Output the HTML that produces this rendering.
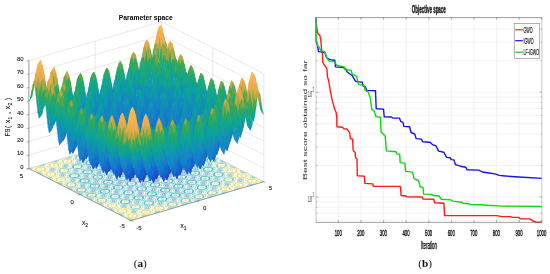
<!DOCTYPE html>
<html><head><meta charset="utf-8"><title>Figure</title>
<style>html,body{margin:0;padding:0;background:#fff}svg{display:block}.c1{fill:#3230a3;stroke:#3230a3}.c2{fill:#3035a9;stroke:#3035a9}.c3{fill:#2e3aaf;stroke:#2e3aaf}.c4{fill:#2c3fb5;stroke:#2c3fb5}.c5{fill:#2a44bb;stroke:#2a44bb}.c6{fill:#2749c0;stroke:#2749c0}.c7{fill:#234dc3;stroke:#234dc3}.c8{fill:#1f51c6;stroke:#1f51c6}.c9{fill:#1a56c9;stroke:#1a56c9}.c10{fill:#165acc;stroke:#165acc}.c11{fill:#125ecf;stroke:#125ecf}.c12{fill:#1061d0;stroke:#1061d0}.c13{fill:#1163d0;stroke:#1163d0}.c14{fill:#1165d0;stroke:#1165d0}.c15{fill:#1267d0;stroke:#1267d0}.c16{fill:#1269d0;stroke:#1269d0}.c17{fill:#136bd0;stroke:#136bd0}.c18{fill:#136dd0;stroke:#136dd0}.c19{fill:#146fd0;stroke:#146fd0}.c20{fill:#1472d0;stroke:#1472d0}.c21{fill:#1574cf;stroke:#1574cf}.c22{fill:#1677ce;stroke:#1677ce}.c23{fill:#1679ce;stroke:#1679ce}.c24{fill:#177ccd;stroke:#177ccd}.c25{fill:#187ecc;stroke:#187ecc}.c26{fill:#1881cb;stroke:#1881cb}.c27{fill:#1784c8;stroke:#1784c8}.c28{fill:#1686c4;stroke:#1686c4}.c29{fill:#1489c0;stroke:#1489c0}.c30{fill:#138cbd;stroke:#138cbd}.c31{fill:#128fb9;stroke:#128fb9}.c32{fill:#1192b5;stroke:#1192b5}.c33{fill:#1096b0;stroke:#1096b0}.c34{fill:#0f99ab;stroke:#0f99ab}.c35{fill:#0d9ca5;stroke:#0d9ca5}.c36{fill:#0ca0a0;stroke:#0ca0a0}.c37{fill:#0ea29a;stroke:#0ea29a}.c38{fill:#11a393;stroke:#11a393}.c39{fill:#13a58c;stroke:#13a58c}.c40{fill:#16a786;stroke:#16a786}.c41{fill:#19a87f;stroke:#19a87f}.c42{fill:#1fa875;stroke:#1fa875}.c43{fill:#25a86b;stroke:#25a86b}.c44{fill:#2ba860;stroke:#2ba860}.c45{fill:#33a857;stroke:#33a857}.c46{fill:#44a851;stroke:#44a851}.c47{fill:#55a84c;stroke:#55a84c}.c48{fill:#6fa847;stroke:#6fa847}.c49{fill:#97a843;stroke:#97a843}.c50{fill:#aea843;stroke:#aea843}.c51{fill:#c0a844;stroke:#c0a844}.c52{fill:#cda846;stroke:#cda846}.c53{fill:#d9a849;stroke:#d9a849}.c54{fill:#e3a94b;stroke:#e3a94b}.c55{fill:#e9ac4f;stroke:#e9ac4f}.c56{fill:#f0ae52;stroke:#f0ae52}.c57{fill:#f1af52;stroke:#f1af52}.c58{fill:#f2b151;stroke:#f2b151}.c59{fill:#f3b251;stroke:#f3b251}.c60{fill:#f4b451;stroke:#f4b451}.c61{fill:#f6b551;stroke:#f6b551}.c62{fill:#f7b650;stroke:#f7b650}.c63{fill:#f8b850;stroke:#f8b850}.c64{fill:#f7bc4d;stroke:#f7bc4d}.c65{fill:#f5c14a;stroke:#f5c14a}.c66{fill:#f4c647;stroke:#f4c647}.c67{fill:#f2cb45;stroke:#f2cb45}</style></head>
<body><svg width="550" height="274" viewBox="0 0 550 274">
<rect width="550" height="274" fill="#fff"/>
<g id="left">
<g><line x1="28.9" y1="168.5" x2="161.7" y2="129.7" stroke="#d2d2d2" stroke-width="0.5"/><line x1="161.7" y1="129.7" x2="263.8" y2="181.7" stroke="#d2d2d2" stroke-width="0.5"/><line x1="28.9" y1="155.0" x2="161.7" y2="116.2" stroke="#d2d2d2" stroke-width="0.5"/><line x1="161.7" y1="116.2" x2="263.8" y2="168.2" stroke="#d2d2d2" stroke-width="0.5"/><line x1="28.9" y1="141.5" x2="161.7" y2="102.7" stroke="#d2d2d2" stroke-width="0.5"/><line x1="161.7" y1="102.7" x2="263.8" y2="154.7" stroke="#d2d2d2" stroke-width="0.5"/><line x1="28.9" y1="128.0" x2="161.7" y2="89.2" stroke="#d2d2d2" stroke-width="0.5"/><line x1="161.7" y1="89.2" x2="263.8" y2="141.2" stroke="#d2d2d2" stroke-width="0.5"/><line x1="28.9" y1="114.5" x2="161.7" y2="75.7" stroke="#d2d2d2" stroke-width="0.5"/><line x1="161.7" y1="75.7" x2="263.8" y2="127.7" stroke="#d2d2d2" stroke-width="0.5"/><line x1="28.9" y1="101.0" x2="161.7" y2="62.2" stroke="#d2d2d2" stroke-width="0.5"/><line x1="161.7" y1="62.2" x2="263.8" y2="114.2" stroke="#d2d2d2" stroke-width="0.5"/><line x1="28.9" y1="87.5" x2="161.7" y2="48.7" stroke="#d2d2d2" stroke-width="0.5"/><line x1="161.7" y1="48.7" x2="263.8" y2="100.7" stroke="#d2d2d2" stroke-width="0.5"/><line x1="28.9" y1="74.0" x2="161.7" y2="35.2" stroke="#d2d2d2" stroke-width="0.5"/><line x1="161.7" y1="35.2" x2="263.8" y2="87.2" stroke="#d2d2d2" stroke-width="0.5"/><line x1="28.9" y1="60.5" x2="161.7" y2="21.7" stroke="#d2d2d2" stroke-width="0.5"/><line x1="161.7" y1="21.7" x2="263.8" y2="73.7" stroke="#d2d2d2" stroke-width="0.5"/><line x1="28.9" y1="168.5" x2="28.9" y2="60.5" stroke="#d2d2d2" stroke-width="0.5"/><line x1="28.9" y1="168.5" x2="131.0" y2="220.5" stroke="#d2d2d2" stroke-width="0.5"/><line x1="95.3" y1="149.1" x2="95.3" y2="41.1" stroke="#d2d2d2" stroke-width="0.5"/><line x1="95.3" y1="149.1" x2="197.4" y2="201.1" stroke="#d2d2d2" stroke-width="0.5"/><line x1="161.7" y1="129.7" x2="161.7" y2="21.7" stroke="#d2d2d2" stroke-width="0.5"/><line x1="161.7" y1="129.7" x2="263.8" y2="181.7" stroke="#d2d2d2" stroke-width="0.5"/><line x1="263.8" y1="181.7" x2="263.8" y2="73.7" stroke="#d2d2d2" stroke-width="0.5"/><line x1="131.0" y1="220.5" x2="263.8" y2="181.7" stroke="#d2d2d2" stroke-width="0.5"/><line x1="212.8" y1="155.7" x2="212.8" y2="47.7" stroke="#d2d2d2" stroke-width="0.5"/><line x1="80.0" y1="194.5" x2="212.8" y2="155.7" stroke="#d2d2d2" stroke-width="0.5"/><line x1="161.7" y1="129.7" x2="161.7" y2="21.7" stroke="#d2d2d2" stroke-width="0.5"/><line x1="28.9" y1="168.5" x2="161.7" y2="129.7" stroke="#d2d2d2" stroke-width="0.5"/></g>
<clipPath id="fl"><rect x="-5" y="-5" width="10" height="10"/></clipPath>
<g fill="none" transform="matrix(13.280,-3.880,-10.210,-5.200,146.35,175.10)" clip-path="url(#fl)"><defs><path id="rA" d="M0.310 0.000 0.296 0.048 0.254 0.119 0.192 0.192 0.119 0.254 0.048 0.296 0.000 0.310 -0.048 0.296 -0.119 0.254 -0.192 0.192 -0.254 0.119 -0.296 0.048 -0.310 0.000 -0.296 -0.048 -0.254 -0.119 -0.192 -0.192 -0.119 -0.254 -0.048 -0.296 -0.000 -0.310 0.048 -0.296 0.119 -0.254 0.192 -0.192 0.254 -0.119 0.296 -0.048z"/><path id="rN" d="M0.500 0.000 0.471 0.048 0.389 0.150 0.274 0.274 0.150 0.389 0.048 0.471 0.000 0.500 -0.048 0.471 -0.150 0.389 -0.274 0.274 -0.389 0.150 -0.471 0.048 -0.500 0.000 -0.471 -0.048 -0.389 -0.150 -0.274 -0.274 -0.150 -0.389 -0.048 -0.471 -0.000 -0.500 0.048 -0.471 0.150 -0.389 0.274 -0.274 0.389 -0.150 0.471 -0.048z"/><path id="rB" d="M0.220 0.000 0.210 0.034 0.180 0.085 0.136 0.136 0.085 0.180 0.034 0.210 0.000 0.220 -0.034 0.210 -0.085 0.180 -0.136 0.136 -0.180 0.085 -0.210 0.034 -0.220 0.000 -0.210 -0.034 -0.180 -0.085 -0.136 -0.136 -0.085 -0.180 -0.034 -0.210 -0.000 -0.220 0.034 -0.210 0.085 -0.180 0.136 -0.136 0.180 -0.085 0.210 -0.034z"/><path id="rC" d="M0.090 0.000 0.077 0.042 0.042 0.077 0.000 0.090 -0.042 0.077 -0.077 0.042 -0.090 0.000 -0.077 -0.042 -0.042 -0.077 -0.000 -0.090 0.042 -0.077 0.077 -0.042z"/></defs><use href="#rA" x="-4.5" y="-4.5" stroke="#ecd86b" stroke-width="0.105"/><use href="#rN" x="-4.5" y="-4.5" stroke="#ecd86b" stroke-width="0.04"/><use href="#rC" x="-4.5" y="-4.5" stroke="#efdb63" stroke-width="0.042"/><use href="#rA" x="-4.5" y="-3.5" stroke="#e7d876" stroke-width="0.105"/><use href="#rN" x="-4.5" y="-3.5" stroke="#e7d876" stroke-width="0.04"/><use href="#rC" x="-4.5" y="-3.5" stroke="#edd96a" stroke-width="0.042"/><use href="#rA" x="-4.5" y="-2.5" stroke="#e2d87f" stroke-width="0.105"/><use href="#rN" x="-4.5" y="-2.5" stroke="#e2d87f" stroke-width="0.04"/><use href="#rC" x="-4.5" y="-2.5" stroke="#e9d871" stroke-width="0.042"/><use href="#rA" x="-4.5" y="-1.5" stroke="#9bcd9e" stroke-width="0.105"/><use href="#rN" x="-4.5" y="-1.5" stroke="#9bcd9e" stroke-width="0.04"/><use href="#rC" x="-4.5" y="-1.5" stroke="#e6d878" stroke-width="0.042"/><use href="#rA" x="-4.5" y="-0.5" stroke="#79c7a9" stroke-width="0.105"/><use href="#rN" x="-4.5" y="-0.5" stroke="#79c7a9" stroke-width="0.04"/><use href="#rC" x="-4.5" y="-0.5" stroke="#e5d87b" stroke-width="0.042"/><use href="#rA" x="-4.5" y="0.5" stroke="#79c7a9" stroke-width="0.105"/><use href="#rN" x="-4.5" y="0.5" stroke="#79c7a9" stroke-width="0.04"/><use href="#rC" x="-4.5" y="0.5" stroke="#e5d87b" stroke-width="0.042"/><use href="#rA" x="-4.5" y="1.5" stroke="#9bcd9e" stroke-width="0.105"/><use href="#rN" x="-4.5" y="1.5" stroke="#9bcd9e" stroke-width="0.04"/><use href="#rC" x="-4.5" y="1.5" stroke="#e6d878" stroke-width="0.042"/><use href="#rA" x="-4.5" y="2.5" stroke="#e2d87f" stroke-width="0.105"/><use href="#rN" x="-4.5" y="2.5" stroke="#e2d87f" stroke-width="0.04"/><use href="#rC" x="-4.5" y="2.5" stroke="#e9d871" stroke-width="0.042"/><use href="#rA" x="-4.5" y="3.5" stroke="#e7d876" stroke-width="0.105"/><use href="#rN" x="-4.5" y="3.5" stroke="#e7d876" stroke-width="0.04"/><use href="#rC" x="-4.5" y="3.5" stroke="#edd96a" stroke-width="0.042"/><use href="#rA" x="-4.5" y="4.5" stroke="#ecd86b" stroke-width="0.105"/><use href="#rN" x="-4.5" y="4.5" stroke="#ecd86b" stroke-width="0.04"/><use href="#rC" x="-4.5" y="4.5" stroke="#efdb63" stroke-width="0.042"/><use href="#rA" x="-3.5" y="-4.5" stroke="#e7d876" stroke-width="0.105"/><use href="#rN" x="-3.5" y="-4.5" stroke="#e7d876" stroke-width="0.04"/><use href="#rC" x="-3.5" y="-4.5" stroke="#edd96a" stroke-width="0.042"/><use href="#rA" x="-3.5" y="-3.5" stroke="#9bcd9e" stroke-width="0.105"/><use href="#rN" x="-3.5" y="-3.5" stroke="#9bcd9e" stroke-width="0.04"/><use href="#rC" x="-3.5" y="-3.5" stroke="#e6d878" stroke-width="0.042"/><use href="#rA" x="-3.5" y="-2.5" stroke="#5cc0b3" stroke-width="0.105"/><use href="#rN" x="-3.5" y="-2.5" stroke="#5cc0b3" stroke-width="0.04"/><use href="#rC" x="-3.5" y="-2.5" stroke="#d7d685" stroke-width="0.042"/><use href="#rA" x="-3.5" y="-1.5" stroke="#4dbbb9" stroke-width="0.105"/><use href="#rN" x="-3.5" y="-1.5" stroke="#4dbbb9" stroke-width="0.04"/><use href="#rC" x="-3.5" y="-1.5" stroke="#8acaa3" stroke-width="0.042"/><use href="#rA" x="-3.5" y="-0.5" stroke="#4dbabb" stroke-width="0.105"/><use href="#rN" x="-3.5" y="-0.5" stroke="#4dbabb" stroke-width="0.04"/><use href="#rC" x="-3.5" y="-0.5" stroke="#6dc5ad" stroke-width="0.042"/><use href="#rA" x="-3.5" y="0.5" stroke="#4dbabb" stroke-width="0.105"/><use href="#rN" x="-3.5" y="0.5" stroke="#4dbabb" stroke-width="0.04"/><use href="#rC" x="-3.5" y="0.5" stroke="#6dc5ad" stroke-width="0.042"/><use href="#rA" x="-3.5" y="1.5" stroke="#4dbbb9" stroke-width="0.105"/><use href="#rN" x="-3.5" y="1.5" stroke="#4dbbb9" stroke-width="0.04"/><use href="#rC" x="-3.5" y="1.5" stroke="#8acaa3" stroke-width="0.042"/><use href="#rA" x="-3.5" y="2.5" stroke="#5cc0b3" stroke-width="0.105"/><use href="#rN" x="-3.5" y="2.5" stroke="#5cc0b3" stroke-width="0.04"/><use href="#rC" x="-3.5" y="2.5" stroke="#d7d685" stroke-width="0.042"/><use href="#rA" x="-3.5" y="3.5" stroke="#9bcd9e" stroke-width="0.105"/><use href="#rN" x="-3.5" y="3.5" stroke="#9bcd9e" stroke-width="0.04"/><use href="#rC" x="-3.5" y="3.5" stroke="#e6d878" stroke-width="0.042"/><use href="#rA" x="-3.5" y="4.5" stroke="#e7d876" stroke-width="0.105"/><use href="#rN" x="-3.5" y="4.5" stroke="#e7d876" stroke-width="0.04"/><use href="#rC" x="-3.5" y="4.5" stroke="#edd96a" stroke-width="0.042"/><use href="#rA" x="-2.5" y="-4.5" stroke="#e2d87f" stroke-width="0.105"/><use href="#rN" x="-2.5" y="-4.5" stroke="#e2d87f" stroke-width="0.04"/><use href="#rC" x="-2.5" y="-4.5" stroke="#e9d871" stroke-width="0.042"/><use href="#rA" x="-2.5" y="-3.5" stroke="#5cc0b3" stroke-width="0.105"/><use href="#rN" x="-2.5" y="-3.5" stroke="#5cc0b3" stroke-width="0.04"/><use href="#rC" x="-2.5" y="-3.5" stroke="#d7d685" stroke-width="0.042"/><use href="#rA" x="-2.5" y="-2.5" stroke="#4dbabb" stroke-width="0.105"/><use href="#rN" x="-2.5" y="-2.5" stroke="#4dbabb" stroke-width="0.04"/><use href="#rC" x="-2.5" y="-2.5" stroke="#6dc5ad" stroke-width="0.042"/><use href="#rA" x="-2.5" y="-1.5" stroke="#4bb8bf" stroke-width="0.105"/><use href="#rN" x="-2.5" y="-1.5" stroke="#4bb8bf" stroke-width="0.04"/><use href="#rC" x="-2.5" y="-1.5" stroke="#56beb5" stroke-width="0.042"/><use href="#rA" x="-2.5" y="-0.5" stroke="#4ab7c0" stroke-width="0.105"/><use href="#rN" x="-2.5" y="-0.5" stroke="#4ab7c0" stroke-width="0.04"/><use href="#rC" x="-2.5" y="-0.5" stroke="#4ebcb8" stroke-width="0.042"/><use href="#rA" x="-2.5" y="0.5" stroke="#4ab7c0" stroke-width="0.105"/><use href="#rN" x="-2.5" y="0.5" stroke="#4ab7c0" stroke-width="0.04"/><use href="#rC" x="-2.5" y="0.5" stroke="#4ebcb8" stroke-width="0.042"/><use href="#rA" x="-2.5" y="1.5" stroke="#4bb8bf" stroke-width="0.105"/><use href="#rN" x="-2.5" y="1.5" stroke="#4bb8bf" stroke-width="0.04"/><use href="#rC" x="-2.5" y="1.5" stroke="#56beb5" stroke-width="0.042"/><use href="#rA" x="-2.5" y="2.5" stroke="#4dbabb" stroke-width="0.105"/><use href="#rN" x="-2.5" y="2.5" stroke="#4dbabb" stroke-width="0.04"/><use href="#rC" x="-2.5" y="2.5" stroke="#6dc5ad" stroke-width="0.042"/><use href="#rA" x="-2.5" y="3.5" stroke="#5cc0b3" stroke-width="0.105"/><use href="#rN" x="-2.5" y="3.5" stroke="#5cc0b3" stroke-width="0.04"/><use href="#rC" x="-2.5" y="3.5" stroke="#d7d685" stroke-width="0.042"/><use href="#rA" x="-2.5" y="4.5" stroke="#e2d87f" stroke-width="0.105"/><use href="#rN" x="-2.5" y="4.5" stroke="#e2d87f" stroke-width="0.04"/><use href="#rC" x="-2.5" y="4.5" stroke="#e9d871" stroke-width="0.042"/><use href="#rA" x="-1.5" y="-4.5" stroke="#9bcd9e" stroke-width="0.105"/><use href="#rN" x="-1.5" y="-4.5" stroke="#9bcd9e" stroke-width="0.04"/><use href="#rC" x="-1.5" y="-4.5" stroke="#e6d878" stroke-width="0.042"/><use href="#rA" x="-1.5" y="-3.5" stroke="#4dbbb9" stroke-width="0.105"/><use href="#rN" x="-1.5" y="-3.5" stroke="#4dbbb9" stroke-width="0.04"/><use href="#rC" x="-1.5" y="-3.5" stroke="#8acaa3" stroke-width="0.042"/><use href="#rA" x="-1.5" y="-2.5" stroke="#4bb8bf" stroke-width="0.105"/><use href="#rN" x="-1.5" y="-2.5" stroke="#4bb8bf" stroke-width="0.04"/><use href="#rC" x="-1.5" y="-2.5" stroke="#56beb5" stroke-width="0.042"/><use href="#rA" x="-1.5" y="-1.5" stroke="#4ab6c2" stroke-width="0.105"/><use href="#rN" x="-1.5" y="-1.5" stroke="#4ab6c2" stroke-width="0.04"/><use href="#rC" x="-1.5" y="-1.5" stroke="#4dbbba" stroke-width="0.042"/><use href="#rA" x="-1.5" y="-0.5" stroke="#49b5c4" stroke-width="0.105"/><use href="#rN" x="-1.5" y="-0.5" stroke="#49b5c4" stroke-width="0.04"/><use href="#rC" x="-1.5" y="-0.5" stroke="#4cbabc" stroke-width="0.042"/><use href="#rA" x="-1.5" y="0.5" stroke="#49b5c4" stroke-width="0.105"/><use href="#rN" x="-1.5" y="0.5" stroke="#49b5c4" stroke-width="0.04"/><use href="#rC" x="-1.5" y="0.5" stroke="#4cbabc" stroke-width="0.042"/><use href="#rA" x="-1.5" y="1.5" stroke="#4ab6c2" stroke-width="0.105"/><use href="#rN" x="-1.5" y="1.5" stroke="#4ab6c2" stroke-width="0.04"/><use href="#rC" x="-1.5" y="1.5" stroke="#4dbbba" stroke-width="0.042"/><use href="#rA" x="-1.5" y="2.5" stroke="#4bb8bf" stroke-width="0.105"/><use href="#rN" x="-1.5" y="2.5" stroke="#4bb8bf" stroke-width="0.04"/><use href="#rC" x="-1.5" y="2.5" stroke="#56beb5" stroke-width="0.042"/><use href="#rA" x="-1.5" y="3.5" stroke="#4dbbb9" stroke-width="0.105"/><use href="#rN" x="-1.5" y="3.5" stroke="#4dbbb9" stroke-width="0.04"/><use href="#rC" x="-1.5" y="3.5" stroke="#8acaa3" stroke-width="0.042"/><use href="#rA" x="-1.5" y="4.5" stroke="#9bcd9e" stroke-width="0.105"/><use href="#rN" x="-1.5" y="4.5" stroke="#9bcd9e" stroke-width="0.04"/><use href="#rC" x="-1.5" y="4.5" stroke="#e6d878" stroke-width="0.042"/><use href="#rA" x="-0.5" y="-4.5" stroke="#79c7a9" stroke-width="0.105"/><use href="#rN" x="-0.5" y="-4.5" stroke="#79c7a9" stroke-width="0.04"/><use href="#rC" x="-0.5" y="-4.5" stroke="#e5d87b" stroke-width="0.042"/><use href="#rA" x="-0.5" y="-3.5" stroke="#4dbabb" stroke-width="0.105"/><use href="#rN" x="-0.5" y="-3.5" stroke="#4dbabb" stroke-width="0.04"/><use href="#rC" x="-0.5" y="-3.5" stroke="#6dc5ad" stroke-width="0.042"/><use href="#rA" x="-0.5" y="-2.5" stroke="#4ab7c0" stroke-width="0.105"/><use href="#rN" x="-0.5" y="-2.5" stroke="#4ab7c0" stroke-width="0.04"/><use href="#rC" x="-0.5" y="-2.5" stroke="#4ebcb8" stroke-width="0.042"/><use href="#rA" x="-0.5" y="-1.5" stroke="#49b5c4" stroke-width="0.105"/><use href="#rN" x="-0.5" y="-1.5" stroke="#49b5c4" stroke-width="0.04"/><use href="#rC" x="-0.5" y="-1.5" stroke="#4cbabc" stroke-width="0.042"/><use href="#rA" x="-0.5" y="-0.5" stroke="#48b4c6" stroke-width="0.105"/><use href="#rN" x="-0.5" y="-0.5" stroke="#48b4c6" stroke-width="0.04"/><use href="#rC" x="-0.5" y="-0.5" stroke="#4cb9be" stroke-width="0.042"/><use href="#rA" x="-0.5" y="0.5" stroke="#48b4c6" stroke-width="0.105"/><use href="#rN" x="-0.5" y="0.5" stroke="#48b4c6" stroke-width="0.04"/><use href="#rC" x="-0.5" y="0.5" stroke="#4cb9be" stroke-width="0.042"/><use href="#rA" x="-0.5" y="1.5" stroke="#49b5c4" stroke-width="0.105"/><use href="#rN" x="-0.5" y="1.5" stroke="#49b5c4" stroke-width="0.04"/><use href="#rC" x="-0.5" y="1.5" stroke="#4cbabc" stroke-width="0.042"/><use href="#rA" x="-0.5" y="2.5" stroke="#4ab7c0" stroke-width="0.105"/><use href="#rN" x="-0.5" y="2.5" stroke="#4ab7c0" stroke-width="0.04"/><use href="#rC" x="-0.5" y="2.5" stroke="#4ebcb8" stroke-width="0.042"/><use href="#rA" x="-0.5" y="3.5" stroke="#4dbabb" stroke-width="0.105"/><use href="#rN" x="-0.5" y="3.5" stroke="#4dbabb" stroke-width="0.04"/><use href="#rC" x="-0.5" y="3.5" stroke="#6dc5ad" stroke-width="0.042"/><use href="#rA" x="-0.5" y="4.5" stroke="#79c7a9" stroke-width="0.105"/><use href="#rN" x="-0.5" y="4.5" stroke="#79c7a9" stroke-width="0.04"/><use href="#rC" x="-0.5" y="4.5" stroke="#e5d87b" stroke-width="0.042"/><use href="#rA" x="0.5" y="-4.5" stroke="#79c7a9" stroke-width="0.105"/><use href="#rN" x="0.5" y="-4.5" stroke="#79c7a9" stroke-width="0.04"/><use href="#rC" x="0.5" y="-4.5" stroke="#e5d87b" stroke-width="0.042"/><use href="#rA" x="0.5" y="-3.5" stroke="#4dbabb" stroke-width="0.105"/><use href="#rN" x="0.5" y="-3.5" stroke="#4dbabb" stroke-width="0.04"/><use href="#rC" x="0.5" y="-3.5" stroke="#6dc5ad" stroke-width="0.042"/><use href="#rA" x="0.5" y="-2.5" stroke="#4ab7c0" stroke-width="0.105"/><use href="#rN" x="0.5" y="-2.5" stroke="#4ab7c0" stroke-width="0.04"/><use href="#rC" x="0.5" y="-2.5" stroke="#4ebcb8" stroke-width="0.042"/><use href="#rA" x="0.5" y="-1.5" stroke="#49b5c4" stroke-width="0.105"/><use href="#rN" x="0.5" y="-1.5" stroke="#49b5c4" stroke-width="0.04"/><use href="#rC" x="0.5" y="-1.5" stroke="#4cbabc" stroke-width="0.042"/><use href="#rA" x="0.5" y="-0.5" stroke="#48b4c6" stroke-width="0.105"/><use href="#rN" x="0.5" y="-0.5" stroke="#48b4c6" stroke-width="0.04"/><use href="#rC" x="0.5" y="-0.5" stroke="#4cb9be" stroke-width="0.042"/><use href="#rA" x="0.5" y="0.5" stroke="#48b4c6" stroke-width="0.105"/><use href="#rN" x="0.5" y="0.5" stroke="#48b4c6" stroke-width="0.04"/><use href="#rC" x="0.5" y="0.5" stroke="#4cb9be" stroke-width="0.042"/><use href="#rA" x="0.5" y="1.5" stroke="#49b5c4" stroke-width="0.105"/><use href="#rN" x="0.5" y="1.5" stroke="#49b5c4" stroke-width="0.04"/><use href="#rC" x="0.5" y="1.5" stroke="#4cbabc" stroke-width="0.042"/><use href="#rA" x="0.5" y="2.5" stroke="#4ab7c0" stroke-width="0.105"/><use href="#rN" x="0.5" y="2.5" stroke="#4ab7c0" stroke-width="0.04"/><use href="#rC" x="0.5" y="2.5" stroke="#4ebcb8" stroke-width="0.042"/><use href="#rA" x="0.5" y="3.5" stroke="#4dbabb" stroke-width="0.105"/><use href="#rN" x="0.5" y="3.5" stroke="#4dbabb" stroke-width="0.04"/><use href="#rC" x="0.5" y="3.5" stroke="#6dc5ad" stroke-width="0.042"/><use href="#rA" x="0.5" y="4.5" stroke="#79c7a9" stroke-width="0.105"/><use href="#rN" x="0.5" y="4.5" stroke="#79c7a9" stroke-width="0.04"/><use href="#rC" x="0.5" y="4.5" stroke="#e5d87b" stroke-width="0.042"/><use href="#rA" x="1.5" y="-4.5" stroke="#9bcd9e" stroke-width="0.105"/><use href="#rN" x="1.5" y="-4.5" stroke="#9bcd9e" stroke-width="0.04"/><use href="#rC" x="1.5" y="-4.5" stroke="#e6d878" stroke-width="0.042"/><use href="#rA" x="1.5" y="-3.5" stroke="#4dbbb9" stroke-width="0.105"/><use href="#rN" x="1.5" y="-3.5" stroke="#4dbbb9" stroke-width="0.04"/><use href="#rC" x="1.5" y="-3.5" stroke="#8acaa3" stroke-width="0.042"/><use href="#rA" x="1.5" y="-2.5" stroke="#4bb8bf" stroke-width="0.105"/><use href="#rN" x="1.5" y="-2.5" stroke="#4bb8bf" stroke-width="0.04"/><use href="#rC" x="1.5" y="-2.5" stroke="#56beb5" stroke-width="0.042"/><use href="#rA" x="1.5" y="-1.5" stroke="#4ab6c2" stroke-width="0.105"/><use href="#rN" x="1.5" y="-1.5" stroke="#4ab6c2" stroke-width="0.04"/><use href="#rC" x="1.5" y="-1.5" stroke="#4dbbba" stroke-width="0.042"/><use href="#rA" x="1.5" y="-0.5" stroke="#49b5c4" stroke-width="0.105"/><use href="#rN" x="1.5" y="-0.5" stroke="#49b5c4" stroke-width="0.04"/><use href="#rC" x="1.5" y="-0.5" stroke="#4cbabc" stroke-width="0.042"/><use href="#rA" x="1.5" y="0.5" stroke="#49b5c4" stroke-width="0.105"/><use href="#rN" x="1.5" y="0.5" stroke="#49b5c4" stroke-width="0.04"/><use href="#rC" x="1.5" y="0.5" stroke="#4cbabc" stroke-width="0.042"/><use href="#rA" x="1.5" y="1.5" stroke="#4ab6c2" stroke-width="0.105"/><use href="#rN" x="1.5" y="1.5" stroke="#4ab6c2" stroke-width="0.04"/><use href="#rC" x="1.5" y="1.5" stroke="#4dbbba" stroke-width="0.042"/><use href="#rA" x="1.5" y="2.5" stroke="#4bb8bf" stroke-width="0.105"/><use href="#rN" x="1.5" y="2.5" stroke="#4bb8bf" stroke-width="0.04"/><use href="#rC" x="1.5" y="2.5" stroke="#56beb5" stroke-width="0.042"/><use href="#rA" x="1.5" y="3.5" stroke="#4dbbb9" stroke-width="0.105"/><use href="#rN" x="1.5" y="3.5" stroke="#4dbbb9" stroke-width="0.04"/><use href="#rC" x="1.5" y="3.5" stroke="#8acaa3" stroke-width="0.042"/><use href="#rA" x="1.5" y="4.5" stroke="#9bcd9e" stroke-width="0.105"/><use href="#rN" x="1.5" y="4.5" stroke="#9bcd9e" stroke-width="0.04"/><use href="#rC" x="1.5" y="4.5" stroke="#e6d878" stroke-width="0.042"/><use href="#rA" x="2.5" y="-4.5" stroke="#e2d87f" stroke-width="0.105"/><use href="#rN" x="2.5" y="-4.5" stroke="#e2d87f" stroke-width="0.04"/><use href="#rC" x="2.5" y="-4.5" stroke="#e9d871" stroke-width="0.042"/><use href="#rA" x="2.5" y="-3.5" stroke="#5cc0b3" stroke-width="0.105"/><use href="#rN" x="2.5" y="-3.5" stroke="#5cc0b3" stroke-width="0.04"/><use href="#rC" x="2.5" y="-3.5" stroke="#d7d685" stroke-width="0.042"/><use href="#rA" x="2.5" y="-2.5" stroke="#4dbabb" stroke-width="0.105"/><use href="#rN" x="2.5" y="-2.5" stroke="#4dbabb" stroke-width="0.04"/><use href="#rC" x="2.5" y="-2.5" stroke="#6dc5ad" stroke-width="0.042"/><use href="#rA" x="2.5" y="-1.5" stroke="#4bb8bf" stroke-width="0.105"/><use href="#rN" x="2.5" y="-1.5" stroke="#4bb8bf" stroke-width="0.04"/><use href="#rC" x="2.5" y="-1.5" stroke="#56beb5" stroke-width="0.042"/><use href="#rA" x="2.5" y="-0.5" stroke="#4ab7c0" stroke-width="0.105"/><use href="#rN" x="2.5" y="-0.5" stroke="#4ab7c0" stroke-width="0.04"/><use href="#rC" x="2.5" y="-0.5" stroke="#4ebcb8" stroke-width="0.042"/><use href="#rA" x="2.5" y="0.5" stroke="#4ab7c0" stroke-width="0.105"/><use href="#rN" x="2.5" y="0.5" stroke="#4ab7c0" stroke-width="0.04"/><use href="#rC" x="2.5" y="0.5" stroke="#4ebcb8" stroke-width="0.042"/><use href="#rA" x="2.5" y="1.5" stroke="#4bb8bf" stroke-width="0.105"/><use href="#rN" x="2.5" y="1.5" stroke="#4bb8bf" stroke-width="0.04"/><use href="#rC" x="2.5" y="1.5" stroke="#56beb5" stroke-width="0.042"/><use href="#rA" x="2.5" y="2.5" stroke="#4dbabb" stroke-width="0.105"/><use href="#rN" x="2.5" y="2.5" stroke="#4dbabb" stroke-width="0.04"/><use href="#rC" x="2.5" y="2.5" stroke="#6dc5ad" stroke-width="0.042"/><use href="#rA" x="2.5" y="3.5" stroke="#5cc0b3" stroke-width="0.105"/><use href="#rN" x="2.5" y="3.5" stroke="#5cc0b3" stroke-width="0.04"/><use href="#rC" x="2.5" y="3.5" stroke="#d7d685" stroke-width="0.042"/><use href="#rA" x="2.5" y="4.5" stroke="#e2d87f" stroke-width="0.105"/><use href="#rN" x="2.5" y="4.5" stroke="#e2d87f" stroke-width="0.04"/><use href="#rC" x="2.5" y="4.5" stroke="#e9d871" stroke-width="0.042"/><use href="#rA" x="3.5" y="-4.5" stroke="#e7d876" stroke-width="0.105"/><use href="#rN" x="3.5" y="-4.5" stroke="#e7d876" stroke-width="0.04"/><use href="#rC" x="3.5" y="-4.5" stroke="#edd96a" stroke-width="0.042"/><use href="#rA" x="3.5" y="-3.5" stroke="#9bcd9e" stroke-width="0.105"/><use href="#rN" x="3.5" y="-3.5" stroke="#9bcd9e" stroke-width="0.04"/><use href="#rC" x="3.5" y="-3.5" stroke="#e6d878" stroke-width="0.042"/><use href="#rA" x="3.5" y="-2.5" stroke="#5cc0b3" stroke-width="0.105"/><use href="#rN" x="3.5" y="-2.5" stroke="#5cc0b3" stroke-width="0.04"/><use href="#rC" x="3.5" y="-2.5" stroke="#d7d685" stroke-width="0.042"/><use href="#rA" x="3.5" y="-1.5" stroke="#4dbbb9" stroke-width="0.105"/><use href="#rN" x="3.5" y="-1.5" stroke="#4dbbb9" stroke-width="0.04"/><use href="#rC" x="3.5" y="-1.5" stroke="#8acaa3" stroke-width="0.042"/><use href="#rA" x="3.5" y="-0.5" stroke="#4dbabb" stroke-width="0.105"/><use href="#rN" x="3.5" y="-0.5" stroke="#4dbabb" stroke-width="0.04"/><use href="#rC" x="3.5" y="-0.5" stroke="#6dc5ad" stroke-width="0.042"/><use href="#rA" x="3.5" y="0.5" stroke="#4dbabb" stroke-width="0.105"/><use href="#rN" x="3.5" y="0.5" stroke="#4dbabb" stroke-width="0.04"/><use href="#rC" x="3.5" y="0.5" stroke="#6dc5ad" stroke-width="0.042"/><use href="#rA" x="3.5" y="1.5" stroke="#4dbbb9" stroke-width="0.105"/><use href="#rN" x="3.5" y="1.5" stroke="#4dbbb9" stroke-width="0.04"/><use href="#rC" x="3.5" y="1.5" stroke="#8acaa3" stroke-width="0.042"/><use href="#rA" x="3.5" y="2.5" stroke="#5cc0b3" stroke-width="0.105"/><use href="#rN" x="3.5" y="2.5" stroke="#5cc0b3" stroke-width="0.04"/><use href="#rC" x="3.5" y="2.5" stroke="#d7d685" stroke-width="0.042"/><use href="#rA" x="3.5" y="3.5" stroke="#9bcd9e" stroke-width="0.105"/><use href="#rN" x="3.5" y="3.5" stroke="#9bcd9e" stroke-width="0.04"/><use href="#rC" x="3.5" y="3.5" stroke="#e6d878" stroke-width="0.042"/><use href="#rA" x="3.5" y="4.5" stroke="#e7d876" stroke-width="0.105"/><use href="#rN" x="3.5" y="4.5" stroke="#e7d876" stroke-width="0.04"/><use href="#rC" x="3.5" y="4.5" stroke="#edd96a" stroke-width="0.042"/><use href="#rA" x="4.5" y="-4.5" stroke="#ecd86b" stroke-width="0.105"/><use href="#rN" x="4.5" y="-4.5" stroke="#ecd86b" stroke-width="0.04"/><use href="#rC" x="4.5" y="-4.5" stroke="#efdb63" stroke-width="0.042"/><use href="#rA" x="4.5" y="-3.5" stroke="#e7d876" stroke-width="0.105"/><use href="#rN" x="4.5" y="-3.5" stroke="#e7d876" stroke-width="0.04"/><use href="#rC" x="4.5" y="-3.5" stroke="#edd96a" stroke-width="0.042"/><use href="#rA" x="4.5" y="-2.5" stroke="#e2d87f" stroke-width="0.105"/><use href="#rN" x="4.5" y="-2.5" stroke="#e2d87f" stroke-width="0.04"/><use href="#rC" x="4.5" y="-2.5" stroke="#e9d871" stroke-width="0.042"/><use href="#rA" x="4.5" y="-1.5" stroke="#9bcd9e" stroke-width="0.105"/><use href="#rN" x="4.5" y="-1.5" stroke="#9bcd9e" stroke-width="0.04"/><use href="#rC" x="4.5" y="-1.5" stroke="#e6d878" stroke-width="0.042"/><use href="#rA" x="4.5" y="-0.5" stroke="#79c7a9" stroke-width="0.105"/><use href="#rN" x="4.5" y="-0.5" stroke="#79c7a9" stroke-width="0.04"/><use href="#rC" x="4.5" y="-0.5" stroke="#e5d87b" stroke-width="0.042"/><use href="#rA" x="4.5" y="0.5" stroke="#79c7a9" stroke-width="0.105"/><use href="#rN" x="4.5" y="0.5" stroke="#79c7a9" stroke-width="0.04"/><use href="#rC" x="4.5" y="0.5" stroke="#e5d87b" stroke-width="0.042"/><use href="#rA" x="4.5" y="1.5" stroke="#9bcd9e" stroke-width="0.105"/><use href="#rN" x="4.5" y="1.5" stroke="#9bcd9e" stroke-width="0.04"/><use href="#rC" x="4.5" y="1.5" stroke="#e6d878" stroke-width="0.042"/><use href="#rA" x="4.5" y="2.5" stroke="#e2d87f" stroke-width="0.105"/><use href="#rN" x="4.5" y="2.5" stroke="#e2d87f" stroke-width="0.04"/><use href="#rC" x="4.5" y="2.5" stroke="#e9d871" stroke-width="0.042"/><use href="#rA" x="4.5" y="3.5" stroke="#e7d876" stroke-width="0.105"/><use href="#rN" x="4.5" y="3.5" stroke="#e7d876" stroke-width="0.04"/><use href="#rC" x="4.5" y="3.5" stroke="#edd96a" stroke-width="0.042"/><use href="#rA" x="4.5" y="4.5" stroke="#ecd86b" stroke-width="0.105"/><use href="#rN" x="4.5" y="4.5" stroke="#ecd86b" stroke-width="0.04"/><use href="#rC" x="4.5" y="4.5" stroke="#efdb63" stroke-width="0.042"/><use href="#rB" x="-5" y="-5" stroke="#83ceb9" stroke-width="0.055"/><use href="#rC" x="-5" y="-5" stroke="#78cac0" stroke-width="0.07"/><use href="#rB" x="-5" y="-4" stroke="#7dccbc" stroke-width="0.055"/><use href="#rC" x="-5" y="-4" stroke="#70c6cc" stroke-width="0.07"/><use href="#rB" x="-5" y="-3" stroke="#79cabf" stroke-width="0.055"/><use href="#rC" x="-5" y="-3" stroke="#73c2d4" stroke-width="0.07"/><use href="#rB" x="-5" y="-2" stroke="#75c9c4" stroke-width="0.055"/><use href="#rC" x="-5" y="-2" stroke="#75bed8" stroke-width="0.07"/><use href="#rB" x="-5" y="-1" stroke="#73c7c8" stroke-width="0.055"/><use href="#rC" x="-5" y="-1" stroke="#7ab6da" stroke-width="0.07"/><use href="#rB" x="-5" y="0" stroke="#72c7c9" stroke-width="0.055"/><use href="#rC" x="-5" y="0" stroke="#7bb4da" stroke-width="0.07"/><use href="#rB" x="-5" y="1" stroke="#73c7c8" stroke-width="0.055"/><use href="#rC" x="-5" y="1" stroke="#7ab6da" stroke-width="0.07"/><use href="#rB" x="-5" y="2" stroke="#75c9c4" stroke-width="0.055"/><use href="#rC" x="-5" y="2" stroke="#75bed8" stroke-width="0.07"/><use href="#rB" x="-5" y="3" stroke="#79cabf" stroke-width="0.055"/><use href="#rC" x="-5" y="3" stroke="#73c2d4" stroke-width="0.07"/><use href="#rB" x="-5" y="4" stroke="#7dccbc" stroke-width="0.055"/><use href="#rC" x="-5" y="4" stroke="#70c6cc" stroke-width="0.07"/><use href="#rB" x="-5" y="5" stroke="#83ceb9" stroke-width="0.055"/><use href="#rC" x="-5" y="5" stroke="#78cac0" stroke-width="0.07"/><use href="#rB" x="-4" y="-5" stroke="#7dccbc" stroke-width="0.055"/><use href="#rC" x="-4" y="-5" stroke="#70c6cc" stroke-width="0.07"/><use href="#rB" x="-4" y="-4" stroke="#78cac0" stroke-width="0.055"/><use href="#rC" x="-4" y="-4" stroke="#73c1d6" stroke-width="0.07"/><use href="#rB" x="-4" y="-3" stroke="#72c7c9" stroke-width="0.055"/><use href="#rC" x="-4" y="-3" stroke="#7bb4da" stroke-width="0.07"/><use href="#rB" x="-4" y="-2" stroke="#71c4cf" stroke-width="0.055"/><use href="#rC" x="-4" y="-2" stroke="#82a8dc" stroke-width="0.07"/><use href="#rB" x="-4" y="-1" stroke="#72c3d3" stroke-width="0.055"/><use href="#rC" x="-4" y="-1" stroke="#84a1da" stroke-width="0.07"/><use href="#rB" x="-4" y="0" stroke="#73c2d4" stroke-width="0.055"/><use href="#rC" x="-4" y="0" stroke="#859ed9" stroke-width="0.07"/><use href="#rB" x="-4" y="1" stroke="#72c3d3" stroke-width="0.055"/><use href="#rC" x="-4" y="1" stroke="#84a1da" stroke-width="0.07"/><use href="#rB" x="-4" y="2" stroke="#71c4cf" stroke-width="0.055"/><use href="#rC" x="-4" y="2" stroke="#82a8dc" stroke-width="0.07"/><use href="#rB" x="-4" y="3" stroke="#72c7c9" stroke-width="0.055"/><use href="#rC" x="-4" y="3" stroke="#7bb4da" stroke-width="0.07"/><use href="#rB" x="-4" y="4" stroke="#78cac0" stroke-width="0.055"/><use href="#rC" x="-4" y="4" stroke="#73c1d6" stroke-width="0.07"/><use href="#rB" x="-4" y="5" stroke="#7dccbc" stroke-width="0.055"/><use href="#rC" x="-4" y="5" stroke="#70c6cc" stroke-width="0.07"/><use href="#rB" x="-3" y="-5" stroke="#79cabf" stroke-width="0.055"/><use href="#rC" x="-3" y="-5" stroke="#73c2d4" stroke-width="0.07"/><use href="#rB" x="-3" y="-4" stroke="#72c7c9" stroke-width="0.055"/><use href="#rC" x="-3" y="-4" stroke="#7bb4da" stroke-width="0.07"/><use href="#rB" x="-3" y="-3" stroke="#72c3d1" stroke-width="0.055"/><use href="#rC" x="-3" y="-3" stroke="#84a3da" stroke-width="0.07"/><use href="#rB" x="-3" y="-2" stroke="#74c1d7" stroke-width="0.055"/><use href="#rC" x="-3" y="-2" stroke="#8897d6" stroke-width="0.07"/><use href="#rB" x="-3" y="-1" stroke="#77bbd9" stroke-width="0.055"/><use href="#rC" x="-3" y="-1" stroke="#8a90d4" stroke-width="0.07"/><use href="#rB" x="-3" y="0" stroke="#78b9d9" stroke-width="0.055"/><use href="#rC" x="-3" y="0" stroke="#8a8fd3" stroke-width="0.07"/><use href="#rB" x="-3" y="1" stroke="#77bbd9" stroke-width="0.055"/><use href="#rC" x="-3" y="1" stroke="#8a90d4" stroke-width="0.07"/><use href="#rB" x="-3" y="2" stroke="#74c1d7" stroke-width="0.055"/><use href="#rC" x="-3" y="2" stroke="#8897d6" stroke-width="0.07"/><use href="#rB" x="-3" y="3" stroke="#72c3d1" stroke-width="0.055"/><use href="#rC" x="-3" y="3" stroke="#84a3da" stroke-width="0.07"/><use href="#rB" x="-3" y="4" stroke="#72c7c9" stroke-width="0.055"/><use href="#rC" x="-3" y="4" stroke="#7bb4da" stroke-width="0.07"/><use href="#rB" x="-3" y="5" stroke="#79cabf" stroke-width="0.055"/><use href="#rC" x="-3" y="5" stroke="#73c2d4" stroke-width="0.07"/><use href="#rB" x="-2" y="-5" stroke="#75c9c4" stroke-width="0.055"/><use href="#rC" x="-2" y="-5" stroke="#75bed8" stroke-width="0.07"/><use href="#rB" x="-2" y="-4" stroke="#71c4cf" stroke-width="0.055"/><use href="#rC" x="-2" y="-4" stroke="#82a8dc" stroke-width="0.07"/><use href="#rB" x="-2" y="-3" stroke="#74c1d7" stroke-width="0.055"/><use href="#rC" x="-2" y="-3" stroke="#8897d6" stroke-width="0.07"/><use href="#rB" x="-2" y="-2" stroke="#7ab6da" stroke-width="0.055"/><use href="#rC" x="-2" y="-2" stroke="#8a8dd2" stroke-width="0.07"/><use href="#rB" x="-2" y="-1" stroke="#7eafdb" stroke-width="0.055"/><use href="#rC" x="-2" y="-1" stroke="#8b89d0" stroke-width="0.07"/><use href="#rB" x="-2" y="0" stroke="#7faddb" stroke-width="0.055"/><use href="#rC" x="-2" y="0" stroke="#8b88cf" stroke-width="0.07"/><use href="#rB" x="-2" y="1" stroke="#7eafdb" stroke-width="0.055"/><use href="#rC" x="-2" y="1" stroke="#8b89d0" stroke-width="0.07"/><use href="#rB" x="-2" y="2" stroke="#7ab6da" stroke-width="0.055"/><use href="#rC" x="-2" y="2" stroke="#8a8dd2" stroke-width="0.07"/><use href="#rB" x="-2" y="3" stroke="#74c1d7" stroke-width="0.055"/><use href="#rC" x="-2" y="3" stroke="#8897d6" stroke-width="0.07"/><use href="#rB" x="-2" y="4" stroke="#71c4cf" stroke-width="0.055"/><use href="#rC" x="-2" y="4" stroke="#82a8dc" stroke-width="0.07"/><use href="#rB" x="-2" y="5" stroke="#75c9c4" stroke-width="0.055"/><use href="#rC" x="-2" y="5" stroke="#75bed8" stroke-width="0.07"/><use href="#rB" x="-1" y="-5" stroke="#73c7c8" stroke-width="0.055"/><use href="#rC" x="-1" y="-5" stroke="#7ab6da" stroke-width="0.07"/><use href="#rB" x="-1" y="-4" stroke="#72c3d3" stroke-width="0.055"/><use href="#rC" x="-1" y="-4" stroke="#84a1da" stroke-width="0.07"/><use href="#rB" x="-1" y="-3" stroke="#77bbd9" stroke-width="0.055"/><use href="#rC" x="-1" y="-3" stroke="#8a90d4" stroke-width="0.07"/><use href="#rB" x="-1" y="-2" stroke="#7eafdb" stroke-width="0.055"/><use href="#rC" x="-1" y="-2" stroke="#8b89d0" stroke-width="0.07"/><use href="#rB" x="-1" y="-1" stroke="#82a8dc" stroke-width="0.055"/><use href="#rC" x="-1" y="-1" stroke="#8c85ce" stroke-width="0.07"/><use href="#rB" x="-1" y="0" stroke="#83a6db" stroke-width="0.055"/><use href="#rC" x="-1" y="0" stroke="#8c83cd" stroke-width="0.07"/><use href="#rB" x="-1" y="1" stroke="#82a8dc" stroke-width="0.055"/><use href="#rC" x="-1" y="1" stroke="#8c85ce" stroke-width="0.07"/><use href="#rB" x="-1" y="2" stroke="#7eafdb" stroke-width="0.055"/><use href="#rC" x="-1" y="2" stroke="#8b89d0" stroke-width="0.07"/><use href="#rB" x="-1" y="3" stroke="#77bbd9" stroke-width="0.055"/><use href="#rC" x="-1" y="3" stroke="#8a90d4" stroke-width="0.07"/><use href="#rB" x="-1" y="4" stroke="#72c3d3" stroke-width="0.055"/><use href="#rC" x="-1" y="4" stroke="#84a1da" stroke-width="0.07"/><use href="#rB" x="-1" y="5" stroke="#73c7c8" stroke-width="0.055"/><use href="#rC" x="-1" y="5" stroke="#7ab6da" stroke-width="0.07"/><use href="#rB" x="0" y="-5" stroke="#72c7c9" stroke-width="0.055"/><use href="#rC" x="0" y="-5" stroke="#7bb4da" stroke-width="0.07"/><use href="#rB" x="0" y="-4" stroke="#73c2d4" stroke-width="0.055"/><use href="#rC" x="0" y="-4" stroke="#859ed9" stroke-width="0.07"/><use href="#rB" x="0" y="-3" stroke="#78b9d9" stroke-width="0.055"/><use href="#rC" x="0" y="-3" stroke="#8a8fd3" stroke-width="0.07"/><use href="#rB" x="0" y="-2" stroke="#7faddb" stroke-width="0.055"/><use href="#rC" x="0" y="-2" stroke="#8b88cf" stroke-width="0.07"/><use href="#rB" x="0" y="-1" stroke="#83a6db" stroke-width="0.055"/><use href="#rC" x="0" y="-1" stroke="#8c83cd" stroke-width="0.07"/><use href="#rB" x="0" y="0" stroke="#84a3da" stroke-width="0.055"/><use href="#rC" x="0" y="0" stroke="#8c82cc" stroke-width="0.07"/><use href="#rB" x="0" y="1" stroke="#83a6db" stroke-width="0.055"/><use href="#rC" x="0" y="1" stroke="#8c83cd" stroke-width="0.07"/><use href="#rB" x="0" y="2" stroke="#7faddb" stroke-width="0.055"/><use href="#rC" x="0" y="2" stroke="#8b88cf" stroke-width="0.07"/><use href="#rB" x="0" y="3" stroke="#78b9d9" stroke-width="0.055"/><use href="#rC" x="0" y="3" stroke="#8a8fd3" stroke-width="0.07"/><use href="#rB" x="0" y="4" stroke="#73c2d4" stroke-width="0.055"/><use href="#rC" x="0" y="4" stroke="#859ed9" stroke-width="0.07"/><use href="#rB" x="0" y="5" stroke="#72c7c9" stroke-width="0.055"/><use href="#rC" x="0" y="5" stroke="#7bb4da" stroke-width="0.07"/><use href="#rB" x="1" y="-5" stroke="#73c7c8" stroke-width="0.055"/><use href="#rC" x="1" y="-5" stroke="#7ab6da" stroke-width="0.07"/><use href="#rB" x="1" y="-4" stroke="#72c3d3" stroke-width="0.055"/><use href="#rC" x="1" y="-4" stroke="#84a1da" stroke-width="0.07"/><use href="#rB" x="1" y="-3" stroke="#77bbd9" stroke-width="0.055"/><use href="#rC" x="1" y="-3" stroke="#8a90d4" stroke-width="0.07"/><use href="#rB" x="1" y="-2" stroke="#7eafdb" stroke-width="0.055"/><use href="#rC" x="1" y="-2" stroke="#8b89d0" stroke-width="0.07"/><use href="#rB" x="1" y="-1" stroke="#82a8dc" stroke-width="0.055"/><use href="#rC" x="1" y="-1" stroke="#8c85ce" stroke-width="0.07"/><use href="#rB" x="1" y="0" stroke="#83a6db" stroke-width="0.055"/><use href="#rC" x="1" y="0" stroke="#8c83cd" stroke-width="0.07"/><use href="#rB" x="1" y="1" stroke="#82a8dc" stroke-width="0.055"/><use href="#rC" x="1" y="1" stroke="#8c85ce" stroke-width="0.07"/><use href="#rB" x="1" y="2" stroke="#7eafdb" stroke-width="0.055"/><use href="#rC" x="1" y="2" stroke="#8b89d0" stroke-width="0.07"/><use href="#rB" x="1" y="3" stroke="#77bbd9" stroke-width="0.055"/><use href="#rC" x="1" y="3" stroke="#8a90d4" stroke-width="0.07"/><use href="#rB" x="1" y="4" stroke="#72c3d3" stroke-width="0.055"/><use href="#rC" x="1" y="4" stroke="#84a1da" stroke-width="0.07"/><use href="#rB" x="1" y="5" stroke="#73c7c8" stroke-width="0.055"/><use href="#rC" x="1" y="5" stroke="#7ab6da" stroke-width="0.07"/><use href="#rB" x="2" y="-5" stroke="#75c9c4" stroke-width="0.055"/><use href="#rC" x="2" y="-5" stroke="#75bed8" stroke-width="0.07"/><use href="#rB" x="2" y="-4" stroke="#71c4cf" stroke-width="0.055"/><use href="#rC" x="2" y="-4" stroke="#82a8dc" stroke-width="0.07"/><use href="#rB" x="2" y="-3" stroke="#74c1d7" stroke-width="0.055"/><use href="#rC" x="2" y="-3" stroke="#8897d6" stroke-width="0.07"/><use href="#rB" x="2" y="-2" stroke="#7ab6da" stroke-width="0.055"/><use href="#rC" x="2" y="-2" stroke="#8a8dd2" stroke-width="0.07"/><use href="#rB" x="2" y="-1" stroke="#7eafdb" stroke-width="0.055"/><use href="#rC" x="2" y="-1" stroke="#8b89d0" stroke-width="0.07"/><use href="#rB" x="2" y="0" stroke="#7faddb" stroke-width="0.055"/><use href="#rC" x="2" y="0" stroke="#8b88cf" stroke-width="0.07"/><use href="#rB" x="2" y="1" stroke="#7eafdb" stroke-width="0.055"/><use href="#rC" x="2" y="1" stroke="#8b89d0" stroke-width="0.07"/><use href="#rB" x="2" y="2" stroke="#7ab6da" stroke-width="0.055"/><use href="#rC" x="2" y="2" stroke="#8a8dd2" stroke-width="0.07"/><use href="#rB" x="2" y="3" stroke="#74c1d7" stroke-width="0.055"/><use href="#rC" x="2" y="3" stroke="#8897d6" stroke-width="0.07"/><use href="#rB" x="2" y="4" stroke="#71c4cf" stroke-width="0.055"/><use href="#rC" x="2" y="4" stroke="#82a8dc" stroke-width="0.07"/><use href="#rB" x="2" y="5" stroke="#75c9c4" stroke-width="0.055"/><use href="#rC" x="2" y="5" stroke="#75bed8" stroke-width="0.07"/><use href="#rB" x="3" y="-5" stroke="#79cabf" stroke-width="0.055"/><use href="#rC" x="3" y="-5" stroke="#73c2d4" stroke-width="0.07"/><use href="#rB" x="3" y="-4" stroke="#72c7c9" stroke-width="0.055"/><use href="#rC" x="3" y="-4" stroke="#7bb4da" stroke-width="0.07"/><use href="#rB" x="3" y="-3" stroke="#72c3d1" stroke-width="0.055"/><use href="#rC" x="3" y="-3" stroke="#84a3da" stroke-width="0.07"/><use href="#rB" x="3" y="-2" stroke="#74c1d7" stroke-width="0.055"/><use href="#rC" x="3" y="-2" stroke="#8897d6" stroke-width="0.07"/><use href="#rB" x="3" y="-1" stroke="#77bbd9" stroke-width="0.055"/><use href="#rC" x="3" y="-1" stroke="#8a90d4" stroke-width="0.07"/><use href="#rB" x="3" y="0" stroke="#78b9d9" stroke-width="0.055"/><use href="#rC" x="3" y="0" stroke="#8a8fd3" stroke-width="0.07"/><use href="#rB" x="3" y="1" stroke="#77bbd9" stroke-width="0.055"/><use href="#rC" x="3" y="1" stroke="#8a90d4" stroke-width="0.07"/><use href="#rB" x="3" y="2" stroke="#74c1d7" stroke-width="0.055"/><use href="#rC" x="3" y="2" stroke="#8897d6" stroke-width="0.07"/><use href="#rB" x="3" y="3" stroke="#72c3d1" stroke-width="0.055"/><use href="#rC" x="3" y="3" stroke="#84a3da" stroke-width="0.07"/><use href="#rB" x="3" y="4" stroke="#72c7c9" stroke-width="0.055"/><use href="#rC" x="3" y="4" stroke="#7bb4da" stroke-width="0.07"/><use href="#rB" x="3" y="5" stroke="#79cabf" stroke-width="0.055"/><use href="#rC" x="3" y="5" stroke="#73c2d4" stroke-width="0.07"/><use href="#rB" x="4" y="-5" stroke="#7dccbc" stroke-width="0.055"/><use href="#rC" x="4" y="-5" stroke="#70c6cc" stroke-width="0.07"/><use href="#rB" x="4" y="-4" stroke="#78cac0" stroke-width="0.055"/><use href="#rC" x="4" y="-4" stroke="#73c1d6" stroke-width="0.07"/><use href="#rB" x="4" y="-3" stroke="#72c7c9" stroke-width="0.055"/><use href="#rC" x="4" y="-3" stroke="#7bb4da" stroke-width="0.07"/><use href="#rB" x="4" y="-2" stroke="#71c4cf" stroke-width="0.055"/><use href="#rC" x="4" y="-2" stroke="#82a8dc" stroke-width="0.07"/><use href="#rB" x="4" y="-1" stroke="#72c3d3" stroke-width="0.055"/><use href="#rC" x="4" y="-1" stroke="#84a1da" stroke-width="0.07"/><use href="#rB" x="4" y="0" stroke="#73c2d4" stroke-width="0.055"/><use href="#rC" x="4" y="0" stroke="#859ed9" stroke-width="0.07"/><use href="#rB" x="4" y="1" stroke="#72c3d3" stroke-width="0.055"/><use href="#rC" x="4" y="1" stroke="#84a1da" stroke-width="0.07"/><use href="#rB" x="4" y="2" stroke="#71c4cf" stroke-width="0.055"/><use href="#rC" x="4" y="2" stroke="#82a8dc" stroke-width="0.07"/><use href="#rB" x="4" y="3" stroke="#72c7c9" stroke-width="0.055"/><use href="#rC" x="4" y="3" stroke="#7bb4da" stroke-width="0.07"/><use href="#rB" x="4" y="4" stroke="#78cac0" stroke-width="0.055"/><use href="#rC" x="4" y="4" stroke="#73c1d6" stroke-width="0.07"/><use href="#rB" x="4" y="5" stroke="#7dccbc" stroke-width="0.055"/><use href="#rC" x="4" y="5" stroke="#70c6cc" stroke-width="0.07"/><use href="#rB" x="5" y="-5" stroke="#83ceb9" stroke-width="0.055"/><use href="#rC" x="5" y="-5" stroke="#78cac0" stroke-width="0.07"/><use href="#rB" x="5" y="-4" stroke="#7dccbc" stroke-width="0.055"/><use href="#rC" x="5" y="-4" stroke="#70c6cc" stroke-width="0.07"/><use href="#rB" x="5" y="-3" stroke="#79cabf" stroke-width="0.055"/><use href="#rC" x="5" y="-3" stroke="#73c2d4" stroke-width="0.07"/><use href="#rB" x="5" y="-2" stroke="#75c9c4" stroke-width="0.055"/><use href="#rC" x="5" y="-2" stroke="#75bed8" stroke-width="0.07"/><use href="#rB" x="5" y="-1" stroke="#73c7c8" stroke-width="0.055"/><use href="#rC" x="5" y="-1" stroke="#7ab6da" stroke-width="0.07"/><use href="#rB" x="5" y="0" stroke="#72c7c9" stroke-width="0.055"/><use href="#rC" x="5" y="0" stroke="#7bb4da" stroke-width="0.07"/><use href="#rB" x="5" y="1" stroke="#73c7c8" stroke-width="0.055"/><use href="#rC" x="5" y="1" stroke="#7ab6da" stroke-width="0.07"/><use href="#rB" x="5" y="2" stroke="#75c9c4" stroke-width="0.055"/><use href="#rC" x="5" y="2" stroke="#75bed8" stroke-width="0.07"/><use href="#rB" x="5" y="3" stroke="#79cabf" stroke-width="0.055"/><use href="#rC" x="5" y="3" stroke="#73c2d4" stroke-width="0.07"/><use href="#rB" x="5" y="4" stroke="#7dccbc" stroke-width="0.055"/><use href="#rC" x="5" y="4" stroke="#70c6cc" stroke-width="0.07"/><use href="#rB" x="5" y="5" stroke="#83ceb9" stroke-width="0.055"/><use href="#rC" x="5" y="5" stroke="#78cac0" stroke-width="0.07"/></g>
<g transform="scale(0.25)" stroke-width="1.4" stroke-linejoin="round"><path class=c39 d=M645,235l7,7-5,7-7-7z /><path class=c42 d=M639,205l6,30-5,7-6-30z /><path class=c47 d=M632,175l7,30-5,7-7-30z /><path class=c51 d=M625,168l7,7-5,7-7-8z /><path class=c50 d=M619,191l6-23-5,6-6,24z /><path class=c45 d=M612,237l7-46-5,7-7,46z /><path class=c38 d=M605,283l7-46-5,7-7,46z /><path class=c32 d=M599,306l6-23-5,7-6,23zM592,298l7,8-5,7-7-9z /><path class=c35 d=M586,267l6,31-5,6-7-31z /><path class=c41 d=M579,235l7,32-6,6-6-31z /><path class=c44 d=M572,226l7,9-5,7-7-9z /><path class=c43 d=M566,249l6-23-5,7-7,22z /><path class=c39 d=M559,293l7-44-6,6-6,45z /><path class=c32 d=M552,338l7-45-5,7-7,44z /><path class=c27 d=M546,360l6-22-5,6-6,22z /><path class=c26 d=M539,350l7,10-5,6-7-10z /><path class=c30 d=M532,317l7,33-5,6-7-32z /><path class=c36 d=M526,285l6,32-5,7-6-33z /><path class=c39 d=M519,274l7,11-5,6-7-10zM512,295l7-21-5,7-7,21z /><path class=c34 d=M506,339l6-44-5,7-6,43z /><path class=c28 d=M499,382l7-43-5,6-7,43z /><path class=c23 d=M493,402l6-20-5,6-7,21z /><path class=c22 d=M486,391l7,11-6,7-6-12z /><path class=c26 d=M479,357l7,34-5,6-7-33z /><path class=c32 d=M473,323l6,34-5,7-6-34z /><path class=c36 d=M466,311l7,12-5,7-7-12zM459,331l7-20-5,7-7,20z /><path class=c31 d=M453,373l6-42-5,7-6,42z /><path class=c25 d=M446,415l7-42-5,7-7,41z /><path class=c20 d=M439,434l7-19-5,6-7,19zM433,421l6,13-5,6-6-12z /><path class=c24 d=M426,386l7,35-5,7-7-35z /><path class=c30 d=M420,351l6,35-5,7-7-36z /><path class=c35 d=M413,338l7,13-6,6-6-13z /><path class=c34 d=M406,356l7-18-5,6-7,19z /><path class=c30 d=M400,397l6-41-5,7-7,40z /><path class=c24 d=M393,437l7-40-6,6-6,41z /><path class=c20 d=M386,455l7-18-5,7-7,17zM380,441l6,14-5,6-6-14z /><path class=c24 d=M373,404l7,37-5,6-7-36z /><path class=c30 d=M366,368l7,36-5,7-7-37z /><path class=c35 d=M360,353l6,15-5,6-6-14zM353,370l7-17-5,7-7,17z /><path class=c30 d=M346,409l7-39-5,7-7,39z /><path class=c25 d=M340,448l6-39-5,7-6,39z /><path class=c20 d=M333,465l7-17-5,7-7,17z /><path class=c21 d=M327,450l6,15-5,7-7-16z /><path class=c25 d=M320,412l7,38-6,6-6-38z /><path class=c31 d=M313,374l7,38-5,6-7-38z /><path class=c36 d=M307,358l6,16-5,6-6-15zM300,374l7-16-5,7-7,15z /><path class=c32 d=M293,411l7-37-5,6-7,38z /><path class=c27 d=M287,449l6-38-5,7-6,38z /><path class=c23 d=M280,464l7-15-5,7-7,15zM273,448l7,16-5,7-7-17z /><path class=c28 d=M267,408l6,40-5,6-6-39z /><path class=c34 d=M260,369l7,39-5,7-7-39z /><path class=c39 d=M254,352l6,17-5,7-7-18z /><path class=c40 d=M247,366l7-14-6,6-6,15z /><path class=c36 d=M240,403l7-37-5,7-7,36z /><path class=c30 d=M234,439l6-36-5,6-7,37z /><path class=c27 d=M227,453l7-14-6,7-6,13zM220,435l7,18-5,6-7-18z /><path class=c32 d=M214,394l6,41-5,6-6-40z /><path class=c39 d=M207,354l7,40-5,7-7-41z /><path class=c44 d=M200,335l7,19-5,6-7-18z /><path class=c45 d=M194,348l6-13-5,7-6,13z /><path class=c41 d=M187,383l7-35-5,7-7,35z /><path class=c36 d=M180,418l7-35-5,7-7,35z /><path class=c32 d=M174,431l6-13-5,7-6,12z /><path class=c33 d=M167,411l7,20-5,6-7-19z /><path class=c38 d=M161,369l6,42-5,7-7-42z /><path class=c45 d=M154,327l7,42-6,7-6-42z /><path class=c50 d=M147,307l7,20-5,7-7-20z /><path class=c51 d=M141,319l6-12-5,7-6,11z /><path class=c48 d=M134,353l7-34-5,6-7,34z /><path class=c43 d=M127,386l7-33-5,6-7,34z /><path class=c39 d=M121,397l6-11-5,7-6,11z /><path class=c42 d=M650,206l7,7-5,29-7-7z /><path class=c45 d=M644,176l6,30-5,29-6-30z /><path class=c51 d=M637,146l7,30-5,29-7-30z /><path class=c54 d=M630,139l7,7-5,29-7-7z /><path class=c53 d=M624,162l6-23-5,29-6,23z /><path class=c48 d=M617,208l7-46-5,29-7,46z /><path class=c41 d=M611,254l6-46-5,29-7,46z /><path class=c36 d=M604,277l7-23-6,29-6,23z /><path class=c35 d=M597,269l7,8-5,29-7-8z /><path class=c39 d=M591,238l6,31-5,29-6-31z /><path class=c44 d=M584,206l7,32-5,29-7-32z /><path class=c48 d=M577,197l7,9-5,29-7-9z /><path class=c47 d=M571,220l6-23-5,29-6,23z /><path class=c42 d=M564,264l7-44-5,29-7,44z /><path class=c35 d=M557,309l7-45-5,29-7,45z /><path class=c30 d=M551,331l6-22-5,29-6,22zM544,321l7,10-5,29-7-10z /><path class=c33 d=M537,288l7,33-5,29-7-33z /><path class=c39 d=M531,256l6,32-5,29-6-32z /><path class=c43 d=M524,245l7,11-5,29-7-11z /><path class=c42 d=M518,266l6-21-5,29-7,21z /><path class=c37 d=M511,310l7-44-6,29-6,44z /><path class=c31 d=M504,353l7-43-5,29-7,43z /><path class=c26 d=M498,373l6-20-5,29-6,20zM491,362l7,11-5,29-7-11z /><path class=c30 d=M484,328l7,34-5,29-7-34z /><path class=c36 d=M478,294l6,34-5,29-6-34z /><path class=c40 d=M471,282l7,12-5,29-7-12z /><path class=c39 d=M464,302l7-20-5,29-7,20z /><path class=c35 d=M458,344l6-42-5,29-6,42z /><path class=c28 d=M451,386l7-42-5,29-7,42z /><path class=c24 d=M445,405l6-19-5,29-7,19zM438,392l7,13-6,29-6-13z /><path class=c28 d=M431,357l7,35-5,29-7-35z /><path class=c34 d=M425,322l6,35-5,29-6-35z /><path class=c38 d=M418,309l7,13-5,29-7-13zM411,327l7-18-5,29-7,18z /><path class=c33 d=M405,368l6-41-5,29-6,41z /><path class=c27 d=M398,408l7-40-5,29-7,40z /><path class=c23 d=M391,426l7-18-5,29-7,18zM385,412l6,14-5,29-6-14z /><path class=c27 d=M378,375l7,37-5,29-7-37z /><path class=c33 d=M371,339l7,36-5,29-7-36z /><path class=c38 d=M365,324l6,15-5,29-6-15zM358,341l7-17-5,29-7,17z /><path class=c34 d=M352,380l6-39-5,29-7,39z /><path class=c28 d=M345,419l7-39-6,29-6,39z /><path class=c24 d=M338,436l7-17-5,29-7,17zM332,421l6,15-5,29-6-15z /><path class=c28 d=M325,383l7,38-5,29-7-38z /><path class=c35 d=M318,345l7,38-5,29-7-38z /><path class=c39 d=M312,329l6,16-5,29-6-16z /><path class=c40 d=M305,345l7-16-5,29-7,16z /><path class=c36 d=M298,382l7-37-5,29-7,37z /><path class=c30 d=M292,420l6-38-5,29-6,38z /><path class=c26 d=M285,435l7-15-5,29-7,15z /><path class=c27 d=M279,419l6,16-5,29-7-16z /><path class=c31 d=M272,379l7,40-6,29-6-40z /><path class=c38 d=M265,340l7,39-5,29-7-39z /><path class=c43 d=M259,323l6,17-5,29-6-17zM252,337l7-14-5,29-7,14z /><path class=c39 d=M245,374l7-37-5,29-7,37z /><path class=c34 d=M239,410l6-36-5,29-6,36z /><path class=c30 d=M232,424l7-14-5,29-7,14z /><path class=c31 d=M225,406l7,18-5,29-7-18z /><path class=c36 d=M219,365l6,41-5,29-6-41z /><path class=c42 d=M212,324l7,41-5,29-7-40z /><path class=c47 d=M205,306l7,18-5,30-7-19z /><path class=c48 d=M199,319l6-13-5,29-6,13z /><path class=c44 d=M192,354l7-35-5,29-7,35z /><path class=c39 d=M186,389l6-35-5,29-7,35z /><path class=c36 d=M179,401l7-12-6,29-6,13zM172,382l7,19-5,30-7-20z /><path class=c42 d=M166,340l6,42-5,29-6-42z /><path class=c48 d=M159,298l7,42-5,29-7-42z /><path class=c54 d=M152,278l7,20-5,29-7-20z /><path class=c55 d=M146,290l6-12-5,29-6,12z /><path class=c51 d=M139,324l7-34-5,29-7,34z /><path class=c46 d=M132,357l7-33-5,29-7,33z /><path class=c43 d=M126,368l6-11-5,29-6,11z /><path class=c47 d=M655,177l7,7-5,29-7-7z /><path class=c51 d=M649,147l6,30-5,29-6-30z /><path class=c56 d=M642,117l7,30-5,29-7-30z /><path class=c59 d=M636,109l6,8-5,29-7-7z /><path class=c58 d=M629,133l7-24-6,30-6,23z /><path class=c53 d=M622,179l7-46-5,29-7,46z /><path class=c46 d=M616,225l6-46-5,29-6,46z /><path class=c41 d=M609,248l7-23-5,29-7,23z /><path class=c40 d=M602,239l7,9-5,29-7-8z /><path class=c44 d=M596,208l6,31-5,30-6-31z /><path class=c49 d=M589,177l7,31-5,30-7-32z /><path class=c53 d=M582,168l7,9-5,29-7-9z /><path class=c52 d=M576,190l6-22-5,29-6,23z /><path class=c47 d=M569,235l7-45-5,30-7,44z /><path class=c40 d=M563,279l6-44-5,29-7,45z /><path class=c35 d=M556,301l7-22-6,30-6,22zM549,291l7,10-5,30-7-10z /><path class=c39 d=M543,259l6,32-5,30-7-33z /><path class=c44 d=M536,226l7,33-6,29-6-32z /><path class=c48 d=M529,216l7,10-5,30-7-11z /><path class=c47 d=M523,237l6-21-5,29-6,21z /><path class=c43 d=M516,280l7-43-5,29-7,44z /><path class=c36 d=M509,323l7-43-5,30-7,43z /><path class=c31 d=M503,344l6-21-5,30-6,20zM496,333l7,11-5,29-7-11z /><path class=c35 d=M489,299l7,34-5,29-7-34z /><path class=c41 d=M483,265l6,34-5,29-6-34z /><path class=c45 d=M476,253l7,12-5,29-7-12z /><path class=c44 d=M470,273l6-20-5,29-7,20z /><path class=c40 d=M463,315l7-42-6,29-6,42z /><path class=c33 d=M456,356l7-41-5,29-7,42z /><path class=c29 d=M450,376l6-20-5,30-6,19zM443,363l7,13-5,29-7-13z /><path class=c33 d=M436,328l7,35-5,29-7-35z /><path class=c39 d=M430,293l6,35-5,29-6-35z /><path class=c43 d=M423,279l7,14-5,29-7-13zM416,298l7-19-5,30-7,18z /><path class=c39 d=M410,338l6-40-5,29-6,41z /><path class=c32 d=M403,379l7-41-5,30-7,40z /><path class=c28 d=M397,397l6-18-5,29-7,18zM390,383l7,14-6,29-6-14z /><path class=c32 d=M383,346l7,37-5,29-7-37z /><path class=c39 d=M377,309l6,37-5,29-7-36z /><path class=c43 d=M370,295l7,14-6,30-6-15zM363,312l7-17-5,29-7,17z /><path class=c39 d=M357,351l6-39-5,29-6,39z /><path class=c33 d=M350,390l7-39-5,29-7,39z /><path class=c29 d=M343,407l7-17-5,29-7,17zM337,391l6,16-5,29-6-15z /><path class=c34 d=M330,353l7,38-5,30-7-38z /><path class=c40 d=M323,315l7,38-5,30-7-38z /><path class=c45 d=M317,300l6,15-5,30-6-16zM310,315l7-15-5,29-7,16z /><path class=c41 d=M304,353l6-38-5,30-7,37z /><path class=c35 d=M297,391l7-38-6,29-6,38z /><path class=c31 d=M290,406l7-15-5,29-7,15z /><path class=c32 d=M284,389l6,17-5,29-6-16z /><path class=c36 d=M277,350l7,39-5,30-7-40z /><path class=c43 d=M270,311l7,39-5,29-7-39z /><path class=c48 d=M264,294l6,17-5,29-6-17zM257,308l7-14-5,29-7,14z /><path class=c44 d=M250,344l7-36-5,29-7,37z /><path class=c39 d=M244,381l6-37-5,30-6,36z /><path class=c35 d=M237,394l7-13-5,29-7,14z /><path class=c36 d=M231,376l6,18-5,30-7-18z /><path class=c41 d=M224,336l7,40-6,30-6-41z /><path class=c48 d=M217,295l7,41-5,29-7-41z /><path class=c52 d=M211,277l6,18-5,29-7-18z /><path class=c53 d=M204,290l7-13-6,29-6,13z /><path class=c50 d=M197,325l7-35-5,29-7,35z /><path class=c44 d=M191,360l6-35-5,29-6,35z /><path class=c41 d=M184,372l7-12-5,29-7,12z /><path class=c42 d=M177,353l7,19-5,29-7-19z /><path class=c47 d=M171,311l6,42-5,29-6-42z /><path class=c54 d=M164,269l7,42-5,29-7-42z /><path class=c59 d=M157,249l7,20-5,29-7-20z /><path class=c60 d=M151,261l6-12-5,29-6,12z /><path class=c56 d=M144,294l7-33-5,29-7,34z /><path class=c51 d=M138,328l6-34-5,30-7,33z /><path class=c48 d=M131,339l7-11-6,29-6,11z /><path class=c51 d=M661,170l6,7-5,7-7-7z /><path class=c54 d=M654,140l7,30-6,7-6-30z /><path class=c59 d=M647,110l7,30-5,7-7-30z /><path class=c62 d=M641,102l6,8-5,7-6-8zM634,126l7-24-5,7-7,24z /><path class=c56 d=M627,172l7-46-5,7-7,46z /><path class=c49 d=M621,218l6-46-5,7-6,46z /><path class=c44 d=M614,241l7-23-5,7-7,23zM607,232l7,9-5,7-7-9z /><path class=c47 d=M601,201l6,31-5,7-6-31z /><path class=c52 d=M594,170l7,31-5,7-7-31z /><path class=c56 d=M588,161l6,9-5,7-7-9z /><path class=c55 d=M581,183l7-22-6,7-6,22z /><path class=c50 d=M574,228l7-45-5,7-7,45z /><path class=c44 d=M568,272l6-44-5,7-6,44z /><path class=c39 d=M561,294l7-22-5,7-7,22z /><path class=c38 d=M554,284l7,10-5,7-7-10z /><path class=c42 d=M548,252l6,32-5,7-6-32z /><path class=c47 d=M541,219l7,33-5,7-7-33z /><path class=c51 d=M534,209l7,10-5,7-7-10zM528,230l6-21-5,7-6,21z /><path class=c46 d=M521,273l7-43-5,7-7,43z /><path class=c39 d=M514,316l7-43-5,7-7,43z /><path class=c35 d=M508,337l6-21-5,7-6,21z /><path class=c34 d=M501,326l7,11-5,7-7-11z /><path class=c38 d=M495,292l6,34-5,7-7-34z /><path class=c44 d=M488,258l7,34-6,7-6-34z /><path class=c48 d=M481,246l7,12-5,7-7-12zM475,266l6-20-5,7-6,20z /><path class=c43 d=M468,308l7-42-5,7-7,42z /><path class=c37 d=M461,349l7-41-5,7-7,41z /><path class=c32 d=M455,369l6-20-5,7-6,20zM448,356l7,13-5,7-7-13z /><path class=c36 d=M441,321l7,35-5,7-7-35z /><path class=c42 d=M435,285l6,36-5,7-6-35z /><path class=c46 d=M428,272l7,13-5,8-7-14zM422,291l6-19-5,7-7,19z /><path class=c42 d=M415,331l7-40-6,7-6,40z /><path class=c36 d=M408,372l7-41-5,7-7,41z /><path class=c32 d=M402,389l6-17-5,7-6,18zM395,375l7,14-5,8-7-14z /><path class=c36 d=M388,339l7,36-5,8-7-37z /><path class=c42 d=M382,302l6,37-5,7-6-37z /><path class=c46 d=M375,288l7,14-5,7-7-14z /><path class=c47 d=M368,305l7-17-5,7-7,17z /><path class=c42 d=M362,344l6-39-5,7-6,39z /><path class=c36 d=M355,383l7-39-5,7-7,39z /><path class=c32 d=M349,400l6-17-5,7-7,17z /><path class=c33 d=M342,384l7,16-6,7-6-16z /><path class=c37 d=M335,346l7,38-5,7-7-38z /><path class=c43 d=M329,308l6,38-5,7-7-38z /><path class=c48 d=M322,293l7,15-6,7-6-15zM315,308l7-15-5,7-7,15z /><path class=c44 d=M309,346l6-38-5,7-6,38z /><path class=c39 d=M302,384l7-38-5,7-7,38z /><path class=c35 d=M295,399l7-15-5,7-7,15zM289,382l6,17-5,7-6-17z /><path class=c40 d=M282,343l7,39-5,7-7-39z /><path class=c46 d=M275,304l7,39-5,7-7-39z /><path class=c51 d=M269,286l6,18-5,7-6-17z /><path class=c52 d=M262,301l7-15-5,8-7,14z /><path class=c48 d=M256,337l6-36-5,7-7,36z /><path class=c42 d=M249,374l7-37-6,7-6,37z /><path class=c39 d=M242,387l7-13-5,7-7,13zM236,369l6,18-5,7-6-18z /><path class=c44 d=M229,329l7,40-5,7-7-40z /><path class=c51 d=M222,288l7,41-5,7-7-41z /><path class=c56 d=M216,270l6,18-5,7-6-18z /><path class=c57 d=M209,283l7-13-5,7-7,13z /><path class=c53 d=M202,318l7-35-5,7-7,35z /><path class=c48 d=M196,353l6-35-5,7-6,35z /><path class=c44 d=M189,365l7-12-5,7-7,12z /><path class=c45 d=M183,346l6,19-5,7-7-19z /><path class=c50 d=M176,304l7,42-6,7-6-42z /><path class=c57 d=M169,262l7,42-5,7-7-42z /><path class=c62 d=M163,242l6,20-5,7-7-20z /><path class=c63 d=M156,254l7-12-6,7-6,12z /><path class=c60 d=M149,287l7-33-5,7-7,33z /><path class=c55 d=M143,321l6-34-5,7-6,34z /><path class=c51 d=M136,332l7-11-5,7-7,11z /><path class=c50 d=M666,194l6,7-5-24-6-7z /><path class=c53 d=M659,164l7,30-5-24-7-30z /><path class=c58 d=M652,134l7,30-5-24-7-30z /><path class=c62 d=M646,127l6,7-5-24-6-8z /><path class=c61 d=M639,150l7-23-5-25-7,24z /><path class=c56 d=M632,196l7-46-5-24-7,46z /><path class=c49 d=M626,242l6-46-5-24-6,46z /><path class=c43 d=M619,265l7-23-5-24-7,23zM613,257l6,8-5-24-7-9z /><path class=c46 d=M606,226l7,31-6-25-6-31z /><path class=c52 d=M599,194l7,32-5-25-7-31z /><path class=c55 d=M593,185l6,9-5-24-6-9zM586,208l7-23-5-24-7,22z /><path class=c50 d=M579,252l7-44-5-25-7,45z /><path class=c43 d=M573,297l6-45-5-24-6,44z /><path class=c38 d=M566,319l7-22-5-25-7,22z /><path class=c37 d=M559,309l7,10-5-25-7-10z /><path class=c41 d=M553,276l6,33-5-25-6-32z /><path class=c47 d=M546,244l7,32-5-24-7-33z /><path class=c50 d=M540,233l6,11-5-25-7-10zM533,254l7-21-6-24-6,21z /><path class=c45 d=M526,298l7-44-5-24-7,43z /><path class=c39 d=M520,341l6-43-5-25-7,43z /><path class=c34 d=M513,361l7-20-6-25-6,21z /><path class=c33 d=M506,350l7,11-5-24-7-11z /><path class=c37 d=M500,316l6,34-5-24-6-34z /><path class=c43 d=M493,282l7,34-5-24-7-34z /><path class=c47 d=M486,270l7,12-5-24-7-12zM480,290l6-20-5-24-6,20z /><path class=c42 d=M473,332l7-42-5-24-7,42z /><path class=c36 d=M466,374l7-42-5-24-7,41z /><path class=c31 d=M460,393l6-19-5-25-6,20zM453,380l7,13-5-24-7-13z /><path class=c35 d=M447,345l6,35-5-24-7-35z /><path class=c41 d=M440,310l7,35-6-24-6-36z /><path class=c46 d=M433,297l7,13-5-25-7-13z /><path class=c45 d=M427,315l6-18-5-25-6,19z /><path class=c41 d=M420,356l7-41-5-24-7,40z /><path class=c35 d=M413,396l7-40-5-25-7,41z /><path class=c31 d=M407,414l6-18-5-24-6,17zM400,400l7,14-5-25-7-14z /><path class=c35 d=M393,363l7,37-5-25-7-36z /><path class=c41 d=M387,327l6,36-5-24-6-37z /><path class=c46 d=M380,312l7,15-5-25-7-14zM374,329l6-17-5-24-7,17z /><path class=c41 d=M367,368l7-39-6-24-6,39z /><path class=c36 d=M360,407l7-39-5-24-7,39z /><path class=c31 d=M354,424l6-17-5-24-6,17z /><path class=c32 d=M347,409l7,15-5-24-7-16z /><path class=c36 d=M340,371l7,38-5-25-7-38z /><path class=c43 d=M334,333l6,38-5-25-6-38z /><path class=c47 d=M327,317l7,16-5-25-7-15zM320,333l7-16-5-24-7,15z /><path class=c43 d=M314,370l6-37-5-25-6,38z /><path class=c38 d=M307,408l7-38-5-24-7,38z /><path class=c34 d=M300,423l7-15-5-24-7,15zM294,407l6,16-5-24-6-17z /><path class=c39 d=M287,367l7,40-5-25-7-39z /><path class=c45 d=M281,328l6,39-5-24-7-39z /><path class=c50 d=M274,311l7,17-6-24-6-18z /><path class=c51 d=M267,325l7-14-5-25-7,15z /><path class=c47 d=M261,362l6-37-5-24-6,36z /><path class=c41 d=M254,398l7-36-5-25-7,37z /><path class=c38 d=M247,412l7-14-5-24-7,13zM241,394l6,18-5-25-6-18z /><path class=c43 d=M234,353l7,41-5-25-7-40z /><path class=c50 d=M227,313l7,40-5-24-7-41z /><path class=c55 d=M221,294l6,19-5-25-6-18z /><path class=c56 d=M214,307l7-13-5-24-7,13z /><path class=c52 d=M208,342l6-35-5-24-7,35z /><path class=c47 d=M201,377l7-35-6-24-6,35z /><path class=c43 d=M194,390l7-13-5-24-7,12z /><path class=c44 d=M188,370l6,20-5-25-6-19z /><path class=c49 d=M181,328l7,42-5-24-7-42z /><path class=c56 d=M174,286l7,42-5-24-7-42z /><path class=c61 d=M168,266l6,20-5-24-6-20z /><path class=c62 d=M161,278l7-12-5-24-7,12z /><path class=c59 d=M154,312l7-34-5-24-7,33z /><path class=c54 d=M148,345l6-33-5-25-6,34z /><path class=c50 d=M141,356l7-11-5-24-7,11z /><path class=c45 d=M671,241l6,7-5-47-6-7z /><path class=c48 d=M664,211l7,30-5-47-7-30z /><path class=c53 d=M658,181l6,30-5-47-7-30z /><path class=c56 d=M651,173l7,8-6-47-6-7zM644,197l7-24-5-46-7,23z /><path class=c50 d=M638,243l6-46-5-47-7,46z /><path class=c43 d=M631,289l7-46-6-47-6,46z /><path class=c38 d=M624,312l7-23-5-47-7,23zM618,303l6,9-5-47-6-8z /><path class=c41 d=M611,272l7,31-5-46-7-31z /><path class=c46 d=M604,241l7,31-5-46-7-32z /><path class=c50 d=M598,232l6,9-5-47-6-9z /><path class=c49 d=M591,254l7-22-5-47-7,23z /><path class=c44 d=M584,299l7-45-5-46-7,44z /><path class=c38 d=M578,343l6-44-5-47-6,45z /><path class=c33 d=M571,365l7-22-5-46-7,22z /><path class=c32 d=M565,355l6,10-5-46-7-10z /><path class=c36 d=M558,323l7,32-6-46-6-33z /><path class=c41 d=M551,290l7,33-5-47-7-32z /><path class=c45 d=M545,280l6,10-5-46-6-11zM538,301l7-21-5-47-7,21z /><path class=c40 d=M531,344l7-43-5-47-7,44z /><path class=c33 d=M525,387l6-43-5-46-6,43z /><path class=c29 d=M518,408l7-21-5-46-7,20z /><path class=c28 d=M511,397l7,11-5-47-7-11z /><path class=c32 d=M505,363l6,34-5-47-6-34z /><path class=c38 d=M498,329l7,34-5-47-7-34z /><path class=c42 d=M492,317l6,12-5-47-7-12zM485,337l7-20-6-47-6,20z /><path class=c37 d=M478,379l7-42-5-47-7,42z /><path class=c31 d=M472,420l6-41-5-47-7,42z /><path class=c26 d=M465,440l7-20-6-46-6,19zM458,427l7,13-5-47-7-13z /><path class=c30 d=M452,392l6,35-5-47-6-35z /><path class=c36 d=M445,356l7,36-5-47-7-35z /><path class=c40 d=M438,343l7,13-5-46-7-13zM432,362l6-19-5-46-6,18z /><path class=c36 d=M425,402l7-40-5-47-7,41z /><path class=c30 d=M418,443l7-41-5-46-7,40z /><path class=c25 d=M412,460l6-17-5-47-6,18zM405,447l7,13-5-46-7-14z /><path class=c30 d=M399,410l6,37-5-47-7-37z /><path class=c36 d=M392,373l7,37-6-47-6-36z /><path class=c40 d=M385,359l7,14-5-46-7-15zM379,376l6-17-5-47-6,17z /><path class=c36 d=M372,415l7-39-5-47-7,39z /><path class=c30 d=M365,454l7-39-5-47-7,39z /><path class=c26 d=M359,471l6-17-5-47-6,17zM352,455l7,16-5-47-7-15z /><path class=c31 d=M345,417l7,38-5-46-7-38z /><path class=c37 d=M339,379l6,38-5-46-6-38z /><path class=c42 d=M332,364l7,15-5-46-7-16zM326,379l6-15-5-47-7,16z /><path class=c38 d=M319,417l7-38-6-46-6,37z /><path class=c33 d=M312,455l7-38-5-47-7,38z /><path class=c29 d=M306,470l6-15-5-47-7,15zM299,453l7,17-6-47-6-16z /><path class=c34 d=M292,414l7,39-5-46-7-40z /><path class=c40 d=M286,375l6,39-5-47-6-39z /><path class=c45 d=M279,358l7,17-5-47-7-17z /><path class=c46 d=M272,372l7-14-5-47-7,14z /><path class=c42 d=M266,408l6-36-5-47-6,37z /><path class=c36 d=M259,445l7-37-5-46-7,36z /><path class=c33 d=M252,458l7-13-5-47-7,14zM246,440l6,18-5-46-6-18z /><path class=c38 d=M239,400l7,40-5-46-7-41z /><path class=c45 d=M233,359l6,41-5-47-7-40z /><path class=c50 d=M226,341l7,18-6-46-6-19z /><path class=c51 d=M219,354l7-13-5-47-7,13z /><path class=c47 d=M213,389l6-35-5-47-6,35z /><path class=c42 d=M206,424l7-35-5-47-7,35z /><path class=c38 d=M199,436l7-12-5-47-7,13z /><path class=c39 d=M193,417l6,19-5-46-6-20z /><path class=c44 d=M186,375l7,42-5-47-7-42z /><path class=c51 d=M179,333l7,42-5-47-7-42z /><path class=c56 d=M173,313l6,20-5-47-6-20z /><path class=c57 d=M166,325l7-12-5-47-7,12z /><path class=c54 d=M160,358l6-33-5-47-7,34z /><path class=c49 d=M153,392l7-34-6-46-6,33z /><path class=c45 d=M146,403l7-11-5-47-7,11z /><path class=c38 d=M676,287l7,7-6-46-6-7z /><path class=c41 d=M669,257l7,30-5-46-7-30z /><path class=c46 d=M663,227l6,30-5-46-6-30z /><path class=c49 d=M656,220l7,7-5-46-7-8zM649,243l7-23-5-47-7,24z /><path class=c43 d=M643,289l6-46-5-46-6,46z /><path class=c37 d=M636,335l7-46-5-46-7,46z /><path class=c31 d=M629,358l7-23-5-46-7,23zM623,350l6,8-5-46-6-9z /><path class=c34 d=M616,319l7,31-5-47-7-31z /><path class=c40 d=M609,287l7,32-5-47-7-31z /><path class=c43 d=M603,278l6,9-5-46-6-9z /><path class=c42 d=M596,301l7-23-5-46-7,22z /><path class=c37 d=M590,345l6-44-5-47-7,45z /><path class=c31 d=M583,390l7-45-6-46-6,44z /><path class=c26 d=M576,412l7-22-5-47-7,22z /><path class=c25 d=M570,402l6,10-5-47-6-10z /><path class=c29 d=M563,369l7,33-5-47-7-32z /><path class=c35 d=M556,337l7,32-5-46-7-33z /><path class=c38 d=M550,326l6,11-5-47-6-10zM543,347l7-21-5-46-7,21z /><path class=c33 d=M536,391l7-44-5-46-7,43z /><path class=c27 d=M530,434l6-43-5-47-6,43z /><path class=c22 d=M523,454l7-20-5-47-7,21z /><path class=c21 d=M517,443l6,11-5-46-7-11z /><path class=c25 d=M510,409l7,34-6-46-6-34z /><path class=c31 d=M503,375l7,34-5-46-7-34z /><path class=c35 d=M497,363l6,12-5-46-6-12zM490,383l7-20-5-46-7,20z /><path class=c30 d=M483,425l7-42-5-46-7,42z /><path class=c24 d=M477,467l6-42-5-46-6,41z /><path class=c19 d=M470,486l7-19-5-47-7,20zM463,473l7,13-5-46-7-13z /><path class=c23 d=M457,438l6,35-5-46-6-35z /><path class=c29 d=M450,403l7,35-5-46-7-36z /><path class=c33 d=M443,390l7,13-5-47-7-13zM437,408l6-18-5-47-6,19z /><path class=c29 d=M430,449l7-41-5-46-7,40z /><path class=c23 d=M424,489l6-40-5-47-7,41z /><path class=c19 d=M417,507l7-18-6-46-6,17zM410,493l7,14-5-47-7-13z /><path class=c23 d=M404,456l6,37-5-46-6-37z /><path class=c29 d=M397,420l7,36-5-46-7-37z /><path class=c33 d=M390,405l7,15-5-47-7-14z /><path class=c34 d=M384,422l6-17-5-46-6,17z /><path class=c29 d=M377,462l7-40-5-46-7,39z /><path class=c23 d=M370,501l7-39-5-47-7,39z /><path class=c19 d=M364,517l6-16-5-47-6,17z /><path class=c20 d=M357,502l7,15-5-46-7-16z /><path class=c24 d=M351,464l6,38-5-47-7-38z /><path class=c30 d=M344,426l7,38-6-47-6-38z /><path class=c35 d=M337,410l7,16-5-47-7-15zM331,426l6-16-5-46-6,15z /><path class=c31 d=M324,464l7-38-5-47-7,38z /><path class=c26 d=M317,501l7-37-5-47-7,38z /><path class=c22 d=M311,516l6-15-5-46-6,15zM304,500l7,16-5-46-7-17z /><path class=c27 d=M297,460l7,40-5-47-7-39z /><path class=c33 d=M291,421l6,39-5-46-6-39z /><path class=c38 d=M284,404l7,17-5-46-7-17z /><path class=c39 d=M277,418l7-14-5-46-7,14z /><path class=c35 d=M271,455l6-37-5-46-6,36z /><path class=c29 d=M264,491l7-36-5-47-7,37z /><path class=c26 d=M258,505l6-14-5-46-7,13zM251,487l7,18-6-47-6-18z /><path class=c31 d=M244,446l7,41-5-47-7-40z /><path class=c38 d=M238,406l6,40-5-46-6-41z /><path class=c43 d=M231,387l7,19-5-47-7-18z /><path class=c44 d=M224,400l7-13-5-46-7,13z /><path class=c40 d=M218,435l6-35-5-46-6,35z /><path class=c35 d=M211,470l7-35-5-46-7,35z /><path class=c31 d=M204,483l7-13-5-46-7,12z /><path class=c32 d=M198,463l6,20-5-47-6-19z /><path class=c37 d=M191,421l7,42-5-46-7-42z /><path class=c44 d=M185,379l6,42-5-46-7-42z /><path class=c49 d=M178,359l7,20-6-46-6-20z /><path class=c50 d=M171,371l7-12-5-46-7,12z /><path class=c47 d=M165,405l6-34-5-46-6,33z /><path class=c42 d=M158,438l7-33-5-47-7,34z /><path class=c38 d=M151,449l7-11-5-46-7,11z /><path class=c32 d=M681,311l7,7-5-24-7-7z /><path class=c36 d=M674,281l7,30-5-24-7-30z /><path class=c41 d=M668,251l6,30-5-24-6-30z /><path class=c44 d=M661,244l7,7-5-24-7-7z /><path class=c43 d=M654,267l7-23-5-24-7,23z /><path class=c38 d=M648,313l6-46-5-24-6,46z /><path class=c31 d=M641,359l7-46-5-24-7,46z /><path class=c26 d=M635,382l6-23-5-24-7,23zM628,374l7,8-6-24-6-8z /><path class=c29 d=M621,343l7,31-5-24-7-31z /><path class=c34 d=M615,311l6,32-5-24-7-32z /><path class=c38 d=M608,302l7,9-6-24-6-9z /><path class=c37 d=M601,325l7-23-5-24-7,23z /><path class=c32 d=M595,369l6-44-5-24-6,44z /><path class=c26 d=M588,414l7-45-5-24-7,45z /><path class=c21 d=M581,436l7-22-5-24-7,22z /><path class=c20 d=M575,426l6,10-5-24-6-10z /><path class=c24 d=M568,393l7,33-5-24-7-33z /><path class=c29 d=M561,361l7,32-5-24-7-32z /><path class=c33 d=M555,350l6,11-5-24-6-11zM548,371l7-21-5-24-7,21z /><path class=c28 d=M542,415l6-44-5-24-7,44z /><path class=c21 d=M535,458l7-43-6-24-6,43z /><path class=c17 d=M528,478l7-20-5-24-7,20z /><path class=c16 d=M522,467l6,11-5-24-6-11z /><path class=c20 d=M515,433l7,34-5-24-7-34z /><path class=c26 d=M508,399l7,34-5-24-7-34z /><path class=c30 d=M502,387l6,12-5-24-6-12zM495,407l7-20-5-24-7,20z /><path class=c25 d=M488,449l7-42-5-24-7,42z /><path class=c19 d=M482,491l6-42-5-24-6,42z /><path class=c14 d=M475,510l7-19-5-24-7,19zM469,497l6,13-5-24-7-13z /><path class=c18 d=M462,462l7,35-6-24-6-35z /><path class=c24 d=M455,427l7,35-5-24-7-35z /><path class=c28 d=M449,414l6,13-5-24-7-13zM442,432l7-18-6-24-6,18z /><path class=c24 d=M435,473l7-41-5-24-7,41z /><path class=c18 d=M429,513l6-40-5-24-6,40z /><path class=c13 d=M422,531l7-18-5-24-7,18zM415,517l7,14-5-24-7-14z /><path class=c18 d=M409,480l6,37-5-24-6-37z /><path class=c24 d=M402,444l7,36-5-24-7-36z /><path class=c28 d=M395,429l7,15-5-24-7-15zM389,446l6-17-5-24-6,17z /><path class=c24 d=M382,485l7-39-5-24-7,40z /><path class=c18 d=M376,524l6-39-5-23-7,39z /><path class=c14 d=M369,541l7-17-6-23-6,16zM362,526l7,15-5-24-7-15z /><path class=c19 d=M356,488l6,38-5-24-6-38z /><path class=c25 d=M349,450l7,38-5-24-7-38z /><path class=c30 d=M342,434l7,16-5-24-7-16zM336,450l6-16-5-24-6,16z /><path class=c26 d=M329,487l7-37-5-24-7,38z /><path class=c21 d=M322,525l7-38-5-23-7,37z /><path class=c17 d=M316,540l6-15-5-24-6,15zM309,524l7,16-5-24-7-16z /><path class=c22 d=M303,484l6,40-5-24-7-40z /><path class=c28 d=M296,445l7,39-6-24-6-39z /><path class=c33 d=M289,428l7,17-5-24-7-17z /><path class=c34 d=M283,442l6-14-5-24-7,14z /><path class=c30 d=M276,479l7-37-6-24-6,37z /><path class=c24 d=M269,515l7-36-5-24-7,36z /><path class=c21 d=M263,529l6-14-5-24-6,14zM256,511l7,18-5-24-7-18z /><path class=c26 d=M249,470l7,41-5-24-7-41z /><path class=c33 d=M243,429l6,41-5-24-6-40z /><path class=c38 d=M236,411l7,18-5-23-7-19z /><path class=c39 d=M229,424l7-13-5-24-7,13z /><path class=c35 d=M223,459l6-35-5-24-6,35z /><path class=c30 d=M216,494l7-35-5-24-7,35z /><path class=c26 d=M210,506l6-12-5-24-7,13z /><path class=c27 d=M203,487l7,19-6-23-6-20z /><path class=c32 d=M196,445l7,42-5-24-7-42z /><path class=c39 d=M190,403l6,42-5-24-6-42z /><path class=c44 d=M183,383l7,20-5-24-7-20z /><path class=c45 d=M176,395l7-12-5-24-7,12z /><path class=c42 d=M170,429l6-34-5-24-6,34z /><path class=c37 d=M163,462l7-33-5-24-7,33z /><path class=c33 d=M156,473l7-11-5-24-7,11z /><path class=c32 d=M686,303l7,7-5,8-7-7z /><path class=c35 d=M679,273l7,30-5,8-7-30z /><path class=c40 d=M673,243l6,30-5,8-6-30z /><path class=c44 d=M666,236l7,7-5,8-7-7z /><path class=c43 d=M660,259l6-23-5,8-7,23z /><path class=c38 d=M653,305l7-46-6,8-6,46z /><path class=c31 d=M646,351l7-46-5,8-7,46z /><path class=c26 d=M640,374l6-23-5,8-6,23z /><path class=c25 d=M633,366l7,8-5,8-7-8z /><path class=c28 d=M626,335l7,31-5,8-7-31z /><path class=c34 d=M620,303l6,32-5,8-6-32z /><path class=c37 d=M613,294l7,9-5,8-7-9zM606,317l7-23-5,8-7,23z /><path class=c32 d=M600,361l6-44-5,8-6,44z /><path class=c25 d=M593,406l7-45-5,8-7,45z /><path class=c20 d=M587,428l6-22-5,8-7,22z /><path class=c19 d=M580,418l7,10-6,8-6-10z /><path class=c23 d=M573,385l7,33-5,8-7-33z /><path class=c29 d=M567,353l6,32-5,8-7-32z /><path class=c32 d=M560,342l7,11-6,8-6-11zM553,363l7-21-5,8-7,21z /><path class=c27 d=M547,407l6-44-5,8-6,44z /><path class=c21 d=M540,450l7-43-5,8-7,43z /><path class=c16 d=M533,470l7-20-5,8-7,20zM527,459l6,11-5,8-6-11z /><path class=c19 d=M520,425l7,34-5,8-7-34z /><path class=c25 d=M513,391l7,34-5,8-7-34z /><path class=c29 d=M507,379l6,12-5,8-6-12zM500,399l7-20-5,8-7,20z /><path class=c24 d=M494,441l6-42-5,8-7,42z /><path class=c18 d=M487,483l7-42-6,8-6,42z /><path class=c13 d=M480,502l7-19-5,8-7,19zM474,489l6,13-5,8-6-13z /><path class=c17 d=M467,454l7,35-5,8-7-35z /><path class=c23 d=M460,419l7,35-5,8-7-35z /><path class=c28 d=M454,406l6,13-5,8-6-13z /><path class=c27 d=M447,424l7-18-5,8-7,18z /><path class=c23 d=M440,465l7-41-5,8-7,41z /><path class=c17 d=M434,505l6-40-5,8-6,40z /><path class=c13 d=M427,523l7-18-5,8-7,18zM421,509l6,14-5,8-7-14z /><path class=c17 d=M414,472l7,37-6,8-6-37z /><path class=c23 d=M407,436l7,36-5,8-7-36z /><path class=c28 d=M401,421l6,15-5,8-7-15zM394,438l7-17-6,8-6,17z /><path class=c23 d=M387,478l7-40-5,8-7,39z /><path class=c18 d=M381,517l6-39-5,7-6,39z /><path class=c13 d=M374,533l7-16-5,7-7,17z /><path class=c14 d=M367,518l7,15-5,8-7-15z /><path class=c18 d=M361,480l6,38-5,8-6-38z /><path class=c25 d=M354,442l7,38-5,8-7-38z /><path class=c29 d=M347,426l7,16-5,8-7-16zM341,442l6-16-5,8-6,16z /><path class=c25 d=M334,480l7-38-5,8-7,37z /><path class=c20 d=M328,517l6-37-5,7-7,38z /><path class=c16 d=M321,532l7-15-6,8-6,15zM314,516l7,16-5,8-7-16z /><path class=c21 d=M308,476l6,40-5,8-6-40z /><path class=c27 d=M301,437l7,39-5,8-7-39z /><path class=c32 d=M294,420l7,17-5,8-7-17z /><path class=c33 d=M288,434l6-14-5,8-6,14z /><path class=c29 d=M281,471l7-37-5,8-7,37z /><path class=c23 d=M274,507l7-36-5,8-7,36z /><path class=c20 d=M268,521l6-14-5,8-6,14zM261,503l7,18-5,8-7-18z /><path class=c25 d=M255,462l6,41-5,8-7-41z /><path class=c32 d=M248,422l7,40-6,8-6-41z /><path class=c37 d=M241,403l7,19-5,7-7-18z /><path class=c38 d=M235,416l6-13-5,8-7,13z /><path class=c34 d=M228,451l7-35-6,8-6,35z /><path class=c29 d=M221,486l7-35-5,8-7,35z /><path class=c25 d=M215,499l6-13-5,8-6,12z /><path class=c26 d=M208,479l7,20-5,7-7-19z /><path class=c31 d=M201,437l7,42-5,8-7-42z /><path class=c38 d=M195,395l6,42-5,8-6-42z /><path class=c43 d=M188,375l7,20-5,8-7-20z /><path class=c44 d=M181,387l7-12-5,8-7,12z /><path class=c41 d=M175,421l6-34-5,8-6,34z /><path class=c36 d=M168,454l7-33-5,8-7,33z /><path class=c32 d=M162,465l6-11-5,8-7,11z /><path class=c35 d=M691,273l7,7-5,30-7-7z /><path class=c39 d=M685,243l6,30-5,30-7-30z /><path class=c44 d=M678,213l7,30-6,30-6-30z /><path class=c47 d=M671,205l7,8-5,30-7-7z /><path class=c46 d=M665,229l6-24-5,31-6,23z /><path class=c41 d=M658,275l7-46-5,30-7,46z /><path class=c34 d=M651,321l7-46-5,30-7,46z /><path class=c29 d=M645,344l6-23-5,30-6,23z /><path class=c28 d=M638,335l7,9-5,30-7-8z /><path class=c32 d=M631,304l7,31-5,31-7-31z /><path class=c37 d=M625,273l6,31-5,31-6-32z /><path class=c41 d=M618,264l7,9-5,30-7-9z /><path class=c40 d=M612,286l6-22-5,30-7,23z /><path class=c35 d=M605,331l7-45-6,31-6,44z /><path class=c28 d=M598,375l7-44-5,30-7,45z /><path class=c23 d=M592,397l6-22-5,31-6,22zM585,387l7,10-5,31-7-10z /><path class=c27 d=M578,355l7,32-5,31-7-33z /><path class=c32 d=M572,322l6,33-5,30-6-32z /><path class=c36 d=M565,312l7,10-5,31-7-11z /><path class=c35 d=M558,333l7-21-5,30-7,21z /><path class=c31 d=M552,376l6-43-5,30-6,44z /><path class=c24 d=M545,419l7-43-5,31-7,43z /><path class=c19 d=M538,440l7-21-5,31-7,20zM532,429l6,11-5,30-6-11z /><path class=c23 d=M525,395l7,34-5,30-7-34z /><path class=c29 d=M519,361l6,34-5,30-7-34z /><path class=c33 d=M512,349l7,12-6,30-6-12z /><path class=c32 d=M505,369l7-20-5,30-7,20z /><path class=c28 d=M499,411l6-42-5,30-6,42z /><path class=c22 d=M492,452l7-41-5,30-7,42z /><path class=c17 d=M485,472l7-20-5,31-7,19zM479,459l6,13-5,30-6-13z /><path class=c21 d=M472,424l7,35-5,30-7-35z /><path class=c27 d=M465,388l7,36-5,30-7-35z /><path class=c31 d=M459,375l6,13-5,31-6-13zM452,394l7-19-5,31-7,18z /><path class=c27 d=M446,434l6-40-5,30-7,41z /><path class=c21 d=M439,475l7-41-6,31-6,40z /><path class=c16 d=M432,492l7-17-5,30-7,18zM426,479l6,13-5,31-6-14z /><path class=c21 d=M419,442l7,37-5,30-7-37z /><path class=c27 d=M412,405l7,37-5,30-7-36z /><path class=c31 d=M406,391l6,14-5,31-6-15zM399,408l7-17-5,30-7,17z /><path class=c27 d=M392,447l7-39-5,30-7,40z /><path class=c21 d=M386,486l6-39-5,31-6,39z /><path class=c17 d=M379,503l7-17-5,31-7,16zM372,487l7,16-5,30-7-15z /><path class=c22 d=M366,449l6,38-5,31-6-38z /><path class=c28 d=M359,411l7,38-5,31-7-38z /><path class=c33 d=M353,396l6,15-5,31-7-16zM346,411l7-15-6,30-6,16z /><path class=c29 d=M339,449l7-38-5,31-7,38z /><path class=c23 d=M333,487l6-38-5,31-6,37z /><path class=c19 d=M326,502l7-15-5,30-7,15z /><path class=c20 d=M319,485l7,17-5,30-7-16z /><path class=c24 d=M313,446l6,39-5,31-6-40z /><path class=c31 d=M306,407l7,39-5,30-7-39z /><path class=c36 d=M299,390l7,17-5,30-7-17zM293,404l6-14-5,30-6,14z /><path class=c33 d=M286,440l7-36-5,30-7,37z /><path class=c27 d=M280,477l6-37-5,31-7,36z /><path class=c23 d=M273,490l7-13-6,30-6,14z /><path class=c24 d=M266,472l7,18-5,31-7-18z /><path class=c29 d=M260,432l6,40-5,31-6-41z /><path class=c36 d=M253,391l7,41-5,30-7-40z /><path class=c41 d=M246,373l7,18-5,31-7-19zM240,386l6-13-5,30-6,13z /><path class=c38 d=M233,421l7-35-5,30-7,35z /><path class=c32 d=M226,456l7-35-5,30-7,35z /><path class=c29 d=M220,468l6-12-5,30-6,13z /><path class=c30 d=M213,449l7,19-5,31-7-20z /><path class=c35 d=M206,407l7,42-5,30-7-42z /><path class=c42 d=M200,365l6,42-5,30-6-42z /><path class=c47 d=M193,345l7,20-5,30-7-20z /><path class=c48 d=M187,357l6-12-5,30-7,12z /><path class=c44 d=M180,390l7-33-6,30-6,34z /><path class=c39 d=M173,424l7-34-5,31-7,33z /><path class=c36 d=M167,435l6-11-5,30-6,11z /><path class=c41 d=M696,242l7,7-5,31-7-7z /><path class=c44 d=M690,212l6,30-5,31-6-30z /><path class=c49 d=M683,182l7,30-5,31-7-30z /><path class=c52 d=M676,175l7,7-5,31-7-8zM670,198l6-23-5,30-6,24z /><path class=c46 d=M663,244l7-46-5,31-7,46z /><path class=c40 d=M656,290l7-46-5,31-7,46z /><path class=c34 d=M650,313l6-23-5,31-6,23zM643,305l7,8-5,31-7-9z /><path class=c37 d=M637,274l6,31-5,30-7-31z /><path class=c43 d=M630,242l7,32-6,30-6-31z /><path class=c46 d=M623,233l7,9-5,31-7-9z /><path class=c45 d=M617,256l6-23-5,31-6,22z /><path class=c40 d=M610,300l7-44-5,30-7,45z /><path class=c34 d=M603,345l7-45-5,31-7,44z /><path class=c29 d=M597,367l6-22-5,30-6,22z /><path class=c28 d=M590,357l7,10-5,30-7-10z /><path class=c32 d=M583,324l7,33-5,30-7-32z /><path class=c38 d=M577,292l6,32-5,31-6-33z /><path class=c41 d=M570,281l7,11-5,30-7-10zM564,302l6-21-5,31-7,21z /><path class=c36 d=M557,346l7-44-6,31-6,43z /><path class=c30 d=M550,389l7-43-5,30-7,43z /><path class=c25 d=M544,409l6-20-5,30-7,21z /><path class=c24 d=M537,398l7,11-6,31-6-11z /><path class=c28 d=M530,364l7,34-5,31-7-34z /><path class=c34 d=M524,330l6,34-5,31-6-34z /><path class=c38 d=M517,318l7,12-5,31-7-12zM510,338l7-20-5,31-7,20z /><path class=c33 d=M504,380l6-42-5,31-6,42z /><path class=c27 d=M497,422l7-42-5,31-7,41z /><path class=c22 d=M490,441l7-19-5,30-7,20zM484,428l6,13-5,31-6-13z /><path class=c26 d=M477,393l7,35-5,31-7-35z /><path class=c32 d=M471,358l6,35-5,31-7-36z /><path class=c36 d=M464,345l7,13-6,30-6-13zM457,363l7-18-5,30-7,19z /><path class=c32 d=M451,404l6-41-5,31-6,40z /><path class=c26 d=M444,444l7-40-5,30-7,41z /><path class=c22 d=M437,462l7-18-5,31-7,17zM431,448l6,14-5,30-6-13z /><path class=c26 d=M424,411l7,37-5,31-7-37z /><path class=c32 d=M417,375l7,36-5,31-7-37z /><path class=c36 d=M411,360l6,15-5,30-6-14z /><path class=c37 d=M404,377l7-17-5,31-7,17z /><path class=c32 d=M398,416l6-39-5,31-7,39z /><path class=c26 d=M391,455l7-39-6,31-6,39z /><path class=c22 d=M384,472l7-17-5,31-7,17z /><path class=c23 d=M378,457l6,15-5,31-7-16z /><path class=c27 d=M371,419l7,38-6,30-6-38z /><path class=c33 d=M364,381l7,38-5,30-7-38z /><path class=c38 d=M358,365l6,16-5,30-6-15zM351,381l7-16-5,31-7,15z /><path class=c34 d=M344,418l7-37-5,30-7,38z /><path class=c29 d=M338,456l6-38-5,31-6,38z /><path class=c25 d=M331,471l7-15-5,31-7,15zM324,455l7,16-5,31-7-17z /><path class=c30 d=M318,415l6,40-5,30-6-39z /><path class=c36 d=M311,376l7,39-5,31-7-39z /><path class=c41 d=M305,359l6,17-5,31-7-17z /><path class=c42 d=M298,373l7-14-6,31-6,14z /><path class=c38 d=M291,410l7-37-5,31-7,36z /><path class=c32 d=M285,446l6-36-5,30-6,37z /><path class=c29 d=M278,460l7-14-5,31-7,13zM271,442l7,18-5,30-7-18z /><path class=c34 d=M265,401l6,41-5,30-6-40z /><path class=c41 d=M258,361l7,40-5,31-7-41z /><path class=c46 d=M251,342l7,19-5,30-7-18z /><path class=c47 d=M245,355l6-13-5,31-6,13z /><path class=c43 d=M238,390l7-35-5,31-7,35z /><path class=c38 d=M232,425l6-35-5,31-7,35z /><path class=c34 d=M225,438l7-13-6,31-6,12z /><path class=c35 d=M218,418l7,20-5,30-7-19z /><path class=c40 d=M212,376l6,42-5,31-7-42z /><path class=c47 d=M205,334l7,42-6,31-6-42z /><path class=c52 d=M198,314l7,20-5,31-7-20z /><path class=c53 d=M192,326l6-12-5,31-6,12z /><path class=c50 d=M185,360l7-34-5,31-7,33z /><path class=c45 d=M178,393l7-33-5,30-7,34z /><path class=c41 d=M172,404l6-11-5,31-6,11z /><path class=c44 d=M701,234l7,7-5,8-7-7z /><path class=c48 d=M695,204l6,30-5,8-6-30z /><path class=c53 d=M688,174l7,30-5,8-7-30z /><path class=c56 d=M682,166l6,8-5,8-7-7z /><path class=c55 d=M675,190l7-24-6,9-6,23z /><path class=c50 d=M668,236l7-46-5,8-7,46z /><path class=c43 d=M662,282l6-46-5,8-7,46z /><path class=c38 d=M655,305l7-23-6,8-6,23z /><path class=c37 d=M648,296l7,9-5,8-7-8z /><path class=c41 d=M642,265l6,31-5,9-6-31z /><path class=c46 d=M635,234l7,31-5,9-7-32z /><path class=c50 d=M628,225l7,9-5,8-7-9z /><path class=c49 d=M622,247l6-22-5,8-6,23z /><path class=c44 d=M615,292l7-45-5,9-7,44z /><path class=c37 d=M608,336l7-44-5,8-7,45z /><path class=c32 d=M602,358l6-22-5,9-6,22zM595,348l7,10-5,9-7-10z /><path class=c36 d=M589,316l6,32-5,9-7-33z /><path class=c41 d=M582,283l7,33-6,8-6-32z /><path class=c45 d=M575,273l7,10-5,9-7-11z /><path class=c44 d=M569,294l6-21-5,8-6,21z /><path class=c40 d=M562,337l7-43-5,8-7,44z /><path class=c33 d=M555,380l7-43-5,9-7,43z /><path class=c28 d=M549,401l6-21-5,9-6,20zM542,390l7,11-5,8-7-11z /><path class=c32 d=M535,356l7,34-5,8-7-34z /><path class=c38 d=M529,322l6,34-5,8-6-34z /><path class=c42 d=M522,310l7,12-5,8-7-12z /><path class=c41 d=M516,330l6-20-5,8-7,20z /><path class=c37 d=M509,372l7-42-6,8-6,42z /><path class=c31 d=M502,413l7-41-5,8-7,42z /><path class=c26 d=M496,433l6-20-5,9-7,19zM489,420l7,13-6,8-6-13z /><path class=c30 d=M482,385l7,35-5,8-7-35z /><path class=c36 d=M476,349l6,36-5,8-6-35z /><path class=c40 d=M469,336l7,13-5,9-7-13zM462,355l7-19-5,9-7,18z /><path class=c36 d=M456,395l6-40-5,8-6,41z /><path class=c29 d=M449,436l7-41-5,9-7,40z /><path class=c25 d=M442,453l7-17-5,8-7,18zM436,439l6,14-5,9-6-14z /><path class=c30 d=M429,403l7,36-5,9-7-37z /><path class=c36 d=M423,366l6,37-5,8-7-36z /><path class=c40 d=M416,352l7,14-6,9-6-15zM409,369l7-17-5,8-7,17z /><path class=c36 d=M403,408l6-39-5,8-6,39z /><path class=c30 d=M396,447l7-39-5,8-7,39z /><path class=c26 d=M389,464l7-17-5,8-7,17zM383,448l6,16-5,8-6-15z /><path class=c31 d=M376,410l7,38-5,9-7-38z /><path class=c37 d=M369,372l7,38-5,9-7-38z /><path class=c42 d=M363,357l6,15-5,9-6-16zM356,372l7-15-5,8-7,16z /><path class=c38 d=M350,410l6-38-5,9-7,37z /><path class=c32 d=M343,448l7-38-6,8-6,38z /><path class=c28 d=M336,463l7-15-5,8-7,15z /><path class=c29 d=M330,446l6,17-5,8-7-16z /><path class=c33 d=M323,407l7,39-6,9-6-40z /><path class=c40 d=M316,368l7,39-5,8-7-39z /><path class=c45 d=M310,351l6,17-5,8-6-17zM303,365l7-14-5,8-7,14z /><path class=c42 d=M296,401l7-36-5,8-7,37z /><path class=c36 d=M290,438l6-37-5,9-6,36z /><path class=c32 d=M283,451l7-13-5,8-7,14z /><path class=c33 d=M276,433l7,18-5,9-7-18z /><path class=c38 d=M270,393l6,40-5,9-6-41z /><path class=c45 d=M263,352l7,41-5,8-7-40z /><path class=c50 d=M257,334l6,18-5,9-7-19zM250,347l7-13-6,8-6,13z /><path class=c47 d=M243,382l7-35-5,8-7,35z /><path class=c41 d=M237,417l6-35-5,8-6,35z /><path class=c38 d=M230,429l7-12-5,8-7,13z /><path class=c39 d=M223,410l7,19-5,9-7-20z /><path class=c44 d=M217,368l6,42-5,8-6-42z /><path class=c51 d=M210,326l7,42-5,8-7-42z /><path class=c56 d=M203,306l7,20-5,8-7-20z /><path class=c57 d=M197,318l6-12-5,8-6,12z /><path class=c53 d=M190,351l7-33-5,8-7,34z /><path class=c48 d=M184,385l6-34-5,9-7,33z /><path class=c45 d=M177,396l7-11-6,8-6,11z /><path class=c44 d=M707,257l6,7-5-23-7-7z /><path class=c47 d=M700,227l7,30-6-23-6-30z /><path class=c52 d=M693,197l7,30-5-23-7-30z /><path class=c55 d=M687,189l6,8-5-23-6-8zM680,213l7-24-5-23-7,24z /><path class=c49 d=M673,259l7-46-5-23-7,46z /><path class=c42 d=M667,305l6-46-5-23-6,46z /><path class=c37 d=M660,328l7-23-5-23-7,23zM653,319l7,9-5-23-7-9z /><path class=c40 d=M647,288l6,31-5-23-6-31z /><path class=c45 d=M640,257l7,31-5-23-7-31z /><path class=c49 d=M633,248l7,9-5-23-7-9z /><path class=c48 d=M627,270l6-22-5-23-6,22z /><path class=c43 d=M620,315l7-45-5-23-7,45z /><path class=c37 d=M614,359l6-44-5-23-7,44z /><path class=c32 d=M607,381l7-22-6-23-6,22z /><path class=c31 d=M600,371l7,10-5-23-7-10z /><path class=c35 d=M594,339l6,32-5-23-6-32z /><path class=c40 d=M587,306l7,33-5-23-7-33z /><path class=c44 d=M580,296l7,10-5-23-7-10zM574,317l6-21-5-23-6,21z /><path class=c39 d=M567,360l7-43-5-23-7,43z /><path class=c32 d=M560,403l7-43-5-23-7,43z /><path class=c28 d=M554,424l6-21-5-23-6,21z /><path class=c27 d=M547,413l7,11-5-23-7-11z /><path class=c31 d=M541,379l6,34-5-23-7-34z /><path class=c37 d=M534,345l7,34-6-23-6-34z /><path class=c41 d=M527,333l7,12-5-23-7-12zM521,353l6-20-5-23-6,20z /><path class=c36 d=M514,395l7-42-5-23-7,42z /><path class=c30 d=M507,436l7-41-5-23-7,41z /><path class=c25 d=M501,456l6-20-5-23-6,20zM494,443l7,13-5-23-7-13z /><path class=c29 d=M487,408l7,35-5-23-7-35z /><path class=c35 d=M481,373l6,35-5-23-6-36z /><path class=c39 d=M474,359l7,14-5-24-7-13zM467,378l7-19-5-23-7,19z /><path class=c35 d=M461,418l6-40-5-23-6,40z /><path class=c29 d=M454,459l7-41-5-23-7,41z /><path class=c24 d=M448,477l6-18-5-23-7,17zM441,463l7,14-6-24-6-14z /><path class=c29 d=M434,426l7,37-5-24-7-36z /><path class=c35 d=M428,389l6,37-5-23-6-37z /><path class=c39 d=M421,375l7,14-5-23-7-14zM414,392l7-17-5-23-7,17z /><path class=c35 d=M408,431l6-39-5-23-6,39z /><path class=c29 d=M401,470l7-39-5-23-7,39z /><path class=c25 d=M394,487l7-17-5-23-7,17zM388,471l6,16-5-23-6-16z /><path class=c30 d=M381,433l7,38-5-23-7-38z /><path class=c36 d=M375,395l6,38-5-23-7-38z /><path class=c41 d=M368,380l7,15-6-23-6-15zM361,395l7-15-5-23-7,15z /><path class=c37 d=M355,433l6-38-5-23-6,38z /><path class=c32 d=M348,471l7-38-5-23-7,38z /><path class=c28 d=M341,486l7-15-5-23-7,15zM335,469l6,17-5-23-6-17z /><path class=c33 d=M328,430l7,39-5-23-7-39z /><path class=c39 d=M321,391l7,39-5-23-7-39z /><path class=c44 d=M315,374l6,17-5-23-6-17z /><path class=c45 d=M308,388l7-14-5-23-7,14z /><path class=c41 d=M301,424l7-36-5-23-7,36z /><path class=c35 d=M295,461l6-37-5-23-6,37z /><path class=c32 d=M288,474l7-13-5-23-7,13zM282,456l6,18-5-23-7-18z /><path class=c37 d=M275,416l7,40-6-23-6-40z /><path class=c44 d=M268,375l7,41-5-23-7-41z /><path class=c49 d=M262,357l6,18-5-23-6-18z /><path class=c50 d=M255,370l7-13-5-23-7,13z /><path class=c46 d=M248,405l7-35-5-23-7,35z /><path class=c41 d=M242,440l6-35-5-23-6,35z /><path class=c37 d=M235,452l7-12-5-23-7,12z /><path class=c38 d=M228,433l7,19-5-23-7-19z /><path class=c43 d=M222,391l6,42-5-23-6-42z /><path class=c50 d=M215,349l7,42-5-23-7-42z /><path class=c55 d=M209,329l6,20-5-23-7-20z /><path class=c56 d=M202,341l7-12-6-23-6,12z /><path class=c53 d=M195,374l7-33-5-23-7,33z /><path class=c48 d=M189,408l6-34-5-23-6,34z /><path class=c44 d=M182,419l7-11-5-23-7,11z /><path class=c39 d=M712,302l6,7-5-45-6-7z /><path class=c42 d=M705,272l7,30-5-45-7-30z /><path class=c47 d=M698,242l7,30-5-45-7-30z /><path class=c50 d=M692,235l6,7-5-45-6-8zM685,258l7-23-5-46-7,24z /><path class=c44 d=M678,304l7-46-5-45-7,46z /><path class=c37 d=M672,350l6-46-5-45-6,46z /><path class=c32 d=M665,373l7-23-5-45-7,23zM659,365l6,8-5-45-7-9z /><path class=c35 d=M652,334l7,31-6-46-6-31z /><path class=c40 d=M645,302l7,32-5-46-7-31z /><path class=c44 d=M639,293l6,9-5-45-7-9z /><path class=c43 d=M632,316l7-23-6-45-6,22z /><path class=c38 d=M625,360l7-44-5-46-7,45z /><path class=c32 d=M619,405l6-45-5-45-6,44z /><path class=c27 d=M612,427l7-22-5-46-7,22z /><path class=c26 d=M605,417l7,10-5-46-7-10z /><path class=c30 d=M599,384l6,33-5-46-6-32z /><path class=c35 d=M592,352l7,32-5-45-7-33z /><path class=c39 d=M585,341l7,11-5-46-7-10zM579,362l6-21-5-45-6,21z /><path class=c34 d=M572,406l7-44-5-45-7,43z /><path class=c27 d=M566,449l6-43-5-46-7,43z /><path class=c23 d=M559,469l7-20-6-46-6,21z /><path class=c22 d=M552,458l7,11-5-45-7-11z /><path class=c26 d=M546,424l6,34-5-45-6-34z /><path class=c32 d=M539,390l7,34-5-45-7-34z /><path class=c36 d=M532,378l7,12-5-45-7-12zM526,398l6-20-5-45-6,20z /><path class=c31 d=M519,440l7-42-5-45-7,42z /><path class=c25 d=M512,482l7-42-5-45-7,41z /><path class=c20 d=M506,501l6-19-5-46-6,20zM499,488l7,13-5-45-7-13z /><path class=c24 d=M493,453l6,35-5-45-7-35z /><path class=c30 d=M486,418l7,35-6-45-6-35z /><path class=c34 d=M479,405l7,13-5-45-7-14zM473,423l6-18-5-46-7,19z /><path class=c30 d=M466,464l7-41-6-45-6,40z /><path class=c24 d=M459,504l7-40-5-46-7,41z /><path class=c20 d=M453,522l6-18-5-45-6,18zM446,508l7,14-5-45-7-14z /><path class=c24 d=M439,471l7,37-5-45-7-37z /><path class=c30 d=M433,435l6,36-5-45-6-37z /><path class=c34 d=M426,420l7,15-5-46-7-14z /><path class=c35 d=M419,437l7-17-5-45-7,17z /><path class=c30 d=M413,476l6-39-5-45-6,39z /><path class=c24 d=M406,515l7-39-5-45-7,39z /><path class=c20 d=M400,532l6-17-5-45-7,17zM393,517l7,15-6-45-6-16z /><path class=c25 d=M386,479l7,38-5-46-7-38z /><path class=c31 d=M380,441l6,38-5-46-6-38z /><path class=c36 d=M373,425l7,16-5-46-7-15zM366,441l7-16-5-45-7,15z /><path class=c32 d=M360,478l6-37-5-46-6,38z /><path class=c27 d=M353,516l7-38-5-45-7,38z /><path class=c23 d=M346,531l7-15-5-45-7,15zM340,515l6,16-5-45-6-17z /><path class=c28 d=M333,475l7,40-5-46-7-39z /><path class=c34 d=M327,436l6,39-5-45-7-39z /><path class=c39 d=M320,419l7,17-6-45-6-17z /><path class=c40 d=M313,433l7-14-5-45-7,14z /><path class=c36 d=M307,470l6-37-5-45-7,36z /><path class=c30 d=M300,506l7-36-6-46-6,37z /><path class=c27 d=M293,520l7-14-5-45-7,13zM287,502l6,18-5-46-6-18z /><path class=c32 d=M280,461l7,41-5-46-7-40z /><path class=c39 d=M273,420l7,41-5-45-7-41z /><path class=c44 d=M267,402l6,18-5-45-6-18z /><path class=c45 d=M260,415l7-13-5-45-7,13z /><path class=c41 d=M253,450l7-35-5-45-7,35z /><path class=c36 d=M247,485l6-35-5-45-6,35z /><path class=c32 d=M240,497l7-12-5-45-7,12z /><path class=c33 d=M234,478l6,19-5-45-7-19z /><path class=c38 d=M227,436l7,42-6-45-6-42z /><path class=c45 d=M220,394l7,42-5-45-7-42z /><path class=c50 d=M214,374l6,20-5-45-6-20z /><path class=c51 d=M207,386l7-12-5-45-7,12z /><path class=c48 d=M200,420l7-34-5-45-7,33z /><path class=c43 d=M194,453l6-33-5-46-6,34z /><path class=c39 d=M187,464l7-11-5-45-7,11z /><path class=c32 d=M717,347l6,7-5-45-6-7z /><path class=c35 d=M710,317l7,30-5-45-7-30z /><path class=c40 d=M703,287l7,30-5-45-7-30z /><path class=c44 d=M697,280l6,7-5-45-6-7z /><path class=c43 d=M690,303l7-23-5-45-7,23z /><path class=c38 d=M684,349l6-46-5-45-7,46z /><path class=c31 d=M677,395l7-46-6-45-6,46z /><path class=c26 d=M670,418l7-23-5-45-7,23z /><path class=c25 d=M664,410l6,8-5-45-6-8z /><path class=c28 d=M657,379l7,31-5-45-7-31z /><path class=c34 d=M650,347l7,32-5-45-7-32z /><path class=c37 d=M644,338l6,9-5-45-6-9zM637,361l7-23-5-45-7,23z /><path class=c32 d=M630,405l7-44-5-45-7,44z /><path class=c25 d=M624,450l6-45-5-45-6,45z /><path class=c20 d=M617,472l7-22-5-45-7,22z /><path class=c19 d=M610,462l7,10-5-45-7-10z /><path class=c23 d=M604,429l6,33-5-45-6-33z /><path class=c29 d=M597,397l7,32-5-45-7-32z /><path class=c33 d=M591,386l6,11-5-45-7-11z /><path class=c32 d=M584,407l7-21-6-45-6,21z /><path class=c27 d=M577,451l7-44-5-45-7,44z /><path class=c21 d=M571,494l6-43-5-45-6,43z /><path class=c16 d=M564,514l7-20-5-45-7,20zM557,503l7,11-5-45-7-11z /><path class=c20 d=M551,469l6,34-5-45-6-34z /><path class=c25 d=M544,435l7,34-5-45-7-34z /><path class=c29 d=M537,423l7,12-5-45-7-12zM531,443l6-20-5-45-6,20z /><path class=c24 d=M524,485l7-42-5-45-7,42z /><path class=c18 d=M518,527l6-42-5-45-7,42z /><path class=c14 d=M511,546l7-19-6-45-6,19z /><path class=c13 d=M504,533l7,13-5-45-7-13z /><path class=c18 d=M498,498l6,35-5-45-6-35z /><path class=c24 d=M491,463l7,35-5-45-7-35z /><path class=c28 d=M484,450l7,13-5-45-7-13zM478,468l6-18-5-45-6,18z /><path class=c23 d=M471,509l7-41-5-45-7,41z /><path class=c17 d=M464,549l7-40-5-45-7,40z /><path class=c13 d=M458,567l6-18-5-45-6,18zM451,553l7,14-5-45-7-14z /><path class=c17 d=M444,516l7,37-5-45-7-37z /><path class=c23 d=M438,480l6,36-5-45-6-36z /><path class=c28 d=M431,465l7,15-5-45-7-15zM425,482l6-17-5-45-7,17z /><path class=c24 d=M418,521l7-39-6-45-6,39z /><path class=c18 d=M411,560l7-39-5-45-7,39z /><path class=c14 d=M405,577l6-17-5-45-6,17zM398,562l7,15-5-45-7-15z /><path class=c18 d=M391,524l7,38-5-45-7-38z /><path class=c25 d=M385,486l6,38-5-45-6-38z /><path class=c29 d=M378,470l7,16-5-45-7-16z /><path class=c30 d=M371,486l7-16-5-45-7,16z /><path class=c26 d=M365,523l6-37-5-45-6,37z /><path class=c20 d=M358,561l7-38-5-45-7,38z /><path class=c16 d=M352,576l6-15-5-45-7,15zM345,560l7,16-6-45-6-16z /><path class=c21 d=M338,520l7,40-5-45-7-40z /><path class=c28 d=M332,481l6,39-5-45-6-39z /><path class=c32 d=M325,464l7,17-5-45-7-17z /><path class=c33 d=M318,478l7-14-5-45-7,14z /><path class=c29 d=M312,515l6-37-5-45-6,37z /><path class=c24 d=M305,551l7-36-5-45-7,36z /><path class=c20 d=M298,565l7-14-5-45-7,14zM292,547l6,18-5-45-6-18z /><path class=c25 d=M285,506l7,41-5-45-7-41z /><path class=c32 d=M278,466l7,40-5-45-7-41z /><path class=c37 d=M272,447l6,19-5-46-6-18z /><path class=c38 d=M265,460l7-13-5-45-7,13z /><path class=c34 d=M259,495l6-35-5-45-7,35z /><path class=c29 d=M252,530l7-35-6-45-6,35z /><path class=c25 d=M245,543l7-13-5-45-7,12z /><path class=c26 d=M239,523l6,20-5-46-6-19z /><path class=c31 d=M232,481l7,42-5-45-7-42z /><path class=c38 d=M225,439l7,42-5-45-7-42z /><path class=c44 d=M219,419l6,20-5-45-6-20zM212,431l7-12-5-45-7,12z /><path class=c41 d=M205,465l7-34-5-45-7,34z /><path class=c36 d=M199,498l6-33-5-45-6,33z /><path class=c33 d=M192,509l7-11-5-45-7,11z /><path class=c27 d=M722,370l6,7-5-23-6-7z /><path class=c30 d=M715,340l7,30-5-23-7-30z /><path class=c35 d=M709,310l6,30-5-23-7-30z /><path class=c39 d=M702,302l7,8-6-23-6-7z /><path class=c38 d=M695,326l7-24-5-22-7,23z /><path class=c33 d=M689,372l6-46-5-23-6,46z /><path class=c26 d=M682,418l7-46-5-23-7,46z /><path class=c21 d=M675,441l7-23-5-23-7,23z /><path class=c20 d=M669,432l6,9-5-23-6-8z /><path class=c23 d=M662,401l7,31-5-22-7-31z /><path class=c29 d=M655,370l7,31-5-22-7-32z /><path class=c32 d=M649,361l6,9-5-23-6-9zM642,383l7-22-5-23-7,23z /><path class=c27 d=M636,428l6-45-5-22-7,44z /><path class=c20 d=M629,472l7-44-6-23-6,45z /><path class=c15 d=M622,494l7-22-5-22-7,22zM616,484l6,10-5-22-7-10z /><path class=c18 d=M609,452l7,32-6-22-6-33z /><path class=c24 d=M602,419l7,33-5-23-7-32z /><path class=c28 d=M596,409l6,10-5-22-6-11z /><path class=c27 d=M589,430l7-21-5-23-7,21z /><path class=c22 d=M582,473l7-43-5-23-7,44z /><path class=c16 d=M576,516l6-43-5-22-6,43z /><path class=c11 d=M569,537l7-21-5-22-7,20zM562,525l7,12-5-23-7-11z /><path class=c15 d=M556,492l6,33-5-22-6-34z /><path class=c20 d=M549,458l7,34-5-23-7-34z /><path class=c24 d=M543,446l6,12-5-23-7-12zM536,466l7-20-6-23-6,20z /><path class=c20 d=M529,508l7-42-5-23-7,42z /><path class=c13 d=M523,549l6-41-5-23-6,42z /><path class=c9 d=M516,568l7-19-5-22-7,19zM509,556l7,12-5-22-7-13z /><path class=c13 d=M503,521l6,35-5-23-6-35z /><path class=c19 d=M496,485l7,36-5-23-7-35z /><path class=c23 d=M489,472l7,13-5-22-7-13zM483,491l6-19-5-22-6,18z /><path class=c18 d=M476,531l7-40-5-23-7,41z /><path class=c12 d=M470,572l6-41-5-22-7,40z /><path class=c8 d=M463,589l7-17-6-23-6,18zM456,575l7,14-5-22-7-14z /><path class=c12 d=M450,539l6,36-5-22-7-37z /><path class=c18 d=M443,502l7,37-6-23-6-36z /><path class=c23 d=M436,488l7,14-5-22-7-15zM430,505l6-17-5-23-6,17z /><path class=c19 d=M423,544l7-39-5-23-7,39z /><path class=c13 d=M416,583l7-39-5-23-7,39z /><path class=c9 d=M410,600l6-17-5-23-6,17zM403,584l7,16-5-23-7-15z /><path class=c13 d=M396,546l7,38-5-22-7-38z /><path class=c20 d=M390,508l6,38-5-22-6-38z /><path class=c24 d=M383,493l7,15-5-22-7-16z /><path class=c25 d=M377,508l6-15-5-23-7,16z /><path class=c21 d=M370,546l7-38-6-22-6,37z /><path class=c15 d=M363,584l7-38-5-23-7,38z /><path class=c11 d=M357,599l6-15-5-23-6,15zM350,582l7,17-5-23-7-16z /><path class=c16 d=M343,543l7,39-5-22-7-40z /><path class=c23 d=M337,504l6,39-5-23-6-39z /><path class=c27 d=M330,486l7,18-5-23-7-17z /><path class=c28 d=M323,501l7-15-5-22-7,14z /><path class=c24 d=M317,537l6-36-5-23-6,37z /><path class=c19 d=M310,574l7-37-5-22-7,36z /><path class=c15 d=M304,587l6-13-5-23-7,14z /><path class=c16 d=M297,569l7,18-6-22-6-18z /><path class=c21 d=M290,529l7,40-5-22-7-41z /><path class=c27 d=M284,488l6,41-5-23-7-40z /><path class=c32 d=M277,470l7,18-6-22-6-19z /><path class=c33 d=M270,483l7-13-5-23-7,13z /><path class=c29 d=M264,518l6-35-5-23-6,35z /><path class=c24 d=M257,553l7-35-5-23-7,35z /><path class=c21 d=M250,565l7-12-5-23-7,13zM244,546l6,19-5-22-6-20z /><path class=c26 d=M237,504l7,42-5-23-7-42z /><path class=c33 d=M230,462l7,42-5-23-7-42z /><path class=c39 d=M224,442l6,20-5-23-6-20z /><path class=c40 d=M217,453l7-11-5-23-7,12z /><path class=c36 d=M211,487l6-34-5-22-7,34z /><path class=c31 d=M204,521l7-34-6-22-6,33z /><path class=c28 d=M197,532l7-11-5-23-7,11z /><path class=c26 d=M727,360l7,8-6,9-6-7z /><path class=c30 d=M720,331l7,29-5,10-7-30z /><path class=c35 d=M714,301l6,30-5,9-6-30z /><path class=c38 d=M707,293l7,8-5,9-7-8z /><path class=c37 d=M700,317l7-24-5,9-7,24z /><path class=c32 d=M694,363l6-46-5,9-6,46z /><path class=c25 d=M687,408l7-45-5,9-7,46z /><path class=c20 d=M680,432l7-24-5,10-7,23z /><path class=c19 d=M674,423l6,9-5,9-6-9z /><path class=c23 d=M667,392l7,31-5,9-7-31z /><path class=c28 d=M661,361l6,31-5,9-7-31z /><path class=c32 d=M654,352l7,9-6,9-6-9z /><path class=c31 d=M647,374l7-22-5,9-7,22z /><path class=c26 d=M641,419l6-45-5,9-6,45z /><path class=c19 d=M634,463l7-44-5,9-7,44z /><path class=c15 d=M627,485l7-22-5,9-7,22z /><path class=c14 d=M621,475l6,10-5,9-6-10z /><path class=c18 d=M614,443l7,32-5,9-7-32z /><path class=c23 d=M607,410l7,33-5,9-7-33z /><path class=c27 d=M601,400l6,10-5,9-6-10zM594,421l7-21-5,9-7,21z /><path class=c22 d=M588,464l6-43-5,9-7,43z /><path class=c15 d=M581,507l7-43-6,9-6,43z /><path class=c11 d=M574,528l7-21-5,9-7,21z /><path class=c10 d=M568,516l6,12-5,9-7-12z /><path class=c14 d=M561,482l7,34-6,9-6-33z /><path class=c20 d=M554,448l7,34-5,10-7-34z /><path class=c24 d=M548,437l6,11-5,10-6-12zM541,456l7-19-5,9-7,20z /><path class=c19 d=M534,498l7-42-5,10-7,42z /><path class=c13 d=M528,540l6-42-5,10-6,41z /><path class=c8 d=M521,559l7-19-5,9-7,19zM514,547l7,12-5,9-7-12z /><path class=c12 d=M508,511l6,36-5,9-6-35z /><path class=c18 d=M501,476l7,35-5,10-7-36z /><path class=c22 d=M495,463l6,13-5,9-7-13zM488,481l7-18-6,9-6,19z /><path class=c18 d=M481,522l7-41-5,10-7,40z /><path class=c12 d=M475,562l6-40-5,9-6,41z /><path class=c7 d=M468,580l7-18-5,10-7,17zM461,566l7,14-5,9-7-14z /><path class=c12 d=M455,530l6,36-5,9-6-36z /><path class=c18 d=M448,493l7,37-5,9-7-37z /><path class=c22 d=M441,479l7,14-5,9-7-14zM435,496l6-17-5,9-6,17z /><path class=c18 d=M428,535l7-39-5,9-7,39z /><path class=c12 d=M422,574l6-39-5,9-7,39z /><path class=c8 d=M415,590l7-16-6,9-6,17zM408,575l7,15-5,10-7-16z /><path class=c13 d=M402,537l6,38-5,9-7-38z /><path class=c19 d=M395,499l7,38-6,9-6-38z /><path class=c24 d=M388,483l7,16-5,9-7-15zM382,499l6-16-5,10-6,15z /><path class=c20 d=M375,537l7-38-5,9-7,38z /><path class=c14 d=M368,574l7-37-5,9-7,38z /><path class=c10 d=M362,590l6-16-5,10-6,15z /><path class=c11 d=M355,573l7,17-5,9-7-17z /><path class=c16 d=M348,534l7,39-5,9-7-39z /><path class=c22 d=M342,494l6,40-5,9-6-39z /><path class=c27 d=M335,477l7,17-5,10-7-18zM329,491l6-14-5,9-7,15z /><path class=c24 d=M322,528l7-37-6,10-6,36z /><path class=c18 d=M315,564l7-36-5,9-7,37z /><path class=c14 d=M309,578l6-14-5,10-6,13z /><path class=c15 d=M302,560l7,18-5,9-7-18z /><path class=c20 d=M295,520l7,40-5,9-7-40z /><path class=c27 d=M289,479l6,41-5,9-6-41z /><path class=c32 d=M282,460l7,19-5,9-7-18zM275,473l7-13-5,10-7,13z /><path class=c29 d=M269,508l6-35-5,10-6,35z /><path class=c23 d=M262,543l7-35-5,10-7,35z /><path class=c20 d=M256,556l6-13-5,10-7,12z /><path class=c21 d=M249,536l7,20-6,9-6-19z /><path class=c26 d=M242,495l7,41-5,10-7-42z /><path class=c33 d=M236,453l6,42-5,9-7-42z /><path class=c38 d=M229,433l7,20-6,9-6-20z /><path class=c39 d=M222,444l7-11-5,9-7,11z /><path class=c36 d=M216,478l6-34-5,9-6,34z /><path class=c31 d=M209,512l7-34-5,9-7,34z /><path class=c27 d=M202,523l7-11-5,9-7,11z /><path class=c30 d=M732,329l7,7-5,32-7-8z /><path class=c33 d=M725,299l7,30-5,31-7-29z /><path class=c39 d=M719,269l6,30-5,32-6-30z /><path class=c42 d=M712,261l7,8-5,32-7-8z /><path class=c41 d=M705,285l7-24-5,32-7,24z /><path class=c36 d=M699,331l6-46-5,32-6,46z /><path class=c29 d=M692,377l7-46-5,32-7,45z /><path class=c24 d=M686,400l6-23-5,31-7,24z /><path class=c23 d=M679,391l7,9-6,32-6-9z /><path class=c27 d=M672,360l7,31-5,32-7-31z /><path class=c32 d=M666,329l6,31-5,32-6-31z /><path class=c36 d=M659,320l7,9-5,32-7-9z /><path class=c35 d=M652,342l7-22-5,32-7,22z /><path class=c30 d=M646,387l6-45-5,32-6,45z /><path class=c23 d=M639,431l7-44-5,32-7,44z /><path class=c18 d=M632,453l7-22-5,32-7,22zM626,443l6,10-5,32-6-10z /><path class=c21 d=M619,411l7,32-5,32-7-32z /><path class=c27 d=M613,378l6,33-5,32-7-33z /><path class=c31 d=M606,368l7,10-6,32-6-10z /><path class=c30 d=M599,389l7-21-5,32-7,21z /><path class=c26 d=M593,432l6-43-5,32-6,43z /><path class=c19 d=M586,475l7-43-5,32-7,43z /><path class=c14 d=M579,496l7-21-5,32-7,21zM573,484l6,12-5,32-6-12z /><path class=c18 d=M566,451l7,33-5,32-7-34z /><path class=c24 d=M559,417l7,34-5,31-7-34z /><path class=c28 d=M553,405l6,12-5,31-6-11z /><path class=c27 d=M546,425l7-20-5,32-7,19z /><path class=c23 d=M539,467l7-42-5,31-7,42z /><path class=c16 d=M533,508l6-41-5,31-6,42z /><path class=c12 d=M526,527l7-19-5,32-7,19zM520,515l6,12-5,32-7-12z /><path class=c16 d=M513,480l7,35-6,32-6-36z /><path class=c22 d=M506,444l7,36-5,31-7-35z /><path class=c26 d=M500,431l6,13-5,32-6-13zM493,450l7-19-5,32-7,18z /><path class=c21 d=M486,490l7-40-5,31-7,41z /><path class=c15 d=M480,531l6-41-5,32-6,40z /><path class=c11 d=M473,548l7-17-5,31-7,18zM466,534l7,14-5,32-7-14z /><path class=c15 d=M460,498l6,36-5,32-6-36z /><path class=c22 d=M453,461l7,37-5,32-7-37z /><path class=c26 d=M447,447l6,14-5,32-7-14zM440,464l7-17-6,32-6,17z /><path class=c22 d=M433,503l7-39-5,32-7,39z /><path class=c16 d=M427,542l6-39-5,32-6,39z /><path class=c12 d=M420,558l7-16-5,32-7,16zM413,543l7,15-5,32-7-15z /><path class=c17 d=M407,505l6,38-5,32-6-38z /><path class=c23 d=M400,467l7,38-5,32-7-38z /><path class=c27 d=M393,451l7,16-5,32-7-16z /><path class=c28 d=M387,467l6-16-5,32-6,16z /><path class=c24 d=M380,505l7-38-5,32-7,38z /><path class=c18 d=M373,543l7-38-5,32-7,37z /><path class=c14 d=M367,558l6-15-5,31-6,16z /><path class=c15 d=M360,541l7,17-5,32-7-17z /><path class=c19 d=M354,502l6,39-5,32-7-39z /><path class=c26 d=M347,463l7,39-6,32-6-40z /><path class=c31 d=M340,445l7,18-5,31-7-17zM334,460l6-15-5,32-6,14z /><path class=c27 d=M327,496l7-36-5,31-7,37z /><path class=c22 d=M320,533l7-37-5,32-7,36z /><path class=c18 d=M314,546l6-13-5,31-6,14z /><path class=c19 d=M307,528l7,18-5,32-7-18z /><path class=c24 d=M300,488l7,40-5,32-7-40z /><path class=c30 d=M294,447l6,41-5,32-6-41z /><path class=c35 d=M287,429l7,18-5,32-7-19z /><path class=c36 d=M281,441l6-12-5,31-7,13z /><path class=c33 d=M274,477l7-36-6,32-6,35z /><path class=c27 d=M267,512l7-35-5,31-7,35z /><path class=c24 d=M261,524l6-12-5,31-6,13z /><path class=c25 d=M254,505l7,19-5,32-7-20z /><path class=c30 d=M247,463l7,42-5,31-7-41z /><path class=c37 d=M241,421l6,42-5,32-6-42z /><path class=c42 d=M234,401l7,20-5,32-7-20z /><path class=c43 d=M227,412l7-11-5,32-7,11z /><path class=c40 d=M221,446l6-34-5,32-6,34z /><path class=c34 d=M214,480l7-34-5,32-7,34z /><path class=c31 d=M207,491l7-11-5,32-7,11z /><path class=c36 d=M737,297l7,7-5,32-7-7z /><path class=c39 d=M731,267l6,30-5,32-7-30z /><path class=c44 d=M724,237l7,30-6,32-6-30z /><path class=c48 d=M717,229l7,8-5,32-7-8z /><path class=c47 d=M711,253l6-24-5,32-7,24z /><path class=c41 d=M704,299l7-46-6,32-6,46z /><path class=c35 d=M697,345l7-46-5,32-7,46z /><path class=c29 d=M691,368l6-23-5,32-6,23zM684,359l7,9-5,32-7-9z /><path class=c32 d=M677,328l7,31-5,32-7-31z /><path class=c38 d=M671,297l6,31-5,32-6-31z /><path class=c41 d=M664,288l7,9-5,32-7-9z /><path class=c40 d=M657,310l7-22-5,32-7,22z /><path class=c35 d=M651,355l6-45-5,32-6,45z /><path class=c29 d=M644,399l7-44-5,32-7,44z /><path class=c24 d=M638,421l6-22-5,32-7,22z /><path class=c23 d=M631,411l7,10-6,32-6-10z /><path class=c27 d=M624,379l7,32-5,32-7-32z /><path class=c33 d=M618,346l6,33-5,32-6-33z /><path class=c36 d=M611,336l7,10-5,32-7-10zM604,357l7-21-5,32-7,21z /><path class=c31 d=M598,400l6-43-5,32-6,43z /><path class=c25 d=M591,443l7-43-5,32-7,43z /><path class=c20 d=M584,464l7-21-5,32-7,21z /><path class=c19 d=M578,453l6,11-5,32-6-12z /><path class=c23 d=M571,419l7,34-5,31-7-33z /><path class=c29 d=M565,385l6,34-5,32-7-34z /><path class=c33 d=M558,373l7,12-6,32-6-12zM551,393l7-20-5,32-7,20z /><path class=c28 d=M545,435l6-42-5,32-7,42z /><path class=c22 d=M538,476l7-41-6,32-6,41z /><path class=c17 d=M531,495l7-19-5,32-7,19zM525,483l6,12-5,32-6-12z /><path class=c21 d=M518,448l7,35-5,32-7-35z /><path class=c27 d=M511,412l7,36-5,32-7-36z /><path class=c32 d=M505,399l6,13-5,32-6-13z /><path class=c31 d=M498,418l7-19-5,32-7,19z /><path class=c27 d=M491,458l7-40-5,32-7,40z /><path class=c21 d=M485,499l6-41-5,32-6,41z /><path class=c17 d=M478,516l7-17-5,32-7,17zM472,502l6,14-5,32-7-14z /><path class=c21 d=M465,466l7,36-6,32-6-36z /><path class=c27 d=M458,429l7,37-5,32-7-37z /><path class=c31 d=M452,415l6,14-5,32-6-14z /><path class=c32 d=M445,432l7-17-5,32-7,17z /><path class=c27 d=M438,471l7-39-5,32-7,39z /><path class=c21 d=M432,510l6-39-5,32-6,39z /><path class=c17 d=M425,527l7-17-5,32-7,16z /><path class=c18 d=M418,511l7,16-5,31-7-15z /><path class=c22 d=M412,473l6,38-5,32-6-38z /><path class=c28 d=M405,435l7,38-5,32-7-38z /><path class=c33 d=M399,420l6,15-5,32-7-16zM392,435l7-15-6,31-6,16z /><path class=c29 d=M385,473l7-38-5,32-7,38z /><path class=c24 d=M379,511l6-38-5,32-7,38z /><path class=c20 d=M372,526l7-15-6,32-6,15zM365,509l7,17-5,32-7-17z /><path class=c25 d=M359,470l6,39-5,32-6-39z /><path class=c31 d=M352,431l7,39-5,32-7-39z /><path class=c36 d=M345,413l7,18-5,32-7-18z /><path class=c37 d=M339,428l6-15-5,32-6,15z /><path class=c33 d=M332,464l7-36-5,32-7,36z /><path class=c27 d=M325,501l7-37-5,32-7,37z /><path class=c24 d=M319,514l6-13-5,32-6,13zM312,496l7,18-5,32-7-18z /><path class=c29 d=M306,456l6,40-5,32-7-40z /><path class=c36 d=M299,415l7,41-6,32-6-41z /><path class=c41 d=M292,397l7,18-5,32-7-18z /><path class=c42 d=M286,410l6-13-5,32-6,12z /><path class=c38 d=M279,445l7-35-5,31-7,36z /><path class=c33 d=M272,480l7-35-5,32-7,35z /><path class=c29 d=M266,492l6-12-5,32-6,12z /><path class=c30 d=M259,473l7,19-5,32-7-19z /><path class=c35 d=M252,431l7,42-5,32-7-42z /><path class=c42 d=M246,389l6,42-5,32-6-42z /><path class=c48 d=M239,369l7,20-5,32-7-20zM233,380l6-11-5,32-7,11z /><path class=c45 d=M226,414l7-34-6,32-6,34z /><path class=c40 d=M219,448l7-34-5,32-7,34z /><path class=c37 d=M213,459l6-11-5,32-7,11z /><path class=c39 d=M742,287l7,7-5,10-7-7z /><path class=c43 d=M736,257l6,30-5,10-6-30z /><path class=c48 d=M729,227l7,30-5,10-7-30z /><path class=c51 d=M722,219l7,8-5,10-7-8z /><path class=c50 d=M716,243l6-24-5,10-6,24z /><path class=c45 d=M709,289l7-46-5,10-7,46z /><path class=c38 d=M702,335l7-46-5,10-7,46z /><path class=c33 d=M696,358l6-23-5,10-6,23z /><path class=c32 d=M689,350l7,8-5,10-7-9z /><path class=c36 d=M683,319l6,31-5,9-7-31z /><path class=c41 d=M676,287l7,32-6,9-6-31z /><path class=c45 d=M669,278l7,9-5,10-7-9z /><path class=c44 d=M663,301l6-23-5,10-7,22z /><path class=c39 d=M656,345l7-44-6,9-6,45z /><path class=c33 d=M649,390l7-45-5,10-7,44z /><path class=c28 d=M643,411l6-21-5,9-6,22z /><path class=c27 d=M636,402l7,9-5,10-7-10z /><path class=c31 d=M629,369l7,33-5,9-7-32z /><path class=c36 d=M623,337l6,32-5,10-6-33z /><path class=c40 d=M616,326l7,11-5,9-7-10zM609,347l7-21-5,10-7,21z /><path class=c35 d=M603,390l6-43-5,10-6,43z /><path class=c28 d=M596,433l7-43-5,10-7,43z /><path class=c24 d=M590,454l6-21-5,10-7,21z /><path class=c23 d=M583,443l7,11-6,10-6-11z /><path class=c27 d=M576,409l7,34-5,10-7-34z /><path class=c33 d=M570,375l6,34-5,10-6-34z /><path class=c37 d=M563,363l7,12-5,10-7-12zM556,383l7-20-5,10-7,20z /><path class=c32 d=M550,425l6-42-5,10-6,42z /><path class=c26 d=M543,467l7-42-5,10-7,41z /><path class=c21 d=M536,486l7-19-5,9-7,19zM530,473l6,13-5,9-6-12z /><path class=c25 d=M523,438l7,35-5,10-7-35z /><path class=c31 d=M516,403l7,35-5,10-7-36z /><path class=c35 d=M510,390l6,13-5,9-6-13zM503,408l7-18-5,9-7,19z /><path class=c31 d=M497,448l6-40-5,10-7,40z /><path class=c25 d=M490,489l7-41-6,10-6,41z /><path class=c20 d=M483,507l7-18-5,10-7,17zM477,493l6,14-5,9-6-14z /><path class=c25 d=M470,456l7,37-5,9-7-36z /><path class=c31 d=M463,420l7,36-5,10-7-37z /><path class=c35 d=M457,405l6,15-5,9-6-14zM450,422l7-17-5,10-7,17z /><path class=c31 d=M443,461l7-39-5,10-7,39z /><path class=c25 d=M437,500l6-39-5,10-6,39z /><path class=c21 d=M430,517l7-17-5,10-7,17zM424,501l6,16-5,10-7-16z /><path class=c26 d=M417,464l7,37-6,10-6-38z /><path class=c32 d=M410,426l7,38-5,9-7-38z /><path class=c37 d=M404,410l6,16-5,9-6-15zM397,425l7-15-5,10-7,15z /><path class=c33 d=M390,463l7-38-5,10-7,38z /><path class=c27 d=M384,501l6-38-5,10-6,38z /><path class=c24 d=M377,516l7-15-5,10-7,15zM370,499l7,17-5,10-7-17z /><path class=c29 d=M364,460l6,39-5,10-6-39z /><path class=c35 d=M357,421l7,39-5,10-7-39z /><path class=c40 d=M350,404l7,17-5,10-7-18zM344,418l6-14-5,9-6,15z /><path class=c37 d=M337,454l7-36-5,10-7,36z /><path class=c31 d=M331,491l6-37-5,10-7,37z /><path class=c27 d=M324,505l7-14-6,10-6,13z /><path class=c28 d=M317,487l7,18-5,9-7-18z /><path class=c33 d=M311,446l6,41-5,9-6-40z /><path class=c40 d=M304,405l7,41-5,10-7-41z /><path class=c45 d=M297,387l7,18-5,10-7-18zM291,400l6-13-5,10-6,13z /><path class=c42 d=M284,435l7-35-5,10-7,35z /><path class=c37 d=M277,470l7-35-5,10-7,35z /><path class=c33 d=M271,482l6-12-5,10-6,12z /><path class=c34 d=M264,463l7,19-5,10-7-19z /><path class=c39 d=M258,421l6,42-5,10-7-42z /><path class=c46 d=M251,379l7,42-6,10-6-42z /><path class=c51 d=M244,359l7,20-5,10-7-20z /><path class=c52 d=M238,371l6-12-5,10-6,11z /><path class=c49 d=M231,405l7-34-5,9-7,34z /><path class=c44 d=M224,438l7-33-5,9-7,34z /><path class=c41 d=M218,449l6-11-5,10-6,11z /><path class=c39 d=M747,309l7,7-5-22-7-7z /><path class=c42 d=M741,279l6,30-5-22-6-30z /><path class=c47 d=M734,249l7,30-5-22-7-30z /><path class=c51 d=M727,241l7,8-5-22-7-8z /><path class=c50 d=M721,265l6-24-5-22-6,24z /><path class=c45 d=M714,311l7-46-5-22-7,46z /><path class=c38 d=M708,357l6-46-5-22-7,46z /><path class=c33 d=M701,380l7-23-6-22-6,23z /><path class=c32 d=M694,371l7,9-5-22-7-8z /><path class=c35 d=M688,340l6,31-5-21-6-31z /><path class=c41 d=M681,309l7,31-5-21-7-32z /><path class=c44 d=M674,300l7,9-5-22-7-9zM668,322l6-22-5-22-6,23z /><path class=c39 d=M661,367l7-45-5-21-7,44z /><path class=c32 d=M654,411l7-44-5-22-7,45z /><path class=c27 d=M648,433l6-22-5-21-6,21zM641,423l7,10-5-22-7-9z /><path class=c30 d=M634,391l7,32-5-21-7-33z /><path class=c36 d=M628,358l6,33-5-22-6-32z /><path class=c40 d=M621,348l7,10-5-21-7-11z /><path class=c39 d=M615,369l6-21-5-22-7,21z /><path class=c34 d=M608,412l7-43-6-22-6,43z /><path class=c28 d=M601,455l7-43-5-22-7,43z /><path class=c23 d=M595,476l6-21-5-22-6,21zM588,464l7,12-5-22-7-11z /><path class=c27 d=M581,431l7,33-5-21-7-34z /><path class=c32 d=M575,397l6,34-5-22-6-34z /><path class=c36 d=M568,385l7,12-5-22-7-12zM561,405l7-20-5-22-7,20z /><path class=c32 d=M555,447l6-42-5-22-6,42z /><path class=c25 d=M548,488l7-41-5-22-7,42z /><path class=c21 d=M542,507l6-19-5-21-7,19zM535,495l7,12-6-21-6-13z /><path class=c25 d=M528,460l7,35-5-22-7-35z /><path class=c31 d=M522,424l6,36-5-22-7-35z /><path class=c35 d=M515,411l7,13-6-21-6-13zM508,430l7-19-5-21-7,18z /><path class=c30 d=M502,470l6-40-5-22-6,40z /><path class=c24 d=M495,511l7-41-5-22-7,41z /><path class=c20 d=M488,528l7-17-5-22-7,18zM482,514l6,14-5-21-6-14z /><path class=c24 d=M475,478l7,36-5-21-7-37z /><path class=c30 d=M468,441l7,37-5-22-7-36z /><path class=c35 d=M462,427l6,14-5-21-6-15zM455,444l7-17-5-22-7,17z /><path class=c31 d=M449,483l6-39-5-22-7,39z /><path class=c25 d=M442,522l7-39-6-22-6,39z /><path class=c21 d=M435,538l7-16-5-22-7,17zM429,523l6,15-5-21-6-16z /><path class=c25 d=M422,485l7,38-5-22-7-37z /><path class=c32 d=M415,447l7,38-5-21-7-38z /><path class=c36 d=M409,431l6,16-5-21-6-16z /><path class=c37 d=M402,447l7-16-5-21-7,15z /><path class=c33 d=M395,485l7-38-5-22-7,38z /><path class=c27 d=M389,523l6-38-5-22-6,38z /><path class=c23 d=M382,538l7-15-5-22-7,15zM376,521l6,17-5-22-7-17z /><path class=c28 d=M369,482l7,39-6-22-6-39z /><path class=c35 d=M362,443l7,39-5-22-7-39z /><path class=c40 d=M356,425l6,18-5-22-7-17zM349,440l7-15-6-21-6,14z /><path class=c36 d=M342,476l7-36-5-22-7,36z /><path class=c31 d=M336,513l6-37-5-22-6,37z /><path class=c27 d=M329,526l7-13-5-22-7,14z /><path class=c28 d=M322,508l7,18-5-21-7-18z /><path class=c33 d=M316,468l6,40-5-21-6-41z /><path class=c39 d=M309,427l7,41-5-22-7-41z /><path class=c44 d=M302,409l7,18-5-22-7-18z /><path class=c45 d=M296,421l6-12-5-22-6,13z /><path class=c42 d=M289,457l7-36-5-21-7,35z /><path class=c36 d=M283,492l6-35-5-22-7,35z /><path class=c33 d=M276,504l7-12-6-22-6,12z /><path class=c34 d=M269,485l7,19-5-22-7-19z /><path class=c39 d=M263,443l6,42-5-22-6-42z /><path class=c46 d=M256,401l7,42-5-22-7-42z /><path class=c51 d=M249,381l7,20-5-22-7-20z /><path class=c52 d=M243,392l6-11-5-22-6,12z /><path class=c48 d=M236,426l7-34-5-21-7,34z /><path class=c43 d=M229,460l7-34-5-21-7,33z /><path class=c40 d=M223,471l6-11-5-22-6,11z /><path class=c34 d=M752,352l7,8-5-44-7-7z /><path class=c38 d=M746,323l6,29-5-43-6-30z /><path class=c43 d=M739,293l7,30-5-44-7-30z /><path class=c46 d=M733,285l6,8-5-44-7-8z /><path class=c45 d=M726,309l7-24-6-44-6,24z /><path class=c40 d=M719,355l7-46-5-44-7,46z /><path class=c33 d=M713,401l6-46-5-44-6,46z /><path class=c28 d=M706,424l7-23-5-44-7,23z /><path class=c27 d=M699,415l7,9-5-44-7-9z /><path class=c31 d=M693,384l6,31-5-44-6-31z /><path class=c36 d=M686,353l7,31-5-44-7-31z /><path class=c40 d=M679,344l7,9-5-44-7-9z /><path class=c39 d=M673,366l6-22-5-44-6,22z /><path class=c34 d=M666,411l7-45-5-44-7,45z /><path class=c27 d=M660,455l6-44-5-44-7,44z /><path class=c22 d=M653,477l7-22-6-44-6,22zM646,467l7,10-5-44-7-10z /><path class=c26 d=M640,435l6,32-5-44-7-32z /><path class=c31 d=M633,402l7,33-6-44-6-33z /><path class=c35 d=M626,392l7,10-5-44-7-10z /><path class=c34 d=M620,413l6-21-5-44-6,21z /><path class=c30 d=M613,456l7-43-5-44-7,43z /><path class=c23 d=M606,499l7-43-5-44-7,43z /><path class=c18 d=M600,520l6-21-5-44-6,21zM593,508l7,12-5-44-7-12z /><path class=c22 d=M586,475l7,33-5-44-7-33z /><path class=c28 d=M580,441l6,34-5-44-6-34z /><path class=c32 d=M573,429l7,12-5-44-7-12z /><path class=c31 d=M567,449l6-20-5-44-7,20z /><path class=c27 d=M560,490l7-41-6-44-6,42z /><path class=c20 d=M553,532l7-42-5-43-7,41z /><path class=c16 d=M547,551l6-19-5-44-6,19zM540,539l7,12-5-44-7-12z /><path class=c20 d=M533,504l7,35-5-44-7-35z /><path class=c26 d=M527,468l6,36-5-44-6-36z /><path class=c30 d=M520,455l7,13-5-44-7-13zM513,473l7-18-5-44-7,19z /><path class=c26 d=M507,514l6-41-5-43-6,40z /><path class=c19 d=M500,554l7-40-5-44-7,41z /><path class=c15 d=M494,572l6-18-5-43-7,17zM487,558l7,14-6-44-6-14z /><path class=c19 d=M480,522l7,36-5-44-7-36z /><path class=c26 d=M474,485l6,37-5-44-7-37z /><path class=c30 d=M467,471l7,14-6-44-6-14zM460,488l7-17-5-44-7,17z /><path class=c26 d=M454,527l6-39-5-44-6,39z /><path class=c20 d=M447,566l7-39-5-44-7,39z /><path class=c16 d=M440,582l7-16-5-44-7,16zM434,567l6,15-5-44-6-15z /><path class=c21 d=M427,529l7,38-5-44-7-38z /><path class=c27 d=M420,491l7,38-5-44-7-38z /><path class=c32 d=M414,475l6,16-5-44-6-16zM407,491l7-16-5-44-7,16z /><path class=c28 d=M401,529l6-38-5-44-7,38z /><path class=c22 d=M394,567l7-38-6-44-6,38z /><path class=c18 d=M387,582l7-15-5-44-7,15z /><path class=c19 d=M381,565l6,17-5-44-6-17z /><path class=c23 d=M374,526l7,39-5-44-7-39z /><path class=c30 d=M367,486l7,40-5-44-7-39z /><path class=c35 d=M361,469l6,17-5-43-6-18zM354,484l7-15-5-44-7,15z /><path class=c31 d=M347,520l7-36-5-44-7,36z /><path class=c26 d=M341,556l6-36-5-44-6,37z /><path class=c22 d=M334,570l7-14-5-43-7,13z /><path class=c23 d=M328,552l6,18-5-44-7-18z /><path class=c28 d=M321,512l7,40-6-44-6-40z /><path class=c35 d=M314,471l7,41-5-44-7-41z /><path class=c40 d=M308,452l6,19-5-44-7-18zM301,465l7-13-6-43-6,12z /><path class=c37 d=M294,501l7-36-5-44-7,36z /><path class=c31 d=M288,536l6-35-5-44-6,35z /><path class=c28 d=M281,548l7-12-5-44-7,12z /><path class=c29 d=M274,529l7,19-5-44-7-19z /><path class=c34 d=M268,487l6,42-5-44-6-42z /><path class=c41 d=M261,445l7,42-5-44-7-42z /><path class=c46 d=M254,425l7,20-5-44-7-20z /><path class=c47 d=M248,436l6-11-5-44-6,11z /><path class=c44 d=M241,470l7-34-5-44-7,34z /><path class=c39 d=M235,504l6-34-5-44-7,34z /><path class=c35 d=M228,515l7-11-6-44-6,11z /><path class=c28 d=M758,396l6,7-5-43-7-8z /><path class=c31 d=M751,366l7,30-6-44-6-29z /><path class=c36 d=M744,337l7,29-5-43-7-30z /><path class=c40 d=M738,329l6,8-5-44-6-8z /><path class=c39 d=M731,353l7-24-5-44-7,24z /><path class=c33 d=M724,399l7-46-5-44-7,46z /><path class=c27 d=M718,444l6-45-5-44-6,46z /><path class=c21 d=M711,468l7-24-5-43-7,23zM704,459l7,9-5-44-7-9z /><path class=c24 d=M698,428l6,31-5-44-6-31z /><path class=c30 d=M691,397l7,31-5-44-7-31z /><path class=c33 d=M685,388l6,9-5-44-7-9z /><path class=c32 d=M678,410l7-22-6-44-6,22z /><path class=c27 d=M671,455l7-45-5-44-7,45z /><path class=c21 d=M665,499l6-44-5-44-6,44z /><path class=c16 d=M658,521l7-22-5-44-7,22z /><path class=c15 d=M651,511l7,10-5-44-7-10z /><path class=c19 d=M645,478l6,33-5-44-6-32z /><path class=c25 d=M638,446l7,32-5-43-7-33z /><path class=c28 d=M631,435l7,11-5-44-7-10zM625,456l6-21-5-43-6,21z /><path class=c23 d=M618,500l7-44-5-43-7,43z /><path class=c17 d=M611,543l7-43-5-44-7,43z /><path class=c12 d=M605,563l6-20-5-44-6,21z /><path class=c11 d=M598,552l7,11-5-43-7-12z /><path class=c15 d=M592,518l6,34-5-44-7-33z /><path class=c21 d=M585,484l7,34-6-43-6-34z /><path class=c25 d=M578,473l7,11-5-43-7-12zM572,492l6-19-5-44-6,20z /><path class=c20 d=M565,534l7-42-5-43-7,41z /><path class=c14 d=M558,576l7-42-5-44-7,42z /><path class=c9 d=M552,595l6-19-5-44-6,19zM545,582l7,13-5-44-7-12z /><path class=c13 d=M538,547l7,35-5-43-7-35z /><path class=c19 d=M532,512l6,35-5-43-6-36z /><path class=c24 d=M525,499l7,13-5-44-7-13z /><path class=c23 d=M519,517l6-18-5-44-7,18z /><path class=c19 d=M512,558l7-41-6-44-6,41z /><path class=c13 d=M505,598l7-40-5-44-7,40z /><path class=c9 d=M499,616l6-18-5-44-6,18zM492,602l7,14-5-44-7-14z /><path class=c13 d=M485,566l7,36-5-44-7-36z /><path class=c19 d=M479,529l6,37-5-44-6-37z /><path class=c23 d=M472,514l7,15-5-44-7-14z /><path class=c24 d=M465,531l7-17-5-43-7,17z /><path class=c19 d=M459,571l6-40-5-43-6,39z /><path class=c14 d=M452,610l7-39-5-44-7,39z /><path class=c9 d=M445,626l7-16-5-44-7,16z /><path class=c10 d=M439,611l6,15-5-44-6-15z /><path class=c14 d=M432,573l7,38-5-44-7-38z /><path class=c20 d=M426,535l6,38-5-44-7-38z /><path class=c25 d=M419,519l7,16-6-44-6-16zM412,535l7-16-5-44-7,16z /><path class=c21 d=M406,573l6-38-5-44-6,38z /><path class=c16 d=M399,610l7-37-5-44-7,38z /><path class=c12 d=M392,625l7-15-5-43-7,15zM386,609l6,16-5-43-6-17z /><path class=c17 d=M379,570l7,39-5-44-7-39z /><path class=c23 d=M372,530l7,40-5-44-7-40z /><path class=c28 d=M366,513l6,17-5-44-6-17z /><path class=c29 d=M359,527l7-14-5-44-7,15z /><path class=c25 d=M353,564l6-37-5-43-7,36z /><path class=c19 d=M346,600l7-36-6-44-6,36z /><path class=c16 d=M339,614l7-14-5-44-7,14zM333,596l6,18-5-44-6-18z /><path class=c21 d=M326,555l7,41-5-44-7-40z /><path class=c28 d=M319,515l7,40-5-43-7-41z /><path class=c33 d=M313,496l6,19-5-44-6-19z /><path class=c34 d=M306,509l7-13-5-44-7,13z /><path class=c30 d=M299,544l7-35-5-44-7,36z /><path class=c25 d=M293,579l6-35-5-43-6,35z /><path class=c21 d=M286,592l7-13-5-43-7,12z /><path class=c22 d=M279,572l7,20-5-44-7-19z /><path class=c27 d=M273,530l6,42-5-43-6-42z /><path class=c34 d=M266,488l7,42-5-43-7-42z /><path class=c40 d=M260,468l6,20-5-43-7-20z /><path class=c41 d=M253,480l7-12-6-43-6,11z /><path class=c37 d=M246,514l7-34-5-44-7,34z /><path class=c32 d=M240,548l6-34-5-44-6,34z /><path class=c29 d=M233,559l7-11-5-44-7,11z /><path class=c23 d=M763,417l6,8-5-22-6-7z /><path class=c26 d=M756,388l7,29-5-21-7-30z /><path class=c31 d=M749,358l7,30-5-22-7-29z /><path class=c35 d=M743,350l6,8-5-21-6-8z /><path class=c34 d=M736,374l7-24-5-21-7,24z /><path class=c29 d=M729,420l7-46-5-21-7,46z /><path class=c22 d=M723,465l6-45-5-21-6,45z /><path class=c17 d=M716,489l7-24-5-21-7,24z /><path class=c16 d=M710,480l6,9-5-21-7-9z /><path class=c19 d=M703,449l7,31-6-21-6-31z /><path class=c25 d=M696,418l7,31-5-21-7-31z /><path class=c28 d=M690,409l6,9-5-21-6-9zM683,431l7-22-5-21-7,22z /><path class=c23 d=M676,476l7-45-5-21-7,45z /><path class=c16 d=M670,520l6-44-5-21-6,44z /><path class=c11 d=M663,542l7-22-5-21-7,22zM656,532l7,10-5-21-7-10z /><path class=c14 d=M650,500l6,32-5-21-6-33z /><path class=c20 d=M643,467l7,33-5-22-7-32z /><path class=c24 d=M637,457l6,10-5-21-7-11z /><path class=c23 d=M630,478l7-21-6-22-6,21z /><path class=c18 d=M623,521l7-43-5-22-7,44z /><path class=c12 d=M617,564l6-43-5-21-7,43z /><path class=c7 d=M610,585l7-21-6-21-6,20zM603,573l7,12-5-22-7-11z /><path class=c11 d=M597,540l6,33-5-21-6-34z /><path class=c16 d=M590,506l7,34-5-22-7-34z /><path class=c20 d=M583,494l7,12-5-22-7-11zM577,513l6-19-5-21-6,19z /><path class=c16 d=M570,555l7-42-5-21-7,42z /><path class=c9 d=M563,597l7-42-5-21-7,42z /><path class=c5 d=M557,616l6-19-5-21-6,19zM550,604l7,12-5-21-7-13z /><path class=c9 d=M544,569l6,35-5-22-7-35z /><path class=c15 d=M537,533l7,36-6-22-6-35z /><path class=c19 d=M530,520l7,13-5-21-7-13zM524,538l6-18-5-21-6,18z /><path class=c14 d=M517,579l7-41-5-21-7,41z /><path class=c8 d=M510,619l7-40-5-21-7,40z /><path class=c4 d=M504,637l6-18-5-21-6,18zM497,623l7,14-5-21-7-14z /><path class=c8 d=M490,587l7,36-5-21-7-36z /><path class=c14 d=M484,550l6,37-5-21-6-37z /><path class=c19 d=M477,536l7,14-5-21-7-15zM471,553l6-17-5-22-7,17z /><path class=c15 d=M464,592l7-39-6-22-6,40z /><path class=c9 d=M457,631l7-39-5-21-7,39z /><path class=c5 d=M451,647l6-16-5-21-7,16zM444,632l7,15-6-21-6-15z /><path class=c9 d=M437,594l7,38-5-21-7-38z /><path class=c16 d=M431,556l6,38-5-21-6-38z /><path class=c20 d=M424,540l7,16-5-21-7-16z /><path class=c21 d=M417,556l7-16-5-21-7,16z /><path class=c17 d=M411,594l6-38-5-21-6,38z /><path class=c11 d=M404,631l7-37-5-21-7,37z /><path class=c7 d=M397,647l7-16-5-21-7,15zM391,630l6,17-5-22-6-16z /><path class=c12 d=M384,591l7,39-5-21-7-39z /><path class=c19 d=M378,551l6,40-5-21-7-40z /><path class=c24 d=M371,534l7,17-6-21-6-17zM364,549l7-15-5-21-7,14z /><path class=c20 d=M358,585l6-36-5-22-6,37z /><path class=c15 d=M351,621l7-36-5-21-7,36z /><path class=c11 d=M344,635l7-14-5-21-7,14z /><path class=c12 d=M338,617l6,18-5-21-6-18z /><path class=c17 d=M331,577l7,40-5-21-7-41z /><path class=c23 d=M324,536l7,41-5-22-7-40z /><path class=c28 d=M318,517l6,19-5-21-6-19z /><path class=c29 d=M311,530l7-13-5-21-7,13z /><path class=c26 d=M305,565l6-35-5-21-7,35z /><path class=c20 d=M298,600l7-35-6-21-6,35z /><path class=c17 d=M291,613l7-13-5-21-7,13z /><path class=c18 d=M285,594l6,19-5-21-7-20z /><path class=c23 d=M278,552l7,42-6-22-6-42z /><path class=c30 d=M271,510l7,42-5-22-7-42z /><path class=c35 d=M265,490l6,20-5-22-6-20z /><path class=c36 d=M258,501l7-11-5-22-7,12z /><path class=c33 d=M251,535l7-34-5-21-7,34z /><path class=c27 d=M245,569l6-34-5-21-6,34z /><path class=c24 d=M238,580l7-11-5-21-7,11z /><path class=c23 d=M768,407l6,7-5,11-6-8z /><path class=c26 d=M761,377l7,30-5,10-7-29z /><path class=c31 d=M755,347l6,30-5,11-7-30z /><path class=c34 d=M748,339l7,8-6,11-6-8zM741,363l7-24-5,11-7,24z /><path class=c28 d=M735,409l6-46-5,11-7,46z /><path class=c21 d=M728,455l7-46-6,11-6,45z /><path class=c16 d=M721,478l7-23-5,10-7,24zM715,470l6,8-5,11-6-9z /><path class=c19 d=M708,438l7,32-5,10-7-31z /><path class=c24 d=M701,407l7,31-5,11-7-31z /><path class=c28 d=M695,398l6,9-5,11-6-9z /><path class=c27 d=M688,421l7-23-5,11-7,22z /><path class=c22 d=M681,465l7-44-5,10-7,45z /><path class=c16 d=M675,510l6-45-5,11-6,44z /><path class=c11 d=M668,531l7-21-5,10-7,22z /><path class=c10 d=M662,522l6,9-5,11-7-10z /><path class=c14 d=M655,489l7,33-6,10-6-32z /><path class=c19 d=M648,456l7,33-5,11-7-33z /><path class=c23 d=M642,446l6,10-5,11-6-10zM635,467l7-21-5,11-7,21z /><path class=c18 d=M628,510l7-43-5,11-7,43z /><path class=c11 d=M622,553l6-43-5,11-6,43z /><path class=c7 d=M615,574l7-21-5,11-7,21z /><path class=c6 d=M608,563l7,11-5,11-7-12z /><path class=c10 d=M602,529l6,34-5,10-6-33z /><path class=c16 d=M595,495l7,34-5,11-7-34z /><path class=c20 d=M589,483l6,12-5,11-7-12zM582,503l7-20-6,11-6,19z /><path class=c15 d=M575,545l7-42-5,10-7,42z /><path class=c9 d=M569,586l6-41-5,10-7,42z /><path class=c4 d=M562,606l7-20-6,11-6,19zM555,593l7,13-5,10-7-12z /><path class=c8 d=M549,558l6,35-5,11-6-35z /><path class=c14 d=M542,523l7,35-5,11-7-36z /><path class=c18 d=M535,509l7,14-5,10-7-13zM529,528l6-19-5,11-6,18z /><path class=c14 d=M522,568l7-40-5,10-7,41z /><path class=c8 d=M515,609l7-41-5,11-7,40z /><path class=c4 d=M509,627l6-18-5,10-6,18zM502,613l7,14-5,10-7-14z /><path class=c8 d=M496,576l6,37-5,10-7-36z /><path class=c14 d=M489,539l7,37-6,11-6-37z /><path class=c18 d=M482,525l7,14-5,11-7-14z /><path class=c19 d=M476,542l6-17-5,11-6,17z /><path class=c14 d=M469,581l7-39-5,11-7,39z /><path class=c8 d=M462,620l7-39-5,11-7,39z /><path class=c4 d=M456,637l6-17-5,11-6,16zM449,621l7,16-5,10-7-15z /><path class=c9 d=M442,584l7,37-5,11-7-38z /><path class=c15 d=M436,546l6,38-5,10-6-38z /><path class=c20 d=M429,530l7,16-5,10-7-16zM423,545l6-15-5,10-7,16z /><path class=c16 d=M416,583l7-38-6,11-6,38z /><path class=c11 d=M409,621l7-38-5,11-7,37z /><path class=c7 d=M403,636l6-15-5,10-7,16zM396,619l7,17-6,11-6-17z /><path class=c12 d=M389,580l7,39-5,11-7-39z /><path class=c18 d=M383,541l6,39-5,11-6-40z /><path class=c23 d=M376,524l7,17-5,10-7-17z /><path class=c24 d=M369,538l7-14-5,10-7,15z /><path class=c20 d=M363,574l6-36-5,11-6,36z /><path class=c14 d=M356,611l7-37-5,11-7,36z /><path class=c11 d=M349,625l7-14-5,10-7,14zM343,607l6,18-5,10-6-18z /><path class=c16 d=M336,566l7,41-5,10-7-40z /><path class=c23 d=M330,525l6,41-5,11-7-41z /><path class=c28 d=M323,507l7,18-6,11-6-19z /><path class=c29 d=M316,520l7-13-5,10-7,13z /><path class=c25 d=M310,555l6-35-5,10-6,35z /><path class=c20 d=M303,590l7-35-5,10-7,35z /><path class=c16 d=M296,602l7-12-5,10-7,13z /><path class=c17 d=M290,583l6,19-5,11-6-19z /><path class=c22 d=M283,541l7,42-5,11-7-42z /><path class=c29 d=M276,499l7,42-5,11-7-42z /><path class=c35 d=M270,479l6,20-5,11-6-20z /><path class=c36 d=M263,491l7-12-5,11-7,11z /><path class=c32 d=M257,524l6-33-5,10-7,34z /><path class=c27 d=M250,558l7-34-6,11-6,34z /><path class=c24 d=M243,569l7-11-5,11-7,11z /><path class=c26 d=M773,374l7,7-6,33-6-7z /><path class=c30 d=M766,344l7,30-5,33-7-30z /><path class=c35 d=M760,314l6,30-5,33-6-30z /><path class=c38 d=M753,306l7,8-5,33-7-8z /><path class=c37 d=M746,330l7-24-5,33-7,24z /><path class=c32 d=M740,376l6-46-5,33-6,46z /><path class=c25 d=M733,422l7-46-5,33-7,46z /><path class=c20 d=M726,445l7-23-5,33-7,23zM720,436l6,9-5,33-6-8z /><path class=c23 d=M713,405l7,31-5,34-7-32z /><path class=c28 d=M706,374l7,31-5,33-7-31z /><path class=c32 d=M700,365l6,9-5,33-6-9z /><path class=c31 d=M693,387l7-22-5,33-7,23z /><path class=c26 d=M687,432l6-45-5,34-7,44z /><path class=c20 d=M680,476l7-44-6,33-6,45z /><path class=c15 d=M673,498l7-22-5,34-7,21z /><path class=c14 d=M667,488l6,10-5,33-6-9z /><path class=c18 d=M660,456l7,32-5,34-7-33z /><path class=c23 d=M653,423l7,33-5,33-7-33z /><path class=c27 d=M647,413l6,10-5,33-6-10zM640,434l7-21-5,33-7,21z /><path class=c22 d=M633,477l7-43-5,33-7,43z /><path class=c15 d=M627,520l6-43-5,33-6,43z /><path class=c11 d=M620,541l7-21-5,33-7,21z /><path class=c10 d=M614,530l6,11-5,33-7-11z /><path class=c14 d=M607,496l7,34-6,33-6-34z /><path class=c20 d=M600,462l7,34-5,33-7-34z /><path class=c24 d=M594,450l6,12-5,33-6-12zM587,470l7-20-5,33-7,20z /><path class=c19 d=M580,512l7-42-5,33-7,42z /><path class=c13 d=M574,553l6-41-5,33-6,41z /><path class=c8 d=M567,573l7-20-5,33-7,20zM560,560l7,13-5,33-7-13z /><path class=c12 d=M554,525l6,35-5,33-6-35z /><path class=c18 d=M547,489l7,36-5,33-7-35z /><path class=c22 d=M540,476l7,13-5,34-7-14zM534,495l6-19-5,33-6,19z /><path class=c18 d=M527,535l7-40-5,33-7,40z /><path class=c12 d=M521,576l6-41-5,33-7,41z /><path class=c7 d=M514,593l7-17-6,33-6,18zM507,580l7,13-5,34-7-14z /><path class=c12 d=M501,543l6,37-5,33-6-37z /><path class=c18 d=M494,506l7,37-5,33-7-37z /><path class=c22 d=M487,492l7,14-5,33-7-14zM481,509l6-17-5,33-6,17z /><path class=c18 d=M474,548l7-39-5,33-7,39z /><path class=c12 d=M467,587l7-39-5,33-7,39z /><path class=c8 d=M461,604l6-17-5,33-6,17zM454,588l7,16-5,33-7-16z /><path class=c13 d=M448,550l6,38-5,33-7-37z /><path class=c19 d=M441,512l7,38-6,34-6-38z /><path class=c24 d=M434,497l7,15-5,34-7-16zM428,512l6-15-5,33-6,15z /><path class=c20 d=M421,550l7-38-5,33-7,38z /><path class=c15 d=M414,588l7-38-5,33-7,38z /><path class=c11 d=M408,603l6-15-5,33-6,15zM401,586l7,17-5,33-7-17z /><path class=c16 d=M394,547l7,39-5,33-7-39z /><path class=c22 d=M388,508l6,39-5,33-6-39z /><path class=c27 d=M381,491l7,17-5,33-7-17z /><path class=c28 d=M374,505l7-14-5,33-7,14z /><path class=c24 d=M368,541l6-36-5,33-6,36z /><path class=c18 d=M361,578l7-37-5,33-7,37z /><path class=c15 d=M355,591l6-13-5,33-7,14zM348,573l7,18-6,34-6-18z /><path class=c20 d=M341,533l7,40-5,34-7-41z /><path class=c27 d=M335,492l6,41-5,33-6-41z /><path class=c32 d=M328,474l7,18-5,33-7-18z /><path class=c33 d=M321,487l7-13-5,33-7,13z /><path class=c29 d=M315,522l6-35-5,33-6,35z /><path class=c24 d=M308,557l7-35-5,33-7,35z /><path class=c20 d=M301,569l7-12-5,33-7,12z /><path class=c21 d=M295,550l6,19-5,33-6-19z /><path class=c26 d=M288,508l7,42-5,33-7-42z /><path class=c33 d=M282,466l6,42-5,33-7-42z /><path class=c39 d=M275,446l7,20-6,33-6-20z /><path class=c40 d=M268,458l7-12-5,33-7,12z /><path class=c36 d=M262,491l6-33-5,33-6,33z /><path class=c31 d=M255,525l7-34-5,33-7,34z /><path class=c28 d=M248,536l7-11-5,33-7,11z /><path class=c32 d=M778,340l7,8-5,33-7-7z /><path class=c36 d=M771,311l7,29-5,34-7-30z /><path class=c41 d=M765,281l6,30-5,33-6-30z /><path class=c44 d=M758,273l7,8-5,33-7-8z /><path class=c43 d=M751,297l7-24-5,33-7,24z /><path class=c38 d=M745,343l6-46-5,33-6,46z /><path class=c31 d=M738,388l7-45-5,33-7,46z /><path class=c26 d=M732,412l6-24-5,34-7,23z /><path class=c25 d=M725,403l7,9-6,33-6-9z /><path class=c29 d=M718,372l7,31-5,33-7-31z /><path class=c34 d=M712,341l6,31-5,33-7-31z /><path class=c38 d=M705,332l7,9-6,33-6-9z /><path class=c37 d=M698,354l7-22-5,33-7,22z /><path class=c32 d=M692,399l6-45-5,33-6,45z /><path class=c25 d=M685,443l7-44-5,33-7,44z /><path class=c20 d=M678,465l7-22-5,33-7,22zM672,455l6,10-5,33-6-10z /><path class=c24 d=M665,423l7,32-5,33-7-32z /><path class=c29 d=M658,390l7,33-5,33-7-33z /><path class=c33 d=M652,380l6,10-5,33-6-10z /><path class=c32 d=M645,401l7-21-5,33-7,21z /><path class=c28 d=M639,444l6-43-5,33-7,43z /><path class=c21 d=M632,487l7-43-6,33-6,43z /><path class=c16 d=M625,508l7-21-5,33-7,21zM619,496l6,12-5,33-6-11z /><path class=c20 d=M612,462l7,34-5,34-7-34z /><path class=c26 d=M605,428l7,34-5,34-7-34z /><path class=c30 d=M599,417l6,11-5,34-6-12z /><path class=c29 d=M592,436l7-19-5,33-7,20z /><path class=c25 d=M585,478l7-42-5,34-7,42z /><path class=c19 d=M579,520l6-42-5,34-6,41z /><path class=c14 d=M572,539l7-19-5,33-7,20zM566,527l6,12-5,34-7-13z /><path class=c18 d=M559,491l7,36-6,33-6-35z /><path class=c24 d=M552,456l7,35-5,34-7-36z /><path class=c28 d=M546,443l6,13-5,33-7-13zM539,461l7-18-6,33-6,19z /><path class=c24 d=M532,502l7-41-5,34-7,40z /><path class=c18 d=M526,542l6-40-5,33-6,41z /><path class=c13 d=M519,560l7-18-5,34-7,17zM512,546l7,14-5,33-7-13z /><path class=c18 d=M506,510l6,36-5,34-6-37z /><path class=c24 d=M499,473l7,37-5,33-7-37z /><path class=c28 d=M492,459l7,14-5,33-7-14zM486,476l6-17-5,33-6,17z /><path class=c24 d=M479,515l7-39-5,33-7,39z /><path class=c18 d=M473,554l6-39-5,33-7,39z /><path class=c14 d=M466,570l7-16-6,33-6,17zM459,555l7,15-5,34-7-16z /><path class=c19 d=M453,517l6,38-5,33-6-38z /><path class=c25 d=M446,479l7,38-5,33-7-38z /><path class=c30 d=M439,463l7,16-5,33-7-15zM433,479l6-16-5,34-6,15z /><path class=c26 d=M426,517l7-38-5,33-7,38z /><path class=c20 d=M419,554l7-37-5,33-7,38z /><path class=c16 d=M413,570l6-16-5,34-6,15z /><path class=c17 d=M406,553l7,17-5,33-7-17z /><path class=c21 d=M400,514l6,39-5,33-7-39z /><path class=c28 d=M393,474l7,40-6,33-6-39z /><path class=c33 d=M386,457l7,17-5,34-7-17zM380,472l6-15-5,34-7,14z /><path class=c30 d=M373,508l7-36-6,33-6,36z /><path class=c24 d=M366,544l7-36-5,33-7,37z /><path class=c20 d=M360,558l6-14-5,34-6,13z /><path class=c21 d=M353,540l7,18-5,33-7-18z /><path class=c26 d=M346,500l7,40-5,33-7-40z /><path class=c33 d=M340,459l6,41-5,33-6-41z /><path class=c38 d=M333,440l7,19-5,33-7-18z /><path class=c39 d=M326,453l7-13-5,34-7,13z /><path class=c35 d=M320,488l6-35-5,34-6,35z /><path class=c30 d=M313,523l7-35-5,34-7,35z /><path class=c26 d=M307,536l6-13-5,34-7,12z /><path class=c27 d=M300,516l7,20-6,33-6-19z /><path class=c32 d=M293,475l7,41-5,34-7-42z /><path class=c39 d=M287,433l6,42-5,33-6-42z /><path class=c44 d=M280,413l7,20-5,33-7-20z /><path class=c45 d=M273,424l7-11-5,33-7,12z /><path class=c42 d=M267,458l6-34-5,34-6,33z /><path class=c37 d=M260,492l7-34-5,33-7,34z /><path class=c34 d=M253,503l7-11-5,33-7,11z /><path class=c36 d=M783,329l7,7-5,12-7-8z /><path class=c40 d=M776,299l7,30-5,11-7-29z /><path class=c45 d=M770,270l6,29-5,12-6-30z /><path class=c48 d=M763,262l7,8-5,11-7-8z /><path class=c47 d=M757,286l6-24-5,11-7,24z /><path class=c42 d=M750,332l7-46-6,11-6,46z /><path class=c35 d=M743,377l7-45-5,11-7,45z /><path class=c30 d=M737,401l6-24-5,11-6,24z /><path class=c29 d=M730,392l7,9-5,11-7-9z /><path class=c33 d=M723,361l7,31-5,11-7-31z /><path class=c38 d=M717,330l6,31-5,11-6-31z /><path class=c42 d=M710,321l7,9-5,11-7-9z /><path class=c41 d=M703,343l7-22-5,11-7,22z /><path class=c36 d=M697,388l6-45-5,11-6,45z /><path class=c29 d=M690,432l7-44-5,11-7,44z /><path class=c24 d=M684,454l6-22-5,11-7,22zM677,444l7,10-6,11-6-10z /><path class=c28 d=M670,412l7,32-5,11-7-32z /><path class=c33 d=M664,379l6,33-5,11-7-33z /><path class=c37 d=M657,368l7,11-6,11-6-10z /><path class=c36 d=M650,390l7-22-5,12-7,21z /><path class=c32 d=M644,433l6-43-5,11-6,43z /><path class=c25 d=M637,476l7-43-5,11-7,43z /><path class=c20 d=M630,496l7-20-5,11-7,21zM624,485l6,11-5,12-6-12z /><path class=c24 d=M617,451l7,34-5,11-7-34z /><path class=c30 d=M610,417l7,34-5,11-7-34z /><path class=c34 d=M604,406l6,11-5,11-6-11z /><path class=c33 d=M597,425l7-19-5,11-7,19z /><path class=c29 d=M591,467l6-42-5,11-7,42z /><path class=c23 d=M584,509l7-42-6,11-6,42z /><path class=c18 d=M577,528l7-19-5,11-7,19zM571,516l6,12-5,11-6-12z /><path class=c22 d=M564,480l7,36-5,11-7-36z /><path class=c28 d=M557,445l7,35-5,11-7-35z /><path class=c32 d=M551,432l6,13-5,11-6-13zM544,450l7-18-5,11-7,18z /><path class=c28 d=M537,491l7-41-5,11-7,41z /><path class=c22 d=M531,531l6-40-5,11-6,40z /><path class=c17 d=M524,549l7-18-5,11-7,18zM518,535l6,14-5,11-7-14z /><path class=c22 d=M511,499l7,36-6,11-6-36z /><path class=c28 d=M504,462l7,37-5,11-7-37z /><path class=c32 d=M498,447l6,15-5,11-7-14zM491,464l7-17-6,12-6,17z /><path class=c28 d=M484,504l7-40-5,12-7,39z /><path class=c22 d=M478,543l6-39-5,11-6,39z /><path class=c18 d=M471,559l7-16-5,11-7,16zM464,544l7,15-5,11-7-15z /><path class=c23 d=M458,506l6,38-5,11-6-38z /><path class=c29 d=M451,468l7,38-5,11-7-38z /><path class=c34 d=M444,452l7,16-5,11-7-16zM438,468l6-16-5,11-6,16z /><path class=c30 d=M431,506l7-38-5,11-7,38z /><path class=c24 d=M425,543l6-37-5,11-7,37z /><path class=c20 d=M418,558l7-15-6,11-6,16z /><path class=c21 d=M411,542l7,16-5,12-7-17z /><path class=c26 d=M405,503l6,39-5,11-6-39z /><path class=c32 d=M398,463l7,40-5,11-7-40z /><path class=c37 d=M391,446l7,17-5,11-7-17zM385,460l6-14-5,11-6,15z /><path class=c34 d=M378,497l7-37-5,12-7,36z /><path class=c28 d=M371,533l7-36-5,11-7,36z /><path class=c24 d=M365,547l6-14-5,11-6,14z /><path class=c25 d=M358,529l7,18-5,11-7-18z /><path class=c30 d=M352,488l6,41-5,11-7-40z /><path class=c37 d=M345,448l7,40-6,12-6-41z /><path class=c42 d=M338,429l7,19-5,11-7-19z /><path class=c43 d=M332,442l6-13-5,11-7,13z /><path class=c39 d=M325,477l7-35-6,11-6,35z /><path class=c34 d=M318,512l7-35-5,11-7,35z /><path class=c30 d=M312,525l6-13-5,11-6,13z /><path class=c31 d=M305,505l7,20-5,11-7-20z /><path class=c36 d=M298,463l7,42-5,11-7-41z /><path class=c43 d=M292,421l6,42-5,12-6-42z /><path class=c48 d=M285,402l7,19-5,12-7-20z /><path class=c49 d=M278,413l7-11-5,11-7,11z /><path class=c46 d=M272,447l6-34-5,11-6,34z /><path class=c41 d=M265,481l7-34-5,11-7,34z /><path class=c38 d=M259,492l6-11-5,11-7,11z /><path class=c36 d=M788,350l7,7-5-21-7-7z /><path class=c39 d=M782,320l6,30-5-21-7-30z /><path class=c44 d=M775,290l7,30-6-21-6-29z /><path class=c48 d=M768,282l7,8-5-20-7-8z /><path class=c47 d=M762,306l6-24-5-20-6,24z /><path class=c42 d=M755,352l7-46-5-20-7,46z /><path class=c35 d=M748,398l7-46-5-20-7,45z /><path class=c30 d=M742,421l6-23-5-21-6,24z /><path class=c29 d=M735,412l7,9-5-20-7-9z /><path class=c33 d=M728,381l7,31-5-20-7-31z /><path class=c38 d=M722,350l6,31-5-20-6-31z /><path class=c41 d=M715,341l7,9-5-20-7-9zM709,363l6-22-5-20-7,22z /><path class=c36 d=M702,408l7-45-6-20-6,45z /><path class=c29 d=M695,452l7-44-5-20-7,44z /><path class=c24 d=M689,474l6-22-5-20-6,22zM682,464l7,10-5-20-7-10z /><path class=c27 d=M675,432l7,32-5-20-7-32z /><path class=c33 d=M669,399l6,33-5-20-6-33z /><path class=c37 d=M662,389l7,10-5-20-7-11z /><path class=c36 d=M655,410l7-21-5-21-7,22z /><path class=c31 d=M649,453l6-43-5-20-6,43z /><path class=c25 d=M642,496l7-43-5-20-7,43z /><path class=c20 d=M635,517l7-21-5-20-7,20zM629,506l6,11-5-21-6-11z /><path class=c24 d=M622,472l7,34-5-21-7-34z /><path class=c29 d=M616,438l6,34-5-21-7-34z /><path class=c33 d=M609,426l7,12-6-21-6-11zM602,446l7-20-5-20-7,19z /><path class=c29 d=M596,488l6-42-5-21-6,42z /><path class=c22 d=M589,529l7-41-5-21-7,42z /><path class=c18 d=M582,548l7-19-5-20-7,19zM576,536l6,12-5-20-6-12z /><path class=c22 d=M569,501l7,35-5-20-7-36z /><path class=c28 d=M562,465l7,36-5-21-7-35z /><path class=c32 d=M556,452l6,13-5-20-6-13zM549,471l7-19-5-20-7,18z /><path class=c27 d=M543,511l6-40-5-21-7,41z /><path class=c21 d=M536,552l7-41-6-20-6,40z /><path class=c17 d=M529,569l7-17-5-21-7,18zM523,555l6,14-5-20-6-14z /><path class=c21 d=M516,519l7,36-5-20-7-36z /><path class=c27 d=M509,482l7,37-5-20-7-37z /><path class=c32 d=M503,468l6,14-5-20-6-15zM496,485l7-17-5-21-7,17z /><path class=c28 d=M489,524l7-39-5-21-7,40z /><path class=c22 d=M483,563l6-39-5-20-6,39z /><path class=c18 d=M476,580l7-17-5-20-7,16zM469,564l7,16-5-21-7-15z /><path class=c22 d=M463,526l6,38-5-20-6-38z /><path class=c29 d=M456,488l7,38-5-20-7-38z /><path class=c33 d=M450,473l6,15-5-20-7-16z /><path class=c34 d=M443,488l7-15-6-21-6,16z /><path class=c30 d=M436,526l7-38-5-20-7,38z /><path class=c24 d=M430,564l6-38-5-20-6,37z /><path class=c20 d=M423,579l7-15-5-21-7,15zM416,562l7,17-5-21-7-16z /><path class=c25 d=M410,523l6,39-5-20-6-39z /><path class=c32 d=M403,484l7,39-5-20-7-40z /><path class=c37 d=M396,466l7,18-5-21-7-17zM390,481l6-15-5-20-6,14z /><path class=c33 d=M383,517l7-36-5-21-7,37z /><path class=c28 d=M377,554l6-37-5-20-7,36z /><path class=c24 d=M370,567l7-13-6-21-6,14z /><path class=c25 d=M363,549l7,18-5-20-7-18z /><path class=c30 d=M357,509l6,40-5-20-6-41z /><path class=c37 d=M350,468l7,41-5-21-7-40z /><path class=c42 d=M343,450l7,18-5-20-7-19zM337,463l6-13-5-21-6,13z /><path class=c39 d=M330,498l7-35-5-21-7,35z /><path class=c34 d=M323,533l7-35-5-21-7,35z /><path class=c30 d=M317,545l6-12-5-21-6,13z /><path class=c31 d=M310,526l7,19-5-20-7-20z /><path class=c36 d=M303,484l7,42-5-21-7-42z /><path class=c43 d=M297,442l6,42-5-21-6-42z /><path class=c48 d=M290,422l7,20-5-21-7-19z /><path class=c49 d=M284,433l6-11-5-20-7,11z /><path class=c46 d=M277,467l7-34-6-20-6,34z /><path class=c41 d=M270,501l7-34-5-20-7,34z /><path class=c37 d=M264,512l6-11-5-20-6,11z /><path class=c31 d=M793,392l7,7-5-42-7-7z /><path class=c35 d=M787,362l6,30-5-42-6-30z /><path class=c40 d=M780,332l7,30-5-42-7-30z /><path class=c43 d=M773,325l7,7-5-42-7-8z /><path class=c42 d=M767,349l6-24-5-43-6,24z /><path class=c37 d=M760,394l7-45-5-43-7,46z /><path class=c30 d=M753,440l7-46-5-42-7,46z /><path class=c25 d=M747,463l6-23-5-42-6,23z /><path class=c24 d=M740,455l7,8-5-42-7-9z /><path class=c28 d=M734,424l6,31-5-43-7-31z /><path class=c33 d=M727,393l7,31-6-43-6-31z /><path class=c37 d=M720,383l7,10-5-43-7-9z /><path class=c36 d=M714,406l6-23-5-42-6,22z /><path class=c31 d=M707,450l7-44-5-43-7,45z /><path class=c25 d=M700,495l7-45-5-42-7,44z /><path class=c20 d=M694,517l6-22-5-43-6,22z /><path class=c19 d=M687,507l7,10-5-43-7-10z /><path class=c23 d=M680,474l7,33-5-43-7-32z /><path class=c28 d=M674,442l6,32-5-42-6-33z /><path class=c32 d=M667,431l7,11-5-43-7-10zM661,452l6-21-5-42-7,21z /><path class=c27 d=M654,496l7-44-6-42-6,43z /><path class=c20 d=M647,539l7-43-5-43-7,43z /><path class=c16 d=M641,559l6-20-5-43-7,21z /><path class=c15 d=M634,548l7,11-6-42-6-11z /><path class=c19 d=M627,514l7,34-5-42-7-34z /><path class=c25 d=M621,480l6,34-5-42-6-34z /><path class=c29 d=M614,469l7,11-5-42-7-12zM607,488l7-19-5-43-7,20z /><path class=c24 d=M601,530l6-42-5-42-6,42z /><path class=c18 d=M594,572l7-42-5-42-7,41z /><path class=c13 d=M587,591l7-19-5-43-7,19zM581,578l6,13-5-43-6-12z /><path class=c17 d=M574,543l7,35-5-42-7-35z /><path class=c23 d=M568,508l6,35-5-42-7-36z /><path class=c27 d=M561,495l7,13-6-43-6-13zM554,513l7-18-5-43-7,19z /><path class=c23 d=M548,554l6-41-5-42-6,40z /><path class=c17 d=M541,594l7-40-5-43-7,41z /><path class=c12 d=M534,612l7-18-5-42-7,17zM528,598l6,14-5-43-6-14z /><path class=c17 d=M521,562l7,36-5-43-7-36z /><path class=c23 d=M514,525l7,37-5-43-7-37z /><path class=c27 d=M508,510l6,15-5-43-6-14zM501,527l7-17-5-42-7,17z /><path class=c23 d=M495,567l6-40-5-42-7,39z /><path class=c17 d=M488,606l7-39-6-43-6,39z /><path class=c13 d=M481,622l7-16-5-43-7,17zM475,607l6,15-5-42-7-16z /><path class=c18 d=M468,569l7,38-6-43-6-38z /><path class=c24 d=M461,531l7,38-5-43-7-38z /><path class=c29 d=M455,515l6,16-5-43-6-15zM448,531l7-16-5-42-7,15z /><path class=c25 d=M441,569l7-38-5-43-7,38z /><path class=c19 d=M435,606l6-37-5-43-6,38z /><path class=c16 d=M428,621l7-15-5-42-7,15zM421,605l7,16-5-42-7-17z /><path class=c21 d=M415,566l6,39-5-43-6-39z /><path class=c27 d=M408,526l7,40-5-43-7-39z /><path class=c32 d=M402,509l6,17-5-42-7-18z /><path class=c33 d=M395,523l7-14-6-43-6,15z /><path class=c29 d=M388,560l7-37-5-42-7,36z /><path class=c23 d=M382,596l6-36-5-43-6,37z /><path class=c20 d=M375,610l7-14-5-42-7,13zM368,592l7,18-5-43-7-18z /><path class=c25 d=M362,551l6,41-5-43-6-40z /><path class=c32 d=M355,511l7,40-5-42-7-41z /><path class=c37 d=M348,492l7,19-5-43-7-18z /><path class=c38 d=M342,505l6-13-5-42-6,13z /><path class=c34 d=M335,540l7-35-5-42-7,35z /><path class=c29 d=M329,575l6-35-5-42-7,35z /><path class=c26 d=M322,588l7-13-6-42-6,12zM315,568l7,20-5-43-7-19z /><path class=c32 d=M309,526l6,42-5-42-7-42z /><path class=c38 d=M302,484l7,42-6-42-6-42z /><path class=c44 d=M295,464l7,20-5-42-7-20z /><path class=c45 d=M289,476l6-12-5-42-6,11z /><path class=c41 d=M282,510l7-34-5-43-7,34z /><path class=c36 d=M275,543l7-33-5-43-7,34z /><path class=c33 d=M269,555l6-12-5-42-6,11z /><path class=c25 d=M798,435l7,7-5-43-7-7z /><path class=c28 d=M792,405l6,30-5-43-6-30z /><path class=c34 d=M785,375l7,30-5-43-7-30z /><path class=c37 d=M778,367l7,8-5-43-7-7z /><path class=c36 d=M772,391l6-24-5-42-6,24z /><path class=c31 d=M765,437l7-46-5-42-7,45z /><path class=c24 d=M759,483l6-46-5-43-7,46z /><path class=c19 d=M752,506l7-23-6-43-6,23z /><path class=c18 d=M745,497l7,9-5-43-7-8z /><path class=c22 d=M739,466l6,31-5-42-6-31z /><path class=c27 d=M732,435l7,31-5-42-7-31z /><path class=c31 d=M725,426l7,9-5-42-7-10z /><path class=c30 d=M719,448l6-22-5-43-6,23z /><path class=c25 d=M712,493l7-45-5-42-7,44z /><path class=c18 d=M705,537l7-44-5-43-7,45z /><path class=c13 d=M699,559l6-22-5-42-6,22zM692,549l7,10-5-42-7-10z /><path class=c16 d=M686,517l6,32-5-42-7-33z /><path class=c22 d=M679,484l7,33-6-43-6-32z /><path class=c26 d=M672,474l7,10-5-42-7-11z /><path class=c25 d=M666,495l6-21-5-43-6,21z /><path class=c21 d=M659,538l7-43-5-43-7,44z /><path class=c14 d=M652,581l7-43-5-42-7,43z /><path class=c9 d=M646,602l6-21-5-42-6,20zM639,590l7,12-5-43-7-11z /><path class=c13 d=M632,557l7,33-5-42-7-34z /><path class=c19 d=M626,523l6,34-5-43-6-34z /><path class=c23 d=M619,511l7,12-5-43-7-11z /><path class=c22 d=M612,531l7-20-5-42-7,19z /><path class=c18 d=M606,573l6-42-5-43-6,42z /><path class=c11 d=M599,614l7-41-5-43-7,42z /><path class=c7 d=M593,633l6-19-5-42-7,19zM586,621l7,12-6-42-6-13z /><path class=c11 d=M579,586l7,35-5-43-7-35z /><path class=c17 d=M573,550l6,36-5-43-6-35z /><path class=c21 d=M566,537l7,13-5-42-7-13zM559,556l7-19-5-42-7,18z /><path class=c16 d=M553,596l6-40-5-43-6,41z /><path class=c10 d=M546,637l7-41-5-42-7,40z /><path class=c6 d=M539,654l7-17-5-43-7,18zM533,640l6,14-5-42-6-14z /><path class=c10 d=M526,604l7,36-5-42-7-36z /><path class=c17 d=M520,567l6,37-5-42-7-37z /><path class=c21 d=M513,553l7,14-6-42-6-15zM506,570l7-17-5-43-7,17z /><path class=c17 d=M500,609l6-39-5-43-6,40z /><path class=c11 d=M493,648l7-39-5-42-7,39z /><path class=c7 d=M486,664l7-16-5-42-7,16zM480,649l6,15-5-42-6-15z /><path class=c12 d=M473,611l7,38-5-42-7-38z /><path class=c18 d=M466,573l7,38-5-42-7-38z /><path class=c22 d=M460,557l6,16-5-42-6-16z /><path class=c23 d=M453,573l7-16-5-42-7,16z /><path class=c19 d=M446,611l7-38-5-42-7,38z /><path class=c13 d=M440,649l6-38-5-42-6,37z /><path class=c9 d=M433,664l7-15-5-43-7,15z /><path class=c10 d=M427,647l6,17-5-43-7-16z /><path class=c14 d=M420,608l7,39-6-42-6-39z /><path class=c21 d=M413,569l7,39-5-42-7-40z /><path class=c26 d=M407,551l6,18-5-43-6-17zM400,566l7-15-5-42-7,14z /><path class=c23 d=M393,602l7-36-5-43-7,37z /><path class=c17 d=M387,639l6-37-5-42-6,36z /><path class=c13 d=M380,652l7-13-5-43-7,14z /><path class=c14 d=M373,634l7,18-5-42-7-18z /><path class=c19 d=M367,594l6,40-5-42-6-41z /><path class=c26 d=M360,553l7,41-5-43-7-40z /><path class=c31 d=M354,535l6,18-5-42-7-19z /><path class=c32 d=M347,547l7-12-6-43-6,13z /><path class=c28 d=M340,583l7-36-5-42-7,35z /><path class=c23 d=M334,618l6-35-5-43-6,35z /><path class=c19 d=M327,630l7-12-5-43-7,13z /><path class=c20 d=M320,611l7,19-5-42-7-20z /><path class=c25 d=M314,569l6,42-5-43-6-42z /><path class=c32 d=M307,527l7,42-5-43-7-42z /><path class=c37 d=M300,507l7,20-5-43-7-20z /><path class=c38 d=M294,518l6-11-5-43-6,12z /><path class=c35 d=M287,552l7-34-5-42-7,34z /><path class=c30 d=M280,586l7-34-5-42-7,33z /><path class=c27 d=M274,597l6-11-5-43-6,12z /><path class=c21 d=M804,454l6,8-5-20-7-7z /><path class=c24 d=M797,425l7,29-6-19-6-30z /><path class=c29 d=M790,395l7,30-5-20-7-30z /><path class=c32 d=M784,387l6,8-5-20-7-8zM777,411l7-24-6-20-6,24z /><path class=c26 d=M770,457l7-46-5-20-7,46z /><path class=c19 d=M764,502l6-45-5-20-6,46z /><path class=c14 d=M757,526l7-24-5-19-7,23zM750,517l7,9-5-20-7-9z /><path class=c17 d=M744,486l6,31-5-20-6-31z /><path class=c22 d=M737,455l7,31-5-20-7-31z /><path class=c26 d=M730,446l7,9-5-20-7-9z /><path class=c25 d=M724,468l6-22-5-20-6,22z /><path class=c20 d=M717,513l7-45-5-20-7,45z /><path class=c14 d=M711,557l6-44-5-20-7,44z /><path class=c9 d=M704,579l7-22-6-20-6,22z /><path class=c8 d=M697,569l7,10-5-20-7-10z /><path class=c12 d=M691,537l6,32-5-20-6-32z /><path class=c17 d=M684,504l7,33-5-20-7-33z /><path class=c21 d=M677,494l7,10-5-20-7-10zM671,515l6-21-5-20-6,21z /><path class=c16 d=M664,558l7-43-5-20-7,43z /><path class=c9 d=M657,601l7-43-5-20-7,43z /><path class=c5 d=M651,622l6-21-5-20-6,21z /><path class=c4 d=M644,610l7,12-5-20-7-12z /><path class=c8 d=M638,577l6,33-5-20-7-33z /><path class=c14 d=M631,543l7,34-6-20-6-34z /><path class=c18 d=M624,531l7,12-5-20-7-12zM618,550l6-19-5-20-7,20z /><path class=c13 d=M611,592l7-42-6-19-6,42z /><path class=c7 d=M604,634l7-42-5-19-7,41z /><path class=c2 d=M598,653l6-19-5-20-6,19zM591,641l7,12-5-20-7-12z /><path class=c6 d=M584,606l7,35-5-20-7-35z /><path class=c12 d=M578,570l6,36-5-20-6-36z /><path class=c16 d=M571,557l7,13-5-20-7-13zM564,575l7-18-5-20-7,19z /><path class=c12 d=M558,616l6-41-5-19-6,40z /><path class=c6 d=M551,656l7-40-5-20-7,41z /><path class=c2 d=M545,674l6-18-5-19-7,17zM538,660l7,14-6-20-6-14z /><path class=c6 d=M531,624l7,36-5-20-7-36z /><path class=c12 d=M525,587l6,37-5-20-6-37z /><path class=c16 d=M518,573l7,14-5-20-7-14zM511,590l7-17-5-20-7,17z /><path class=c12 d=M505,629l6-39-5-20-6,39z /><path class=c6 d=M498,668l7-39-5-20-7,39z /><path class=c2 d=M491,684l7-16-5-20-7,16zM485,669l6,15-5-20-6-15z /><path class=c7 d=M478,631l7,38-5-20-7-38z /><path class=c13 d=M472,593l6,38-5-20-7-38z /><path class=c18 d=M465,577l7,16-6-20-6-16zM458,593l7-16-5-20-7,16z /><path class=c14 d=M452,631l6-38-5-20-7,38z /><path class=c9 d=M445,668l7-37-6-20-6,38z /><path class=c5 d=M438,684l7-16-5-19-7,15zM432,667l6,17-5-20-6-17z /><path class=c10 d=M425,628l7,39-5-20-7-39z /><path class=c17 d=M418,588l7,40-5-20-7-39z /><path class=c21 d=M412,571l6,17-5-19-6-18z /><path class=c22 d=M405,586l7-15-5-20-7,15z /><path class=c18 d=M398,622l7-36-5-20-7,36z /><path class=c13 d=M392,658l6-36-5-20-6,37z /><path class=c9 d=M385,672l7-14-5-19-7,13z /><path class=c10 d=M379,654l6,18-5-20-7-18z /><path class=c15 d=M372,614l7,40-6-20-6-40z /><path class=c21 d=M365,573l7,41-5-20-7-41z /><path class=c26 d=M359,554l6,19-5-20-6-18z /><path class=c27 d=M352,567l7-13-5-19-7,12z /><path class=c24 d=M345,602l7-35-5-20-7,36z /><path class=c18 d=M339,637l6-35-5-19-6,35z /><path class=c15 d=M332,650l7-13-5-19-7,12z /><path class=c16 d=M325,631l7,19-5-20-7-19z /><path class=c21 d=M319,589l6,42-5-20-6-42z /><path class=c28 d=M312,547l7,42-5-20-7-42z /><path class=c33 d=M306,527l6,20-5-20-7-20z /><path class=c34 d=M299,538l7-11-6-20-6,11z /><path class=c31 d=M292,572l7-34-5-20-7,34z /><path class=c25 d=M286,606l6-34-5-20-7,34z /><path class=c22 d=M279,617l7-11-6-20-6,11z /><path class=c20 d=M809,442l6,8-5,12-6-8z /><path class=c24 d=M802,413l7,29-5,12-7-29z /><path class=c29 d=M795,383l7,30-5,12-7-30z /><path class=c32 d=M789,375l6,8-5,12-6-8z /><path class=c31 d=M782,399l7-24-5,12-7,24z /><path class=c26 d=M775,445l7-46-5,12-7,46z /><path class=c19 d=M769,491l6-46-5,12-6,45z /><path class=c14 d=M762,514l7-23-5,11-7,24z /><path class=c13 d=M756,505l6,9-5,12-7-9z /><path class=c17 d=M749,474l7,31-6,12-6-31z /><path class=c22 d=M742,443l7,31-5,12-7-31z /><path class=c26 d=M736,434l6,9-5,12-7-9z /><path class=c25 d=M729,456l7-22-6,12-6,22z /><path class=c20 d=M722,501l7-45-5,12-7,45z /><path class=c13 d=M716,545l6-44-5,12-6,44z /><path class=c9 d=M709,567l7-22-5,12-7,22z /><path class=c8 d=M702,557l7,10-5,12-7-10z /><path class=c12 d=M696,525l6,32-5,12-6-32z /><path class=c17 d=M689,492l7,33-5,12-7-33z /><path class=c21 d=M682,482l7,10-5,12-7-10zM676,503l6-21-5,12-6,21z /><path class=c16 d=M669,546l7-43-5,12-7,43z /><path class=c9 d=M663,589l6-43-5,12-7,43z /><path class=c5 d=M656,610l7-21-6,12-6,21z /><path class=c4 d=M649,598l7,12-5,12-7-12z /><path class=c8 d=M643,565l6,33-5,12-6-33z /><path class=c14 d=M636,531l7,34-5,12-7-34z /><path class=c18 d=M629,519l7,12-5,12-7-12zM623,539l6-20-5,12-6,19z /><path class=c13 d=M616,580l7-41-5,11-7,42z /><path class=c7 d=M609,622l7-42-5,12-7,42z /><path class=c2 d=M603,641l6-19-5,12-6,19zM596,629l7,12-5,12-7-12z /><path class=c6 d=M590,594l6,35-5,12-7-35z /><path class=c12 d=M583,558l7,36-6,12-6-36z /><path class=c16 d=M576,545l7,13-5,12-7-13zM570,563l6-18-5,12-7,18z /><path class=c12 d=M563,604l7-41-6,12-6,41z /><path class=c6 d=M556,644l7-40-5,12-7,40z /><path class=c1 d=M550,662l6-18-5,12-6,18zM543,648l7,14-5,12-7-14z /><path class=c6 d=M536,612l7,36-5,12-7-36z /><path class=c12 d=M530,575l6,37-5,12-6-37z /><path class=c16 d=M523,561l7,14-5,12-7-14zM516,578l7-17-5,12-7,17z /><path class=c12 d=M510,617l6-39-5,12-6,39z /><path class=c6 d=M503,656l7-39-5,12-7,39z /><path class=c2 d=M497,672l6-16-5,12-7,16zM490,657l7,15-6,12-6-15z /><path class=c7 d=M483,619l7,38-5,12-7-38z /><path class=c13 d=M477,581l6,38-5,12-6-38z /><path class=c18 d=M470,565l7,16-5,12-7-16zM463,581l7-16-5,12-7,16z /><path class=c14 d=M457,619l6-38-5,12-6,38z /><path class=c9 d=M450,657l7-38-5,12-7,37z /><path class=c5 d=M443,672l7-15-5,11-7,16zM437,655l6,17-5,12-6-17z /><path class=c10 d=M430,616l7,39-5,12-7-39z /><path class=c16 d=M424,576l6,40-5,12-7-40z /><path class=c21 d=M417,559l7,17-6,12-6-17z /><path class=c22 d=M410,574l7-15-5,12-7,15z /><path class=c18 d=M404,610l6-36-5,12-7,36z /><path class=c13 d=M397,646l7-36-6,12-6,36z /><path class=c9 d=M390,660l7-14-5,12-7,14zM384,642l6,18-5,12-6-18z /><path class=c14 d=M377,602l7,40-5,12-7-40z /><path class=c21 d=M370,561l7,41-5,12-7-41z /><path class=c26 d=M364,542l6,19-5,12-6-19z /><path class=c27 d=M357,555l7-13-5,12-7,13z /><path class=c23 d=M350,591l7-36-5,12-7,35z /><path class=c18 d=M344,625l6-34-5,11-6,35z /><path class=c15 d=M337,638l7-13-5,12-7,13zM331,619l6,19-5,12-7-19z /><path class=c21 d=M324,577l7,42-6,12-6-42z /><path class=c28 d=M317,535l7,42-5,12-7-42z /><path class=c33 d=M311,515l6,20-5,12-6-20z /><path class=c34 d=M304,526l7-11-5,12-7,11z /><path class=c30 d=M297,560l7-34-5,12-7,34z /><path class=c25 d=M291,594l6-34-5,12-6,34z /><path class=c22 d=M284,605l7-11-5,12-7,11z /><path class=c24 d=M814,408l6,7-5,35-6-8z /><path class=c28 d=M807,378l7,30-5,34-7-29z /><path class=c33 d=M800,348l7,30-5,35-7-30z /><path class=c36 d=M794,341l6,7-5,35-6-8zM787,364l7-23-5,34-7,24z /><path class=c30 d=M781,410l6-46-5,35-7,46z /><path class=c23 d=M774,456l7-46-6,35-6,46z /><path class=c18 d=M767,479l7-23-5,35-7,23zM761,471l6,8-5,35-6-9z /><path class=c21 d=M754,440l7,31-5,34-7-31z /><path class=c26 d=M747,408l7,32-5,34-7-31z /><path class=c30 d=M741,399l6,9-5,35-6-9z /><path class=c29 d=M734,422l7-23-5,35-7,22z /><path class=c24 d=M727,466l7-44-5,34-7,45z /><path class=c18 d=M721,511l6-45-5,35-6,44z /><path class=c13 d=M714,533l7-22-5,34-7,22z /><path class=c12 d=M707,523l7,10-5,34-7-10z /><path class=c16 d=M701,490l6,33-5,34-6-32z /><path class=c21 d=M694,458l7,32-5,35-7-33z /><path class=c25 d=M688,447l6,11-5,34-7-10zM681,468l7-21-6,35-6,21z /><path class=c20 d=M674,512l7-44-5,35-7,43z /><path class=c13 d=M668,555l6-43-5,34-6,43z /><path class=c9 d=M661,575l7-20-5,34-7,21z /><path class=c8 d=M654,564l7,11-5,35-7-12z /><path class=c12 d=M648,530l6,34-5,34-6-33z /><path class=c18 d=M641,496l7,34-5,35-7-34z /><path class=c22 d=M634,484l7,12-5,35-7-12zM628,504l6-20-5,35-6,20z /><path class=c17 d=M621,546l7-42-5,35-7,41z /><path class=c11 d=M615,588l6-42-5,34-7,42z /><path class=c6 d=M608,607l7-19-6,34-6,19zM601,594l7,13-5,34-7-12z /><path class=c10 d=M595,559l6,35-5,35-6-35z /><path class=c16 d=M588,524l7,35-5,35-7-36z /><path class=c20 d=M581,511l7,13-5,34-7-13zM575,529l6-18-5,34-6,18z /><path class=c16 d=M568,570l7-41-5,34-7,41z /><path class=c10 d=M561,610l7-40-5,34-7,40z /><path class=c5 d=M555,628l6-18-5,34-6,18zM548,614l7,14-5,34-7-14z /><path class=c10 d=M541,577l7,37-5,34-7-36z /><path class=c16 d=M535,541l6,36-5,35-6-37z /><path class=c20 d=M528,526l7,15-5,34-7-14zM522,543l6-17-5,35-7,17z /><path class=c16 d=M515,582l7-39-6,35-6,39z /><path class=c10 d=M508,621l7-39-5,35-7,39z /><path class=c6 d=M502,638l6-17-5,35-6,16zM495,623l7,15-5,34-7-15z /><path class=c11 d=M488,585l7,38-5,34-7-38z /><path class=c17 d=M482,547l6,38-5,34-6-38z /><path class=c22 d=M475,531l7,16-5,34-7-16zM468,547l7-16-5,34-7,16z /><path class=c18 d=M462,584l6-37-5,34-6,38z /><path class=c13 d=M455,622l7-38-5,35-7,38z /><path class=c9 d=M449,637l6-15-5,35-7,15zM442,621l7,16-6,35-6-17z /><path class=c14 d=M435,581l7,40-5,34-7-39z /><path class=c21 d=M429,542l6,39-5,35-6-40z /><path class=c25 d=M422,525l7,17-5,34-7-17z /><path class=c26 d=M415,539l7-14-5,34-7,15z /><path class=c22 d=M409,576l6-37-5,35-6,36z /><path class=c17 d=M402,612l7-36-5,34-7,36z /><path class=c13 d=M395,626l7-14-5,34-7,14z /><path class=c14 d=M389,608l6,18-5,34-6-18z /><path class=c19 d=M382,567l7,41-5,34-7-40z /><path class=c25 d=M375,526l7,41-5,35-7-41z /><path class=c30 d=M369,508l6,18-5,35-6-19z /><path class=c31 d=M362,521l7-13-5,34-7,13z /><path class=c28 d=M356,556l6-35-5,34-7,36z /><path class=c22 d=M349,591l7-35-6,35-6,34z /><path class=c19 d=M342,603l7-12-5,34-7,13z /><path class=c20 d=M336,584l6,19-5,35-6-19z /><path class=c25 d=M329,542l7,42-5,35-7-42z /><path class=c32 d=M322,500l7,42-5,35-7-42z /><path class=c37 d=M316,480l6,20-5,35-6-20z /><path class=c38 d=M309,492l7-12-5,35-7,11z /><path class=c35 d=M302,526l7-34-5,34-7,34z /><path class=c29 d=M296,559l6-33-5,34-6,34z /><path class=c26 d=M289,570l7-11-5,35-7,11z /><path class=c30 d=M819,373l6,8-5,34-6-7z /><path class=c34 d=M812,344l7,29-5,35-7-30z /><path class=c39 d=M806,314l6,30-5,34-7-30z /><path class=c42 d=M799,306l7,8-6,34-6-7z /><path class=c41 d=M792,330l7-24-5,35-7,23z /><path class=c36 d=M786,376l6-46-5,34-6,46z /><path class=c29 d=M779,421l7-45-5,34-7,46z /><path class=c24 d=M772,445l7-24-5,35-7,23z /><path class=c23 d=M766,436l6,9-5,34-6-8z /><path class=c27 d=M759,405l7,31-5,35-7-31z /><path class=c32 d=M752,374l7,31-5,35-7-32z /><path class=c36 d=M746,365l6,9-5,34-6-9z /><path class=c35 d=M739,387l7-22-5,34-7,23z /><path class=c30 d=M733,432l6-45-5,35-7,44z /><path class=c24 d=M726,476l7-44-6,34-6,45z /><path class=c19 d=M719,498l7-22-5,35-7,22z /><path class=c18 d=M713,488l6,10-5,35-7-10z /><path class=c22 d=M706,456l7,32-6,35-6-33z /><path class=c27 d=M699,423l7,33-5,34-7-32z /><path class=c31 d=M693,413l6,10-5,35-6-11zM686,434l7-21-5,34-7,21z /><path class=c26 d=M679,477l7-43-5,34-7,44z /><path class=c19 d=M673,520l6-43-5,35-6,43z /><path class=c15 d=M666,540l7-20-5,35-7,20z /><path class=c14 d=M659,529l7,11-5,35-7-11z /><path class=c18 d=M653,495l6,34-5,35-6-34z /><path class=c24 d=M646,461l7,34-5,35-7-34z /><path class=c28 d=M640,450l6,11-5,35-7-12zM633,469l7-19-6,34-6,20z /><path class=c23 d=M626,511l7-42-5,35-7,42z /><path class=c17 d=M620,553l6-42-5,35-6,42z /><path class=c12 d=M613,572l7-19-5,35-7,19zM606,560l7,12-5,35-7-13z /><path class=c16 d=M600,524l6,36-5,34-6-35z /><path class=c22 d=M593,489l7,35-5,35-7-35z /><path class=c26 d=M586,476l7,13-5,35-7-13zM580,494l6-18-5,35-6,18z /><path class=c22 d=M573,535l7-41-5,35-7,41z /><path class=c16 d=M567,575l6-40-5,35-7,40z /><path class=c11 d=M560,593l7-18-6,35-6,18zM553,579l7,14-5,35-7-14z /><path class=c16 d=M547,543l6,36-5,35-7-37z /><path class=c22 d=M540,506l7,37-6,34-6-36z /><path class=c26 d=M533,492l7,14-5,35-7-15zM527,509l6-17-5,34-6,17z /><path class=c22 d=M520,548l7-39-5,34-7,39z /><path class=c16 d=M513,587l7-39-5,34-7,39z /><path class=c12 d=M507,603l6-16-5,34-6,17zM500,588l7,15-5,35-7-15z /><path class=c17 d=M493,550l7,38-5,35-7-38z /><path class=c23 d=M487,512l6,38-5,35-6-38z /><path class=c28 d=M480,496l7,16-5,35-7-16zM474,512l6-16-5,35-7,16z /><path class=c24 d=M467,550l7-38-6,35-6,37z /><path class=c19 d=M460,587l7-37-5,34-7,38z /><path class=c15 d=M454,603l6-16-5,35-6,15zM447,586l7,17-5,34-7-16z /><path class=c20 d=M440,547l7,39-5,35-7-40z /><path class=c27 d=M434,507l6,40-5,34-6-39z /><path class=c31 d=M427,490l7,17-5,35-7-17z /><path class=c32 d=M420,504l7-14-5,35-7,14z /><path class=c28 d=M414,541l6-37-5,35-6,37z /><path class=c23 d=M407,577l7-36-5,35-7,36z /><path class=c19 d=M401,591l6-14-5,35-7,14z /><path class=c20 d=M394,573l7,18-6,35-6-18z /><path class=c25 d=M387,533l7,40-5,35-7-41z /><path class=c31 d=M381,492l6,41-5,34-7-41z /><path class=c36 d=M374,473l7,19-6,34-6-18z /><path class=c37 d=M367,486l7-13-5,35-7,13z /><path class=c34 d=M361,521l6-35-5,35-6,35z /><path class=c28 d=M354,556l7-35-5,35-7,35z /><path class=c25 d=M347,569l7-13-5,35-7,12z /><path class=c26 d=M341,549l6,20-5,34-6-19z /><path class=c31 d=M334,508l7,41-5,35-7-42z /><path class=c38 d=M327,465l7,43-5,34-7-42z /><path class=c43 d=M321,446l6,19-5,35-6-20z /><path class=c44 d=M314,457l7-11-5,34-7,12z /><path class=c41 d=M308,491l6-34-5,35-7,34z /><path class=c35 d=M301,525l7-34-6,35-6,33z /><path class=c32 d=M294,536l7-11-5,34-7,11z /><path class=c35 d=M824,361l7,7-6,13-6-8z /><path class=c38 d=M817,331l7,30-5,12-7-29z /><path class=c43 d=M811,301l6,30-5,13-6-30z /><path class=c47 d=M804,293l7,8-5,13-7-8z /><path class=c46 d=M797,317l7-24-5,13-7,24z /><path class=c40 d=M791,363l6-46-5,13-6,46z /><path class=c34 d=M784,409l7-46-5,13-7,45z /><path class=c28 d=M777,432l7-23-5,12-7,24zM771,424l6,8-5,13-6-9z /><path class=c31 d=M764,393l7,31-5,12-7-31z /><path class=c37 d=M758,361l6,32-5,12-7-31z /><path class=c40 d=M751,352l7,9-6,13-6-9z /><path class=c39 d=M744,375l7-23-5,13-7,22z /><path class=c34 d=M738,419l6-44-5,12-6,45z /><path class=c28 d=M731,464l7-45-5,13-7,44z /><path class=c23 d=M724,485l7-21-5,12-7,22z /><path class=c22 d=M718,476l6,9-5,13-6-10z /><path class=c26 d=M711,443l7,33-5,12-7-32z /><path class=c32 d=M704,411l7,32-5,13-7-33z /><path class=c35 d=M698,400l6,11-5,12-6-10zM691,421l7-21-5,13-7,21z /><path class=c30 d=M684,464l7-43-5,13-7,43z /><path class=c24 d=M678,507l6-43-5,13-6,43z /><path class=c19 d=M671,528l7-21-5,13-7,20z /><path class=c18 d=M665,517l6,11-5,12-7-11z /><path class=c22 d=M658,483l7,34-6,12-6-34z /><path class=c28 d=M651,449l7,34-5,12-7-34z /><path class=c32 d=M645,437l6,12-5,12-6-11zM638,457l7-20-5,13-7,19z /><path class=c27 d=M631,499l7-42-5,12-7,42z /><path class=c21 d=M625,541l6-42-5,12-6,42z /><path class=c16 d=M618,560l7-19-5,12-7,19zM611,547l7,13-5,12-7-12z /><path class=c20 d=M605,512l6,35-5,13-6-36z /><path class=c26 d=M598,477l7,35-5,12-7-35z /><path class=c31 d=M592,464l6,13-5,12-7-13z /><path class=c30 d=M585,482l7-18-6,12-6,18z /><path class=c26 d=M578,522l7-40-5,12-7,41z /><path class=c20 d=M572,563l6-41-5,13-6,40z /><path class=c16 d=M565,581l7-18-5,12-7,18zM558,567l7,14-5,12-7-14z /><path class=c20 d=M552,530l6,37-5,12-6-36z /><path class=c26 d=M545,494l7,36-5,13-7-37z /><path class=c30 d=M538,479l7,15-5,12-7-14z /><path class=c31 d=M532,496l6-17-5,13-6,17z /><path class=c26 d=M525,535l7-39-5,13-7,39z /><path class=c21 d=M518,574l7-39-5,13-7,39z /><path class=c16 d=M512,591l6-17-5,13-6,16z /><path class=c17 d=M505,575l7,16-5,12-7-15z /><path class=c21 d=M499,538l6,37-5,13-7-38z /><path class=c28 d=M492,500l7,38-6,12-6-38z /><path class=c32 d=M485,484l7,16-5,12-7-16z /><path class=c33 d=M479,499l6-15-5,12-6,16z /><path class=c29 d=M472,537l7-38-5,13-7,38z /><path class=c23 d=M465,575l7-38-5,13-7,37z /><path class=c19 d=M459,590l6-15-5,12-6,16zM452,573l7,17-5,13-7-17z /><path class=c24 d=M445,534l7,39-5,13-7-39z /><path class=c31 d=M439,495l6,39-5,13-6-40z /><path class=c36 d=M432,478l7,17-5,12-7-17zM426,492l6-14-5,12-7,14z /><path class=c32 d=M419,528l7-36-6,12-6,37z /><path class=c27 d=M412,565l7-37-5,13-7,36z /><path class=c23 d=M406,579l6-14-5,12-6,14z /><path class=c24 d=M399,561l7,18-5,12-7-18z /><path class=c29 d=M392,520l7,41-5,12-7-40z /><path class=c36 d=M386,479l6,41-5,13-6-41z /><path class=c41 d=M379,461l7,18-5,13-7-19zM372,474l7-13-5,12-7,13z /><path class=c38 d=M366,509l6-35-5,12-6,35z /><path class=c32 d=M359,544l7-35-5,12-7,35z /><path class=c29 d=M352,556l7-12-5,12-7,13z /><path class=c30 d=M346,537l6,19-5,13-6-20z /><path class=c35 d=M339,495l7,42-5,12-7-41z /><path class=c42 d=M333,453l6,42-5,13-7-43z /><path class=c47 d=M326,433l7,20-6,12-6-19z /><path class=c48 d=M319,445l7-12-5,13-7,11z /><path class=c45 d=M313,479l6-34-5,12-6,34z /><path class=c40 d=M306,512l7-33-5,12-7,34z /><path class=c36 d=M299,523l7-11-5,13-7,11z /><path class=c35 d=M829,380l7,7-5-19-7-7z /><path class=c38 d=M822,350l7,30-5-19-7-30z /><path class=c43 d=M816,320l6,30-5-19-6-30z /><path class=c46 d=M809,312l7,8-5-19-7-8zM802,336l7-24-5-19-7,24z /><path class=c40 d=M796,382l6-46-5-19-6,46z /><path class=c33 d=M789,428l7-46-5-19-7,46z /><path class=c28 d=M783,451l6-23-5-19-7,23zM776,443l7,8-6-19-6-8z /><path class=c31 d=M769,412l7,31-5-19-7-31z /><path class=c36 d=M763,380l6,32-5-19-6-32z /><path class=c40 d=M756,371l7,9-5-19-7-9z /><path class=c39 d=M749,394l7-23-5-19-7,23z /><path class=c34 d=M743,438l6-44-5-19-6,44z /><path class=c28 d=M736,483l7-45-5-19-7,45z /><path class=c23 d=M729,504l7-21-5-19-7,21z /><path class=c22 d=M723,495l6,9-5-19-6-9z /><path class=c26 d=M716,462l7,33-5-19-7-33z /><path class=c31 d=M710,430l6,32-5-19-7-32z /><path class=c35 d=M703,419l7,11-6-19-6-11zM696,440l7-21-5-19-7,21z /><path class=c30 d=M690,483l6-43-5-19-7,43z /><path class=c23 d=M683,526l7-43-6-19-6,43z /><path class=c19 d=M676,547l7-21-5-19-7,21z /><path class=c18 d=M670,536l6,11-5-19-6-11z /><path class=c22 d=M663,502l7,34-5-19-7-34z /><path class=c28 d=M656,468l7,34-5-19-7-34z /><path class=c32 d=M650,456l6,12-5-19-6-12zM643,476l7-20-5-19-7,20z /><path class=c27 d=M636,518l7-42-5-19-7,42z /><path class=c21 d=M630,560l6-42-5-19-6,42z /><path class=c16 d=M623,579l7-19-5-19-7,19zM617,566l6,13-5-19-7-13z /><path class=c20 d=M610,531l7,35-6-19-6-35z /><path class=c26 d=M603,496l7,35-5-19-7-35z /><path class=c30 d=M597,483l6,13-5-19-6-13zM590,501l7-18-5-19-7,18z /><path class=c26 d=M583,541l7-40-5-19-7,40z /><path class=c20 d=M577,582l6-41-5-19-6,41z /><path class=c16 d=M570,600l7-18-5-19-7,18zM563,586l7,14-5-19-7-14z /><path class=c20 d=M557,549l6,37-5-19-6-37z /><path class=c26 d=M550,513l7,36-5-19-7-36z /><path class=c30 d=M544,498l6,15-5-19-7-15z /><path class=c31 d=M537,515l7-17-6-19-6,17z /><path class=c26 d=M530,554l7-39-5-19-7,39z /><path class=c20 d=M524,593l6-39-5-19-7,39z /><path class=c16 d=M517,610l7-17-6-19-6,17z /><path class=c17 d=M510,594l7,16-5-19-7-16z /><path class=c21 d=M504,557l6,37-5-19-6-37z /><path class=c28 d=M497,519l7,38-5-19-7-38z /><path class=c32 d=M490,503l7,16-5-19-7-16z /><path class=c33 d=M484,518l6-15-5-19-6,15z /><path class=c29 d=M477,556l7-38-5-19-7,38z /><path class=c23 d=M470,594l7-38-5-19-7,38z /><path class=c19 d=M464,609l6-15-5-19-6,15zM457,592l7,17-5-19-7-17z /><path class=c24 d=M451,553l6,39-5-19-7-39z /><path class=c31 d=M444,514l7,39-6-19-6-39z /><path class=c36 d=M437,497l7,17-5-19-7-17zM431,511l6-14-5-19-6,14z /><path class=c32 d=M424,547l7-36-5-19-7,36z /><path class=c27 d=M417,584l7-37-5-19-7,37z /><path class=c23 d=M411,598l6-14-5-19-6,14z /><path class=c24 d=M404,580l7,18-5-19-7-18z /><path class=c29 d=M397,539l7,41-5-19-7-41z /><path class=c36 d=M391,498l6,41-5-19-6-41z /><path class=c41 d=M384,480l7,18-5-19-7-18zM378,493l6-13-5-19-7,13z /><path class=c38 d=M371,528l7-35-6-19-6,35z /><path class=c32 d=M364,563l7-35-5-19-7,35z /><path class=c29 d=M358,575l6-12-5-19-7,12z /><path class=c30 d=M351,556l7,19-6-19-6-19z /><path class=c35 d=M344,514l7,42-5-19-7-42z /><path class=c42 d=M338,472l6,42-5-19-6-42z /><path class=c47 d=M331,452l7,20-5-19-7-20z /><path class=c48 d=M324,464l7-12-5-19-7,12z /><path class=c45 d=M318,498l6-34-5-19-6,34z /><path class=c40 d=M311,531l7-33-5-19-7,33z /><path class=c36 d=M304,542l7-11-5-19-7,11z /><path class=c30 d=M834,421l7,7-5-41-7-7z /><path class=c34 d=M828,391l6,30-5-41-7-30z /><path class=c39 d=M821,361l7,30-6-41-6-30z /><path class=c42 d=M814,354l7,7-5-41-7-8z /><path class=c41 d=M808,377l6-23-5-42-7,24z /><path class=c36 d=M801,423l7-46-6-41-6,46z /><path class=c29 d=M794,469l7-46-5-41-7,46z /><path class=c24 d=M788,492l6-23-5-41-6,23z /><path class=c23 d=M781,484l7,8-5-41-7-8z /><path class=c27 d=M774,453l7,31-5-41-7-31z /><path class=c32 d=M768,421l6,32-5-41-6-32z /><path class=c36 d=M761,412l7,9-5-41-7-9z /><path class=c35 d=M754,435l7-23-5-41-7,23z /><path class=c30 d=M748,479l6-44-5-41-6,44z /><path class=c23 d=M741,524l7-45-5-41-7,45z /><path class=c18 d=M735,546l6-22-5-41-7,21zM728,536l7,10-6-42-6-9z /><path class=c22 d=M721,503l7,33-5-41-7-33z /><path class=c27 d=M715,471l6,32-5-41-6-32z /><path class=c31 d=M708,460l7,11-5-41-7-11z /><path class=c30 d=M701,481l7-21-5-41-7,21z /><path class=c26 d=M695,525l6-44-5-41-6,43z /><path class=c19 d=M688,568l7-43-5-42-7,43z /><path class=c14 d=M681,588l7-20-5-42-7,21zM675,577l6,11-5-41-6-11z /><path class=c18 d=M668,543l7,34-5-41-7-34z /><path class=c24 d=M662,509l6,34-5-41-7-34z /><path class=c28 d=M655,497l7,12-6-41-6-12z /><path class=c27 d=M648,517l7-20-5-41-7,20z /><path class=c23 d=M642,559l6-42-5-41-7,42z /><path class=c16 d=M635,601l7-42-6-41-6,42z /><path class=c12 d=M628,620l7-19-5-41-7,19zM622,607l6,13-5-41-6-13z /><path class=c16 d=M615,572l7,35-5-41-7-35z /><path class=c22 d=M608,537l7,35-5-41-7-35z /><path class=c26 d=M602,524l6,13-5-41-6-13zM595,542l7-18-5-41-7,18z /><path class=c22 d=M588,583l7-41-5-41-7,40z /><path class=c15 d=M582,623l6-40-5-42-6,41z /><path class=c11 d=M575,641l7-18-5-41-7,18zM569,627l6,14-5-41-7-14z /><path class=c15 d=M562,590l7,37-6-41-6-37z /><path class=c22 d=M555,554l7,36-5-41-7-36z /><path class=c26 d=M549,539l6,15-5-41-6-15zM542,556l7-17-5-41-7,17z /><path class=c22 d=M535,595l7-39-5-41-7,39z /><path class=c16 d=M529,634l6-39-5-41-6,39z /><path class=c12 d=M522,651l7-17-5-41-7,17zM515,636l7,15-5-41-7-16z /><path class=c17 d=M509,598l6,38-5-42-6-37z /><path class=c23 d=M502,560l7,38-5-41-7-38z /><path class=c28 d=M496,544l6,16-5-41-7-16zM489,560l7-16-6-41-6,15z /><path class=c24 d=M482,597l7-37-5-42-7,38z /><path class=c19 d=M476,635l6-38-5-41-7,38z /><path class=c15 d=M469,650l7-15-6-41-6,15zM462,634l7,16-5-41-7-17z /><path class=c20 d=M456,594l6,40-5-42-6-39z /><path class=c26 d=M449,555l7,39-5-41-7-39z /><path class=c31 d=M442,538l7,17-5-41-7-17z /><path class=c32 d=M436,552l6-14-5-41-6,14z /><path class=c28 d=M429,589l7-37-5-41-7,36z /><path class=c23 d=M422,625l7-36-5-42-7,37z /><path class=c19 d=M416,639l6-14-5-41-6,14zM409,621l7,18-5-41-7-18z /><path class=c24 d=M403,580l6,41-5-41-7-41z /><path class=c31 d=M396,540l7,40-6-41-6-41z /><path class=c36 d=M389,521l7,19-5-42-7-18z /><path class=c37 d=M383,534l6-13-5-41-6,13z /><path class=c33 d=M376,569l7-35-5-41-7,35z /><path class=c28 d=M369,604l7-35-5-41-7,35z /><path class=c25 d=M363,617l6-13-5-41-6,12zM356,597l7,20-5-42-7-19z /><path class=c31 d=M349,555l7,42-5-41-7-42z /><path class=c38 d=M343,513l6,42-5-41-6-42z /><path class=c43 d=M336,493l7,20-5-41-7-20z /><path class=c44 d=M330,505l6-12-5-41-7,12z /><path class=c40 d=M323,539l7-34-6-41-6,34z /><path class=c35 d=M316,572l7-33-5-41-7,33z /><path class=c32 d=M310,583l6-11-5-41-7,11z /><path class=c24 d=M839,462l7,7-5-41-7-7z /><path class=c27 d=M833,432l6,30-5-41-6-30z /><path class=c33 d=M826,402l7,30-5-41-7-30z /><path class=c36 d=M819,395l7,7-5-41-7-7z /><path class=c35 d=M813,418l6-23-5-41-6,23z /><path class=c30 d=M806,464l7-46-5-41-7,46z /><path class=c23 d=M799,510l7-46-5-41-7,46z /><path class=c18 d=M793,533l6-23-5-41-6,23z /><path class=c17 d=M786,525l7,8-5-41-7-8z /><path class=c21 d=M779,494l7,31-5-41-7-31z /><path class=c26 d=M773,462l6,32-5-41-6-32z /><path class=c30 d=M766,453l7,9-5-41-7-9z /><path class=c29 d=M760,476l6-23-5-41-7,23z /><path class=c24 d=M753,520l7-44-6-41-6,44z /><path class=c17 d=M746,565l7-45-5-41-7,45z /><path class=c12 d=M740,587l6-22-5-41-6,22zM733,577l7,10-5-41-7-10z /><path class=c15 d=M726,544l7,33-5-41-7-33z /><path class=c21 d=M720,512l6,32-5-41-6-32z /><path class=c25 d=M713,501l7,11-5-41-7-11z /><path class=c24 d=M706,522l7-21-5-41-7,21z /><path class=c20 d=M700,566l6-44-5-41-6,44z /><path class=c13 d=M693,609l7-43-5-41-7,43z /><path class=c8 d=M687,629l6-20-5-41-7,20zM680,618l7,11-6-41-6-11z /><path class=c12 d=M673,584l7,34-5-41-7-34z /><path class=c18 d=M667,550l6,34-5-41-6-34z /><path class=c22 d=M660,538l7,12-5-41-7-12z /><path class=c21 d=M653,558l7-20-5-41-7,20z /><path class=c17 d=M647,600l6-42-5-41-6,42z /><path class=c10 d=M640,642l7-42-5-41-7,42z /><path class=c6 d=M633,661l7-19-5-41-7,19zM627,648l6,13-5-41-6-13z /><path class=c10 d=M620,613l7,35-5-41-7-35z /><path class=c16 d=M613,578l7,35-5-41-7-35z /><path class=c20 d=M607,565l6,13-5-41-6-13zM600,583l7-18-5-41-7,18z /><path class=c15 d=M594,624l6-41-5-41-7,41z /><path class=c9 d=M587,664l7-40-6-41-6,40z /><path class=c5 d=M580,682l7-18-5-41-7,18zM574,668l6,14-5-41-6-14z /><path class=c9 d=M567,631l7,37-5-41-7-37z /><path class=c16 d=M560,595l7,36-5-41-7-36z /><path class=c20 d=M554,580l6,15-5-41-6-15zM547,597l7-17-5-41-7,17z /><path class=c16 d=M540,637l7-40-5-41-7,39z /><path class=c10 d=M534,676l6-39-5-42-6,39z /><path class=c6 d=M527,692l7-16-5-42-7,17zM521,677l6,15-5-41-7-15z /><path class=c11 d=M514,639l7,38-6-41-6-38z /><path class=c17 d=M507,601l7,38-5-41-7-38z /><path class=c22 d=M501,585l6,16-5-41-6-16zM494,601l7-16-5-41-7,16z /><path class=c18 d=M487,639l7-38-5-41-7,37z /><path class=c12 d=M481,676l6-37-5-42-6,38z /><path class=c9 d=M474,691l7-15-5-41-7,15zM467,675l7,16-5-41-7-16z /><path class=c14 d=M461,635l6,40-5-41-6-40z /><path class=c20 d=M454,596l7,39-5-41-7-39z /><path class=c25 d=M447,579l7,17-5-41-7-17z /><path class=c26 d=M441,593l6-14-5-41-6,14z /><path class=c22 d=M434,630l7-37-5-41-7,37z /><path class=c16 d=M428,666l6-36-5-41-7,36z /><path class=c13 d=M421,680l7-14-6-41-6,14zM414,662l7,18-5-41-7-18z /><path class=c18 d=M408,621l6,41-5-41-6-41z /><path class=c25 d=M401,581l7,40-5-41-7-40z /><path class=c30 d=M394,562l7,19-5-41-7-19z /><path class=c31 d=M388,575l6-13-5-41-6,13z /><path class=c27 d=M381,610l7-35-5-41-7,35z /><path class=c22 d=M374,645l7-35-5-41-7,35z /><path class=c19 d=M368,658l6-13-5-41-6,13zM361,638l7,20-5-41-7-20z /><path class=c25 d=M355,596l6,42-5-41-7-42z /><path class=c32 d=M348,554l7,42-6-41-6-42z /><path class=c37 d=M341,534l7,20-5-41-7-20z /><path class=c38 d=M335,546l6-12-5-41-6,12z /><path class=c34 d=M328,580l7-34-5-41-7,34z /><path class=c29 d=M321,613l7-33-5-41-7,33z /><path class=c26 d=M315,624l6-11-5-41-6,11z /><path class=c20 d=M844,481l7,7-5-19-7-7z /><path class=c23 d=M838,451l6,30-5-19-6-30z /><path class=c28 d=M831,421l7,30-5-19-7-30z /><path class=c32 d=M824,413l7,8-5-19-7-7z /><path class=c31 d=M818,437l6-24-5-18-6,23z /><path class=c26 d=M811,483l7-46-5-19-7,46z /><path class=c19 d=M805,529l6-46-5-19-7,46z /><path class=c14 d=M798,552l7-23-6-19-6,23z /><path class=c13 d=M791,543l7,9-5-19-7-8z /><path class=c16 d=M785,512l6,31-5-18-7-31z /><path class=c22 d=M778,481l7,31-6-18-6-32z /><path class=c25 d=M771,472l7,9-5-19-7-9zM765,494l6-22-5-19-6,23z /><path class=c20 d=M758,539l7-45-5-18-7,44z /><path class=c13 d=M751,583l7-44-5-19-7,45z /><path class=c8 d=M745,605l6-22-5-18-6,22z /><path class=c7 d=M738,595l7,10-5-18-7-10z /><path class=c11 d=M731,563l7,32-5-18-7-33z /><path class=c17 d=M725,530l6,33-5-19-6-32z /><path class=c20 d=M718,520l7,10-5-18-7-11zM712,541l6-21-5-19-7,21z /><path class=c15 d=M705,584l7-43-6-19-6,44z /><path class=c9 d=M698,627l7-43-5-18-7,43z /><path class=c4 d=M692,648l6-21-5-18-6,20zM685,636l7,12-5-19-7-11z /><path class=c7 d=M678,603l7,33-5-18-7-34z /><path class=c13 d=M672,569l6,34-5-19-6-34z /><path class=c17 d=M665,557l7,12-5-19-7-12zM658,577l7-20-5-19-7,20z /><path class=c12 d=M652,619l6-42-5-19-6,42z /><path class=c6 d=M645,660l7-41-5-19-7,42z /><path class=c2 d=M639,679l6-19-5-18-7,19z /><path class=c1 d=M632,667l7,12-6-18-6-13z /><path class=c5 d=M625,632l7,35-5-19-7-35z /><path class=c11 d=M619,596l6,36-5-19-7-35z /><path class=c16 d=M612,583l7,13-6-18-6-13zM605,602l7-19-5-18-7,18z /><path class=c11 d=M599,642l6-40-5-19-6,41z /><path class=c5 d=M592,683l7-41-5-18-7,40z /><path class=c1 d=M585,700l7-17-5-19-7,18zM579,686l6,14-5-18-6-14z /><path class=c5 d=M572,650l7,36-5-18-7-37z /><path class=c11 d=M565,613l7,37-5-19-7-36z /><path class=c16 d=M559,599l6,14-5-18-6-15zM552,616l7-17-5-19-7,17z /><path class=c12 d=M546,655l6-39-5-19-7,40z /><path class=c6 d=M539,694l7-39-6-18-6,39z /><path class=c2 d=M532,711l7-17-5-18-7,16zM526,695l6,16-5-19-6-15z /><path class=c6 d=M519,657l7,38-5-18-7-38z /><path class=c13 d=M512,619l7,38-5-18-7-38z /><path class=c17 d=M506,604l6,15-5-18-6-16z /><path class=c18 d=M499,619l7-15-5-19-7,16z /><path class=c14 d=M492,657l7-38-5-18-7,38z /><path class=c8 d=M486,695l6-38-5-18-6,37z /><path class=c4 d=M479,710l7-15-5-19-7,15z /><path class=c5 d=M473,693l6,17-5-19-7-16z /><path class=c9 d=M466,654l7,39-6-18-6-40z /><path class=c16 d=M459,615l7,39-5-19-7-39z /><path class=c21 d=M453,597l6,18-5-19-7-17zM446,612l7-15-6-18-6,14z /><path class=c18 d=M439,648l7-36-5-19-7,37z /><path class=c12 d=M433,685l6-37-5-18-6,36z /><path class=c8 d=M426,698l7-13-5-19-7,14z /><path class=c9 d=M419,680l7,18-5-18-7-18z /><path class=c14 d=M413,640l6,40-5-18-6-41z /><path class=c21 d=M406,599l7,41-5-19-7-40z /><path class=c26 d=M399,581l7,18-5-18-7-19z /><path class=c27 d=M393,594l6-13-5-19-6,13z /><path class=c23 d=M386,629l7-35-5-19-7,35z /><path class=c18 d=M380,664l6-35-5-19-7,35z /><path class=c14 d=M373,676l7-12-6-19-6,13z /><path class=c15 d=M366,657l7,19-5-18-7-20z /><path class=c20 d=M360,615l6,42-5-19-6-42z /><path class=c27 d=M353,573l7,42-5-19-7-42z /><path class=c32 d=M346,553l7,20-5-19-7-20z /><path class=c33 d=M340,564l6-11-5-19-6,12z /><path class=c30 d=M333,598l7-34-5-18-7,34z /><path class=c25 d=M326,632l7-34-5-18-7,33z /><path class=c22 d=M320,643l6-11-5-19-6,11z /><path class=c20 d=M849,467l7,7-5,14-7-7z /><path class=c23 d=M843,438l6,29-5,14-6-30z /><path class=c28 d=M836,408l7,30-5,13-7-30z /><path class=c32 d=M830,400l6,8-5,13-7-8z /><path class=c31 d=M823,424l7-24-6,13-6,24z /><path class=c26 d=M816,470l7-46-5,13-7,46z /><path class=c19 d=M810,515l6-45-5,13-6,46z /><path class=c14 d=M803,539l7-24-5,14-7,23z /><path class=c13 d=M796,530l7,9-5,13-7-9z /><path class=c16 d=M790,499l6,31-5,13-6-31z /><path class=c22 d=M783,468l7,31-5,13-7-31z /><path class=c25 d=M776,459l7,9-5,13-7-9zM770,481l6-22-5,13-6,22z /><path class=c20 d=M763,526l7-45-5,13-7,45z /><path class=c13 d=M757,570l6-44-5,13-7,44z /><path class=c8 d=M750,592l7-22-6,13-6,22z /><path class=c7 d=M743,582l7,10-5,13-7-10z /><path class=c11 d=M737,550l6,32-5,13-7-32z /><path class=c17 d=M730,517l7,33-6,13-6-33z /><path class=c20 d=M723,507l7,10-5,13-7-10zM717,528l6-21-5,13-6,21z /><path class=c15 d=M710,571l7-43-5,13-7,43z /><path class=c9 d=M703,614l7-43-5,13-7,43z /><path class=c4 d=M697,634l6-20-5,13-6,21zM690,623l7,11-5,14-7-12z /><path class=c8 d=M683,589l7,34-5,13-7-33z /><path class=c13 d=M677,555l6,34-5,14-6-34z /><path class=c17 d=M670,544l7,11-5,14-7-12zM664,563l6-19-5,13-7,20z /><path class=c12 d=M657,605l7-42-6,14-6,42z /><path class=c6 d=M650,647l7-42-5,14-7,41z /><path class=c2 d=M644,666l6-19-5,13-6,19z /><path class=c1 d=M637,654l7,12-5,13-7-12z /><path class=c5 d=M630,618l7,36-5,13-7-35z /><path class=c11 d=M624,583l6,35-5,14-6-36z /><path class=c16 d=M617,570l7,13-5,13-7-13zM610,588l7-18-5,13-7,19z /><path class=c11 d=M604,629l6-41-5,14-6,40z /><path class=c5 d=M597,669l7-40-5,13-7,41z /><path class=c1 d=M591,687l6-18-5,14-7,17zM584,673l7,14-6,13-6-14z /><path class=c5 d=M577,637l7,36-5,13-7-36z /><path class=c11 d=M571,600l6,37-5,13-7-37z /><path class=c16 d=M564,586l7,14-6,13-6-14zM557,603l7-17-5,13-7,17z /><path class=c12 d=M551,642l6-39-5,13-6,39z /><path class=c6 d=M544,681l7-39-5,13-7,39z /><path class=c2 d=M537,697l7-16-5,13-7,17zM531,682l6,15-5,14-6-16z /><path class=c7 d=M524,644l7,38-5,13-7-38z /><path class=c13 d=M517,606l7,38-5,13-7-38z /><path class=c18 d=M511,590l6,16-5,13-6-15zM504,606l7-16-5,14-7,15z /><path class=c14 d=M498,644l6-38-5,13-7,38z /><path class=c8 d=M491,681l7-37-6,13-6,38z /><path class=c4 d=M484,697l7-16-5,14-7,15z /><path class=c5 d=M478,680l6,17-5,13-6-17z /><path class=c10 d=M471,641l7,39-5,13-7-39z /><path class=c16 d=M464,601l7,40-5,13-7-39z /><path class=c21 d=M458,584l6,17-5,14-6-18zM451,598l7-14-5,13-7,15z /><path class=c18 d=M444,635l7-37-5,14-7,36z /><path class=c12 d=M438,671l6-36-5,13-6,37z /><path class=c9 d=M431,685l7-14-5,14-7,13zM425,667l6,18-5,13-7-18z /><path class=c14 d=M418,627l7,40-6,13-6-40z /><path class=c21 d=M411,586l7,41-5,13-7-41z /><path class=c26 d=M405,567l6,19-5,13-7-18z /><path class=c27 d=M398,580l7-13-6,14-6,13z /><path class=c23 d=M391,615l7-35-5,14-7,35z /><path class=c18 d=M385,650l6-35-5,14-6,35z /><path class=c14 d=M378,663l7-13-5,14-7,12z /><path class=c15 d=M371,643l7,20-5,13-7-19z /><path class=c20 d=M365,602l6,41-5,14-6-42z /><path class=c27 d=M358,559l7,43-5,13-7-42z /><path class=c32 d=M351,540l7,19-5,14-7-20z /><path class=c33 d=M345,551l6-11-5,13-6,11z /><path class=c30 d=M338,585l7-34-5,13-7,34z /><path class=c25 d=M332,619l6-34-5,13-7,34z /><path class=c22 d=M325,630l7-11-6,13-6,11z /><path class=c24 d=M855,431l6,8-5,35-7-7z /><path class=c27 d=M848,402l7,29-6,36-6-29z /><path class=c33 d=M841,372l7,30-5,36-7-30z /><path class=c36 d=M835,364l6,8-5,36-6-8z /><path class=c35 d=M828,388l7-24-5,36-7,24z /><path class=c30 d=M821,434l7-46-5,36-7,46z /><path class=c23 d=M815,480l6-46-5,36-6,45z /><path class=c18 d=M808,503l7-23-5,35-7,24z /><path class=c17 d=M801,494l7,9-5,36-7-9z /><path class=c21 d=M795,463l6,31-5,36-6-31z /><path class=c26 d=M788,432l7,31-5,36-7-31z /><path class=c30 d=M782,423l6,9-5,36-7-9z /><path class=c29 d=M775,445l7-22-6,36-6,22z /><path class=c24 d=M768,490l7-45-5,36-7,45z /><path class=c17 d=M762,534l6-44-5,36-6,44z /><path class=c12 d=M755,556l7-22-5,36-7,22zM748,546l7,10-5,36-7-10z /><path class=c15 d=M742,514l6,32-5,36-6-32z /><path class=c21 d=M735,481l7,33-5,36-7-33z /><path class=c25 d=M728,471l7,10-5,36-7-10z /><path class=c24 d=M722,492l6-21-5,36-6,21z /><path class=c20 d=M715,535l7-43-5,36-7,43z /><path class=c13 d=M708,578l7-43-5,36-7,43z /><path class=c8 d=M702,599l6-21-5,36-6,20zM695,587l7,12-5,35-7-11z /><path class=c12 d=M689,554l6,33-5,36-7-34z /><path class=c18 d=M682,520l7,34-6,35-6-34z /><path class=c22 d=M675,508l7,12-5,35-7-11z /><path class=c21 d=M669,528l6-20-5,36-6,19z /><path class=c17 d=M662,569l7-41-5,35-7,42z /><path class=c10 d=M655,611l7-42-5,36-7,42z /><path class=c6 d=M649,630l6-19-5,36-6,19zM642,618l7,12-5,36-7-12z /><path class=c10 d=M635,583l7,35-5,36-7-36z /><path class=c16 d=M629,547l6,36-5,35-6-35z /><path class=c20 d=M622,534l7,13-5,36-7-13zM616,552l6-18-5,36-7,18z /><path class=c16 d=M609,593l7-41-6,36-6,41z /><path class=c9 d=M602,633l7-40-5,36-7,40z /><path class=c5 d=M596,651l6-18-5,36-6,18zM589,637l7,14-5,36-7-14z /><path class=c10 d=M582,601l7,36-5,36-7-36z /><path class=c16 d=M576,564l6,37-5,36-6-37z /><path class=c20 d=M569,550l7,14-5,36-7-14zM562,567l7-17-5,36-7,17z /><path class=c16 d=M556,606l6-39-5,36-6,39z /><path class=c10 d=M549,645l7-39-5,36-7,39z /><path class=c6 d=M542,661l7-16-5,36-7,16zM536,646l6,15-5,36-6-15z /><path class=c11 d=M529,608l7,38-5,36-7-38z /><path class=c17 d=M523,570l6,38-5,36-7-38z /><path class=c22 d=M516,554l7,16-6,36-6-16zM509,570l7-16-5,36-7,16z /><path class=c18 d=M503,608l6-38-5,36-6,38z /><path class=c13 d=M496,646l7-38-5,36-7,37z /><path class=c9 d=M489,661l7-15-5,35-7,16zM483,644l6,17-5,36-6-17z /><path class=c14 d=M476,605l7,39-5,36-7-39z /><path class=c20 d=M469,565l7,40-5,36-7-40z /><path class=c25 d=M463,548l6,17-5,36-6-17z /><path class=c26 d=M456,563l7-15-5,36-7,14z /><path class=c22 d=M450,599l6-36-5,35-7,37z /><path class=c17 d=M443,635l7-36-6,36-6,36z /><path class=c13 d=M436,649l7-14-5,36-7,14z /><path class=c14 d=M430,631l6,18-5,36-6-18z /><path class=c19 d=M423,591l7,40-5,36-7-40z /><path class=c25 d=M416,550l7,41-5,36-7-41z /><path class=c30 d=M410,531l6,19-5,36-6-19z /><path class=c31 d=M403,544l7-13-5,36-7,13z /><path class=c27 d=M396,580l7-36-5,36-7,35z /><path class=c22 d=M390,615l6-35-5,35-6,35z /><path class=c19 d=M383,627l7-12-5,35-7,13z /><path class=c20 d=M376,608l7,19-5,36-7-20z /><path class=c25 d=M370,566l6,42-5,35-6-41z /><path class=c32 d=M363,524l7,42-5,36-7-43z /><path class=c37 d=M357,504l6,20-5,35-7-19z /><path class=c38 d=M350,515l7-11-6,36-6,11z /><path class=c34 d=M343,549l7-34-5,36-7,34z /><path class=c29 d=M337,583l6-34-5,36-6,34z /><path class=c26 d=M330,594l7-11-5,36-7,11z /><path class=c30 d=M860,395l6,8-5,36-6-8z /><path class=c34 d=M853,366l7,29-5,36-7-29z /><path class=c39 d=M846,336l7,30-5,36-7-30z /><path class=c42 d=M840,328l6,8-5,36-6-8z /><path class=c41 d=M833,352l7-24-5,36-7,24z /><path class=c36 d=M826,398l7-46-5,36-7,46z /><path class=c29 d=M820,444l6-46-5,36-6,46z /><path class=c24 d=M813,467l7-23-5,36-7,23z /><path class=c23 d=M807,458l6,9-5,36-7-9z /><path class=c27 d=M800,427l7,31-6,36-6-31z /><path class=c32 d=M793,396l7,31-5,36-7-31z /><path class=c36 d=M787,387l6,9-5,36-6-9z /><path class=c35 d=M780,409l7-22-5,36-7,22z /><path class=c30 d=M773,454l7-45-5,36-7,45z /><path class=c23 d=M767,498l6-44-5,36-6,44z /><path class=c18 d=M760,520l7-22-5,36-7,22zM753,510l7,10-5,36-7-10z /><path class=c22 d=M747,478l6,32-5,36-6-32z /><path class=c27 d=M740,445l7,33-5,36-7-33z /><path class=c31 d=M734,435l6,10-5,36-7-10z /><path class=c30 d=M727,456l7-21-6,36-6,21z /><path class=c26 d=M720,499l7-43-5,36-7,43z /><path class=c19 d=M714,542l6-43-5,36-7,43z /><path class=c14 d=M707,563l7-21-6,36-6,21zM700,551l7,12-5,36-7-12z /><path class=c18 d=M694,518l6,33-5,36-6-33z /><path class=c24 d=M687,484l7,34-5,36-7-34z /><path class=c28 d=M680,472l7,12-5,36-7-12z /><path class=c27 d=M674,492l6-20-5,36-6,20z /><path class=c23 d=M667,533l7-41-5,36-7,41z /><path class=c17 d=M660,575l7-42-5,36-7,42z /><path class=c12 d=M654,594l6-19-5,36-6,19zM647,582l7,12-5,36-7-12z /><path class=c16 d=M641,547l6,35-5,36-7-35z /><path class=c22 d=M634,511l7,36-6,36-6-36z /><path class=c26 d=M627,498l7,13-5,36-7-13zM621,516l6-18-5,36-6,18z /><path class=c22 d=M614,557l7-41-5,36-7,41z /><path class=c16 d=M607,597l7-40-5,36-7,40z /><path class=c11 d=M601,615l6-18-5,36-6,18zM594,601l7,14-5,36-7-14z /><path class=c16 d=M587,565l7,36-5,36-7-36z /><path class=c22 d=M581,528l6,37-5,36-6-37z /><path class=c26 d=M574,514l7,14-5,36-7-14zM568,531l6-17-5,36-7,17z /><path class=c22 d=M561,570l7-39-6,36-6,39z /><path class=c16 d=M554,609l7-39-5,36-7,39z /><path class=c12 d=M548,625l6-16-5,36-7,16z /><path class=c13 d=M541,610l7,15-6,36-6-15z /><path class=c17 d=M534,572l7,38-5,36-7-38z /><path class=c23 d=M528,534l6,38-5,36-6-38z /><path class=c28 d=M521,518l7,16-5,36-7-16zM514,534l7-16-5,36-7,16z /><path class=c24 d=M508,572l6-38-5,36-6,38z /><path class=c19 d=M501,610l7-38-5,36-7,38z /><path class=c15 d=M494,625l7-15-5,36-7,15zM488,608l6,17-5,36-6-17z /><path class=c20 d=M481,569l7,39-5,36-7-39z /><path class=c27 d=M475,529l6,40-5,36-7-40z /><path class=c32 d=M468,512l7,17-6,36-6-17zM461,527l7-15-5,36-7,15z /><path class=c28 d=M455,563l6-36-5,36-6,36z /><path class=c23 d=M448,599l7-36-5,36-7,36z /><path class=c19 d=M441,613l7-14-5,36-7,14z /><path class=c20 d=M435,595l6,18-5,36-6-18z /><path class=c25 d=M428,555l7,40-5,36-7-40z /><path class=c31 d=M421,514l7,41-5,36-7-41z /><path class=c36 d=M415,495l6,19-5,36-6-19z /><path class=c37 d=M408,508l7-13-5,36-7,13z /><path class=c34 d=M402,544l6-36-5,36-7,36z /><path class=c28 d=M395,578l7-34-6,36-6,35z /><path class=c25 d=M388,591l7-13-5,37-7,12z /><path class=c26 d=M382,572l6,19-5,36-7-19z /><path class=c31 d=M375,530l7,42-6,36-6-42z /><path class=c38 d=M368,488l7,42-5,36-7-42z /><path class=c43 d=M362,468l6,20-5,36-6-20z /><path class=c44 d=M355,479l7-11-5,36-7,11z /><path class=c41 d=M348,513l7-34-5,36-7,34z /><path class=c36 d=M342,547l6-34-5,36-6,34z /><path class=c32 d=M335,558l7-11-5,36-7,11z /><path class=c35 d=M865,382l6,7-5,14-6-8z /><path class=c38 d=M858,352l7,30-5,13-7-29z /><path class=c43 d=M852,322l6,30-5,14-7-30z /><path class=c47 d=M845,314l7,8-6,14-6-8z /><path class=c46 d=M838,338l7-24-5,14-7,24z /><path class=c40 d=M832,384l6-46-5,14-7,46z /><path class=c34 d=M825,430l7-46-6,14-6,46z /><path class=c28 d=M818,453l7-23-5,14-7,23zM812,444l6,9-5,14-6-9z /><path class=c31 d=M805,413l7,31-5,14-7-31z /><path class=c37 d=M798,382l7,31-5,14-7-31z /><path class=c40 d=M792,373l6,9-5,14-6-9z /><path class=c39 d=M785,395l7-22-5,14-7,22z /><path class=c34 d=M778,440l7-45-5,14-7,45z /><path class=c28 d=M772,484l6-44-5,14-6,44z /><path class=c23 d=M765,506l7-22-5,14-7,22z /><path class=c22 d=M759,496l6,10-5,14-7-10z /><path class=c26 d=M752,464l7,32-6,14-6-32z /><path class=c32 d=M745,431l7,33-5,14-7-33z /><path class=c35 d=M739,421l6,10-5,14-6-10zM732,442l7-21-5,14-7,21z /><path class=c30 d=M725,485l7-43-5,14-7,43z /><path class=c24 d=M719,528l6-43-5,14-6,43z /><path class=c19 d=M712,549l7-21-5,14-7,21z /><path class=c18 d=M705,538l7,11-5,14-7-12z /><path class=c22 d=M699,504l6,34-5,13-6-33z /><path class=c28 d=M692,470l7,34-5,14-7-34z /><path class=c32 d=M686,458l6,12-5,14-7-12zM679,478l7-20-6,14-6,20z /><path class=c27 d=M672,520l7-42-5,14-7,41z /><path class=c21 d=M666,561l6-41-5,13-7,42z /><path class=c16 d=M659,581l7-20-6,14-6,19zM652,568l7,13-5,13-7-12z /><path class=c20 d=M646,533l6,35-5,14-6-35z /><path class=c26 d=M639,497l7,36-5,14-7-36z /><path class=c31 d=M632,484l7,13-5,14-7-13z /><path class=c30 d=M626,503l6-19-5,14-6,18z /><path class=c26 d=M619,543l7-40-5,13-7,41z /><path class=c20 d=M612,584l7-41-5,14-7,40z /><path class=c16 d=M606,601l6-17-5,13-6,18zM599,587l7,14-5,14-7-14z /><path class=c20 d=M593,551l6,36-5,14-7-36z /><path class=c26 d=M586,514l7,37-6,14-6-37z /><path class=c31 d=M579,500l7,14-5,14-7-14zM573,517l6-17-5,14-6,17z /><path class=c27 d=M566,556l7-39-5,14-7,39z /><path class=c21 d=M559,595l7-39-5,14-7,39z /><path class=c17 d=M553,612l6-17-5,14-6,16zM546,596l7,16-5,13-7-15z /><path class=c22 d=M539,558l7,38-5,14-7-38z /><path class=c28 d=M533,520l6,38-5,14-6-38z /><path class=c33 d=M526,505l7,15-5,14-7-16zM520,520l6-15-5,13-7,16z /><path class=c29 d=M513,558l7-38-6,14-6,38z /><path class=c23 d=M506,596l7-38-5,14-7,38z /><path class=c19 d=M500,611l6-15-5,14-7,15z /><path class=c20 d=M493,594l7,17-6,14-6-17z /><path class=c25 d=M486,555l7,39-5,14-7-39z /><path class=c31 d=M480,516l6,39-5,14-6-40z /><path class=c36 d=M473,498l7,18-5,13-7-17zM466,513l7-15-5,14-7,15z /><path class=c33 d=M460,549l6-36-5,14-6,36z /><path class=c27 d=M453,586l7-37-5,14-7,36z /><path class=c24 d=M446,599l7-13-5,13-7,14zM440,581l6,18-5,14-6-18z /><path class=c29 d=M433,541l7,40-5,14-7-40z /><path class=c36 d=M427,500l6,41-5,14-7-41z /><path class=c41 d=M420,482l7,18-6,14-6-19z /><path class=c42 d=M413,495l7-13-5,13-7,13z /><path class=c38 d=M407,530l6-35-5,13-6,36z /><path class=c33 d=M400,565l7-35-5,14-7,34z /><path class=c29 d=M393,577l7-12-5,13-7,13z /><path class=c30 d=M387,558l6,19-5,14-6-19z /><path class=c35 d=M380,516l7,42-5,14-7-42z /><path class=c42 d=M373,474l7,42-5,14-7-42z /><path class=c47 d=M367,454l6,20-5,14-6-20z /><path class=c48 d=M360,466l7-12-5,14-7,11z /><path class=c45 d=M354,499l6-33-5,13-7,34z /><path class=c40 d=M347,533l7-34-6,14-6,34z /><path class=c37 d=M340,544l7-11-5,14-7,11z /><path class=c35 d=M870,399l7,8-6-18-6-7z /><path class=c38 d=M863,370l7,29-5-17-7-30z /><path class=c43 d=M857,340l6,30-5-18-6-30z /><path class=c47 d=M850,332l7,8-5-18-7-8z /><path class=c46 d=M843,356l7-24-5-18-7,24z /><path class=c41 d=M837,402l6-46-5-18-6,46z /><path class=c34 d=M830,447l7-45-5-18-7,46z /><path class=c29 d=M823,471l7-24-5-17-7,23z /><path class=c28 d=M817,462l6,9-5-18-6-9z /><path class=c31 d=M810,431l7,31-5-18-7-31z /><path class=c37 d=M803,400l7,31-5-18-7-31z /><path class=c40 d=M797,391l6,9-5-18-6-9zM790,413l7-22-5-18-7,22z /><path class=c35 d=M784,458l6-45-5-18-7,45z /><path class=c28 d=M777,502l7-44-6-18-6,44z /><path class=c23 d=M770,524l7-22-5-18-7,22z /><path class=c22 d=M764,514l6,10-5-18-6-10z /><path class=c26 d=M757,482l7,32-5-18-7-32z /><path class=c32 d=M750,449l7,33-5-18-7-33z /><path class=c35 d=M744,439l6,10-5-18-6-10zM737,460l7-21-5-18-7,21z /><path class=c30 d=M730,503l7-43-5-18-7,43z /><path class=c24 d=M724,546l6-43-5-18-6,43z /><path class=c19 d=M717,566l7-20-5-18-7,21zM711,555l6,11-5-17-7-11z /><path class=c23 d=M704,521l7,34-6-17-6-34z /><path class=c28 d=M697,487l7,34-5-17-7-34z /><path class=c32 d=M691,476l6,11-5-17-6-12zM684,495l7-19-5-18-7,20z /><path class=c27 d=M677,537l7-42-5-17-7,42z /><path class=c21 d=M671,579l6-42-5-17-6,41z /><path class=c17 d=M664,598l7-19-5-18-7,20z /><path class=c16 d=M657,586l7,12-5-17-7-13z /><path class=c20 d=M651,550l6,36-5-18-6-35z /><path class=c26 d=M644,515l7,35-5-17-7-36z /><path class=c31 d=M637,502l7,13-5-18-7-13zM631,520l6-18-5-18-6,19z /><path class=c26 d=M624,561l7-41-5-17-7,40z /><path class=c20 d=M618,601l6-40-5-18-7,41z /><path class=c16 d=M611,619l7-18-6-17-6,17zM604,605l7,14-5-18-7-14z /><path class=c20 d=M598,569l6,36-5-18-6-36z /><path class=c26 d=M591,532l7,37-5-18-7-37z /><path class=c31 d=M584,518l7,14-5-18-7-14zM578,535l6-17-5-18-6,17z /><path class=c27 d=M571,574l7-39-5-18-7,39z /><path class=c21 d=M564,613l7-39-5-18-7,39z /><path class=c17 d=M558,629l6-16-5-18-6,17zM551,614l7,15-5-17-7-16z /><path class=c22 d=M545,576l6,38-5-18-7-38z /><path class=c28 d=M538,538l7,38-6-18-6-38z /><path class=c33 d=M531,522l7,16-5-18-7-15zM525,538l6-16-5-17-6,15z /><path class=c29 d=M518,576l7-38-5-18-7,38z /><path class=c23 d=M511,613l7-37-5-18-7,38z /><path class=c19 d=M505,629l6-16-5-17-6,15z /><path class=c20 d=M498,612l7,17-5-18-7-17z /><path class=c25 d=M491,573l7,39-5-18-7-39z /><path class=c31 d=M485,533l6,40-5-18-6-39z /><path class=c36 d=M478,516l7,17-5-17-7-18z /><path class=c37 d=M471,530l7-14-5-18-7,15z /><path class=c33 d=M465,567l6-37-5-17-6,36z /><path class=c27 d=M458,603l7-36-5-18-7,37z /><path class=c24 d=M452,617l6-14-5-17-7,13zM445,599l7,18-6-18-6-18z /><path class=c29 d=M438,559l7,40-5-18-7-40z /><path class=c36 d=M432,518l6,41-5-18-6-41z /><path class=c41 d=M425,499l7,19-5-18-7-18z /><path class=c42 d=M418,512l7-13-5-17-7,13z /><path class=c38 d=M412,547l6-35-5-17-6,35z /><path class=c33 d=M405,582l7-35-5-17-7,35z /><path class=c29 d=M398,595l7-13-5-17-7,12z /><path class=c30 d=M392,575l6,20-5-18-6-19z /><path class=c35 d=M385,534l7,41-5-17-7-42z /><path class=c42 d=M379,491l6,43-5-18-7-42z /><path class=c48 d=M372,472l7,19-6-17-6-20z /><path class=c49 d=M365,483l7-11-5-18-7,12z /><path class=c45 d=M359,517l6-34-5-17-6,33z /><path class=c40 d=M352,551l7-34-5-18-7,34z /><path class=c37 d=M345,562l7-11-5-18-7,11z /><path class=c31 d=M875,439l7,7-5-39-7-8z /><path class=c34 d=M868,409l7,30-5-40-7-29z /><path class=c39 d=M862,379l6,30-5-39-6-30z /><path class=c42 d=M855,372l7,7-5-39-7-8zM848,396l7-24-5-40-7,24z /><path class=c36 d=M842,441l6-45-5-40-6,46z /><path class=c29 d=M835,487l7-46-5-39-7,45z /><path class=c24 d=M829,510l6-23-5-40-7,24zM822,502l7,8-6-39-6-9z /><path class=c27 d=M815,471l7,31-5-40-7-31z /><path class=c32 d=M809,440l6,31-5-40-7-31z /><path class=c36 d=M802,430l7,10-6-40-6-9z /><path class=c35 d=M795,453l7-23-5-39-7,22z /><path class=c30 d=M789,497l6-44-5-40-6,45z /><path class=c24 d=M782,542l7-45-5-39-7,44z /><path class=c19 d=M775,564l7-22-5-40-7,22z /><path class=c18 d=M769,554l6,10-5-40-6-10z /><path class=c22 d=M762,521l7,33-5-40-7-32z /><path class=c27 d=M755,489l7,32-5-39-7-33z /><path class=c31 d=M749,478l6,11-5-40-6-10zM742,499l7-21-5-39-7,21z /><path class=c26 d=M736,543l6-44-5-39-7,43z /><path class=c19 d=M729,586l7-43-6-40-6,43z /><path class=c15 d=M722,606l7-20-5-40-7,20z /><path class=c14 d=M716,595l6,11-5-40-6-11z /><path class=c18 d=M709,561l7,34-5-40-7-34z /><path class=c24 d=M702,527l7,34-5-40-7-34z /><path class=c28 d=M696,516l6,11-5-40-6-11zM689,535l7-19-5-40-7,19z /><path class=c23 d=M682,577l7-42-5-40-7,42z /><path class=c17 d=M676,619l6-42-5-40-6,42z /><path class=c12 d=M669,638l7-19-5-40-7,19zM663,625l6,13-5-40-7-12z /><path class=c16 d=M656,590l7,35-6-39-6-36z /><path class=c22 d=M649,555l7,35-5-40-7-35z /><path class=c27 d=M643,542l6,13-5-40-7-13z /><path class=c26 d=M636,560l7-18-6-40-6,18z /><path class=c22 d=M629,601l7-41-5-40-7,41z /><path class=c16 d=M623,641l6-40-5-40-6,40z /><path class=c12 d=M616,659l7-18-5-40-7,18zM609,645l7,14-5-40-7-14z /><path class=c16 d=M603,609l6,36-5-40-6-36z /><path class=c22 d=M596,572l7,37-5-40-7-37z /><path class=c27 d=M589,557l7,15-5-40-7-14zM583,574l6-17-5-39-6,17z /><path class=c23 d=M576,614l7-40-5-39-7,39z /><path class=c17 d=M570,653l6-39-5-40-7,39z /><path class=c13 d=M563,669l7-16-6-40-6,16zM556,654l7,15-5-40-7-15z /><path class=c18 d=M550,616l6,38-5-40-6-38z /><path class=c24 d=M543,578l7,38-5-40-7-38z /><path class=c29 d=M536,562l7,16-5-40-7-16zM530,578l6-16-5-40-6,16z /><path class=c25 d=M523,616l7-38-5-40-7,38z /><path class=c19 d=M516,653l7-37-5-40-7,37z /><path class=c15 d=M510,668l6-15-5-40-6,16z /><path class=c16 d=M503,652l7,16-5-39-7-17z /><path class=c21 d=M497,613l6,39-5-40-7-39z /><path class=c27 d=M490,573l7,40-6-40-6-40z /><path class=c32 d=M483,556l7,17-5-40-7-17zM477,570l6-14-5-40-7,14z /><path class=c29 d=M470,607l7-37-6-40-6,37z /><path class=c23 d=M463,643l7-36-5-40-7,36z /><path class=c20 d=M457,657l6-14-5-40-6,14zM450,639l7,18-5-40-7-18z /><path class=c25 d=M443,598l7,41-5-40-7-40z /><path class=c32 d=M437,558l6,40-5-39-6-41z /><path class=c37 d=M430,539l7,19-5-40-7-19z /><path class=c38 d=M423,552l7-13-5-40-7,13z /><path class=c34 d=M417,587l6-35-5-40-6,35z /><path class=c29 d=M410,622l7-35-5-40-7,35z /><path class=c25 d=M404,635l6-13-5-40-7,13z /><path class=c26 d=M397,615l7,20-6-40-6-20z /><path class=c31 d=M390,573l7,42-5-40-7-41z /><path class=c38 d=M384,531l6,42-5-39-6-43z /><path class=c44 d=M377,511l7,20-5-40-7-19zM370,523l7-12-5-39-7,11z /><path class=c41 d=M364,557l6-34-5-40-6,34z /><path class=c36 d=M357,590l7-33-5-40-7,34z /><path class=c33 d=M350,602l7-12-5-39-7,11z /><path class=c25 d=M880,479l7,7-5-40-7-7z /><path class=c28 d=M873,449l7,30-5-40-7-30z /><path class=c33 d=M867,419l6,30-5-40-6-30z /><path class=c37 d=M860,411l7,8-5-40-7-7z /><path class=c36 d=M854,435l6-24-5-39-7,24z /><path class=c30 d=M847,481l7-46-6-39-6,45z /><path class=c24 d=M840,527l7-46-5-40-7,46z /><path class=c18 d=M834,550l6-23-5-40-6,23zM827,542l7,8-5-40-7-8z /><path class=c21 d=M820,511l7,31-5-40-7-31z /><path class=c27 d=M814,479l6,32-5-40-6-31z /><path class=c30 d=M807,470l7,9-5-39-7-10z /><path class=c29 d=M800,493l7-23-5-40-7,23z /><path class=c24 d=M794,537l6-44-5-40-6,44z /><path class=c18 d=M787,582l7-45-5-40-7,45z /><path class=c13 d=M780,603l7-21-5-40-7,22z /><path class=c12 d=M774,594l6,9-5-39-6-10z /><path class=c16 d=M767,561l7,33-5-40-7-33z /><path class=c22 d=M761,529l6,32-5-40-7-32z /><path class=c25 d=M754,518l7,11-6-40-6-11zM747,539l7-21-5-40-7,21z /><path class=c20 d=M741,582l6-43-5-40-6,44z /><path class=c14 d=M734,625l7-43-5-39-7,43z /><path class=c9 d=M727,646l7-21-5-39-7,20z /><path class=c8 d=M721,635l6,11-5-40-6-11z /><path class=c12 d=M714,601l7,34-5-40-7-34z /><path class=c18 d=M707,567l7,34-5-40-7-34z /><path class=c22 d=M701,555l6,12-5-40-6-11zM694,575l7-20-5-39-7,19z /><path class=c17 d=M688,617l6-42-5-40-7,42z /><path class=c11 d=M681,659l7-42-6-40-6,42z /><path class=c6 d=M674,678l7-19-5-40-7,19zM668,665l6,13-5-40-6-13z /><path class=c10 d=M661,630l7,35-5-40-7-35z /><path class=c16 d=M654,595l7,35-5-40-7-35z /><path class=c21 d=M648,582l6,13-5-40-6-13zM641,600l7-18-5-40-7,18z /><path class=c16 d=M634,640l7-40-5-40-7,41z /><path class=c10 d=M628,681l6-41-5-39-6,40z /><path class=c6 d=M621,699l7-18-5-40-7,18zM614,685l7,14-5-40-7-14z /><path class=c10 d=M608,648l6,37-5-40-6-36z /><path class=c16 d=M601,612l7,36-5-39-7-37z /><path class=c21 d=M595,597l6,15-5-40-7-15zM588,614l7-17-6-40-6,17z /><path class=c17 d=M581,653l7-39-5-40-7,40z /><path class=c11 d=M575,692l6-39-5-39-6,39z /><path class=c7 d=M568,709l7-17-5-39-7,16zM561,693l7,16-5-40-7-15z /><path class=c12 d=M555,656l6,37-5-39-6-38z /><path class=c18 d=M548,618l7,38-5-40-7-38z /><path class=c23 d=M541,602l7,16-5-40-7-16zM535,617l6-15-5-40-6,16z /><path class=c19 d=M528,655l7-38-5-39-7,38z /><path class=c13 d=M522,693l6-38-5-39-7,37z /><path class=c9 d=M515,708l7-15-6-40-6,15z /><path class=c10 d=M508,691l7,17-5-40-7-16z /><path class=c15 d=M502,652l6,39-5-39-6-39z /><path class=c21 d=M495,613l7,39-5-39-7-40z /><path class=c26 d=M488,596l7,17-5-40-7-17z /><path class=c27 d=M482,610l6-14-5-40-6,14z /><path class=c23 d=M475,646l7-36-5-40-7,37z /><path class=c17 d=M468,683l7-37-5-39-7,36z /><path class=c14 d=M462,697l6-14-5-40-6,14zM455,679l7,18-5-40-7-18z /><path class=c19 d=M448,638l7,41-5-40-7-41z /><path class=c26 d=M442,597l6,41-5-40-6-40z /><path class=c31 d=M435,579l7,18-5-39-7-19z /><path class=c32 d=M429,592l6-13-5-40-7,13z /><path class=c28 d=M422,627l7-35-6-40-6,35z /><path class=c23 d=M415,662l7-35-5-40-7,35z /><path class=c19 d=M409,674l6-12-5-40-6,13z /><path class=c20 d=M402,655l7,19-5-39-7-20z /><path class=c25 d=M395,613l7,42-5-40-7-42z /><path class=c32 d=M389,571l6,42-5-40-6-42z /><path class=c38 d=M382,551l7,20-5-40-7-20z /><path class=c39 d=M375,563l7-12-5-40-7,12z /><path class=c35 d=M369,597l6-34-5-40-6,34z /><path class=c30 d=M362,630l7-33-5-40-7,33z /><path class=c27 d=M356,641l6-11-5-40-7,12z /><path class=c21 d=M885,496l7,7-5-17-7-7z /><path class=c24 d=M879,466l6,30-5-17-7-30z /><path class=c29 d=M872,436l7,30-6-17-6-30z /><path class=c32 d=M865,429l7,7-5-17-7-8zM859,452l6-23-5-18-6,24z /><path class=c26 d=M852,498l7-46-5-17-7,46z /><path class=c19 d=M845,544l7-46-5-17-7,46z /><path class=c14 d=M839,567l6-23-5-17-6,23zM832,559l7,8-5-17-7-8z /><path class=c17 d=M825,528l7,31-5-17-7-31z /><path class=c22 d=M819,496l6,32-5-17-6-32z /><path class=c26 d=M812,487l7,9-5-17-7-9z /><path class=c25 d=M806,510l6-23-5-17-7,23z /><path class=c20 d=M799,554l7-44-6-17-6,44z /><path class=c14 d=M792,599l7-45-5-17-7,45z /><path class=c9 d=M786,621l6-22-5-17-7,21z /><path class=c8 d=M779,611l7,10-6-18-6-9z /><path class=c12 d=M772,578l7,33-5-17-7-33z /><path class=c17 d=M766,546l6,32-5-17-6-32z /><path class=c21 d=M759,535l7,11-5-17-7-11zM752,556l7-21-5-17-7,21z /><path class=c16 d=M746,600l6-44-5-17-6,43z /><path class=c9 d=M739,643l7-43-5-18-7,43z /><path class=c5 d=M732,663l7-20-5-18-7,21z /><path class=c4 d=M726,652l6,11-5-17-6-11z /><path class=c8 d=M719,618l7,34-5-17-7-34z /><path class=c14 d=M713,584l6,34-5-17-7-34z /><path class=c18 d=M706,572l7,12-6-17-6-12zM699,592l7-20-5-17-7,20z /><path class=c13 d=M693,634l6-42-5-17-6,42z /><path class=c7 d=M686,676l7-42-5-17-7,42z /><path class=c2 d=M679,695l7-19-5-17-7,19zM673,682l6,13-5-17-6-13z /><path class=c6 d=M666,647l7,35-5-17-7-35z /><path class=c12 d=M659,612l7,35-5-17-7-35z /><path class=c17 d=M653,599l6,13-5-17-6-13zM646,617l7-18-5-17-7,18z /><path class=c12 d=M640,658l6-41-5-17-7,40z /><path class=c6 d=M633,698l7-40-6-18-6,41z /><path class=c2 d=M626,716l7-18-5-17-7,18zM620,702l6,14-5-17-7-14z /><path class=c6 d=M613,665l7,37-6-17-6-37z /><path class=c12 d=M606,629l7,36-5-17-7-36z /><path class=c17 d=M600,614l6,15-5-17-6-15zM593,631l7-17-5-17-7,17z /><path class=c13 d=M586,670l7-39-5-17-7,39z /><path class=c7 d=M580,709l6-39-5-17-6,39z /><path class=c3 d=M573,726l7-17-5-17-7,17zM566,711l7,15-5-17-7-16z /><path class=c8 d=M560,673l6,38-5-18-6-37z /><path class=c14 d=M553,635l7,38-5-17-7-38z /><path class=c19 d=M547,619l6,16-5-17-7-16zM540,635l7-16-6-17-6,15z /><path class=c15 d=M533,672l7-37-5-18-7,38z /><path class=c9 d=M527,710l6-38-5-17-6,38z /><path class=c5 d=M520,725l7-15-5-17-7,15z /><path class=c6 d=M513,709l7,16-5-17-7-17z /><path class=c11 d=M507,669l6,40-5-18-6-39z /><path class=c17 d=M500,630l7,39-5-17-7-39z /><path class=c22 d=M493,613l7,17-5-17-7-17z /><path class=c23 d=M487,627l6-14-5-17-6,14z /><path class=c19 d=M480,664l7-37-5-17-7,36z /><path class=c13 d=M474,700l6-36-5-18-7,37z /><path class=c10 d=M467,714l7-14-6-17-6,14zM460,696l7,18-5-17-7-18z /><path class=c15 d=M454,655l6,41-5-17-7-41z /><path class=c22 d=M447,614l7,41-6-17-6-41z /><path class=c27 d=M440,596l7,18-5-17-7-18z /><path class=c28 d=M434,609l6-13-5-17-6,13z /><path class=c24 d=M427,644l7-35-5-17-7,35z /><path class=c19 d=M420,679l7-35-5-17-7,35z /><path class=c15 d=M414,691l6-12-5-17-6,12z /><path class=c16 d=M407,672l7,19-5-17-7-19z /><path class=c21 d=M400,630l7,42-5-17-7-42z /><path class=c28 d=M394,588l6,42-5-17-6-42z /><path class=c34 d=M387,568l7,20-5-17-7-20zM381,580l6-12-5-17-7,12z /><path class=c31 d=M374,614l7-34-6-17-6,34z /><path class=c26 d=M367,647l7-33-5-17-7,33z /><path class=c23 d=M361,658l6-11-5-17-6,11z /><path class=c21 d=M890,481l7,8-5,14-7-7z /><path class=c24 d=M884,452l6,29-5,15-6-30z /><path class=c29 d=M877,422l7,30-5,14-7-30z /><path class=c33 d=M870,414l7,8-5,14-7-7z /><path class=c32 d=M864,438l6-24-5,15-6,23z /><path class=c27 d=M857,484l7-46-5,14-7,46z /><path class=c20 d=M850,529l7-45-5,14-7,46z /><path class=c15 d=M844,553l6-24-5,15-6,23z /><path class=c14 d=M837,544l7,9-5,14-7-8z /><path class=c17 d=M831,513l6,31-5,15-7-31z /><path class=c23 d=M824,482l7,31-6,15-6-32z /><path class=c26 d=M817,473l7,9-5,14-7-9zM811,495l6-22-5,14-6,23z /><path class=c21 d=M804,540l7-45-5,15-7,44z /><path class=c14 d=M797,584l7-44-5,14-7,45z /><path class=c9 d=M791,606l6-22-5,15-6,22z /><path class=c8 d=M784,596l7,10-5,15-7-10z /><path class=c12 d=M777,564l7,32-5,15-7-33z /><path class=c18 d=M771,531l6,33-5,14-6-32z /><path class=c21 d=M764,521l7,10-5,15-7-11zM758,542l6-21-5,14-7,21z /><path class=c16 d=M751,585l7-43-6,14-6,44z /><path class=c10 d=M744,628l7-43-5,15-7,43z /><path class=c5 d=M738,649l6-21-5,15-7,20zM731,637l7,12-6,14-6-11z /><path class=c8 d=M724,603l7,34-5,15-7-34z /><path class=c14 d=M718,569l6,34-5,15-6-34z /><path class=c18 d=M711,558l7,11-5,15-7-12zM704,577l7-19-5,14-7,20z /><path class=c13 d=M698,619l6-42-5,15-6,42z /><path class=c7 d=M691,661l7-42-5,15-7,42z /><path class=c3 d=M684,680l7-19-5,15-7,19z /><path class=c2 d=M678,668l6,12-5,15-6-13z /><path class=c7 d=M671,632l7,36-5,14-7-35z /><path class=c13 d=M665,597l6,35-5,15-7-35z /><path class=c17 d=M658,584l7,13-6,15-6-13zM651,602l7-18-5,15-7,18z /><path class=c12 d=M645,643l6-41-5,15-6,41z /><path class=c6 d=M638,683l7-40-5,15-7,40z /><path class=c2 d=M631,701l7-18-5,15-7,18zM625,687l6,14-5,15-6-14z /><path class=c6 d=M618,651l7,36-5,15-7-37z /><path class=c13 d=M611,614l7,37-5,14-7-36z /><path class=c17 d=M605,600l6,14-5,15-6-15zM598,617l7-17-5,14-7,17z /><path class=c13 d=M592,656l6-39-5,14-7,39z /><path class=c7 d=M585,695l7-39-6,14-6,39z /><path class=c3 d=M578,711l7-16-5,14-7,17zM572,696l6,15-5,15-7-15z /><path class=c8 d=M565,658l7,38-6,15-6-38z /><path class=c14 d=M558,620l7,38-5,15-7-38z /><path class=c19 d=M552,604l6,16-5,15-6-16zM545,620l7-16-5,15-7,16z /><path class=c15 d=M538,658l7-38-5,15-7,37z /><path class=c10 d=M532,695l6-37-5,14-6,38z /><path class=c6 d=M525,711l7-16-5,15-7,15zM518,694l7,17-5,14-7-16z /><path class=c11 d=M512,655l6,39-5,15-6-40z /><path class=c17 d=M505,615l7,40-5,14-7-39z /><path class=c22 d=M499,598l6,17-5,15-7-17z /><path class=c23 d=M492,612l7-14-6,15-6,14z /><path class=c19 d=M485,649l7-37-5,15-7,37z /><path class=c14 d=M479,685l6-36-5,15-6,36z /><path class=c10 d=M472,699l7-14-5,15-7,14zM465,681l7,18-5,15-7-18z /><path class=c15 d=M459,641l6,40-5,15-6-41z /><path class=c22 d=M452,600l7,41-5,14-7-41z /><path class=c27 d=M445,581l7,19-5,14-7-18z /><path class=c28 d=M439,594l6-13-5,15-6,13z /><path class=c24 d=M432,629l7-35-5,15-7,35z /><path class=c19 d=M426,664l6-35-5,15-7,35z /><path class=c16 d=M419,677l7-13-6,15-6,12zM412,657l7,20-5,14-7-19z /><path class=c22 d=M406,616l6,41-5,15-7-42z /><path class=c29 d=M399,574l7,42-6,14-6-42z /><path class=c34 d=M392,554l7,20-5,14-7-20z /><path class=c35 d=M386,565l6-11-5,14-6,12z /><path class=c31 d=M379,599l7-34-5,15-7,34z /><path class=c26 d=M372,633l7-34-5,15-7,33z /><path class=c23 d=M366,644l6-11-5,14-6,11z /><path class=c25 d=M895,444l7,7-5,38-7-8z /><path class=c29 d=M889,414l6,30-5,37-6-29z /><path class=c34 d=M882,384l7,30-5,38-7-30z /><path class=c37 d=M875,377l7,7-5,38-7-8z /><path class=c36 d=M869,401l6-24-5,37-6,24z /><path class=c31 d=M862,446l7-45-5,37-7,46z /><path class=c24 d=M856,492l6-46-5,38-7,45z /><path class=c19 d=M849,515l7-23-6,37-6,24z /><path class=c18 d=M842,507l7,8-5,38-7-9z /><path class=c22 d=M836,476l6,31-5,37-6-31z /><path class=c27 d=M829,445l7,31-5,37-7-31z /><path class=c31 d=M822,435l7,10-5,37-7-9z /><path class=c30 d=M816,458l6-23-5,38-6,22z /><path class=c25 d=M809,502l7-44-5,37-7,45z /><path class=c18 d=M802,547l7-45-5,38-7,44z /><path class=c13 d=M796,569l6-22-5,37-6,22zM789,559l7,10-5,37-7-10z /><path class=c17 d=M783,526l6,33-5,37-7-32z /><path class=c22 d=M776,494l7,32-6,38-6-33z /><path class=c26 d=M769,483l7,11-5,37-7-10z /><path class=c25 d=M763,504l6-21-5,38-6,21z /><path class=c21 d=M756,548l7-44-5,38-7,43z /><path class=c14 d=M749,591l7-43-5,37-7,43z /><path class=c9 d=M743,611l6-20-5,37-6,21zM736,600l7,11-5,38-7-12z /><path class=c13 d=M729,566l7,34-5,37-7-34z /><path class=c19 d=M723,532l6,34-5,37-6-34z /><path class=c23 d=M716,521l7,11-5,37-7-11zM709,540l7-19-5,37-7,19z /><path class=c18 d=M703,582l6-42-5,37-6,42z /><path class=c12 d=M696,624l7-42-5,37-7,42z /><path class=c7 d=M690,643l6-19-5,37-7,19zM683,630l7,13-6,37-6-12z /><path class=c11 d=M676,595l7,35-5,38-7-36z /><path class=c17 d=M670,560l6,35-5,37-6-35z /><path class=c21 d=M663,547l7,13-5,37-7-13zM656,565l7-18-5,37-7,18z /><path class=c17 d=M650,606l6-41-5,37-6,41z /><path class=c11 d=M643,646l7-40-5,37-7,40z /><path class=c7 d=M636,664l7-18-5,37-7,18zM630,650l6,14-5,37-6-14z /><path class=c11 d=M623,614l7,36-5,37-7-36z /><path class=c17 d=M617,577l6,37-5,37-7-37z /><path class=c22 d=M610,562l7,15-6,37-6-14zM603,579l7-17-5,38-7,17z /><path class=c18 d=M597,619l6-40-5,38-6,39z /><path class=c12 d=M590,658l7-39-5,37-7,39z /><path class=c8 d=M583,674l7-16-5,37-7,16zM577,659l6,15-5,37-6-15z /><path class=c12 d=M570,621l7,38-5,37-7-38z /><path class=c19 d=M563,583l7,38-5,37-7-38z /><path class=c23 d=M557,567l6,16-5,37-6-16z /><path class=c24 d=M550,583l7-16-5,37-7,16z /><path class=c20 d=M543,621l7-38-5,37-7,38z /><path class=c14 d=M537,658l6-37-5,37-6,37z /><path class=c10 d=M530,673l7-15-5,37-7,16z /><path class=c11 d=M524,657l6,16-5,38-7-17z /><path class=c15 d=M517,618l7,39-6,37-6-39z /><path class=c22 d=M510,578l7,40-5,37-7-40z /><path class=c27 d=M504,561l6,17-5,37-6-17zM497,575l7-14-5,37-7,14z /><path class=c24 d=M490,612l7-37-5,37-7,37z /><path class=c18 d=M484,648l6-36-5,37-6,36z /><path class=c14 d=M477,662l7-14-5,37-7,14z /><path class=c15 d=M470,644l7,18-5,37-7-18z /><path class=c20 d=M464,603l6,41-5,37-6-40z /><path class=c27 d=M457,563l7,40-5,38-7-41z /><path class=c32 d=M451,544l6,19-5,37-7-19z /><path class=c33 d=M444,557l7-13-6,37-6,13z /><path class=c29 d=M437,592l7-35-5,37-7,35z /><path class=c24 d=M431,627l6-35-5,37-6,35z /><path class=c20 d=M424,640l7-13-5,37-7,13z /><path class=c21 d=M417,620l7,20-5,37-7-20z /><path class=c26 d=M411,578l6,42-5,37-6-41z /><path class=c33 d=M404,536l7,42-5,38-7-42z /><path class=c38 d=M397,516l7,20-5,38-7-20z /><path class=c39 d=M391,528l6-12-5,38-6,11z /><path class=c36 d=M384,562l7-34-5,37-7,34z /><path class=c31 d=M377,595l7-33-5,37-7,34z /><path class=c28 d=M371,607l6-12-5,38-6,11z /><path class=c32 d=M901,407l6,7-5,37-7-7z /><path class=c35 d=M894,377l7,30-6,37-6-30z /><path class=c40 d=M887,347l7,30-5,37-7-30z /><path class=c44 d=M881,339l6,8-5,37-7-7z /><path class=c43 d=M874,363l7-24-6,38-6,24z /><path class=c37 d=M867,409l7-46-5,38-7,45z /><path class=c31 d=M861,455l6-46-5,37-6,46z /><path class=c25 d=M854,478l7-23-5,37-7,23zM847,470l7,8-5,37-7-8z /><path class=c28 d=M841,438l6,32-5,37-6-31z /><path class=c34 d=M834,407l7,31-5,38-7-31z /><path class=c37 d=M827,398l7,9-5,38-7-10z /><path class=c36 d=M821,421l6-23-5,37-6,23z /><path class=c31 d=M814,465l7-44-5,37-7,44z /><path class=c25 d=M808,510l6-45-5,37-7,45z /><path class=c20 d=M801,531l7-21-6,37-6,22z /><path class=c19 d=M794,522l7,9-5,38-7-10z /><path class=c23 d=M788,489l6,33-5,37-6-33z /><path class=c29 d=M781,456l7,33-5,37-7-32z /><path class=c32 d=M774,446l7,10-5,38-7-11zM768,467l6-21-5,37-6,21z /><path class=c27 d=M761,510l7-43-5,37-7,44z /><path class=c21 d=M754,553l7-43-5,38-7,43z /><path class=c16 d=M748,574l6-21-5,38-6,20z /><path class=c15 d=M741,563l7,11-5,37-7-11z /><path class=c19 d=M735,529l6,34-5,37-7-34z /><path class=c25 d=M728,495l7,34-6,37-6-34z /><path class=c29 d=M721,483l7,12-5,37-7-11zM715,503l6-20-5,38-7,19z /><path class=c24 d=M708,545l7-42-6,37-6,42z /><path class=c18 d=M701,586l7-41-5,37-7,42z /><path class=c14 d=M695,606l6-20-5,38-6,19z /><path class=c13 d=M688,593l7,13-5,37-7-13z /><path class=c18 d=M681,558l7,35-5,37-7-35z /><path class=c24 d=M675,523l6,35-5,37-6-35z /><path class=c28 d=M668,509l7,14-5,37-7-13zM661,528l7-19-5,38-7,18z /><path class=c23 d=M655,568l6-40-5,37-6,41z /><path class=c17 d=M648,609l7-41-5,38-7,40z /><path class=c13 d=M642,627l6-18-5,37-7,18zM635,613l7,14-6,37-6-14z /><path class=c17 d=M628,576l7,37-5,37-7-36z /><path class=c24 d=M622,539l6,37-5,38-6-37z /><path class=c28 d=M615,525l7,14-5,38-7-15zM608,542l7-17-5,37-7,17z /><path class=c24 d=M602,581l6-39-5,37-6,40z /><path class=c18 d=M595,620l7-39-5,38-7,39z /><path class=c14 d=M588,637l7-17-5,38-7,16zM582,621l6,16-5,37-6-15z /><path class=c19 d=M575,584l7,37-5,38-7-38z /><path class=c25 d=M569,546l6,38-5,37-7-38z /><path class=c30 d=M562,530l7,16-6,37-6-16zM555,545l7-15-5,37-7,16z /><path class=c26 d=M549,583l6-38-5,38-7,38z /><path class=c21 d=M542,621l7-38-6,38-6,37z /><path class=c17 d=M535,636l7-15-5,37-7,15zM529,619l6,17-5,37-6-16z /><path class=c22 d=M522,580l7,39-5,38-7-39z /><path class=c28 d=M515,541l7,39-5,38-7-40z /><path class=c33 d=M509,524l6,17-5,37-6-17z /><path class=c34 d=M502,538l7-14-5,37-7,14z /><path class=c30 d=M495,574l7-36-5,37-7,37z /><path class=c24 d=M489,611l6-37-5,38-6,36z /><path class=c21 d=M482,625l7-14-5,37-7,14zM476,607l6,18-5,37-7-18z /><path class=c26 d=M469,566l7,41-6,37-6-41z /><path class=c33 d=M462,525l7,41-5,37-7-40z /><path class=c38 d=M456,507l6,18-5,38-6-19z /><path class=c39 d=M449,520l7-13-5,37-7,13z /><path class=c35 d=M442,555l7-35-5,37-7,35z /><path class=c30 d=M436,590l6-35-5,37-6,35z /><path class=c27 d=M429,602l7-12-5,37-7,13zM422,583l7,19-5,38-7-20z /><path class=c33 d=M416,541l6,42-5,37-6-42z /><path class=c40 d=M409,499l7,42-5,37-7-42z /><path class=c45 d=M403,479l6,20-5,37-7-20z /><path class=c46 d=M396,491l7-12-6,37-6,12z /><path class=c42 d=M389,524l7-33-5,37-7,34z /><path class=c37 d=M383,558l6-34-5,38-7,33z /><path class=c34 d=M376,569l7-11-6,37-6,12z /><path class=c36 d=M906,392l6,7-5,15-6-7z /><path class=c40 d=M899,362l7,30-5,15-7-30z /><path class=c45 d=M892,332l7,30-5,15-7-30z /><path class=c48 d=M886,324l6,8-5,15-6-8z /><path class=c47 d=M879,348l7-24-5,15-7,24z /><path class=c42 d=M872,394l7-46-5,15-7,46z /><path class=c35 d=M866,440l6-46-5,15-6,46z /><path class=c30 d=M859,463l7-23-5,15-7,23z /><path class=c29 d=M852,454l7,9-5,15-7-8z /><path class=c33 d=M846,423l6,31-5,16-6-32z /><path class=c38 d=M839,392l7,31-5,15-7-31z /><path class=c42 d=M833,383l6,9-5,15-7-9z /><path class=c41 d=M826,405l7-22-6,15-6,23z /><path class=c36 d=M819,450l7-45-5,16-7,44z /><path class=c29 d=M813,494l6-44-5,15-6,45z /><path class=c24 d=M806,516l7-22-5,16-7,21zM799,506l7,10-5,15-7-9z /><path class=c28 d=M793,474l6,32-5,16-6-33z /><path class=c33 d=M786,441l7,33-5,15-7-33z /><path class=c37 d=M779,431l7,10-5,15-7-10z /><path class=c36 d=M773,452l6-21-5,15-6,21z /><path class=c32 d=M766,495l7-43-5,15-7,43z /><path class=c25 d=M760,538l6-43-5,15-7,43z /><path class=c20 d=M753,559l7-21-6,15-6,21zM746,548l7,11-5,15-7-11z /><path class=c24 d=M740,514l6,34-5,15-6-34z /><path class=c30 d=M733,480l7,34-5,15-7-34z /><path class=c34 d=M726,468l7,12-5,15-7-12zM720,488l6-20-5,15-6,20z /><path class=c29 d=M713,530l7-42-5,15-7,42z /><path class=c23 d=M706,571l7-41-5,15-7,41z /><path class=c18 d=M700,591l6-20-5,15-6,20zM693,578l7,13-5,15-7-13z /><path class=c22 d=M686,543l7,35-5,15-7-35z /><path class=c28 d=M680,507l6,36-5,15-6-35z /><path class=c32 d=M673,494l7,13-5,16-7-14zM667,513l6-19-5,15-7,19z /><path class=c28 d=M660,553l7-40-6,15-6,40z /><path class=c22 d=M653,594l7-41-5,15-7,41z /><path class=c18 d=M647,611l6-17-5,15-6,18zM640,597l7,14-5,16-7-14z /><path class=c22 d=M633,561l7,36-5,16-7-37z /><path class=c28 d=M627,524l6,37-5,15-6-37z /><path class=c33 d=M620,510l7,14-5,15-7-14zM613,527l7-17-5,15-7,17z /><path class=c29 d=M607,566l6-39-5,15-6,39z /><path class=c23 d=M600,605l7-39-5,15-7,39z /><path class=c19 d=M594,622l6-17-5,15-7,17zM587,606l7,16-6,15-6-16z /><path class=c23 d=M580,568l7,38-5,15-7-37z /><path class=c30 d=M574,530l6,38-5,16-6-38z /><path class=c34 d=M567,515l7,15-5,16-7-16z /><path class=c35 d=M560,530l7-15-5,15-7,15z /><path class=c31 d=M554,568l6-38-5,15-6,38z /><path class=c25 d=M547,606l7-38-5,15-7,38z /><path class=c21 d=M540,621l7-15-5,15-7,15z /><path class=c22 d=M534,604l6,17-5,15-6-17z /><path class=c26 d=M527,565l7,39-5,15-7-39z /><path class=c33 d=M520,526l7,39-5,15-7-39z /><path class=c38 d=M514,509l6,17-5,15-6-17zM507,523l7-14-5,15-7,14z /><path class=c35 d=M501,559l6-36-5,15-7,36z /><path class=c29 d=M494,596l7-37-6,15-6,37z /><path class=c25 d=M487,609l7-13-5,15-7,14z /><path class=c26 d=M481,591l6,18-5,16-6-18z /><path class=c31 d=M474,551l7,40-5,16-7-41z /><path class=c38 d=M467,510l7,41-5,15-7-41z /><path class=c43 d=M461,492l6,18-5,15-6-18z /><path class=c44 d=M454,505l7-13-5,15-7,13z /><path class=c40 d=M447,540l7-35-5,15-7,35z /><path class=c35 d=M441,575l6-35-5,15-6,35z /><path class=c31 d=M434,587l7-12-5,15-7,12z /><path class=c32 d=M428,568l6,19-5,15-7-19z /><path class=c37 d=M421,526l7,42-6,15-6-42z /><path class=c44 d=M414,484l7,42-5,15-7-42z /><path class=c49 d=M408,464l6,20-5,15-6-20z /><path class=c50 d=M401,476l7-12-5,15-7,12z /><path class=c47 d=M394,509l7-33-5,15-7,33z /><path class=c42 d=M388,543l6-34-5,15-6,34z /><path class=c39 d=M381,554l7-11-5,15-7,11z /><path class=c37 d=M911,408l6,7-5-16-6-7z /><path class=c40 d=M904,378l7,30-5-16-7-30z /><path class=c45 d=M897,348l7,30-5-16-7-30z /><path class=c48 d=M891,341l6,7-5-16-6-8zM884,364l7-23-5-17-7,24z /><path class=c42 d=M878,410l6-46-5-16-7,46z /><path class=c35 d=M871,456l7-46-6-16-6,46z /><path class=c30 d=M864,479l7-23-5-16-7,23zM858,471l6,8-5-16-7-9z /><path class=c33 d=M851,440l7,31-6-17-6-31z /><path class=c38 d=M844,408l7,32-5-17-7-31z /><path class=c42 d=M838,399l6,9-5-16-6-9z /><path class=c41 d=M831,422l7-23-5-16-7,22z /><path class=c36 d=M824,466l7-44-5-17-7,45z /><path class=c30 d=M818,511l6-45-5-16-6,44z /><path class=c25 d=M811,533l7-22-5-17-7,22z /><path class=c24 d=M804,523l7,10-5-17-7-10z /><path class=c28 d=M798,490l6,33-5-17-6-32z /><path class=c33 d=M791,458l7,32-5-16-7-33z /><path class=c37 d=M785,447l6,11-5-17-7-10zM778,468l7-21-6-16-6,21z /><path class=c32 d=M771,511l7-43-5-16-7,43z /><path class=c25 d=M765,555l6-44-5-16-6,43z /><path class=c21 d=M758,575l7-20-5-17-7,21z /><path class=c20 d=M751,564l7,11-5-16-7-11z /><path class=c24 d=M745,530l6,34-5-16-6-34z /><path class=c30 d=M738,496l7,34-5-16-7-34z /><path class=c34 d=M731,484l7,12-5-16-7-12zM725,504l6-20-5-16-6,20z /><path class=c29 d=M718,546l7-42-5-16-7,42z /><path class=c23 d=M712,588l6-42-5-16-7,41z /><path class=c19 d=M705,607l7-19-6-17-6,20z /><path class=c18 d=M698,594l7,13-5-16-7-13z /><path class=c23 d=M692,559l6,35-5-16-7-35z /><path class=c29 d=M685,524l7,35-6-16-6-36z /><path class=c33 d=M678,511l7,13-5-17-7-13zM672,529l6-18-5-17-6,19z /><path class=c28 d=M665,570l7-41-5-16-7,40z /><path class=c22 d=M658,610l7-40-5-17-7,41z /><path class=c18 d=M652,628l6-18-5-16-6,17zM645,614l7,14-5-17-7-14z /><path class=c22 d=M638,577l7,37-5-17-7-36z /><path class=c29 d=M632,541l6,36-5-16-6-37z /><path class=c33 d=M625,526l7,15-5-17-7-14zM619,543l6-17-5-16-7,17z /><path class=c29 d=M612,582l7-39-6-16-6,39z /><path class=c23 d=M605,621l7-39-5-16-7,39z /><path class=c19 d=M599,638l6-17-5-16-6,17zM592,623l7,15-5-16-7-16z /><path class=c24 d=M585,585l7,38-5-17-7-38z /><path class=c30 d=M579,547l6,38-5-17-6-38z /><path class=c35 d=M572,531l7,16-5-17-7-15zM565,547l7-16-5-16-7,15z /><path class=c31 d=M559,584l6-37-5-17-6,38z /><path class=c25 d=M552,622l7-38-5-16-7,38z /><path class=c22 d=M546,637l6-15-5-16-7,15zM539,621l7,16-6-16-6-17z /><path class=c27 d=M532,581l7,40-5-17-7-39z /><path class=c33 d=M526,542l6,39-5-16-7-39z /><path class=c38 d=M519,525l7,17-6-16-6-17z /><path class=c39 d=M512,539l7-14-5-16-7,14z /><path class=c35 d=M506,576l6-37-5-16-6,36z /><path class=c29 d=M499,612l7-36-5-17-7,37z /><path class=c26 d=M492,626l7-14-5-16-7,13zM486,608l6,18-5-17-6-18z /><path class=c31 d=M479,567l7,41-5-17-7-40z /><path class=c38 d=M472,526l7,41-5-16-7-41z /><path class=c43 d=M466,508l6,18-5-16-6-18z /><path class=c44 d=M459,521l7-13-5-16-7,13z /><path class=c40 d=M453,556l6-35-5-16-7,35z /><path class=c35 d=M446,591l7-35-6-16-6,35z /><path class=c32 d=M439,603l7-12-5-16-7,12zM433,584l6,19-5-16-6-19z /><path class=c38 d=M426,542l7,42-5-16-7-42z /><path class=c45 d=M419,500l7,42-5-16-7-42z /><path class=c50 d=M413,480l6,20-5-16-6-20z /><path class=c51 d=M406,492l7-12-5-16-7,12z /><path class=c47 d=M399,526l7-34-5-16-7,33z /><path class=c42 d=M393,559l6-33-5-17-6,34z /><path class=c39 d=M386,570l7-11-5-16-7,11z /><path class=c33 d=M916,446l6,8-5-39-6-7z /><path class=c36 d=M909,417l7,29-5-38-7-30z /><path class=c41 d=M903,387l6,30-5-39-7-30z /><path class=c44 d=M896,379l7,8-6-39-6-7zM889,403l7-24-5-38-7,23z /><path class=c38 d=M883,449l6-46-5-39-6,46z /><path class=c31 d=M876,495l7-46-5-39-7,46z /><path class=c26 d=M869,518l7-23-5-39-7,23zM863,509l6,9-5-39-6-8z /><path class=c29 d=M856,478l7,31-5-38-7-31z /><path class=c34 d=M849,447l7,31-5-38-7-32z /><path class=c38 d=M843,438l6,9-5-39-6-9z /><path class=c37 d=M836,460l7-22-5-39-7,23z /><path class=c32 d=M830,505l6-45-5-38-7,44z /><path class=c26 d=M823,549l7-44-6-39-6,45z /><path class=c21 d=M816,571l7-22-5-38-7,22z /><path class=c20 d=M810,561l6,10-5-38-7-10z /><path class=c24 d=M803,529l7,32-6-38-6-33z /><path class=c29 d=M796,496l7,33-5-39-7-32z /><path class=c33 d=M790,486l6,10-5-38-6-11zM783,507l7-21-5-39-7,21z /><path class=c28 d=M776,550l7-43-5-39-7,43z /><path class=c21 d=M770,593l6-43-5-39-6,44z /><path class=c17 d=M763,614l7-21-5-38-7,20z /><path class=c16 d=M756,602l7,12-5-39-7-11z /><path class=c20 d=M750,569l6,33-5-38-6-34z /><path class=c26 d=M743,535l7,34-5-39-7-34z /><path class=c30 d=M737,523l6,12-5-39-7-12zM730,543l7-20-6-39-6,20z /><path class=c25 d=M723,584l7-41-5-39-7,42z /><path class=c19 d=M717,626l6-42-5-38-6,42z /><path class=c15 d=M710,645l7-19-5-38-7,19z /><path class=c14 d=M703,633l7,12-5-38-7-13z /><path class=c19 d=M697,598l6,35-5-39-6-35z /><path class=c25 d=M690,562l7,36-5-39-7-35z /><path class=c29 d=M683,549l7,13-5-38-7-13zM677,567l6-18-5-38-6,18z /><path class=c24 d=M670,608l7-41-5-38-7,41z /><path class=c18 d=M664,648l6-40-5-38-7,40z /><path class=c14 d=M657,666l7-18-6-38-6,18zM650,652l7,14-5-38-7-14z /><path class=c18 d=M644,616l6,36-5-38-7-37z /><path class=c25 d=M637,579l7,37-6-39-6-36z /><path class=c29 d=M630,565l7,14-5-38-7-15zM624,582l6-17-5-39-6,17z /><path class=c25 d=M617,621l7-39-5-39-7,39z /><path class=c19 d=M610,660l7-39-5-39-7,39z /><path class=c15 d=M604,676l6-16-5-39-6,17zM597,661l7,15-5-38-7-15z /><path class=c20 d=M590,623l7,38-5-38-7-38z /><path class=c26 d=M584,585l6,38-5-38-6-38z /><path class=c31 d=M577,569l7,16-5-38-7-16zM571,585l6-16-5-38-7,16z /><path class=c27 d=M564,623l7-38-6-38-6,37z /><path class=c22 d=M557,661l7-38-5-39-7,38z /><path class=c18 d=M551,676l6-15-5-39-6,15zM544,659l7,17-5-39-7-16z /><path class=c23 d=M537,620l7,39-5-38-7-40z /><path class=c29 d=M531,580l6,40-5-39-6-39z /><path class=c34 d=M524,563l7,17-5-38-7-17z /><path class=c35 d=M517,578l7-15-5-38-7,14z /><path class=c31 d=M511,614l6-36-5-39-6,37z /><path class=c26 d=M504,650l7-36-5-38-7,36z /><path class=c22 d=M498,664l6-14-5-38-7,14zM491,646l7,18-6-38-6-18z /><path class=c27 d=M484,606l7,40-5-38-7-41z /><path class=c34 d=M478,565l6,41-5-39-7-41z /><path class=c39 d=M471,546l7,19-6-39-6-18z /><path class=c40 d=M464,559l7-13-5-38-7,13z /><path class=c36 d=M458,595l6-36-5-38-6,35z /><path class=c31 d=M451,630l7-35-5-39-7,35z /><path class=c28 d=M444,642l7-12-5-39-7,12zM438,623l6,19-5-39-6-19z /><path class=c34 d=M431,581l7,42-5-39-7-42z /><path class=c41 d=M424,539l7,42-5-39-7-42z /><path class=c46 d=M418,519l6,20-5-39-6-20z /><path class=c47 d=M411,530l7-11-5-39-7,12z /><path class=c43 d=M405,564l6-34-5-38-7,34z /><path class=c38 d=M398,598l7-34-6-38-6,33z /><path class=c35 d=M391,609l7-11-5-39-7,11z /><path class=c27 d=M921,485l7,7-6-38-6-8z /><path class=c30 d=M914,455l7,30-5-39-7-29z /><path class=c35 d=M908,425l6,30-5-38-6-30z /><path class=c39 d=M901,417l7,8-5-38-7-8z /><path class=c38 d=M894,441l7-24-5-38-7,24z /><path class=c33 d=M888,487l6-46-5-38-6,46z /><path class=c26 d=M881,533l7-46-5-38-7,46z /><path class=c21 d=M874,556l7-23-5-38-7,23z /><path class=c20 d=M868,548l6,8-5-38-6-9z /><path class=c23 d=M861,516l7,32-5-39-7-31z /><path class=c29 d=M855,485l6,31-5-38-7-31z /><path class=c32 d=M848,476l7,9-6-38-6-9zM841,499l7-23-5-38-7,22z /><path class=c27 d=M835,543l6-44-5-39-6,45z /><path class=c20 d=M828,588l7-45-5-38-7,44z /><path class=c15 d=M821,609l7-21-5-39-7,22z /><path class=c14 d=M815,600l6,9-5-38-6-10z /><path class=c18 d=M808,567l7,33-5-39-7-32z /><path class=c24 d=M801,534l7,33-5-38-7-33z /><path class=c28 d=M795,524l6,10-5-38-6-10z /><path class=c27 d=M788,545l7-21-5-38-7,21z /><path class=c22 d=M781,588l7-43-5-38-7,43z /><path class=c16 d=M775,631l6-43-5-38-6,43z /><path class=c11 d=M768,652l7-21-5-38-7,21zM762,641l6,11-5-38-7-12z /><path class=c15 d=M755,607l7,34-6-39-6-33z /><path class=c20 d=M748,573l7,34-5-38-7-34z /><path class=c25 d=M742,561l6,12-5-38-6-12z /><path class=c24 d=M735,581l7-20-5-38-7,20z /><path class=c20 d=M728,623l7-42-5-38-7,41z /><path class=c13 d=M722,664l6-41-5-39-6,42z /><path class=c9 d=M715,684l7-20-5-38-7,19zM708,671l7,13-5-39-7-12z /><path class=c13 d=M702,636l6,35-5-38-6-35z /><path class=c19 d=M695,601l7,35-5-38-7-36z /><path class=c23 d=M689,587l6,14-5-39-7-13zM682,606l7-19-6-38-6,18z /><path class=c19 d=M675,646l7-40-5-39-7,41z /><path class=c13 d=M669,687l6-41-5-38-6,40z /><path class=c8 d=M662,705l7-18-5-39-7,18zM655,691l7,14-5-39-7-14z /><path class=c13 d=M649,654l6,37-5-39-6-36z /><path class=c19 d=M642,617l7,37-5-38-7-37z /><path class=c23 d=M635,603l7,14-5-38-7-14zM629,620l6-17-5-38-6,17z /><path class=c19 d=M622,659l7-39-5-38-7,39z /><path class=c13 d=M615,698l7-39-5-38-7,39z /><path class=c9 d=M609,715l6-17-5-38-6,16z /><path class=c10 d=M602,699l7,16-5-39-7-15z /><path class=c14 d=M596,662l6,37-5-38-7-38z /><path class=c21 d=M589,624l7,38-6-39-6-38z /><path class=c25 d=M582,608l7,16-5-39-7-16z /><path class=c26 d=M576,623l6-15-5-39-6,16z /><path class=c22 d=M569,661l7-38-5-38-7,38z /><path class=c16 d=M562,699l7-38-5-38-7,38z /><path class=c12 d=M556,714l6-15-5-38-6,15zM549,697l7,17-5-38-7-17z /><path class=c17 d=M542,658l7,39-5-38-7-39z /><path class=c24 d=M536,619l6,39-5-38-6-40z /><path class=c29 d=M529,602l7,17-5-39-7-17zM523,616l6-14-5-39-7,15z /><path class=c25 d=M516,652l7-36-6-38-6,36z /><path class=c20 d=M509,689l7-37-5-38-7,36z /><path class=c16 d=M503,703l6-14-5-39-6,14z /><path class=c17 d=M496,685l7,18-5-39-7-18z /><path class=c22 d=M489,644l7,41-5-39-7-40z /><path class=c29 d=M483,603l6,41-5-38-6-41z /><path class=c34 d=M476,585l7,18-5-38-7-19zM469,598l7-13-5-39-7,13z /><path class=c31 d=M463,633l6-35-5-39-6,36z /><path class=c25 d=M456,668l7-35-5-38-7,35z /><path class=c22 d=M449,680l7-12-5-38-7,12z /><path class=c23 d=M443,661l6,19-5-38-6-19z /><path class=c28 d=M436,619l7,42-5-38-7-42z /><path class=c35 d=M430,577l6,42-5-38-7-42z /><path class=c40 d=M423,557l7,20-6-38-6-20z /><path class=c41 d=M416,569l7-12-5-38-7,11z /><path class=c38 d=M410,602l6-33-5-39-6,34z /><path class=c33 d=M403,636l7-34-5-38-7,34z /><path class=c29 d=M396,647l7-11-5-38-7,11z /><path class=c23 d=M926,501l7,7-5-16-7-7z /><path class=c26 d=M919,471l7,30-5-16-7-30z /><path class=c31 d=M913,441l6,30-5-16-6-30z /><path class=c35 d=M906,433l7,8-5-16-7-8z /><path class=c34 d=M899,457l7-24-5-16-7,24z /><path class=c29 d=M893,503l6-46-5-16-6,46z /><path class=c22 d=M886,549l7-46-5-16-7,46z /><path class=c17 d=M880,572l6-23-5-16-7,23z /><path class=c16 d=M873,563l7,9-6-16-6-8z /><path class=c19 d=M866,532l7,31-5-15-7-32z /><path class=c25 d=M860,501l6,31-5-16-6-31z /><path class=c28 d=M853,492l7,9-5-16-7-9zM846,514l7-22-5-16-7,23z /><path class=c23 d=M840,559l6-45-5-15-6,44z /><path class=c16 d=M833,603l7-44-5-16-7,45z /><path class=c11 d=M826,625l7-22-5-15-7,21zM820,615l6,10-5-16-6-9z /><path class=c14 d=M813,583l7,32-5-15-7-33z /><path class=c20 d=M807,550l6,33-5-16-7-33z /><path class=c24 d=M800,540l7,10-6-16-6-10z /><path class=c23 d=M793,561l7-21-5-16-7,21z /><path class=c18 d=M787,604l6-43-5-16-7,43z /><path class=c12 d=M780,647l7-43-6-16-6,43z /><path class=c7 d=M773,668l7-21-5-16-7,21zM767,656l6,12-5-16-6-11z /><path class=c11 d=M760,623l7,33-5-15-7-34z /><path class=c17 d=M753,589l7,34-5-16-7-34z /><path class=c21 d=M747,577l6,12-5-16-6-12z /><path class=c20 d=M740,597l7-20-5-16-7,20z /><path class=c16 d=M733,639l7-42-5-16-7,42z /><path class=c10 d=M727,680l6-41-5-16-6,41z /><path class=c5 d=M720,699l7-19-5-16-7,20zM714,687l6,12-5-15-7-13z /><path class=c9 d=M707,652l7,35-6-16-6-35z /><path class=c15 d=M700,616l7,36-5-16-7-35z /><path class=c19 d=M694,603l6,13-5-15-6-14zM687,622l7-19-5-16-7,19z /><path class=c15 d=M680,662l7-40-5-16-7,40z /><path class=c9 d=M674,703l6-41-5-16-6,41z /><path class=c4 d=M667,720l7-17-5-16-7,18z /><path class=c5 d=M660,706l7,14-5-15-7-14z /><path class=c9 d=M654,670l6,36-5-15-6-37z /><path class=c15 d=M647,633l7,37-5-16-7-37z /><path class=c19 d=M641,619l6,14-5-16-7-14z /><path class=c20 d=M634,636l7-17-6-16-6,17z /><path class=c15 d=M627,675l7-39-5-16-7,39z /><path class=c10 d=M621,714l6-39-5-16-7,39z /><path class=c5 d=M614,731l7-17-6-16-6,17z /><path class=c6 d=M607,715l7,16-5-16-7-16z /><path class=c10 d=M601,677l6,38-5-16-6-37z /><path class=c17 d=M594,639l7,38-5-15-7-38z /><path class=c21 d=M587,624l7,15-5-15-7-16z /><path class=c22 d=M581,639l6-15-5-16-6,15z /><path class=c18 d=M574,677l7-38-5-16-7,38z /><path class=c12 d=M567,715l7-38-5-16-7,38z /><path class=c8 d=M561,730l6-15-5-16-6,15z /><path class=c9 d=M554,713l7,17-5-16-7-17z /><path class=c13 d=M548,674l6,39-5-16-7-39z /><path class=c20 d=M541,635l7,39-6-16-6-39z /><path class=c25 d=M534,617l7,18-5-16-7-17zM528,632l6-15-5-15-6,14z /><path class=c21 d=M521,668l7-36-5-16-7,36z /><path class=c16 d=M514,705l7-37-5-16-7,37z /><path class=c12 d=M508,718l6-13-5-16-6,14z /><path class=c13 d=M501,700l7,18-5-15-7-18z /><path class=c18 d=M494,660l7,40-5-15-7-41z /><path class=c25 d=M488,619l6,41-5-16-6-41z /><path class=c30 d=M481,601l7,18-5-16-7-18zM475,614l6-13-5-16-7,13z /><path class=c27 d=M468,649l7-35-6-16-6,35z /><path class=c22 d=M461,684l7-35-5-16-7,35z /><path class=c18 d=M455,696l6-12-5-16-7,12z /><path class=c19 d=M448,677l7,19-6-16-6-19z /><path class=c24 d=M441,635l7,42-5-16-7-42z /><path class=c31 d=M435,593l6,42-5-16-6-42z /><path class=c36 d=M428,573l7,20-5-16-7-20z /><path class=c37 d=M421,584l7-11-5-16-7,12z /><path class=c34 d=M415,618l6-34-5-15-6,33z /><path class=c29 d=M408,652l7-34-5-16-7,34z /><path class=c25 d=M401,663l7-11-5-16-7,11z /><path class=c23 d=M931,485l7,7-5,16-7-7z /><path class=c27 d=M925,455l6,30-5,16-7-30z /><path class=c32 d=M918,425l7,30-6,16-6-30z /><path class=c35 d=M911,417l7,8-5,16-7-8z /><path class=c34 d=M905,441l6-24-5,16-7,24z /><path class=c29 d=M898,487l7-46-6,16-6,46z /><path class=c22 d=M891,533l7-46-5,16-7,46z /><path class=c17 d=M885,556l6-23-5,16-6,23z /><path class=c16 d=M878,547l7,9-5,16-7-9z /><path class=c20 d=M871,516l7,31-5,16-7-31z /><path class=c25 d=M865,485l6,31-5,16-6-31z /><path class=c29 d=M858,476l7,9-5,16-7-9z /><path class=c28 d=M851,498l7-22-5,16-7,22z /><path class=c23 d=M845,543l6-45-5,16-6,45z /><path class=c16 d=M838,587l7-44-5,16-7,44z /><path class=c12 d=M832,609l6-22-5,16-7,22z /><path class=c11 d=M825,599l7,10-6,16-6-10z /><path class=c15 d=M818,567l7,32-5,16-7-32z /><path class=c20 d=M812,534l6,33-5,16-6-33z /><path class=c24 d=M805,524l7,10-5,16-7-10zM798,545l7-21-5,16-7,21z /><path class=c19 d=M792,588l6-43-5,16-6,43z /><path class=c12 d=M785,631l7-43-5,16-7,43z /><path class=c8 d=M778,652l7-21-5,16-7,21z /><path class=c7 d=M772,640l6,12-5,16-6-12z /><path class=c11 d=M765,607l7,33-5,16-7-33z /><path class=c17 d=M759,573l6,34-5,16-7-34z /><path class=c21 d=M752,561l7,12-6,16-6-12zM745,581l7-20-5,16-7,20z /><path class=c16 d=M739,623l6-42-5,16-7,42z /><path class=c10 d=M732,664l7-41-6,16-6,41z /><path class=c6 d=M725,683l7-19-5,16-7,19z /><path class=c5 d=M719,671l6,12-5,16-6-12z /><path class=c10 d=M712,636l7,35-5,16-7-35z /><path class=c15 d=M705,600l7,36-5,16-7-36z /><path class=c20 d=M699,587l6,13-5,16-6-13zM692,606l7-19-5,16-7,19z /><path class=c15 d=M685,646l7-40-5,16-7,40z /><path class=c9 d=M679,687l6-41-5,16-6,41z /><path class=c5 d=M672,704l7-17-5,16-7,17zM666,690l6,14-5,16-7-14z /><path class=c9 d=M659,654l7,36-6,16-6-36z /><path class=c16 d=M652,617l7,37-5,16-7-37z /><path class=c20 d=M646,603l6,14-5,16-6-14zM639,620l7-17-5,16-7,17z /><path class=c16 d=M632,659l7-39-5,16-7,39z /><path class=c10 d=M626,698l6-39-5,16-6,39z /><path class=c6 d=M619,715l7-17-5,16-7,17zM612,699l7,16-5,16-7-16z /><path class=c11 d=M606,661l6,38-5,16-6-38z /><path class=c17 d=M599,623l7,38-5,16-7-38z /><path class=c22 d=M593,608l6,15-5,16-7-15zM586,623l7-15-6,16-6,15z /><path class=c18 d=M579,661l7-38-5,16-7,38z /><path class=c12 d=M573,699l6-38-5,16-7,38z /><path class=c9 d=M566,714l7-15-6,16-6,15zM559,697l7,17-5,16-7-17z /><path class=c14 d=M553,658l6,39-5,16-6-39z /><path class=c20 d=M546,619l7,39-5,16-7-39z /><path class=c25 d=M539,601l7,18-5,16-7-18z /><path class=c26 d=M533,616l6-15-5,16-6,15z /><path class=c22 d=M526,652l7-36-5,16-7,36z /><path class=c16 d=M519,689l7-37-5,16-7,37z /><path class=c13 d=M513,702l6-13-5,16-6,13zM506,684l7,18-5,16-7-18z /><path class=c18 d=M500,644l6,40-5,16-7-40z /><path class=c25 d=M493,603l7,41-6,16-6-41z /><path class=c30 d=M486,585l7,18-5,16-7-18z /><path class=c31 d=M480,598l6-13-5,16-6,13z /><path class=c27 d=M473,633l7-35-5,16-7,35z /><path class=c22 d=M466,668l7-35-5,16-7,35z /><path class=c19 d=M460,680l6-12-5,16-6,12zM453,661l7,19-5,16-7-19z /><path class=c25 d=M446,619l7,42-5,16-7-42z /><path class=c31 d=M440,577l6,42-5,16-6-42z /><path class=c37 d=M433,557l7,20-5,16-7-20z /><path class=c38 d=M427,568l6-11-5,16-7,11z /><path class=c34 d=M420,602l7-34-6,16-6,34z /><path class=c29 d=M413,636l7-34-5,16-7,34z /><path class=c26 d=M407,647l6-11-5,16-7,11z /><path class=c28 d=M936,446l7,7-5,39-7-7z /><path class=c31 d=M930,416l6,30-5,39-6-30z /><path class=c37 d=M923,386l7,30-5,39-7-30z /><path class=c40 d=M916,379l7,7-5,39-7-8z /><path class=c39 d=M910,402l6-23-5,38-6,24z /><path class=c34 d=M903,448l7-46-5,39-7,46z /><path class=c27 d=M896,494l7-46-5,39-7,46z /><path class=c22 d=M890,517l6-23-5,39-6,23z /><path class=c21 d=M883,509l7,8-5,39-7-9z /><path class=c25 d=M876,478l7,31-5,38-7-31z /><path class=c30 d=M870,446l6,32-5,38-6-31z /><path class=c34 d=M863,437l7,9-5,39-7-9z /><path class=c33 d=M857,460l6-23-5,39-7,22z /><path class=c28 d=M850,504l7-44-6,38-6,45z /><path class=c21 d=M843,549l7-45-5,39-7,44z /><path class=c16 d=M837,571l6-22-5,38-6,22zM830,561l7,10-5,38-7-10z /><path class=c19 d=M823,528l7,33-5,38-7-32z /><path class=c25 d=M817,496l6,32-5,39-6-33z /><path class=c29 d=M810,485l7,11-5,38-7-10z /><path class=c28 d=M803,506l7-21-5,39-7,21z /><path class=c24 d=M797,550l6-44-5,39-6,43z /><path class=c17 d=M790,593l7-43-5,38-7,43z /><path class=c12 d=M784,613l6-20-5,38-7,21zM777,602l7,11-6,39-6-12z /><path class=c16 d=M770,568l7,34-5,38-7-33z /><path class=c22 d=M764,534l6,34-5,39-6-34z /><path class=c26 d=M757,522l7,12-5,39-7-12zM750,542l7-20-5,39-7,20z /><path class=c21 d=M744,584l6-42-5,39-6,42z /><path class=c15 d=M737,626l7-42-5,39-7,41z /><path class=c10 d=M730,645l7-19-5,38-7,19zM724,632l6,13-5,38-6-12z /><path class=c14 d=M717,597l7,35-5,39-7-35z /><path class=c20 d=M710,562l7,35-5,39-7-36z /><path class=c24 d=M704,549l6,13-5,38-6-13zM697,567l7-18-5,38-7,19z /><path class=c20 d=M691,608l6-41-5,39-7,40z /><path class=c14 d=M684,648l7-40-6,38-6,41z /><path class=c10 d=M677,666l7-18-5,39-7,17zM671,652l6,14-5,38-6-14z /><path class=c14 d=M664,615l7,37-5,38-7-36z /><path class=c20 d=M657,579l7,36-5,39-7-37z /><path class=c25 d=M651,564l6,15-5,38-6-14zM644,581l7-17-5,39-7,17z /><path class=c21 d=M637,620l7-39-5,39-7,39z /><path class=c15 d=M631,659l6-39-5,39-6,39z /><path class=c11 d=M624,676l7-17-5,39-7,17zM618,661l6,15-5,39-7-16z /><path class=c16 d=M611,623l7,38-6,38-6-38z /><path class=c22 d=M604,585l7,38-5,38-7-38z /><path class=c27 d=M598,569l6,16-5,38-6-15zM591,585l7-16-5,39-7,15z /><path class=c23 d=M584,622l7-37-5,38-7,38z /><path class=c17 d=M578,660l6-38-5,39-6,38z /><path class=c13 d=M571,675l7-15-5,39-7,15z /><path class=c14 d=M564,659l7,16-5,39-7-17z /><path class=c19 d=M558,619l6,40-5,38-6-39z /><path class=c25 d=M551,580l7,39-5,39-7-39z /><path class=c30 d=M544,563l7,17-5,39-7-18zM538,577l6-14-5,38-6,15z /><path class=c27 d=M531,614l7-37-5,39-7,36z /><path class=c21 d=M525,650l6-36-5,38-7,37z /><path class=c18 d=M518,664l7-14-6,39-6,13zM511,646l7,18-5,38-7-18z /><path class=c23 d=M505,605l6,41-5,38-6-40z /><path class=c30 d=M498,565l7,40-5,39-7-41z /><path class=c35 d=M491,546l7,19-5,38-7-18z /><path class=c36 d=M485,559l6-13-5,39-6,13z /><path class=c32 d=M478,594l7-35-5,39-7,35z /><path class=c27 d=M471,629l7-35-5,39-7,35z /><path class=c23 d=M465,642l6-13-5,39-6,12z /><path class=c24 d=M458,622l7,20-5,38-7-19z /><path class=c29 d=M452,580l6,42-5,39-7-42z /><path class=c36 d=M445,538l7,42-6,39-6-42z /><path class=c41 d=M438,518l7,20-5,39-7-20z /><path class=c42 d=M432,530l6-12-5,39-6,11z /><path class=c39 d=M425,564l7-34-5,38-7,34z /><path class=c34 d=M418,597l7-33-5,38-7,34z /><path class=c31 d=M412,608l6-11-5,39-6,11z /><path class=c35 d=M941,407l7,8-5,38-7-7z /><path class=c38 d=M935,378l6,29-5,39-6-30z /><path class=c43 d=M928,348l7,30-5,38-7-30z /><path class=c47 d=M921,340l7,8-5,38-7-7z /><path class=c46 d=M915,364l6-24-5,39-6,23z /><path class=c40 d=M908,410l7-46-5,38-7,46z /><path class=c34 d=M902,455l6-45-5,38-7,46z /><path class=c28 d=M895,479l7-24-6,39-6,23zM888,470l7,9-5,38-7-8z /><path class=c31 d=M882,439l6,31-5,39-7-31z /><path class=c37 d=M875,408l7,31-6,39-6-32z /><path class=c40 d=M868,399l7,9-5,38-7-9z /><path class=c39 d=M862,421l6-22-5,38-6,23z /><path class=c34 d=M855,466l7-45-5,39-7,44z /><path class=c28 d=M848,510l7-44-5,38-7,45z /><path class=c23 d=M842,532l6-22-5,39-6,22z /><path class=c22 d=M835,522l7,10-5,39-7-10z /><path class=c26 d=M828,490l7,32-5,39-7-33z /><path class=c32 d=M822,457l6,33-5,38-6-32z /><path class=c35 d=M815,447l7,10-5,39-7-11zM809,468l6-21-5,38-7,21z /><path class=c30 d=M802,511l7-43-6,38-6,44z /><path class=c24 d=M795,554l7-43-5,39-7,43z /><path class=c19 d=M789,575l6-21-5,39-6,20zM782,563l7,12-5,38-7-11z /><path class=c23 d=M775,529l7,34-5,39-7-34z /><path class=c28 d=M769,495l6,34-5,39-6-34z /><path class=c32 d=M762,484l7,11-5,39-7-12zM755,503l7-19-5,38-7,20z /><path class=c28 d=M749,545l6-42-5,39-6,42z /><path class=c21 d=M742,587l7-42-5,39-7,42z /><path class=c17 d=M736,606l6-19-5,39-7,19zM729,594l7,12-6,39-6-13z /><path class=c21 d=M722,558l7,36-5,38-7-35z /><path class=c27 d=M716,523l6,35-5,39-7-35z /><path class=c31 d=M709,510l7,13-6,39-6-13zM702,528l7-18-5,39-7,18z /><path class=c27 d=M696,569l6-41-5,39-6,41z /><path class=c21 d=M689,609l7-40-5,39-7,40z /><path class=c16 d=M682,627l7-18-5,39-7,18zM676,613l6,14-5,39-6-14z /><path class=c21 d=M669,577l7,36-5,39-7-37z /><path class=c27 d=M662,540l7,37-5,38-7-36z /><path class=c31 d=M656,526l6,14-5,39-6-15zM649,543l7-17-5,38-7,17z /><path class=c27 d=M643,582l6-39-5,38-7,39z /><path class=c21 d=M636,621l7-39-6,38-6,39z /><path class=c17 d=M629,637l7-16-5,38-7,17z /><path class=c18 d=M623,622l6,15-5,39-6-15z /><path class=c22 d=M616,584l7,38-5,39-7-38z /><path class=c28 d=M609,546l7,38-5,39-7-38z /><path class=c33 d=M603,530l6,16-5,39-6-16zM596,546l7-16-5,39-7,16z /><path class=c29 d=M589,584l7-38-5,39-7,37z /><path class=c24 d=M583,621l6-37-5,38-6,38z /><path class=c20 d=M576,637l7-16-5,39-7,15zM570,620l6,17-5,38-7-16z /><path class=c25 d=M563,581l7,39-6,39-6-40z /><path class=c32 d=M556,541l7,40-5,38-7-39z /><path class=c36 d=M550,524l6,17-5,39-7-17z /><path class=c37 d=M543,539l7-15-6,39-6,14z /><path class=c33 d=M536,575l7-36-5,38-7,37z /><path class=c28 d=M530,611l6-36-5,39-6,36z /><path class=c24 d=M523,625l7-14-5,39-7,14z /><path class=c25 d=M516,607l7,18-5,39-7-18z /><path class=c30 d=M510,567l6,40-5,39-6-41z /><path class=c36 d=M503,526l7,41-5,38-7-40z /><path class=c41 d=M496,507l7,19-5,39-7-19z /><path class=c42 d=M490,520l6-13-5,39-6,13z /><path class=c39 d=M483,555l7-35-5,39-7,35z /><path class=c33 d=M477,590l6-35-5,39-7,35z /><path class=c30 d=M470,603l7-13-6,39-6,13z /><path class=c31 d=M463,583l7,20-5,39-7-20z /><path class=c36 d=M457,542l6,41-5,39-6-42z /><path class=c43 d=M450,500l7,42-5,38-7-42z /><path class=c48 d=M443,480l7,20-5,38-7-20z /><path class=c49 d=M437,491l6-11-5,38-6,12z /><path class=c46 d=M430,525l7-34-5,39-7,34z /><path class=c41 d=M423,559l7-34-5,39-7,33z /><path class=c37 d=M417,570l6-11-5,38-6,11z /><path class=c39 d=M946,391l7,7-5,17-7-8z /><path class=c43 d=M940,361l6,30-5,16-6-29z /><path class=c48 d=M933,331l7,30-5,17-7-30z /><path class=c51 d=M927,323l6,8-5,17-7-8z /><path class=c50 d=M920,347l7-24-6,17-6,24z /><path class=c45 d=M913,393l7-46-5,17-7,46z /><path class=c38 d=M907,439l6-46-5,17-6,45z /><path class=c33 d=M900,462l7-23-5,16-7,24z /><path class=c32 d=M893,454l7,8-5,17-7-9z /><path class=c36 d=M887,423l6,31-5,16-6-31z /><path class=c41 d=M880,391l7,32-5,16-7-31z /><path class=c45 d=M873,382l7,9-5,17-7-9z /><path class=c44 d=M867,405l6-23-5,17-6,22z /><path class=c39 d=M860,449l7-44-5,16-7,45z /><path class=c33 d=M854,494l6-45-5,17-7,44z /><path class=c28 d=M847,515l7-21-6,16-6,22z /><path class=c27 d=M840,506l7,9-5,17-7-10z /><path class=c31 d=M834,473l6,33-5,16-7-32z /><path class=c36 d=M827,441l7,32-6,17-6-33z /><path class=c40 d=M820,430l7,11-5,16-7-10zM814,451l6-21-5,17-6,21z /><path class=c35 d=M807,494l7-43-5,17-7,43z /><path class=c29 d=M800,537l7-43-5,17-7,43z /><path class=c24 d=M794,558l6-21-5,17-6,21zM787,547l7,11-5,17-7-12z /><path class=c27 d=M780,513l7,34-5,16-7-34z /><path class=c33 d=M774,479l6,34-5,16-6-34z /><path class=c37 d=M767,467l7,12-5,16-7-11zM761,487l6-20-5,17-7,19z /><path class=c32 d=M754,529l7-42-6,16-6,42z /><path class=c26 d=M747,571l7-42-5,16-7,42z /><path class=c22 d=M741,590l6-19-5,16-6,19zM734,577l7,13-5,16-7-12z /><path class=c26 d=M727,542l7,35-5,17-7-36z /><path class=c32 d=M721,507l6,35-5,16-6-35z /><path class=c36 d=M714,494l7,13-5,16-7-13zM707,512l7-18-5,16-7,18z /><path class=c32 d=M701,552l6-40-5,16-6,41z /><path class=c25 d=M694,593l7-41-5,17-7,40z /><path class=c21 d=M688,611l6-18-5,16-7,18zM681,597l7,14-6,16-6-14z /><path class=c26 d=M674,560l7,37-5,16-7-36z /><path class=c32 d=M668,524l6,36-5,17-7-37z /><path class=c36 d=M661,509l7,15-6,16-6-14zM654,526l7-17-5,17-7,17z /><path class=c32 d=M648,565l6-39-5,17-6,39z /><path class=c26 d=M641,604l7-39-5,17-7,39z /><path class=c22 d=M634,621l7-17-5,17-7,16zM628,605l6,16-5,16-6-15z /><path class=c27 d=M621,568l7,37-5,17-7-38z /><path class=c33 d=M614,530l7,38-5,16-7-38z /><path class=c38 d=M608,514l6,16-5,16-6-16zM601,529l7-15-5,16-7,16z /><path class=c34 d=M595,567l6-38-5,17-7,38z /><path class=c29 d=M588,605l7-38-6,17-6,37z /><path class=c25 d=M581,620l7-15-5,16-7,16zM575,603l6,17-5,17-6-17z /><path class=c30 d=M568,564l7,39-5,17-7-39z /><path class=c37 d=M561,525l7,39-5,17-7-40z /><path class=c41 d=M555,508l6,17-5,16-6-17z /><path class=c42 d=M548,522l7-14-5,16-7,15z /><path class=c38 d=M541,558l7-36-5,17-7,36z /><path class=c33 d=M535,595l6-37-5,17-6,36z /><path class=c29 d=M528,609l7-14-5,16-7,14z /><path class=c30 d=M522,591l6,18-5,16-7-18z /><path class=c35 d=M515,550l7,41-6,16-6-40z /><path class=c41 d=M508,509l7,41-5,17-7-41z /><path class=c46 d=M502,491l6,18-5,17-7-19z /><path class=c47 d=M495,504l7-13-6,16-6,13z /><path class=c44 d=M488,539l7-35-5,16-7,35z /><path class=c38 d=M482,574l6-35-5,16-6,35z /><path class=c35 d=M475,586l7-12-5,16-7,13z /><path class=c36 d=M468,567l7,19-5,17-7-20z /><path class=c41 d=M462,525l6,42-5,16-6-41z /><path class=c48 d=M455,483l7,42-5,17-7-42z /><path class=c53 d=M448,463l7,20-5,17-7-20z /><path class=c54 d=M442,475l6-12-5,17-6,11z /><path class=c50 d=M435,509l7-34-5,16-7,34z /><path class=c45 d=M429,542l6-33-5,16-7,34z /><path class=c42 d=M422,553l7-11-6,17-6,11z /><path class=c40 d=M952,406l6,7-5-15-7-7z /><path class=c43 d=M945,376l7,30-6-15-6-30z /><path class=c48 d=M938,346l7,30-5-15-7-30z /><path class=c52 d=M932,338l6,8-5-15-6-8z /><path class=c51 d=M925,362l7-24-5-15-7,24z /><path class=c46 d=M918,408l7-46-5-15-7,46z /><path class=c39 d=M912,454l6-46-5-15-6,46z /><path class=c34 d=M905,477l7-23-5-15-7,23z /><path class=c33 d=M898,469l7,8-5-15-7-8z /><path class=c36 d=M892,437l6,32-5-15-6-31z /><path class=c42 d=M885,406l7,31-5-14-7-32z /><path class=c45 d=M879,397l6,9-5-15-7-9zM872,420l7-23-6-15-6,23z /><path class=c40 d=M865,464l7-44-5-15-7,44z /><path class=c33 d=M859,509l6-45-5-15-6,45z /><path class=c28 d=M852,530l7-21-5-15-7,21zM845,521l7,9-5-15-7-9z /><path class=c31 d=M839,488l6,33-5-15-6-33z /><path class=c37 d=M832,455l7,33-5-15-7-32z /><path class=c41 d=M825,445l7,10-5-14-7-11z /><path class=c40 d=M819,466l6-21-5-15-6,21z /><path class=c36 d=M812,509l7-43-5-15-7,43z /><path class=c29 d=M805,552l7-43-5-15-7,43z /><path class=c24 d=M799,573l6-21-5-15-6,21zM792,562l7,11-5-15-7-11z /><path class=c28 d=M786,528l6,34-5-15-7-34z /><path class=c34 d=M779,494l7,34-6-15-6-34z /><path class=c38 d=M772,482l7,12-5-15-7-12zM766,502l6-20-5-15-6,20z /><path class=c33 d=M759,544l7-42-5-15-7,42z /><path class=c27 d=M752,585l7-41-5-15-7,42z /><path class=c22 d=M746,605l6-20-5-14-6,19zM739,592l7,13-5-15-7-13z /><path class=c26 d=M732,557l7,35-5-15-7-35z /><path class=c32 d=M726,522l6,35-5-15-6-35z /><path class=c36 d=M719,508l7,14-5-15-7-13zM713,527l6-19-5-14-7,18z /><path class=c32 d=M706,567l7-40-6-15-6,40z /><path class=c26 d=M699,608l7-41-5-15-7,41z /><path class=c22 d=M693,626l6-18-5-15-6,18zM686,612l7,14-5-15-7-14z /><path class=c26 d=M679,575l7,37-5-15-7-37z /><path class=c32 d=M673,538l6,37-5-15-6-36z /><path class=c37 d=M666,524l7,14-5-14-7-15zM659,541l7-17-5-15-7,17z /><path class=c33 d=M653,580l6-39-5-15-6,39z /><path class=c27 d=M646,619l7-39-5-15-7,39z /><path class=c23 d=M639,636l7-17-5-15-7,17zM633,620l6,16-5-15-6-16z /><path class=c27 d=M626,583l7,37-5-15-7-37z /><path class=c34 d=M620,545l6,38-5-15-7-38z /><path class=c38 d=M613,529l7,16-6-15-6-16z /><path class=c39 d=M606,544l7-15-5-15-7,15z /><path class=c35 d=M600,582l6-38-5-15-6,38z /><path class=c29 d=M593,620l7-38-5-15-7,38z /><path class=c25 d=M586,635l7-15-5-15-7,15z /><path class=c26 d=M580,618l6,17-5-15-6-17z /><path class=c30 d=M573,579l7,39-5-15-7-39z /><path class=c37 d=M566,540l7,39-5-15-7-39z /><path class=c42 d=M560,523l6,17-5-15-6-17zM553,537l7-14-5-15-7,14z /><path class=c39 d=M547,573l6-36-5-15-7,36z /><path class=c33 d=M540,610l7-37-6-15-6,37z /><path class=c29 d=M533,624l7-14-5-15-7,14z /><path class=c30 d=M527,606l6,18-5-15-6-18z /><path class=c35 d=M520,565l7,41-5-15-7-41z /><path class=c42 d=M513,524l7,41-5-15-7-41z /><path class=c47 d=M507,506l6,18-5-15-6-18z /><path class=c48 d=M500,519l7-13-5-15-7,13z /><path class=c44 d=M493,554l7-35-5-15-7,35z /><path class=c39 d=M487,589l6-35-5-15-6,35z /><path class=c35 d=M480,601l7-12-5-15-7,12z /><path class=c36 d=M473,582l7,19-5-15-7-19z /><path class=c41 d=M467,540l6,42-5-15-6-42z /><path class=c48 d=M460,498l7,42-5-15-7-42z /><path class=c53 d=M454,478l6,20-5-15-7-20z /><path class=c54 d=M447,490l7-12-6-15-6,12z /><path class=c51 d=M440,523l7-33-5-15-7,34z /><path class=c46 d=M434,557l6-34-5-14-6,33z /><path class=c43 d=M427,568l7-11-5-15-7,11z /><path class=c36 d=M957,443l6,7-5-37-6-7z /><path class=c39 d=M950,413l7,30-5-37-7-30z /><path class=c45 d=M943,383l7,30-5-37-7-30z /><path class=c48 d=M937,376l6,7-5-37-6-8z /><path class=c47 d=M930,399l7-23-5-38-7,24z /><path class=c42 d=M923,445l7-46-5-37-7,46z /><path class=c35 d=M917,491l6-46-5-37-6,46z /><path class=c30 d=M910,514l7-23-5-37-7,23z /><path class=c29 d=M904,506l6,8-5-37-7-8z /><path class=c33 d=M897,475l7,31-6-37-6-32z /><path class=c38 d=M890,443l7,32-5-38-7-31z /><path class=c42 d=M884,434l6,9-5-37-6-9z /><path class=c41 d=M877,457l7-23-5-37-7,23z /><path class=c36 d=M870,501l7-44-5-37-7,44z /><path class=c29 d=M864,546l6-45-5-37-6,45z /><path class=c24 d=M857,568l7-22-5-37-7,21zM850,558l7,10-5-38-7-9z /><path class=c28 d=M844,525l6,33-5-37-6-33z /><path class=c33 d=M837,493l7,32-5-37-7-33z /><path class=c37 d=M831,482l6,11-5-38-7-10zM824,503l7-21-6-37-6,21z /><path class=c32 d=M817,547l7-44-5-37-7,43z /><path class=c25 d=M811,590l6-43-5-38-7,43z /><path class=c21 d=M804,610l7-20-6-38-6,21z /><path class=c20 d=M797,599l7,11-5-37-7-11z /><path class=c24 d=M791,565l6,34-5-37-6-34z /><path class=c30 d=M784,531l7,34-5-37-7-34z /><path class=c34 d=M777,519l7,12-5-37-7-12zM771,539l6-20-5-37-6,20z /><path class=c29 d=M764,581l7-42-5-37-7,42z /><path class=c23 d=M757,623l7-42-5-37-7,41z /><path class=c19 d=M751,642l6-19-5-38-6,20z /><path class=c18 d=M744,629l7,13-5-37-7-13z /><path class=c23 d=M738,594l6,35-5-37-7-35z /><path class=c29 d=M731,559l7,35-6-37-6-35z /><path class=c33 d=M724,546l7,13-5-37-7-14zM718,564l6-18-5-38-6,19z /><path class=c28 d=M711,605l7-41-5-37-7,40z /><path class=c22 d=M704,645l7-40-5-38-7,41z /><path class=c18 d=M698,663l6-18-5-37-6,18zM691,649l7,14-5-37-7-14z /><path class=c22 d=M684,612l7,37-5-37-7-37z /><path class=c29 d=M678,576l6,36-5-37-6-37z /><path class=c33 d=M671,561l7,15-5-38-7-14zM665,578l6-17-5-37-7,17z /><path class=c29 d=M658,617l7-39-6-37-6,39z /><path class=c23 d=M651,656l7-39-5-37-7,39z /><path class=c19 d=M645,673l6-17-5-37-7,17zM638,658l7,15-6-37-6-16z /><path class=c24 d=M631,620l7,38-5-38-7-37z /><path class=c30 d=M625,582l6,38-5-37-6-38z /><path class=c35 d=M618,566l7,16-5-37-7-16zM611,582l7-16-5-37-7,15z /><path class=c31 d=M605,619l6-37-5-38-6,38z /><path class=c25 d=M598,657l7-38-5-37-7,38z /><path class=c22 d=M591,672l7-15-5-37-7,15zM585,656l6,16-5-37-6-17z /><path class=c27 d=M578,616l7,40-5-38-7-39z /><path class=c33 d=M572,577l6,39-5-37-7-39z /><path class=c38 d=M565,560l7,17-6-37-6-17z /><path class=c39 d=M558,574l7-14-5-37-7,14z /><path class=c35 d=M552,611l6-37-5-37-6,36z /><path class=c29 d=M545,647l7-36-5-38-7,37z /><path class=c26 d=M538,661l7-14-5-37-7,14zM532,643l6,18-5-37-6-18z /><path class=c31 d=M525,602l7,41-5-37-7-41z /><path class=c38 d=M518,561l7,41-5-37-7-41z /><path class=c43 d=M512,543l6,18-5-37-6-18z /><path class=c44 d=M505,556l7-13-5-37-7,13z /><path class=c40 d=M499,591l6-35-5-37-7,35z /><path class=c35 d=M492,626l7-35-6-37-6,35z /><path class=c32 d=M485,638l7-12-5-37-7,12zM479,619l6,19-5-37-7-19z /><path class=c38 d=M472,577l7,42-6-37-6-42z /><path class=c44 d=M465,535l7,42-5-37-7-42z /><path class=c50 d=M459,515l6,20-5-37-6-20z /><path class=c51 d=M452,527l7-12-5-37-7,12z /><path class=c47 d=M445,561l7-34-5-37-7,33z /><path class=c42 d=M439,594l6-33-5-38-6,34z /><path class=c39 d=M432,605l7-11-5-37-7,11z /><path class=c31 d=M962,480l6,7-5-37-6-7z /><path class=c34 d=M955,450l7,30-5-37-7-30z /><path class=c39 d=M948,420l7,30-5-37-7-30z /><path class=c42 d=M942,413l6,7-5-37-6-7zM935,436l7-23-5-37-7,23z /><path class=c36 d=M929,482l6-46-5-37-7,46z /><path class=c30 d=M922,528l7-46-6-37-6,46z /><path class=c24 d=M915,551l7-23-5-37-7,23zM909,543l6,8-5-37-6-8z /><path class=c27 d=M902,512l7,31-5-37-7-31z /><path class=c33 d=M895,480l7,32-5-37-7-32z /><path class=c36 d=M889,471l6,9-5-37-6-9z /><path class=c35 d=M882,494l7-23-5-37-7,23z /><path class=c31 d=M875,538l7-44-5-37-7,44z /><path class=c24 d=M869,583l6-45-5-37-6,45z /><path class=c19 d=M862,605l7-22-5-37-7,22z /><path class=c18 d=M856,595l6,10-5-37-7-10z /><path class=c22 d=M849,562l7,33-6-37-6-33z /><path class=c28 d=M842,530l7,32-5-37-7-32z /><path class=c32 d=M836,519l6,11-5-37-6-11z /><path class=c31 d=M829,540l7-21-5-37-7,21z /><path class=c26 d=M822,583l7-43-5-37-7,44z /><path class=c20 d=M816,627l6-44-5-36-6,43z /><path class=c15 d=M809,647l7-20-5-37-7,20zM802,636l7,11-5-37-7-11z /><path class=c19 d=M796,602l6,34-5-37-6-34z /><path class=c25 d=M789,568l7,34-5-37-7-34z /><path class=c29 d=M782,556l7,12-5-37-7-12z /><path class=c28 d=M776,576l6-20-5-37-6,20z /><path class=c24 d=M769,618l7-42-5-37-7,42z /><path class=c18 d=M763,660l6-42-5-37-7,42z /><path class=c13 d=M756,679l7-19-6-37-6,19zM749,666l7,13-5-37-7-13z /><path class=c17 d=M743,631l6,35-5-37-6-35z /><path class=c23 d=M736,596l7,35-5-37-7-35z /><path class=c27 d=M729,583l7,13-5-37-7-13zM723,601l6-18-5-37-6,18z /><path class=c23 d=M716,642l7-41-5-37-7,41z /><path class=c17 d=M709,682l7-40-5-37-7,40z /><path class=c12 d=M703,700l6-18-5-37-6,18zM696,686l7,14-5-37-7-14z /><path class=c17 d=M690,649l6,37-5-37-7-37z /><path class=c23 d=M683,613l7,36-6-37-6-36z /><path class=c27 d=M676,598l7,15-5-37-7-15z /><path class=c28 d=M670,615l6-17-5-37-6,17z /><path class=c23 d=M663,654l7-39-5-37-7,39z /><path class=c18 d=M656,693l7-39-5-37-7,39z /><path class=c13 d=M650,710l6-17-5-37-6,17z /><path class=c14 d=M643,695l7,15-5-37-7-15z /><path class=c18 d=M636,657l7,38-5-37-7-38z /><path class=c25 d=M630,619l6,38-5-37-6-38z /><path class=c29 d=M623,603l7,16-5-37-7-16z /><path class=c30 d=M616,619l7-16-5-37-7,16z /><path class=c26 d=M610,656l6-37-5-37-6,37z /><path class=c20 d=M603,694l7-38-5-37-7,38z /><path class=c16 d=M597,709l6-15-5-37-7,15zM590,693l7,16-6-37-6-16z /><path class=c21 d=M583,653l7,40-5-37-7-40z /><path class=c28 d=M577,614l6,39-5-37-6-39z /><path class=c33 d=M570,597l7,17-5-37-7-17zM563,611l7-14-5-37-7,14z /><path class=c29 d=M557,648l6-37-5-37-6,37z /><path class=c24 d=M550,684l7-36-5-37-7,36z /><path class=c20 d=M543,698l7-14-5-37-7,14z /><path class=c21 d=M537,680l6,18-5-37-6-18z /><path class=c26 d=M530,639l7,41-5-37-7-41z /><path class=c33 d=M524,598l6,41-5-37-7-41z /><path class=c38 d=M517,580l7,18-6-37-6-18zM510,593l7-13-5-37-7,13z /><path class=c35 d=M504,628l6-35-5-37-6,35z /><path class=c30 d=M497,663l7-35-5-37-7,35z /><path class=c26 d=M490,675l7-12-5-37-7,12z /><path class=c27 d=M484,656l6,19-5-37-6-19z /><path class=c32 d=M477,614l7,42-5-37-7-42z /><path class=c39 d=M470,572l7,42-5-37-7-42z /><path class=c44 d=M464,552l6,20-5-37-6-20z /><path class=c45 d=M457,564l7-12-5-37-7,12z /><path class=c42 d=M450,598l7-34-5-37-7,34z /><path class=c37 d=M444,631l6-33-5-37-6,33z /><path class=c33 d=M437,642l7-11-5-37-7,11z /><path class=c27 d=M967,494l7,8-6-15-6-7z /><path class=c30 d=M960,465l7,29-5-14-7-30z /><path class=c35 d=M954,435l6,30-5-15-7-30z /><path class=c39 d=M947,427l7,8-6-15-6-7z /><path class=c38 d=M940,451l7-24-5-14-7,23z /><path class=c33 d=M934,497l6-46-5-15-6,46z /><path class=c26 d=M927,542l7-45-5-15-7,46z /><path class=c21 d=M920,566l7-24-5-14-7,23z /><path class=c20 d=M914,557l6,9-5-15-6-8z /><path class=c23 d=M907,526l7,31-5-14-7-31z /><path class=c29 d=M900,495l7,31-5-14-7-32z /><path class=c32 d=M894,486l6,9-5-15-6-9zM887,508l7-22-5-15-7,23z /><path class=c27 d=M881,553l6-45-5-14-7,44z /><path class=c20 d=M874,597l7-44-6-15-6,45z /><path class=c15 d=M867,619l7-22-5-14-7,22zM861,609l6,10-5-14-6-10z /><path class=c18 d=M854,577l7,32-5-14-7-33z /><path class=c24 d=M847,544l7,33-5-15-7-32z /><path class=c28 d=M841,534l6,10-5-14-6-11z /><path class=c27 d=M834,555l7-21-5-15-7,21z /><path class=c23 d=M827,598l7-43-5-15-7,43z /><path class=c16 d=M821,641l6-43-5-15-6,44z /><path class=c12 d=M814,662l7-21-5-14-7,20z /><path class=c11 d=M808,650l6,12-5-15-7-11z /><path class=c15 d=M801,617l7,33-6-14-6-34z /><path class=c21 d=M794,583l7,34-5-15-7-34z /><path class=c25 d=M788,571l6,12-5-15-7-12zM781,590l7-19-6-15-6,20z /><path class=c20 d=M774,632l7-42-5-14-7,42z /><path class=c14 d=M768,674l6-42-5-14-6,42z /><path class=c9 d=M761,693l7-19-5-14-7,19zM754,681l7,12-5-14-7-13z /><path class=c13 d=M748,646l6,35-5-15-6-35z /><path class=c19 d=M741,610l7,36-5-15-7-35z /><path class=c24 d=M734,597l7,13-5-14-7-13z /><path class=c23 d=M728,615l6-18-5-14-6,18z /><path class=c19 d=M721,656l7-41-5-14-7,41z /><path class=c13 d=M715,696l6-40-5-14-7,40z /><path class=c9 d=M708,714l7-18-6-14-6,18zM701,700l7,14-5-14-7-14z /><path class=c13 d=M695,664l6,36-5-14-6-37z /><path class=c19 d=M688,627l7,37-5-15-7-36z /><path class=c24 d=M681,613l7,14-5-14-7-15zM675,630l6-17-5-15-6,17z /><path class=c20 d=M668,669l7-39-5-15-7,39z /><path class=c14 d=M661,708l7-39-5-15-7,39z /><path class=c10 d=M655,724l6-16-5-15-6,17zM648,709l7,15-5-14-7-15z /><path class=c15 d=M642,671l6,38-5-14-7-38z /><path class=c21 d=M635,633l7,38-6-14-6-38z /><path class=c26 d=M628,617l7,16-5-14-7-16zM622,633l6-16-5-14-7,16z /><path class=c22 d=M615,671l7-38-6-14-6,37z /><path class=c16 d=M608,708l7-37-5-15-7,38z /><path class=c12 d=M602,724l6-16-5-14-6,15z /><path class=c13 d=M595,707l7,17-5-15-7-16z /><path class=c18 d=M588,668l7,39-5-14-7-40z /><path class=c24 d=M582,628l6,40-5-15-6-39z /><path class=c29 d=M575,611l7,17-5-14-7-17z /><path class=c30 d=M568,626l7-15-5-14-7,14z /><path class=c26 d=M562,662l6-36-5-15-6,37z /><path class=c20 d=M555,698l7-36-5-14-7,36z /><path class=c17 d=M549,712l6-14-5-14-7,14zM542,694l7,18-6-14-6-18z /><path class=c22 d=M535,654l7,40-5-14-7-41z /><path class=c29 d=M529,613l6,41-5-15-6-41z /><path class=c34 d=M522,594l7,19-5-15-7-18z /><path class=c35 d=M515,607l7-13-5-14-7,13z /><path class=c31 d=M509,642l6-35-5-14-6,35z /><path class=c26 d=M502,677l7-35-5-14-7,35z /><path class=c22 d=M495,690l7-13-5-14-7,12z /><path class=c23 d=M489,671l6,19-5-15-6-19z /><path class=c28 d=M482,629l7,42-5-15-7-42z /><path class=c35 d=M476,587l6,42-5-15-7-42z /><path class=c41 d=M469,567l7,20-6-15-6-20zM462,578l7-11-5-15-7,12z /><path class=c38 d=M456,612l6-34-5-14-7,34z /><path class=c33 d=M449,646l7-34-6-14-6,33z /><path class=c30 d=M442,657l7-11-5-15-7,11z /><path class=c27 d=M972,477l7,7-5,18-7-8z /><path class=c31 d=M965,447l7,30-5,17-7-29z /><path class=c36 d=M959,417l6,30-5,18-6-30z /><path class=c39 d=M952,410l7,7-5,18-7-8zM945,433l7-23-5,17-7,24z /><path class=c33 d=M939,479l6-46-5,18-6,46z /><path class=c26 d=M932,525l7-46-5,18-7,45z /><path class=c21 d=M926,548l6-23-5,17-7,24zM919,540l7,8-6,18-6-9z /><path class=c24 d=M912,509l7,31-5,17-7-31z /><path class=c29 d=M906,477l6,32-5,17-7-31z /><path class=c33 d=M899,468l7,9-6,18-6-9z /><path class=c32 d=M892,491l7-23-5,18-7,22z /><path class=c28 d=M886,535l6-44-5,17-6,45z /><path class=c21 d=M879,580l7-45-5,18-7,44z /><path class=c16 d=M872,602l7-22-5,17-7,22z /><path class=c15 d=M866,592l6,10-5,17-6-10z /><path class=c19 d=M859,559l7,33-5,17-7-32z /><path class=c25 d=M852,527l7,32-5,18-7-33z /><path class=c29 d=M846,516l6,11-5,17-6-10z /><path class=c28 d=M839,537l7-21-5,18-7,21z /><path class=c23 d=M833,581l6-44-5,18-7,43z /><path class=c17 d=M826,624l7-43-6,17-6,43z /><path class=c12 d=M819,644l7-20-5,17-7,21zM813,633l6,11-5,18-6-12z /><path class=c16 d=M806,599l7,34-5,17-7-33z /><path class=c22 d=M799,565l7,34-5,18-7-34z /><path class=c26 d=M793,553l6,12-5,18-6-12z /><path class=c25 d=M786,573l7-20-5,18-7,19z /><path class=c21 d=M779,615l7-42-5,17-7,42z /><path class=c14 d=M773,657l6-42-5,17-6,42z /><path class=c10 d=M766,676l7-19-5,17-7,19zM760,663l6,13-5,17-7-12z /><path class=c14 d=M753,628l7,35-6,18-6-35z /><path class=c20 d=M746,593l7,35-5,18-7-36z /><path class=c24 d=M740,580l6,13-5,17-7-13zM733,598l7-18-6,17-6,18z /><path class=c20 d=M726,639l7-41-5,17-7,41z /><path class=c14 d=M720,679l6-40-5,17-6,40z /><path class=c9 d=M713,697l7-18-5,17-7,18zM706,683l7,14-5,17-7-14z /><path class=c14 d=M700,646l6,37-5,17-6-36z /><path class=c20 d=M693,610l7,36-5,18-7-37z /><path class=c24 d=M686,595l7,15-5,17-7-14z /><path class=c25 d=M680,612l6-17-5,18-6,17z /><path class=c20 d=M673,651l7-39-5,18-7,39z /><path class=c15 d=M667,690l6-39-5,18-7,39z /><path class=c10 d=M660,707l7-17-6,18-6,16z /><path class=c11 d=M653,692l7,15-5,17-7-15z /><path class=c15 d=M647,654l6,38-5,17-6-38z /><path class=c22 d=M640,616l7,38-5,17-7-38z /><path class=c26 d=M633,600l7,16-5,17-7-16z /><path class=c27 d=M627,616l6-16-5,17-6,16z /><path class=c23 d=M620,653l7-37-5,17-7,38z /><path class=c17 d=M613,691l7-38-5,18-7,37z /><path class=c13 d=M607,706l6-15-5,17-6,16zM600,690l7,16-5,18-7-17z /><path class=c18 d=M594,650l6,40-5,17-7-39z /><path class=c25 d=M587,611l7,39-6,18-6-40z /><path class=c30 d=M580,594l7,17-5,17-7-17zM574,608l6-14-5,17-7,15z /><path class=c26 d=M567,645l7-37-6,18-6,36z /><path class=c21 d=M560,681l7-36-5,17-7,36z /><path class=c17 d=M554,695l6-14-5,17-6,14z /><path class=c18 d=M547,677l7,18-5,17-7-18z /><path class=c23 d=M540,636l7,41-5,17-7-40z /><path class=c30 d=M534,596l6,40-5,18-6-41z /><path class=c35 d=M527,577l7,19-5,17-7-19zM520,590l7-13-5,17-7,13z /><path class=c32 d=M514,625l6-35-5,17-6,35z /><path class=c26 d=M507,660l7-35-5,17-7,35z /><path class=c23 d=M501,673l6-13-5,17-7,13z /><path class=c24 d=M494,653l7,20-6,17-6-19z /><path class=c29 d=M487,611l7,42-5,18-7-42z /><path class=c36 d=M481,569l6,42-5,18-6-42z /><path class=c41 d=M474,549l7,20-5,18-7-20z /><path class=c42 d=M467,561l7-12-5,18-7,11z /><path class=c39 d=M461,595l6-34-5,17-6,34z /><path class=c34 d=M454,628l7-33-5,17-7,34z /><path class=c30 d=M447,639l7-11-5,18-7,11z /><path class=c32 d=M977,437l7,7-5,40-7-7z /><path class=c36 d=M970,407l7,30-5,40-7-30z /><path class=c41 d=M964,377l6,30-5,40-6-30z /><path class=c44 d=M957,370l7,7-5,40-7-7z /><path class=c43 d=M951,394l6-24-5,40-7,23z /><path class=c38 d=M944,439l7-45-6,39-6,46z /><path class=c31 d=M937,485l7-46-5,40-7,46z /><path class=c26 d=M931,508l6-23-5,40-6,23z /><path class=c25 d=M924,500l7,8-5,40-7-8z /><path class=c29 d=M917,469l7,31-5,40-7-31z /><path class=c34 d=M911,438l6,31-5,40-6-32z /><path class=c38 d=M904,428l7,10-5,39-7-9z /><path class=c37 d=M897,451l7-23-5,40-7,23z /><path class=c32 d=M891,495l6-44-5,40-6,44z /><path class=c26 d=M884,540l7-45-5,40-7,45z /><path class=c21 d=M877,562l7-22-5,40-7,22z /><path class=c20 d=M871,552l6,10-5,40-6-10z /><path class=c24 d=M864,519l7,33-5,40-7-33z /><path class=c30 d=M858,487l6,32-5,40-7-32z /><path class=c34 d=M851,476l7,11-6,40-6-11z /><path class=c33 d=M844,497l7-21-5,40-7,21z /><path class=c28 d=M838,541l6-44-5,40-6,44z /><path class=c22 d=M831,584l7-43-5,40-7,43z /><path class=c17 d=M824,604l7-20-5,40-7,20zM818,593l6,11-5,40-6-11z /><path class=c21 d=M811,559l7,34-5,40-7-34z /><path class=c27 d=M804,525l7,34-5,40-7-34z /><path class=c31 d=M798,514l6,11-5,40-6-12z /><path class=c30 d=M791,533l7-19-5,39-7,20z /><path class=c26 d=M785,575l6-42-5,40-7,42z /><path class=c19 d=M778,617l7-42-6,40-6,42z /><path class=c15 d=M771,636l7-19-5,40-7,19zM765,623l6,13-5,40-6-13z /><path class=c19 d=M758,588l7,35-5,40-7-35z /><path class=c25 d=M751,553l7,35-5,40-7-35z /><path class=c29 d=M745,540l6,13-5,40-6-13zM738,558l7-18-5,40-7,18z /><path class=c25 d=M731,599l7-41-5,40-7,41z /><path class=c19 d=M725,639l6-40-5,40-6,40z /><path class=c14 d=M718,657l7-18-5,40-7,18zM711,643l7,14-5,40-7-14z /><path class=c19 d=M705,607l6,36-5,40-6-37z /><path class=c25 d=M698,570l7,37-5,39-7-36z /><path class=c29 d=M692,555l6,15-5,40-7-15z /><path class=c30 d=M685,572l7-17-6,40-6,17z /><path class=c25 d=M678,612l7-40-5,40-7,39z /><path class=c19 d=M672,651l6-39-5,39-6,39z /><path class=c15 d=M665,667l7-16-5,39-7,17z /><path class=c16 d=M658,652l7,15-5,40-7-15z /><path class=c20 d=M652,614l6,38-5,40-6-38z /><path class=c27 d=M645,576l7,38-5,40-7-38z /><path class=c31 d=M638,560l7,16-5,40-7-16z /><path class=c32 d=M632,576l6-16-5,40-6,16z /><path class=c28 d=M625,614l7-38-5,40-7,37z /><path class=c22 d=M619,651l6-37-5,39-7,38z /><path class=c18 d=M612,666l7-15-6,40-6,15zM605,650l7,16-5,40-7-16z /><path class=c23 d=M599,611l6,39-5,40-6-40z /><path class=c30 d=M592,571l7,40-5,39-7-39z /><path class=c35 d=M585,554l7,17-5,40-7-17zM579,568l6-14-5,40-6,14z /><path class=c31 d=M572,605l7-37-5,40-7,37z /><path class=c26 d=M565,641l7-36-5,40-7,36z /><path class=c22 d=M559,655l6-14-5,40-6,14z /><path class=c23 d=M552,637l7,18-5,40-7-18z /><path class=c28 d=M545,596l7,41-5,40-7-41z /><path class=c35 d=M539,556l6,40-5,40-6-40z /><path class=c40 d=M532,537l7,19-5,40-7-19zM526,550l6-13-5,40-7,13z /><path class=c37 d=M519,585l7-35-6,40-6,35z /><path class=c31 d=M512,620l7-35-5,40-7,35z /><path class=c28 d=M506,633l6-13-5,40-6,13z /><path class=c29 d=M499,613l7,20-5,40-7-20z /><path class=c34 d=M492,571l7,42-5,40-7-42z /><path class=c41 d=M486,529l6,42-5,40-6-42z /><path class=c46 d=M479,509l7,20-5,40-7-20z /><path class=c47 d=M472,521l7-12-5,40-7,12z /><path class=c44 d=M466,555l6-34-5,40-6,34z /><path class=c39 d=M459,588l7-33-5,40-7,33z /><path class=c35 d=M453,600l6-12-5,40-7,11z /><path class=c39 d=M982,397l7,7-5,40-7-7z /><path class=c43 d=M976,367l6,30-5,40-7-30z /><path class=c48 d=M969,337l7,30-6,40-6-30z /><path class=c51 d=M962,330l7,7-5,40-7-7z /><path class=c50 d=M956,353l6-23-5,40-6,24z /><path class=c45 d=M949,399l7-46-5,41-7,45z /><path class=c38 d=M942,445l7-46-5,40-7,46z /><path class=c33 d=M936,468l6-23-5,40-6,23z /><path class=c32 d=M929,460l7,8-5,40-7-8z /><path class=c36 d=M922,429l7,31-5,40-7-31z /><path class=c41 d=M916,398l6,31-5,40-6-31z /><path class=c45 d=M909,388l7,10-5,40-7-10z /><path class=c44 d=M903,411l6-23-5,40-7,23z /><path class=c39 d=M896,455l7-44-6,40-6,44z /><path class=c33 d=M889,500l7-45-5,40-7,45z /><path class=c28 d=M883,522l6-22-5,40-7,22z /><path class=c27 d=M876,512l7,10-6,40-6-10z /><path class=c31 d=M869,479l7,33-5,40-7-33z /><path class=c36 d=M863,447l6,32-5,40-6-32z /><path class=c40 d=M856,436l7,11-5,40-7-11zM849,457l7-21-5,40-7,21z /><path class=c35 d=M843,501l6-44-5,40-6,44z /><path class=c29 d=M836,544l7-43-5,40-7,43z /><path class=c24 d=M829,564l7-20-5,40-7,20zM823,553l6,11-5,40-6-11z /><path class=c28 d=M816,519l7,34-5,40-7-34z /><path class=c33 d=M810,485l6,34-5,40-7-34z /><path class=c37 d=M803,473l7,12-6,40-6-11zM796,493l7-20-5,41-7,19z /><path class=c33 d=M790,535l6-42-5,40-6,42z /><path class=c26 d=M783,577l7-42-5,40-7,42z /><path class=c22 d=M776,596l7-19-5,40-7,19zM770,583l6,13-5,40-6-13z /><path class=c26 d=M763,548l7,35-5,40-7-35z /><path class=c32 d=M756,513l7,35-5,40-7-35z /><path class=c36 d=M750,500l6,13-5,40-6-13zM743,518l7-18-5,40-7,18z /><path class=c32 d=M737,559l6-41-5,40-7,41z /><path class=c25 d=M730,599l7-40-6,40-6,40z /><path class=c21 d=M723,617l7-18-5,40-7,18zM717,603l6,14-5,40-7-14z /><path class=c26 d=M710,566l7,37-6,40-6-36z /><path class=c32 d=M703,530l7,36-5,41-7-37z /><path class=c36 d=M697,515l6,15-5,40-6-15zM690,532l7-17-5,40-7,17z /><path class=c32 d=M683,572l7-40-5,40-7,40z /><path class=c26 d=M677,611l6-39-5,40-6,39z /><path class=c22 d=M670,627l7-16-5,40-7,16zM663,612l7,15-5,40-7-15z /><path class=c27 d=M657,574l6,38-5,40-6-38z /><path class=c33 d=M650,536l7,38-5,40-7-38z /><path class=c38 d=M644,520l6,16-5,40-7-16zM637,536l7-16-6,40-6,16z /><path class=c34 d=M630,574l7-38-5,40-7,38z /><path class=c29 d=M624,611l6-37-5,40-6,37z /><path class=c25 d=M617,626l7-15-5,40-7,15zM610,610l7,16-5,40-7-16z /><path class=c30 d=M604,570l6,40-5,40-6-39z /><path class=c37 d=M597,531l7,39-5,41-7-40z /><path class=c41 d=M590,514l7,17-5,40-7-17z /><path class=c42 d=M584,528l6-14-5,40-6,14z /><path class=c38 d=M577,565l7-37-5,40-7,37z /><path class=c33 d=M571,601l6-36-5,40-7,36z /><path class=c29 d=M564,615l7-14-6,40-6,14z /><path class=c30 d=M557,597l7,18-5,40-7-18z /><path class=c35 d=M551,556l6,41-5,40-7-41z /><path class=c41 d=M544,516l7,40-6,40-6-40z /><path class=c46 d=M537,497l7,19-5,40-7-19z /><path class=c47 d=M531,510l6-13-5,40-6,13z /><path class=c44 d=M524,545l7-35-5,40-7,35z /><path class=c38 d=M517,580l7-35-5,40-7,35z /><path class=c35 d=M511,593l6-13-5,40-6,13z /><path class=c36 d=M504,573l7,20-5,40-7-20z /><path class=c41 d=M497,531l7,42-5,40-7-42z /><path class=c48 d=M491,489l6,42-5,40-6-42z /><path class=c53 d=M484,469l7,20-5,40-7-20z /><path class=c54 d=M478,481l6-12-5,40-7,12z /><path class=c51 d=M471,515l7-34-6,40-6,34z /><path class=c45 d=M464,548l7-33-5,40-7,33z /><path class=c42 d=M458,560l6-12-5,40-6,12z /><path class=c44 d=M987,379l7,7-5,18-7-7z /><path class=c48 d=M981,349l6,30-5,18-6-30z /><path class=c53 d=M974,320l7,29-5,18-7-30z /><path class=c56 d=M967,312l7,8-5,17-7-7z /><path class=c55 d=M961,336l6-24-5,18-6,23z /><path class=c50 d=M954,382l7-46-5,17-7,46z /><path class=c43 d=M947,427l7-45-5,17-7,46z /><path class=c38 d=M941,451l6-24-5,18-6,23z /><path class=c37 d=M934,442l7,9-5,17-7-8z /><path class=c41 d=M928,411l6,31-5,18-7-31z /><path class=c46 d=M921,380l7,31-6,18-6-31z /><path class=c50 d=M914,371l7,9-5,18-7-10z /><path class=c49 d=M908,393l6-22-5,17-6,23z /><path class=c44 d=M901,438l7-45-5,18-7,44z /><path class=c38 d=M894,482l7-44-5,17-7,45z /><path class=c33 d=M888,504l6-22-5,18-6,22z /><path class=c32 d=M881,494l7,10-5,18-7-10z /><path class=c36 d=M874,462l7,32-5,18-7-33z /><path class=c42 d=M868,429l6,33-5,17-6-32z /><path class=c45 d=M861,418l7,11-5,18-7-11zM854,440l7-22-5,18-7,21z /><path class=c40 d=M848,483l6-43-5,17-6,44z /><path class=c34 d=M841,526l7-43-5,18-7,43z /><path class=c29 d=M835,546l6-20-5,18-7,20zM828,535l7,11-6,18-6-11z /><path class=c33 d=M821,501l7,34-5,18-7-34z /><path class=c38 d=M815,467l6,34-5,18-6-34z /><path class=c42 d=M808,456l7,11-5,18-7-12zM801,475l7-19-5,17-7,20z /><path class=c38 d=M795,517l6-42-5,18-6,42z /><path class=c31 d=M788,559l7-42-5,18-7,42z /><path class=c27 d=M781,578l7-19-5,18-7,19zM775,566l6,12-5,18-6-13z /><path class=c31 d=M768,530l7,36-5,17-7-35z /><path class=c37 d=M762,495l6,35-5,18-7-35z /><path class=c41 d=M755,482l7,13-6,18-6-13zM748,500l7-18-5,18-7,18z /><path class=c37 d=M742,541l6-41-5,18-6,41z /><path class=c30 d=M735,581l7-40-5,18-7,40z /><path class=c26 d=M728,599l7-18-5,18-7,18zM722,585l6,14-5,18-6-14z /><path class=c31 d=M715,549l7,36-5,18-7-37z /><path class=c37 d=M708,512l7,37-5,17-7-36z /><path class=c41 d=M702,497l6,15-5,18-6-15zM695,514l7-17-5,18-7,17z /><path class=c37 d=M688,554l7-40-5,18-7,40z /><path class=c31 d=M682,593l6-39-5,18-6,39z /><path class=c27 d=M675,609l7-16-5,18-7,16zM669,594l6,15-5,18-7-15z /><path class=c32 d=M662,556l7,38-6,18-6-38z /><path class=c38 d=M655,518l7,38-5,18-7-38z /><path class=c43 d=M649,502l6,16-5,18-6-16zM642,518l7-16-5,18-7,16z /><path class=c39 d=M635,556l7-38-5,18-7,38z /><path class=c34 d=M629,593l6-37-5,18-6,37z /><path class=c30 d=M622,608l7-15-5,18-7,15zM615,592l7,16-5,18-7-16z /><path class=c35 d=M609,553l6,39-5,18-6-40z /><path class=c42 d=M602,513l7,40-5,17-7-39z /><path class=c46 d=M596,496l6,17-5,18-7-17z /><path class=c47 d=M589,510l7-14-6,18-6,14z /><path class=c43 d=M582,547l7-37-5,18-7,37z /><path class=c38 d=M576,583l6-36-5,18-6,36z /><path class=c34 d=M569,597l7-14-5,18-7,14z /><path class=c35 d=M562,579l7,18-5,18-7-18z /><path class=c40 d=M556,538l6,41-5,18-6-41z /><path class=c46 d=M549,498l7,40-5,18-7-40z /><path class=c51 d=M542,479l7,19-5,18-7-19z /><path class=c52 d=M536,492l6-13-5,18-6,13z /><path class=c49 d=M529,527l7-35-5,18-7,35z /><path class=c43 d=M522,562l7-35-5,18-7,35z /><path class=c40 d=M516,575l6-13-5,18-6,13z /><path class=c41 d=M509,555l7,20-5,18-7-20z /><path class=c46 d=M503,513l6,42-5,18-7-42z /><path class=c53 d=M496,471l7,42-6,18-6-42z /><path class=c58 d=M489,452l7,19-5,18-7-20z /><path class=c59 d=M483,463l6-11-5,17-6,12z /><path class=c56 d=M476,497l7-34-5,18-7,34z /><path class=c50 d=M469,531l7-34-5,18-7,33z /><path class=c47 d=M463,542l6-11-5,17-6,12z /><path class=c45 d=M992,393l7,7-5-14-7-7z /><path class=c48 d=M986,363l6,30-5-14-6-30z /><path class=c53 d=M979,333l7,30-5-14-7-29z /><path class=c57 d=M972,325l7,8-5-13-7-8z /><path class=c56 d=M966,349l6-24-5-13-6,24z /><path class=c51 d=M959,395l7-46-5-13-7,46z /><path class=c44 d=M953,441l6-46-5-13-7,45z /><path class=c39 d=M946,464l7-23-6-14-6,24z /><path class=c38 d=M939,456l7,8-5-13-7-9z /><path class=c42 d=M933,425l6,31-5-14-6-31z /><path class=c47 d=M926,393l7,32-5-14-7-31z /><path class=c51 d=M919,384l7,9-5-13-7-9z /><path class=c50 d=M913,407l6-23-5-13-6,22z /><path class=c45 d=M906,451l7-44-5-14-7,45z /><path class=c38 d=M899,496l7-45-5-13-7,44z /><path class=c33 d=M893,517l6-21-5-14-6,22zM886,508l7,9-5-13-7-10z /><path class=c37 d=M880,475l6,33-5-14-7-32z /><path class=c42 d=M873,443l7,32-6-13-6-33z /><path class=c46 d=M866,432l7,11-5-14-7-11zM860,453l6-21-5-14-7,22z /><path class=c41 d=M853,496l7-43-6-13-6,43z /><path class=c34 d=M846,539l7-43-5-13-7,43z /><path class=c30 d=M840,560l6-21-5-13-6,20z /><path class=c29 d=M833,549l7,11-5-14-7-11z /><path class=c33 d=M826,515l7,34-5-14-7-34z /><path class=c39 d=M820,481l6,34-5-14-6-34z /><path class=c43 d=M813,469l7,12-5-14-7-11zM806,489l7-20-5-13-7,19z /><path class=c38 d=M800,531l6-42-5-14-6,42z /><path class=c32 d=M793,573l7-42-5-14-7,42z /><path class=c28 d=M787,592l6-19-5-14-7,19z /><path class=c27 d=M780,579l7,13-6-14-6-12z /><path class=c32 d=M773,544l7,35-5-13-7-36z /><path class=c38 d=M767,509l6,35-5-14-6-35z /><path class=c42 d=M760,496l7,13-5-14-7-13zM753,514l7-18-5-14-7,18z /><path class=c37 d=M747,554l6-40-5-14-6,41z /><path class=c31 d=M740,595l7-41-5-13-7,40z /><path class=c27 d=M733,613l7-18-5-14-7,18zM727,599l6,14-5-14-6-14z /><path class=c31 d=M720,562l7,37-5-14-7-36z /><path class=c38 d=M714,526l6,36-5-13-7-37z /><path class=c42 d=M707,511l7,15-6-14-6-15zM700,528l7-17-5-14-7,17z /><path class=c38 d=M694,567l6-39-5-14-7,40z /><path class=c32 d=M687,606l7-39-6-13-6,39z /><path class=c28 d=M680,623l7-17-5-13-7,16zM674,607l6,16-5-14-6-15z /><path class=c33 d=M667,570l7,37-5-13-7-38z /><path class=c39 d=M660,532l7,38-5-14-7-38z /><path class=c44 d=M654,516l6,16-5-14-6-16zM647,531l7-15-5-14-7,16z /><path class=c40 d=M640,569l7-38-5-13-7,38z /><path class=c34 d=M634,607l6-38-5-13-6,37z /><path class=c31 d=M627,622l7-15-5-14-7,15zM621,605l6,17-5-14-7-16z /><path class=c36 d=M614,566l7,39-6-13-6-39z /><path class=c42 d=M607,527l7,39-5-13-7-40z /><path class=c47 d=M601,510l6,17-5-14-6-17z /><path class=c48 d=M594,524l7-14-5-14-7,14z /><path class=c44 d=M587,560l7-36-5-14-7,37z /><path class=c38 d=M581,597l6-37-5-13-6,36z /><path class=c35 d=M574,611l7-14-5-14-7,14zM567,593l7,18-5-14-7-18z /><path class=c40 d=M561,552l6,41-5-14-6-41z /><path class=c47 d=M554,511l7,41-5-14-7-40z /><path class=c52 d=M548,493l6,18-5-13-7-19z /><path class=c53 d=M541,506l7-13-6-14-6,13z /><path class=c49 d=M534,541l7-35-5-14-7,35z /><path class=c44 d=M528,576l6-35-5-14-7,35z /><path class=c41 d=M521,588l7-12-6-14-6,13zM514,569l7,19-5-13-7-20z /><path class=c47 d=M508,527l6,42-5-14-6-42z /><path class=c54 d=M501,485l7,42-5-14-7-42z /><path class=c59 d=M494,465l7,20-5-14-7-19z /><path class=c60 d=M488,477l6-12-5-13-6,11z /><path class=c56 d=M481,511l7-34-5-14-7,34z /><path class=c51 d=M474,544l7-33-5-14-7,34z /><path class=c48 d=M468,555l6-11-5-13-6,11z /><path class=c41 d=M998,429l6,7-5-36-7-7z /><path class=c45 d=M991,399l7,30-6-36-6-30z /><path class=c50 d=M984,369l7,30-5-36-7-30z /><path class=c53 d=M978,361l6,8-5-36-7-8z /><path class=c52 d=M971,385l7-24-6-36-6,24z /><path class=c47 d=M964,431l7-46-5-36-7,46z /><path class=c40 d=M958,477l6-46-5-36-6,46z /><path class=c35 d=M951,500l7-23-5-36-7,23zM944,491l7,9-5-36-7-8z /><path class=c38 d=M938,460l6,31-5-35-6-31z /><path class=c43 d=M931,429l7,31-5-35-7-32z /><path class=c47 d=M924,420l7,9-5-36-7-9z /><path class=c46 d=M918,442l6-22-5-36-6,23z /><path class=c42 d=M911,487l7-45-5-35-7,44z /><path class=c35 d=M905,531l6-44-5-36-7,45z /><path class=c30 d=M898,553l7-22-6-35-6,21z /><path class=c29 d=M891,543l7,10-5-36-7-9z /><path class=c33 d=M885,511l6,32-5-35-6-33z /><path class=c39 d=M878,478l7,33-5-36-7-32z /><path class=c43 d=M871,468l7,10-5-35-7-11z /><path class=c42 d=M865,489l6-21-5-36-6,21z /><path class=c37 d=M858,532l7-43-5-36-7,43z /><path class=c31 d=M851,575l7-43-5-36-7,43z /><path class=c26 d=M845,596l6-21-5-36-6,21zM838,585l7,11-5-36-7-11z /><path class=c30 d=M832,551l6,34-5-36-7-34z /><path class=c36 d=M825,517l7,34-6-36-6-34z /><path class=c40 d=M818,505l7,12-5-36-7-12z /><path class=c39 d=M812,525l6-20-5-36-7,20z /><path class=c35 d=M805,567l7-42-6-36-6,42z /><path class=c28 d=M798,608l7-41-5-36-7,42z /><path class=c24 d=M792,628l6-20-5-35-6,19zM785,615l7,13-5-36-7-13z /><path class=c28 d=M778,580l7,35-5-36-7-35z /><path class=c34 d=M772,544l6,36-5-36-6-35z /><path class=c38 d=M765,531l7,13-5-35-7-13zM758,550l7-19-5-35-7,18z /><path class=c34 d=M752,590l6-40-5-36-6,40z /><path class=c28 d=M745,631l7-41-5-36-7,41z /><path class=c23 d=M739,648l6-17-5-36-7,18zM732,635l7,13-6-35-6-14z /><path class=c28 d=M725,598l7,37-5-36-7-37z /><path class=c34 d=M719,561l6,37-5-36-6-36z /><path class=c38 d=M712,547l7,14-5-35-7-15z /><path class=c39 d=M705,564l7-17-5-36-7,17z /><path class=c34 d=M699,603l6-39-5-36-6,39z /><path class=c29 d=M692,642l7-39-5-36-7,39z /><path class=c24 d=M685,659l7-17-5-36-7,17z /><path class=c25 d=M679,643l6,16-5-36-6-16z /><path class=c29 d=M672,605l7,38-5-36-7-37z /><path class=c36 d=M666,567l6,38-5-35-7-38z /><path class=c40 d=M659,552l7,15-6-35-6-16z /><path class=c41 d=M652,567l7-15-5-36-7,15z /><path class=c37 d=M646,605l6-38-5-36-7,38z /><path class=c31 d=M639,643l7-38-6-36-6,38z /><path class=c27 d=M632,658l7-15-5-36-7,15zM626,641l6,17-5-36-6-17z /><path class=c32 d=M619,602l7,39-5-36-7-39z /><path class=c39 d=M612,563l7,39-5-36-7-39z /><path class=c44 d=M606,546l6,17-5-36-6-17zM599,560l7-14-5-36-7,14z /><path class=c40 d=M592,596l7-36-5-36-7,36z /><path class=c35 d=M586,633l6-37-5-36-6,37z /><path class=c31 d=M579,646l7-13-5-36-7,14z /><path class=c32 d=M573,628l6,18-5-35-7-18z /><path class=c37 d=M566,588l7,40-6-35-6-41z /><path class=c44 d=M559,547l7,41-5-36-7-41z /><path class=c49 d=M553,529l6,18-5-36-6-18zM546,542l7-13-5-36-7,13z /><path class=c46 d=M539,577l7-35-5-36-7,35z /><path class=c40 d=M533,612l6-35-5-36-6,35z /><path class=c37 d=M526,624l7-12-5-36-7,12z /><path class=c38 d=M519,605l7,19-5-36-7-19z /><path class=c43 d=M513,563l6,42-5-36-6-42z /><path class=c50 d=M506,521l7,42-5-36-7-42z /><path class=c55 d=M500,501l6,20-5-36-7-20z /><path class=c56 d=M493,513l7-12-6-36-6,12z /><path class=c53 d=M486,546l7-33-5-36-7,34z /><path class=c48 d=M480,580l6-34-5-35-7,33z /><path class=c44 d=M473,591l7-11-6-36-6,11z /><path class=c36 d=M1003,464l6,7-5-35-6-7z /><path class=c39 d=M996,435l7,29-5-35-7-30z /><path class=c45 d=M989,405l7,30-5-36-7-30z /><path class=c48 d=M983,397l6,8-5-36-6-8z /><path class=c47 d=M976,421l7-24-5-36-7,24z /><path class=c42 d=M969,467l7-46-5-36-7,46z /><path class=c35 d=M963,512l6-45-5-36-6,46z /><path class=c30 d=M956,536l7-24-5-35-7,23z /><path class=c29 d=M949,527l7,9-5-36-7-9z /><path class=c33 d=M943,496l6,31-5-36-6-31z /><path class=c38 d=M936,465l7,31-5-36-7-31z /><path class=c42 d=M930,456l6,9-5-36-7-9z /><path class=c41 d=M923,478l7-22-6-36-6,22z /><path class=c36 d=M916,523l7-45-5-36-7,45z /><path class=c30 d=M910,567l6-44-5-36-6,44z /><path class=c25 d=M903,589l7-22-5-36-7,22z /><path class=c24 d=M896,579l7,10-5-36-7-10z /><path class=c28 d=M890,547l6,32-5-36-6-32z /><path class=c33 d=M883,514l7,33-5-36-7-33z /><path class=c37 d=M876,504l7,10-5-36-7-10zM870,525l6-21-5-36-6,21z /><path class=c32 d=M863,568l7-43-5-36-7,43z /><path class=c26 d=M857,611l6-43-5-36-7,43z /><path class=c21 d=M850,631l7-20-6-36-6,21zM843,620l7,11-5-35-7-11z /><path class=c24 d=M837,586l6,34-5-35-6-34z /><path class=c30 d=M830,552l7,34-5-35-7-34z /><path class=c34 d=M823,541l7,11-5-35-7-12zM817,560l6-19-5-36-6,20z /><path class=c29 d=M810,602l7-42-5-35-7,42z /><path class=c23 d=M803,644l7-42-5-35-7,41z /><path class=c19 d=M797,663l6-19-5-36-6,20zM790,651l7,12-5-35-7-13z /><path class=c23 d=M783,615l7,36-5-36-7-35z /><path class=c29 d=M777,580l6,35-5-35-6-36z /><path class=c33 d=M770,567l7,13-5-36-7-13zM764,585l6-18-5-36-7,19z /><path class=c29 d=M757,626l7-41-6-35-6,40z /><path class=c22 d=M750,666l7-40-5-36-7,41z /><path class=c18 d=M744,684l6-18-5-35-6,17zM737,670l7,14-5-36-7-13z /><path class=c23 d=M730,634l7,36-5-35-7-37z /><path class=c29 d=M724,597l6,37-5-36-6-37z /><path class=c33 d=M717,583l7,14-5-36-7-14zM710,600l7-17-5-36-7,17z /><path class=c29 d=M704,639l6-39-5-36-6,39z /><path class=c23 d=M697,678l7-39-5-36-7,39z /><path class=c19 d=M691,694l6-16-5-36-7,17zM684,679l7,15-6-35-6-16z /><path class=c24 d=M677,641l7,38-5-36-7-38z /><path class=c30 d=M671,603l6,38-5-36-6-38z /><path class=c35 d=M664,587l7,16-5-36-7-15zM657,603l7-16-5-35-7,15z /><path class=c31 d=M651,641l6-38-5-36-6,38z /><path class=c26 d=M644,678l7-37-5-36-7,38z /><path class=c22 d=M637,694l7-16-5-35-7,15zM631,677l6,17-5-36-6-17z /><path class=c27 d=M624,638l7,39-5-36-7-39z /><path class=c34 d=M617,598l7,40-5-36-7-39z /><path class=c38 d=M611,581l6,17-5-35-6-17z /><path class=c39 d=M604,595l7-14-5-35-7,14z /><path class=c35 d=M598,632l6-37-5-35-7,36z /><path class=c30 d=M591,668l7-36-6-36-6,37z /><path class=c26 d=M584,682l7-14-5-35-7,13z /><path class=c27 d=M578,664l6,18-5-36-6-18z /><path class=c32 d=M571,624l7,40-5-36-7-40z /><path class=c38 d=M564,583l7,41-5-36-7-41z /><path class=c43 d=M558,564l6,19-5-36-6-18z /><path class=c44 d=M551,577l7-13-5-35-7,13z /><path class=c41 d=M544,612l7-35-5-35-7,35z /><path class=c35 d=M538,647l6-35-5-35-6,35z /><path class=c32 d=M531,660l7-13-5-35-7,12z /><path class=c33 d=M525,640l6,20-5-36-7-19z /><path class=c38 d=M518,599l7,41-6-35-6-42z /><path class=c45 d=M511,556l7,43-5-36-7-42z /><path class=c50 d=M505,537l6,19-5-35-6-20z /><path class=c51 d=M498,548l7-11-5-36-7,12z /><path class=c47 d=M491,582l7-34-5-35-7,33z /><path class=c42 d=M485,616l6-34-5-36-6,34z /><path class=c39 d=M478,627l7-11-5-36-7,11z /><path class=c32 d=M1008,477l6,8-5-14-6-7z /><path class=c36 d=M1001,448l7,29-5-13-7-29z /><path class=c41 d=M994,418l7,30-5-13-7-30z /><path class=c44 d=M988,410l6,8-5-13-6-8zM981,434l7-24-5-13-7,24z /><path class=c38 d=M975,480l6-46-5-13-7,46z /><path class=c32 d=M968,525l7-45-6-13-6,45z /><path class=c27 d=M961,549l7-24-5-13-7,24z /><path class=c26 d=M955,540l6,9-5-13-7-9z /><path class=c29 d=M948,509l7,31-6-13-6-31z /><path class=c35 d=M941,478l7,31-5-13-7-31z /><path class=c38 d=M935,469l6,9-5-13-6-9zM928,491l7-22-5-13-7,22z /><path class=c33 d=M921,536l7-45-5-13-7,45z /><path class=c26 d=M915,580l6-44-5-13-6,44z /><path class=c21 d=M908,602l7-22-5-13-7,22zM901,592l7,10-5-13-7-10z /><path class=c24 d=M895,560l6,32-5-13-6-32z /><path class=c30 d=M888,527l7,33-5-13-7-33z /><path class=c34 d=M882,517l6,10-5-13-7-10z /><path class=c33 d=M875,538l7-21-6-13-6,21z /><path class=c29 d=M868,581l7-43-5-13-7,43z /><path class=c22 d=M862,624l6-43-5-13-6,43z /><path class=c17 d=M855,645l7-21-5-13-7,20zM848,633l7,12-5-14-7-11z /><path class=c21 d=M842,600l6,33-5-13-6-34z /><path class=c27 d=M835,566l7,34-5-14-7-34z /><path class=c31 d=M828,554l7,12-5-14-7-11zM822,573l6-19-5-13-6,19z /><path class=c26 d=M815,615l7-42-5-13-7,42z /><path class=c20 d=M809,657l6-42-5-13-7,42z /><path class=c15 d=M802,676l7-19-6-13-6,19zM795,664l7,12-5-13-7-12z /><path class=c19 d=M789,629l6,35-5-13-7-36z /><path class=c25 d=M782,593l7,36-6-14-6-35z /><path class=c29 d=M775,580l7,13-5-13-7-13zM769,598l6-18-5-13-6,18z /><path class=c25 d=M762,639l7-41-5-13-7,41z /><path class=c19 d=M755,679l7-40-5-13-7,40z /><path class=c15 d=M749,697l6-18-5-13-6,18zM742,683l7,14-5-13-7-14z /><path class=c19 d=M735,647l7,36-5-13-7-36z /><path class=c25 d=M729,610l6,37-5-13-6-37z /><path class=c30 d=M722,596l7,14-5-13-7-14zM716,613l6-17-5-13-7,17z /><path class=c26 d=M709,652l7-39-6-13-6,39z /><path class=c20 d=M702,691l7-39-5-13-7,39z /><path class=c16 d=M696,707l6-16-5-13-6,16zM689,692l7,15-5-13-7-15z /><path class=c20 d=M682,654l7,38-5-13-7-38z /><path class=c27 d=M676,616l6,38-5-13-6-38z /><path class=c31 d=M669,600l7,16-5-13-7-16z /><path class=c32 d=M662,616l7-16-5-13-7,16z /><path class=c28 d=M656,654l6-38-5-13-6,38z /><path class=c22 d=M649,691l7-37-5-13-7,37z /><path class=c18 d=M643,707l6-16-5-13-7,16z /><path class=c19 d=M636,690l7,17-6-13-6-17z /><path class=c23 d=M629,651l7,39-5-13-7-39z /><path class=c30 d=M623,611l6,40-5-13-7-40z /><path class=c35 d=M616,594l7,17-6-13-6-17zM609,609l7-15-5-13-7,14z /><path class=c32 d=M603,645l6-36-5-14-6,37z /><path class=c26 d=M596,681l7-36-5-13-7,36z /><path class=c22 d=M589,695l7-14-5-13-7,14z /><path class=c23 d=M583,677l6,18-5-13-6-18z /><path class=c28 d=M576,637l7,40-5-13-7-40z /><path class=c35 d=M569,596l7,41-5-13-7-41z /><path class=c40 d=M563,577l6,19-5-13-6-19z /><path class=c41 d=M556,590l7-13-5-13-7,13z /><path class=c37 d=M550,625l6-35-5-13-7,35z /><path class=c32 d=M543,660l7-35-6-13-6,35z /><path class=c28 d=M536,673l7-13-5-13-7,13z /><path class=c29 d=M530,654l6,19-5-13-6-20z /><path class=c34 d=M523,612l7,42-5-14-7-41z /><path class=c41 d=M516,570l7,42-5-13-7-43z /><path class=c46 d=M510,550l6,20-5-14-6-19z /><path class=c47 d=M503,561l7-11-5-13-7,11z /><path class=c44 d=M496,595l7-34-5-13-7,34z /><path class=c39 d=M490,629l6-34-5-13-6,34z /><path class=c36 d=M483,640l7-11-5-13-7,11z /><path class=c33 d=M1013,459l6,7-5,19-6-8z /><path class=c37 d=M1006,429l7,30-5,18-7-29z /><path class=c42 d=M1000,399l6,30-5,19-7-30z /><path class=c45 d=M993,391l7,8-6,19-6-8z /><path class=c44 d=M986,415l7-24-5,19-7,24z /><path class=c39 d=M980,461l6-46-5,19-6,46z /><path class=c32 d=M973,507l7-46-5,19-7,45z /><path class=c27 d=M966,530l7-23-5,18-7,24zM960,521l6,9-5,19-6-9z /><path class=c30 d=M953,490l7,31-5,19-7-31z /><path class=c36 d=M946,459l7,31-5,19-7-31z /><path class=c39 d=M940,450l6,9-5,19-6-9zM933,472l7-22-5,19-7,22z /><path class=c34 d=M927,517l6-45-5,19-7,45z /><path class=c27 d=M920,561l7-44-6,19-6,44z /><path class=c22 d=M913,583l7-22-5,19-7,22z /><path class=c21 d=M907,573l6,10-5,19-7-10z /><path class=c25 d=M900,541l7,32-6,19-6-32z /><path class=c31 d=M893,508l7,33-5,19-7-33z /><path class=c35 d=M887,498l6,10-5,19-6-10z /><path class=c34 d=M880,519l7-21-5,19-7,21z /><path class=c29 d=M873,562l7-43-5,19-7,43z /><path class=c23 d=M867,605l6-43-5,19-6,43z /><path class=c18 d=M860,626l7-21-5,19-7,21zM853,615l7,11-5,19-7-12z /><path class=c22 d=M847,581l6,34-5,18-6-33z /><path class=c28 d=M840,547l7,34-5,19-7-34z /><path class=c32 d=M834,535l6,12-5,19-7-12z /><path class=c31 d=M827,555l7-20-6,19-6,19z /><path class=c27 d=M820,597l7-42-5,18-7,42z /><path class=c21 d=M814,638l6-41-5,18-6,42z /><path class=c16 d=M807,658l7-20-5,19-7,19zM800,645l7,13-5,18-7-12z /><path class=c20 d=M794,610l6,35-5,19-6-35z /><path class=c26 d=M787,575l7,35-5,19-7-36z /><path class=c30 d=M780,561l7,14-5,18-7-13zM774,580l6-19-5,19-6,18z /><path class=c26 d=M767,620l7-40-5,18-7,41z /><path class=c20 d=M761,661l6-41-5,19-7,40z /><path class=c15 d=M754,678l7-17-6,18-6,18z /><path class=c16 d=M747,665l7,13-5,19-7-14z /><path class=c20 d=M741,628l6,37-5,18-7-36z /><path class=c26 d=M734,591l7,37-6,19-6-37z /><path class=c30 d=M727,577l7,14-5,19-7-14z /><path class=c31 d=M721,594l6-17-5,19-6,17z /><path class=c26 d=M714,633l7-39-5,19-7,39z /><path class=c21 d=M707,672l7-39-5,19-7,39z /><path class=c16 d=M701,689l6-17-5,19-6,16z /><path class=c17 d=M694,673l7,16-5,18-7-15z /><path class=c21 d=M687,635l7,38-5,19-7-38z /><path class=c28 d=M681,597l6,38-5,19-6-38z /><path class=c32 d=M674,582l7,15-5,19-7-16z /><path class=c33 d=M668,597l6-15-5,18-7,16z /><path class=c29 d=M661,635l7-38-6,19-6,38z /><path class=c23 d=M654,673l7-38-5,19-7,37z /><path class=c19 d=M648,688l6-15-5,18-6,16z /><path class=c20 d=M641,671l7,17-5,19-7-17z /><path class=c24 d=M634,632l7,39-5,19-7-39z /><path class=c31 d=M628,593l6,39-5,19-6-40z /><path class=c36 d=M621,576l7,17-5,18-7-17zM614,590l7-14-5,18-7,15z /><path class=c32 d=M608,626l6-36-5,19-6,36z /><path class=c27 d=M601,663l7-37-5,19-7,36z /><path class=c23 d=M595,676l6-13-5,18-7,14z /><path class=c24 d=M588,658l7,18-6,19-6-18z /><path class=c29 d=M581,618l7,40-5,19-7-40z /><path class=c36 d=M575,577l6,41-5,19-7-41z /><path class=c41 d=M568,559l7,18-6,19-6-19zM561,572l7-13-5,18-7,13z /><path class=c38 d=M555,607l6-35-5,18-6,35z /><path class=c33 d=M548,642l7-35-5,18-7,35z /><path class=c29 d=M541,654l7-12-5,18-7,13z /><path class=c30 d=M535,635l6,19-5,19-6-19z /><path class=c35 d=M528,593l7,42-5,19-7-42z /><path class=c42 d=M521,551l7,42-5,19-7-42z /><path class=c47 d=M515,531l6,20-5,19-6-20z /><path class=c48 d=M508,543l7-12-5,19-7,11z /><path class=c45 d=M502,576l6-33-5,18-7,34z /><path class=c40 d=M495,610l7-34-6,19-6,34z /><path class=c36 d=M488,621l7-11-5,19-7,11z /><path class=c39 d=M1018,417l7,8-6,41-6-7z /><path class=c42 d=M1011,388l7,29-5,42-7-30z /><path class=c47 d=M1005,358l6,30-5,41-6-30z /><path class=c51 d=M998,350l7,8-5,41-7-8z /><path class=c50 d=M991,374l7-24-5,41-7,24z /><path class=c45 d=M985,420l6-46-5,41-6,46z /><path class=c38 d=M978,466l7-46-5,41-7,46z /><path class=c33 d=M971,489l7-23-5,41-7,23z /><path class=c32 d=M965,480l6,9-5,41-6-9z /><path class=c35 d=M958,449l7,31-5,41-7-31z /><path class=c41 d=M952,418l6,31-5,41-7-31z /><path class=c44 d=M945,409l7,9-6,41-6-9zM938,431l7-22-5,41-7,22z /><path class=c39 d=M932,476l6-45-5,41-6,45z /><path class=c32 d=M925,520l7-44-5,41-7,44z /><path class=c27 d=M918,542l7-22-5,41-7,22zM912,532l6,10-5,41-6-10z /><path class=c30 d=M905,500l7,32-5,41-7-32z /><path class=c36 d=M898,467l7,33-5,41-7-33z /><path class=c40 d=M892,457l6,10-5,41-6-10z /><path class=c39 d=M885,478l7-21-5,41-7,21z /><path class=c35 d=M878,521l7-43-5,41-7,43z /><path class=c28 d=M872,564l6-43-5,41-6,43z /><path class=c23 d=M865,585l7-21-5,41-7,21zM859,573l6,12-5,41-7-11z /><path class=c27 d=M852,540l7,33-6,42-6-34z /><path class=c33 d=M845,506l7,34-5,41-7-34z /><path class=c37 d=M839,494l6,12-5,41-6-12zM832,514l7-20-5,41-7,20z /><path class=c32 d=M825,555l7-41-5,41-7,42z /><path class=c26 d=M819,597l6-42-5,42-6,41z /><path class=c21 d=M812,616l7-19-5,41-7,20zM805,604l7,12-5,42-7-13z /><path class=c25 d=M799,569l6,35-5,41-6-35z /><path class=c31 d=M792,533l7,36-5,41-7-35z /><path class=c35 d=M786,520l6,13-5,42-7-14zM779,538l7-18-6,41-6,19z /><path class=c31 d=M772,579l7-41-5,42-7,40z /><path class=c25 d=M766,619l6-40-5,41-6,41z /><path class=c21 d=M759,637l7-18-5,42-7,17zM752,623l7,14-5,41-7-13z /><path class=c25 d=M746,587l6,36-5,42-6-37z /><path class=c31 d=M739,550l7,37-5,41-7-37z /><path class=c36 d=M732,536l7,14-5,41-7-14zM726,553l6-17-5,41-6,17z /><path class=c32 d=M719,592l7-39-5,41-7,39z /><path class=c26 d=M712,631l7-39-5,41-7,39z /><path class=c22 d=M706,647l6-16-5,41-6,17zM699,632l7,15-5,42-7-16z /><path class=c26 d=M693,594l6,38-5,41-7-38z /><path class=c33 d=M686,556l7,38-6,41-6-38z /><path class=c37 d=M679,540l7,16-5,41-7-15z /><path class=c38 d=M673,556l6-16-5,42-6,15z /><path class=c34 d=M666,594l7-38-5,41-7,38z /><path class=c28 d=M659,632l7-38-5,41-7,38z /><path class=c24 d=M653,647l6-15-5,41-6,15z /><path class=c25 d=M646,630l7,17-5,41-7-17z /><path class=c29 d=M639,591l7,39-5,41-7-39z /><path class=c36 d=M633,551l6,40-5,41-6-39z /><path class=c41 d=M626,534l7,17-5,42-7-17zM620,549l6-15-5,42-7,14z /><path class=c38 d=M613,585l7-36-6,41-6,36z /><path class=c32 d=M606,621l7-36-5,41-7,37z /><path class=c28 d=M600,635l6-14-5,42-6,13z /><path class=c29 d=M593,617l7,18-5,41-7-18z /><path class=c34 d=M586,577l7,40-5,41-7-40z /><path class=c41 d=M580,536l6,41-5,41-6-41z /><path class=c46 d=M573,517l7,19-5,41-7-18z /><path class=c47 d=M566,530l7-13-5,42-7,13z /><path class=c43 d=M560,566l6-36-5,42-6,35z /><path class=c38 d=M553,601l7-35-5,41-7,35z /><path class=c34 d=M546,613l7-12-5,41-7,12z /><path class=c35 d=M540,594l6,19-5,41-6-19z /><path class=c40 d=M533,552l7,42-5,41-7-42z /><path class=c47 d=M527,510l6,42-5,41-7-42z /><path class=c52 d=M520,490l7,20-6,41-6-20z /><path class=c53 d=M513,501l7-11-5,41-7,12z /><path class=c50 d=M507,535l6-34-5,42-6,33z /><path class=c45 d=M500,569l7-34-5,41-7,34z /><path class=c42 d=M493,580l7-11-5,41-7,11z /><path class=c46 d=M1023,376l7,7-5,42-7-8z /><path class=c49 d=M1016,346l7,30-5,41-7-29z /><path class=c54 d=M1010,316l6,30-5,42-6-30z /><path class=c57 d=M1003,309l7,7-5,42-7-8zM996,332l7-23-5,41-7,24z /><path class=c51 d=M990,378l6-46-5,42-6,46z /><path class=c45 d=M983,424l7-46-5,42-7,46z /><path class=c40 d=M977,447l6-23-5,42-7,23z /><path class=c39 d=M970,439l7,8-6,42-6-9z /><path class=c42 d=M963,408l7,31-5,41-7-31z /><path class=c48 d=M957,376l6,32-5,41-6-31z /><path class=c51 d=M950,367l7,9-5,42-7-9zM943,390l7-23-5,42-7,22z /><path class=c46 d=M937,434l6-44-5,41-6,45z /><path class=c39 d=M930,479l7-45-5,42-7,44z /><path class=c34 d=M923,501l7-22-5,41-7,22zM917,491l6,10-5,41-6-10z /><path class=c37 d=M910,458l7,33-5,41-7-32z /><path class=c43 d=M904,426l6,32-5,42-7-33z /><path class=c47 d=M897,415l7,11-6,41-6-10z /><path class=c46 d=M890,436l7-21-5,42-7,21z /><path class=c42 d=M884,480l6-44-5,42-7,43z /><path class=c35 d=M877,523l7-43-6,41-6,43z /><path class=c30 d=M870,543l7-20-5,41-7,21zM864,532l6,11-5,42-6-12z /><path class=c34 d=M857,498l7,34-5,41-7-33z /><path class=c40 d=M850,464l7,34-5,42-7-34z /><path class=c44 d=M844,452l6,12-5,42-6-12zM837,472l7-20-5,42-7,20z /><path class=c39 d=M830,514l7-42-5,42-7,41z /><path class=c33 d=M824,556l6-42-5,41-6,42z /><path class=c28 d=M817,575l7-19-5,41-7,19zM811,562l6,13-5,41-7-12z /><path class=c32 d=M804,527l7,35-6,42-6-35z /><path class=c38 d=M797,492l7,35-5,42-7-36z /><path class=c42 d=M791,479l6,13-5,41-6-13zM784,497l7-18-5,41-7,18z /><path class=c38 d=M777,538l7-41-5,41-7,41z /><path class=c32 d=M771,578l6-40-5,41-6,40z /><path class=c28 d=M764,596l7-18-5,41-7,18zM757,582l7,14-5,41-7-14z /><path class=c32 d=M751,545l6,37-5,41-6-36z /><path class=c38 d=M744,509l7,36-5,42-7-37z /><path class=c43 d=M738,494l6,15-5,41-7-14zM731,511l7-17-6,42-6,17z /><path class=c39 d=M724,550l7-39-5,42-7,39z /><path class=c33 d=M718,589l6-39-5,42-7,39z /><path class=c29 d=M711,606l7-17-6,42-6,16zM704,591l7,15-5,41-7-15z /><path class=c33 d=M698,553l6,38-5,41-6-38z /><path class=c40 d=M691,515l7,38-5,41-7-38z /><path class=c44 d=M684,499l7,16-5,41-7-16z /><path class=c45 d=M678,515l6-16-5,41-6,16z /><path class=c41 d=M671,552l7-37-5,41-7,38z /><path class=c35 d=M664,590l7-38-5,42-7,38z /><path class=c31 d=M658,605l6-15-5,42-6,15z /><path class=c32 d=M651,589l7,16-5,42-7-17z /><path class=c36 d=M645,549l6,40-5,41-7-39z /><path class=c43 d=M638,510l7,39-6,42-6-40z /><path class=c48 d=M631,493l7,17-5,41-7-17zM625,507l6-14-5,41-6,15z /><path class=c45 d=M618,544l7-37-5,42-7,36z /><path class=c39 d=M611,580l7-36-5,41-7,36z /><path class=c35 d=M605,594l6-14-5,41-6,14z /><path class=c36 d=M598,576l7,18-5,41-7-18z /><path class=c41 d=M591,535l7,41-5,41-7-40z /><path class=c48 d=M585,495l6,40-5,42-6-41z /><path class=c53 d=M578,476l7,19-5,41-7-19z /><path class=c54 d=M572,489l6-13-5,41-7,13z /><path class=c50 d=M565,524l7-35-6,41-6,36z /><path class=c45 d=M558,559l7-35-5,42-7,35z /><path class=c41 d=M552,572l6-13-5,42-7,12z /><path class=c42 d=M545,552l7,20-6,41-6-19z /><path class=c47 d=M538,510l7,42-5,42-7-42z /><path class=c54 d=M532,468l6,42-5,42-6-42z /><path class=c59 d=M525,448l7,20-5,42-7-20z /><path class=c60 d=M518,460l7-12-5,42-7,11z /><path class=c57 d=M512,494l6-34-5,41-6,34z /><path class=c52 d=M505,527l7-33-5,41-7,34z /><path class=c49 d=M498,538l7-11-5,42-7,11z /><path class=c51 d=M1028,357l7,7-5,19-7-7z /><path class=c54 d=M1022,327l6,30-5,19-7-30z /><path class=c59 d=M1015,297l7,30-6,19-6-30z /><path class=c63 d=M1008,289l7,8-5,19-7-7z /><path class=c62 d=M1002,313l6-24-5,20-7,23z /><path class=c57 d=M995,359l7-46-6,19-6,46z /><path class=c50 d=M988,405l7-46-5,19-7,46z /><path class=c45 d=M982,428l6-23-5,19-6,23z /><path class=c44 d=M975,420l7,8-5,19-7-8z /><path class=c48 d=M968,389l7,31-5,19-7-31z /><path class=c53 d=M962,357l6,32-5,19-6-32z /><path class=c57 d=M955,348l7,9-5,19-7-9z /><path class=c56 d=M948,371l7-23-5,19-7,23z /><path class=c51 d=M942,415l6-44-5,19-6,44z /><path class=c44 d=M935,460l7-45-5,19-7,45z /><path class=c39 d=M929,481l6-21-5,19-7,22zM922,472l7,9-6,20-6-10z /><path class=c43 d=M915,439l7,33-5,19-7-33z /><path class=c48 d=M909,407l6,32-5,19-6-32z /><path class=c52 d=M902,396l7,11-5,19-7-11zM895,417l7-21-5,19-7,21z /><path class=c47 d=M889,460l6-43-5,19-6,44z /><path class=c40 d=M882,503l7-43-5,20-7,43z /><path class=c36 d=M875,524l7-21-5,20-7,20z /><path class=c35 d=M869,513l6,11-5,19-6-11z /><path class=c39 d=M862,479l7,34-5,19-7-34z /><path class=c45 d=M856,445l6,34-5,19-7-34z /><path class=c49 d=M849,433l7,12-6,19-6-12zM842,453l7-20-5,19-7,20z /><path class=c44 d=M836,495l6-42-5,19-7,42z /><path class=c38 d=M829,537l7-42-6,19-6,42z /><path class=c33 d=M822,556l7-19-5,19-7,19zM816,543l6,13-5,19-6-13z /><path class=c37 d=M809,508l7,35-5,19-7-35z /><path class=c43 d=M802,473l7,35-5,19-7-35z /><path class=c48 d=M796,460l6,13-5,19-6-13zM789,478l7-18-5,19-7,18z /><path class=c43 d=M782,518l7-40-5,19-7,41z /><path class=c37 d=M776,559l6-41-5,20-6,40z /><path class=c33 d=M769,577l7-18-5,19-7,18zM763,563l6,14-5,19-7-14z /><path class=c37 d=M756,526l7,37-6,19-6-37z /><path class=c43 d=M749,490l7,36-5,19-7-36z /><path class=c48 d=M743,475l6,15-5,19-6-15zM736,492l7-17-5,19-7,17z /><path class=c44 d=M729,531l7-39-5,19-7,39z /><path class=c38 d=M723,570l6-39-5,19-6,39z /><path class=c34 d=M716,587l7-17-5,19-7,17zM709,571l7,16-5,19-7-15z /><path class=c39 d=M703,534l6,37-5,20-6-38z /><path class=c45 d=M696,496l7,38-5,19-7-38z /><path class=c50 d=M690,480l6,16-5,19-7-16zM683,495l7-15-6,19-6,16z /><path class=c46 d=M676,533l7-38-5,20-7,37z /><path class=c40 d=M670,571l6-38-5,19-7,38z /><path class=c36 d=M663,586l7-15-6,19-6,15z /><path class=c37 d=M656,569l7,17-5,19-7-16z /><path class=c42 d=M650,530l6,39-5,20-6-40z /><path class=c48 d=M643,491l7,39-5,19-7-39z /><path class=c53 d=M636,474l7,17-5,19-7-17z /><path class=c54 d=M630,488l6-14-5,19-6,14z /><path class=c50 d=M623,524l7-36-5,19-7,37z /><path class=c44 d=M616,561l7-37-5,20-7,36z /><path class=c41 d=M610,575l6-14-5,19-6,14zM603,557l7,18-5,19-7-18z /><path class=c46 d=M597,516l6,41-5,19-7-41z /><path class=c53 d=M590,475l7,41-6,19-6-40z /><path class=c58 d=M583,457l7,18-5,20-7-19z /><path class=c59 d=M577,470l6-13-5,19-6,13z /><path class=c55 d=M570,505l7-35-5,19-7,35z /><path class=c50 d=M563,540l7-35-5,19-7,35z /><path class=c46 d=M557,552l6-12-5,19-6,13z /><path class=c47 d=M550,533l7,19-5,20-7-20z /><path class=c52 d=M543,491l7,42-5,19-7-42z /><path class=c59 d=M537,449l6,42-5,19-6-42z /><path class=c65 d=M530,429l7,20-5,19-7-20z /><path class=c66 d=M524,441l6-12-5,19-7,12z /><path class=c62 d=M517,475l7-34-6,19-6,34z /><path class=c57 d=M510,508l7-33-5,19-7,33z /><path class=c54 d=M504,519l6-11-5,19-7,11z /><path class=c52 d=M1033,369l7,7-5-12-7-7z /><path class=c55 d=M1027,339l6,30-5-12-6-30z /><path class=c60 d=M1020,309l7,30-5-12-7-30z /><path class=c64 d=M1013,302l7,7-5-12-7-8z /><path class=c63 d=M1007,325l6-23-5-13-6,24z /><path class=c58 d=M1000,371l7-46-5-12-7,46z /><path class=c51 d=M993,417l7-46-5-12-7,46z /><path class=c46 d=M987,440l6-23-5-12-6,23z /><path class=c45 d=M980,432l7,8-5-12-7-8z /><path class=c49 d=M973,401l7,31-5-12-7-31z /><path class=c54 d=M967,370l6,31-5-12-6-32z /><path class=c58 d=M960,360l7,10-5-13-7-9z /><path class=c57 d=M954,383l6-23-5-12-7,23z /><path class=c52 d=M947,427l7-44-6-12-6,44z /><path class=c45 d=M940,472l7-45-5-12-7,45z /><path class=c40 d=M934,494l6-22-5-12-6,21zM927,484l7,10-5-13-7-9z /><path class=c44 d=M920,451l7,33-5-12-7-33z /><path class=c49 d=M914,419l6,32-5-12-6-32z /><path class=c53 d=M907,408l7,11-5-12-7-11z /><path class=c52 d=M900,429l7-21-5-12-7,21z /><path class=c48 d=M894,473l6-44-5-12-6,43z /><path class=c41 d=M887,516l7-43-5-13-7,43z /><path class=c37 d=M881,536l6-20-5-13-7,21z /><path class=c36 d=M874,525l7,11-6-12-6-11z /><path class=c40 d=M867,491l7,34-5-12-7-34z /><path class=c46 d=M861,457l6,34-5-12-6-34z /><path class=c50 d=M854,445l7,12-5-12-7-12zM847,465l7-20-5-12-7,20z /><path class=c45 d=M841,507l6-42-5-12-6,42z /><path class=c39 d=M834,549l7-42-5-12-7,42z /><path class=c34 d=M827,568l7-19-5-12-7,19zM821,555l6,13-5-12-6-13z /><path class=c38 d=M814,520l7,35-5-12-7-35z /><path class=c44 d=M807,485l7,35-5-12-7-35z /><path class=c49 d=M801,472l6,13-5-12-6-13zM794,490l7-18-5-12-7,18z /><path class=c44 d=M788,531l6-41-5-12-7,40z /><path class=c38 d=M781,571l7-40-6-13-6,41z /><path class=c34 d=M774,589l7-18-5-12-7,18zM768,575l6,14-5-12-6-14z /><path class=c38 d=M761,538l7,37-5-12-7-37z /><path class=c44 d=M754,502l7,36-5-12-7-36z /><path class=c49 d=M748,487l6,15-5-12-6-15zM741,504l7-17-5-12-7,17z /><path class=c45 d=M734,544l7-40-5-12-7,39z /><path class=c39 d=M728,583l6-39-5-13-6,39z /><path class=c35 d=M721,599l7-16-5-13-7,17zM715,584l6,15-5-12-7-16z /><path class=c40 d=M708,546l7,38-6-13-6-37z /><path class=c46 d=M701,508l7,38-5-12-7-38z /><path class=c51 d=M695,492l6,16-5-12-6-16zM688,508l7-16-5-12-7,15z /><path class=c47 d=M681,546l7-38-5-13-7,38z /><path class=c41 d=M675,583l6-37-5-13-6,38z /><path class=c37 d=M668,598l7-15-5-12-7,15z /><path class=c38 d=M661,582l7,16-5-12-7-17z /><path class=c43 d=M655,542l6,40-5-13-6-39z /><path class=c49 d=M648,503l7,39-5-12-7-39z /><path class=c54 d=M641,486l7,17-5-12-7-17z /><path class=c55 d=M635,500l6-14-5-12-6,14z /><path class=c51 d=M628,537l7-37-5-12-7,36z /><path class=c45 d=M622,573l6-36-5-13-7,37z /><path class=c42 d=M615,587l7-14-6-12-6,14zM608,569l7,18-5-12-7-18z /><path class=c47 d=M602,528l6,41-5-12-6-41z /><path class=c54 d=M595,488l7,40-5-12-7-41z /><path class=c59 d=M588,469l7,19-5-13-7-18z /><path class=c60 d=M582,482l6-13-5-12-6,13z /><path class=c56 d=M575,517l7-35-5-12-7,35z /><path class=c51 d=M568,552l7-35-5-12-7,35z /><path class=c47 d=M562,565l6-13-5-12-6,12z /><path class=c48 d=M555,545l7,20-5-13-7-19z /><path class=c53 d=M549,503l6,42-5-12-7-42z /><path class=c60 d=M542,461l7,42-6-12-6-42z /><path class=c66 d=M535,441l7,20-5-12-7-20z /><path class=c67 d=M529,453l6-12-5-12-6,12z /><path class=c63 d=M522,487l7-34-5-12-7,34z /><path class=c58 d=M515,520l7-33-5-12-7,33z /><path class=c55 d=M509,532l6-12-5-12-6,11z /><path class=c48 d=M1038,404l7,7-5-35-7-7z /><path class=c52 d=M1032,374l6,30-5-35-6-30z /><path class=c57 d=M1025,344l7,30-5-35-7-30z /><path class=c60 d=M1018,336l7,8-5-35-7-7z /><path class=c59 d=M1012,360l6-24-5-34-6,23z /><path class=c54 d=M1005,406l7-46-5-35-7,46z /><path class=c47 d=M999,452l6-46-5-35-7,46z /><path class=c42 d=M992,475l7-23-6-35-6,23zM985,466l7,9-5-35-7-8z /><path class=c45 d=M979,435l6,31-5-34-7-31z /><path class=c51 d=M972,404l7,31-6-34-6-31z /><path class=c54 d=M965,395l7,9-5-34-7-10zM959,417l6-22-5-35-6,23z /><path class=c49 d=M952,462l7-45-5-34-7,44z /><path class=c42 d=M945,506l7-44-5-35-7,45z /><path class=c37 d=M939,528l6-22-5-34-6,22z /><path class=c36 d=M932,518l7,10-5-34-7-10z /><path class=c40 d=M925,486l7,32-5-34-7-33z /><path class=c46 d=M919,453l6,33-5-35-6-32z /><path class=c50 d=M912,443l7,10-5-34-7-11z /><path class=c49 d=M906,464l6-21-5-35-7,21z /><path class=c44 d=M899,507l7-43-6-35-6,44z /><path class=c38 d=M892,550l7-43-5-34-7,43z /><path class=c33 d=M886,571l6-21-5-34-6,20zM879,559l7,12-5-35-7-11z /><path class=c37 d=M872,526l7,33-5-34-7-34z /><path class=c43 d=M866,492l6,34-5-35-6-34z /><path class=c47 d=M859,480l7,12-5-35-7-12z /><path class=c46 d=M852,500l7-20-5-35-7,20z /><path class=c42 d=M846,542l6-42-5-35-6,42z /><path class=c36 d=M839,583l7-41-5-35-7,42z /><path class=c31 d=M833,602l6-19-5-34-7,19zM826,590l7,12-6-34-6-13z /><path class=c35 d=M819,555l7,35-5-35-7-35z /><path class=c41 d=M813,519l6,36-5-35-7-35z /><path class=c45 d=M806,506l7,13-6-34-6-13zM799,525l7-19-5-34-7,18z /><path class=c41 d=M793,565l6-40-5-35-6,41z /><path class=c35 d=M786,606l7-41-5-34-7,40z /><path class=c30 d=M779,623l7-17-5-35-7,18z /><path class=c31 d=M773,609l6,14-5-34-6-14z /><path class=c35 d=M766,573l7,36-5-34-7-37z /><path class=c41 d=M759,536l7,37-5-35-7-36z /><path class=c45 d=M753,522l6,14-5-34-6-15z /><path class=c46 d=M746,539l7-17-5-35-7,17z /><path class=c41 d=M740,578l6-39-5-35-7,40z /><path class=c36 d=M733,617l7-39-6-34-6,39z /><path class=c31 d=M726,633l7-16-5-34-7,16z /><path class=c32 d=M720,618l6,15-5-34-6-15z /><path class=c36 d=M713,580l7,38-5-34-7-38z /><path class=c43 d=M706,542l7,38-5-34-7-38z /><path class=c47 d=M700,526l6,16-5-34-6-16z /><path class=c48 d=M693,542l7-16-5-34-7,16z /><path class=c44 d=M686,580l7-38-5-34-7,38z /><path class=c38 d=M680,618l6-38-5-34-6,37z /><path class=c34 d=M673,633l7-15-5-35-7,15z /><path class=c35 d=M667,616l6,17-5-35-7-16z /><path class=c39 d=M660,577l7,39-6-34-6-40z /><path class=c46 d=M653,538l7,39-5-35-7-39z /><path class=c51 d=M647,520l6,18-5-35-7-17zM640,535l7-15-6-34-6,14z /><path class=c47 d=M633,571l7-36-5-35-7,37z /><path class=c42 d=M627,608l6-37-5-34-6,36z /><path class=c38 d=M620,621l7-13-5-35-7,14z /><path class=c39 d=M613,603l7,18-5-34-7-18z /><path class=c44 d=M607,563l6,40-5-34-6-41z /><path class=c51 d=M600,522l7,41-5-35-7-40z /><path class=c56 d=M593,504l7,18-5-34-7-19zM587,516l6-12-5-35-6,13z /><path class=c53 d=M580,552l7-36-5-34-7,35z /><path class=c48 d=M574,587l6-35-5-35-7,35z /><path class=c44 d=M567,599l7-12-6-35-6,13z /><path class=c45 d=M560,580l7,19-5-34-7-20z /><path class=c50 d=M554,538l6,42-5-35-6-42z /><path class=c57 d=M547,496l7,42-5-35-7-42z /><path class=c62 d=M540,476l7,20-5-35-7-20z /><path class=c63 d=M534,487l6-11-5-35-6,12z /><path class=c60 d=M527,521l7-34-5-34-7,34z /><path class=c55 d=M520,555l7-34-5-34-7,33z /><path class=c51 d=M514,566l6-11-5-35-6,12z /><path class=c43 d=M1043,438l7,7-5-34-7-7z /><path class=c47 d=M1037,408l6,30-5-34-6-30z /><path class=c52 d=M1030,378l7,30-5-34-7-30z /><path class=c55 d=M1024,370l6,8-5-34-7-8z /><path class=c54 d=M1017,394l7-24-6-34-6,24z /><path class=c49 d=M1010,440l7-46-5-34-7,46z /><path class=c42 d=M1004,486l6-46-5-34-6,46z /><path class=c37 d=M997,509l7-23-5-34-7,23zM990,501l7,8-5-34-7-9z /><path class=c40 d=M984,470l6,31-5-35-6-31z /><path class=c45 d=M977,438l7,32-5-35-7-31z /><path class=c49 d=M970,429l7,9-5-34-7-9z /><path class=c48 d=M964,452l6-23-5-34-6,22z /><path class=c43 d=M957,496l7-44-5-35-7,45z /><path class=c37 d=M950,541l7-45-5-34-7,44z /><path class=c32 d=M944,562l6-21-5-35-6,22z /><path class=c31 d=M937,553l7,9-5-34-7-10z /><path class=c35 d=M931,520l6,33-5-35-7-32z /><path class=c41 d=M924,488l7,32-6-34-6-33z /><path class=c45 d=M917,477l7,11-5-35-7-10z /><path class=c44 d=M911,498l6-21-5-34-6,21z /><path class=c39 d=M904,541l7-43-5-34-7,43z /><path class=c33 d=M897,584l7-43-5-34-7,43z /><path class=c28 d=M891,605l6-21-5-34-6,21zM884,594l7,11-5-34-7-12z /><path class=c32 d=M877,560l7,34-5-35-7-33z /><path class=c38 d=M871,526l6,34-5-34-6-34z /><path class=c42 d=M864,514l7,12-5-34-7-12z /><path class=c41 d=M858,534l6-20-5-34-7,20z /><path class=c37 d=M851,576l7-42-6-34-6,42z /><path class=c30 d=M844,618l7-42-5-34-7,41z /><path class=c26 d=M838,637l6-19-5-35-6,19zM831,624l7,13-5-35-7-12z /><path class=c30 d=M824,589l7,35-5-34-7-35z /><path class=c36 d=M818,554l6,35-5-34-6-36z /><path class=c40 d=M811,541l7,13-5-35-7-13zM804,559l7-18-5-35-7,19z /><path class=c36 d=M798,599l6-40-5-34-6,40z /><path class=c30 d=M791,640l7-41-5-34-7,41z /><path class=c25 d=M784,658l7-18-5-34-7,17zM778,644l6,14-5-35-6-14z /><path class=c30 d=M771,607l7,37-5-35-7-36z /><path class=c36 d=M765,571l6,36-5-34-7-37z /><path class=c40 d=M758,556l7,15-6-35-6-14z /><path class=c41 d=M751,573l7-17-5-34-7,17z /><path class=c36 d=M745,612l6-39-5-34-6,39z /><path class=c30 d=M738,651l7-39-5-34-7,39z /><path class=c26 d=M731,668l7-17-5-34-7,16z /><path class=c27 d=M725,652l6,16-5-35-6-15z /><path class=c31 d=M718,615l7,37-5-34-7-38z /><path class=c38 d=M711,577l7,38-5-35-7-38z /><path class=c42 d=M705,561l6,16-5-35-6-16z /><path class=c43 d=M698,576l7-15-5-35-7,16z /><path class=c39 d=M692,614l6-38-5-34-7,38z /><path class=c33 d=M685,652l7-38-6-34-6,38z /><path class=c29 d=M678,667l7-15-5-34-7,15zM672,650l6,17-5-34-6-17z /><path class=c34 d=M665,611l7,39-5-34-7-39z /><path class=c41 d=M658,572l7,39-5-34-7-39z /><path class=c46 d=M652,555l6,17-5-34-6-18zM645,569l7-14-5-35-7,15z /><path class=c42 d=M638,605l7-36-5-34-7,36z /><path class=c37 d=M632,642l6-37-5-34-6,37z /><path class=c33 d=M625,656l7-14-5-34-7,13z /><path class=c34 d=M618,638l7,18-5-35-7-18z /><path class=c39 d=M612,597l6,41-5-35-6-40z /><path class=c46 d=M605,556l7,41-5-34-7-41z /><path class=c51 d=M599,538l6,18-5-34-7-18zM592,551l7-13-6-34-6,12z /><path class=c48 d=M585,586l7-35-5-35-7,36z /><path class=c42 d=M579,621l6-35-5-34-6,35z /><path class=c39 d=M572,633l7-12-5-34-7,12z /><path class=c40 d=M565,614l7,19-5-34-7-19z /><path class=c45 d=M559,572l6,42-5-34-6-42z /><path class=c52 d=M552,530l7,42-5-34-7-42z /><path class=c57 d=M545,510l7,20-5-34-7-20z /><path class=c58 d=M539,522l6-12-5-34-6,11z /><path class=c55 d=M532,556l7-34-5-35-7,34z /><path class=c50 d=M526,589l6-33-5-35-7,34z /><path class=c46 d=M519,600l7-11-6-34-6,11z /><path class=c40 d=M1049,450l6,7-5-12-7-7z /><path class=c43 d=M1042,420l7,30-6-12-6-30z /><path class=c49 d=M1035,390l7,30-5-12-7-30z /><path class=c52 d=M1029,382l6,8-5-12-6-8z /><path class=c51 d=M1022,406l7-24-5-12-7,24z /><path class=c46 d=M1015,452l7-46-5-12-7,46z /><path class=c39 d=M1009,498l6-46-5-12-6,46z /><path class=c34 d=M1002,521l7-23-5-12-7,23z /><path class=c33 d=M995,512l7,9-5-12-7-8z /><path class=c37 d=M989,481l6,31-5-11-6-31z /><path class=c42 d=M982,450l7,31-5-11-7-32z /><path class=c46 d=M976,441l6,9-5-12-7-9z /><path class=c45 d=M969,463l7-22-6-12-6,23z /><path class=c40 d=M962,508l7-45-5-11-7,44z /><path class=c34 d=M956,552l6-44-5-12-7,45z /><path class=c29 d=M949,574l7-22-6-11-6,21z /><path class=c28 d=M942,564l7,10-5-12-7-9z /><path class=c32 d=M936,532l6,32-5-11-6-33z /><path class=c37 d=M929,499l7,33-5-12-7-32z /><path class=c41 d=M922,489l7,10-5-11-7-11zM916,510l6-21-5-12-6,21z /><path class=c36 d=M909,553l7-43-5-12-7,43z /><path class=c30 d=M902,596l7-43-5-12-7,43z /><path class=c25 d=M896,617l6-21-5-12-6,21zM889,605l7,12-5-12-7-11z /><path class=c28 d=M883,572l6,33-5-11-7-34z /><path class=c34 d=M876,538l7,34-6-12-6-34z /><path class=c38 d=M869,526l7,12-5-12-7-12zM863,546l6-20-5-12-6,20z /><path class=c33 d=M856,588l7-42-5-12-7,42z /><path class=c27 d=M849,629l7-41-5-12-7,42z /><path class=c23 d=M843,648l6-19-5-11-6,19zM836,636l7,12-5-11-7-13z /><path class=c27 d=M829,601l7,35-5-12-7-35z /><path class=c33 d=M823,565l6,36-5-12-6-35z /><path class=c37 d=M816,552l7,13-5-11-7-13zM810,571l6-19-5-11-7,18z /><path class=c33 d=M803,611l7-40-6-12-6,40z /><path class=c26 d=M796,652l7-41-5-12-7,41z /><path class=c22 d=M790,669l6-17-5-12-7,18zM783,655l7,14-6-11-6-14z /><path class=c27 d=M776,619l7,36-5-11-7-37z /><path class=c33 d=M770,582l6,37-5-12-6-36z /><path class=c37 d=M763,568l7,14-5-11-7-15zM756,585l7-17-5-12-7,17z /><path class=c33 d=M750,624l6-39-5-12-6,39z /><path class=c27 d=M743,663l7-39-5-12-7,39z /><path class=c23 d=M736,680l7-17-5-12-7,17zM730,664l6,16-5-12-6-16z /><path class=c28 d=M723,626l7,38-5-12-7-37z /><path class=c34 d=M717,588l6,38-5-11-7-38z /><path class=c39 d=M710,573l7,15-6-11-6-16zM703,588l7-15-5-12-7,15z /><path class=c35 d=M697,626l6-38-5-12-6,38z /><path class=c30 d=M690,664l7-38-5-12-7,38z /><path class=c26 d=M683,679l7-15-5-12-7,15zM677,662l6,17-5-12-6-17z /><path class=c31 d=M670,623l7,39-5-12-7-39z /><path class=c38 d=M663,584l7,39-5-12-7-39z /><path class=c42 d=M657,566l6,18-5-12-6-17z /><path class=c43 d=M650,581l7-15-5-11-7,14z /><path class=c39 d=M644,617l6-36-5-12-7,36z /><path class=c34 d=M637,654l7-37-6-12-6,37z /><path class=c30 d=M630,667l7-13-5-12-7,14z /><path class=c31 d=M624,649l6,18-5-11-7-18z /><path class=c36 d=M617,609l7,40-6-11-6-41z /><path class=c42 d=M610,568l7,41-5-12-7-41z /><path class=c47 d=M604,550l6,18-5-12-6-18z /><path class=c48 d=M597,563l7-13-5-12-7,13z /><path class=c44 d=M590,598l7-35-5-12-7,35z /><path class=c39 d=M584,633l6-35-5-12-6,35z /><path class=c36 d=M577,645l7-12-5-12-7,12z /><path class=c37 d=M570,626l7,19-5-12-7-19z /><path class=c42 d=M564,584l6,42-5-12-6-42z /><path class=c49 d=M557,542l7,42-5-12-7-42z /><path class=c54 d=M551,522l6,20-5-12-7-20z /><path class=c55 d=M544,533l7-11-6-12-6,12z /><path class=c51 d=M537,567l7-34-5-11-7,34z /><path class=c46 d=M531,601l6-34-5-11-6,33z /><path class=c43 d=M524,612l7-11-5-12-7,11z /></g>
<line x1="28.9" y1="168.5" x2="28.9" y2="60.5" stroke="#5a5a5a" stroke-width="0.5"/>
<line x1="28.9" y1="168.5" x2="131.0" y2="220.5" stroke="#5a5a5a" stroke-width="0.5"/>
<line x1="131.0" y1="220.5" x2="263.8" y2="181.7" stroke="#5a5a5a" stroke-width="0.5"/>
<line x1="28.9" y1="168.5" x2="26.7" y2="169.1" stroke="#5a5a5a" stroke-width="0.5"/>
<line x1="28.9" y1="155.0" x2="26.7" y2="155.6" stroke="#5a5a5a" stroke-width="0.5"/>
<line x1="28.9" y1="141.5" x2="26.7" y2="142.1" stroke="#5a5a5a" stroke-width="0.5"/>
<line x1="28.9" y1="128.0" x2="26.7" y2="128.6" stroke="#5a5a5a" stroke-width="0.5"/>
<line x1="28.9" y1="114.5" x2="26.7" y2="115.1" stroke="#5a5a5a" stroke-width="0.5"/>
<line x1="28.9" y1="101.0" x2="26.7" y2="101.6" stroke="#5a5a5a" stroke-width="0.5"/>
<line x1="28.9" y1="87.5" x2="26.7" y2="88.1" stroke="#5a5a5a" stroke-width="0.5"/>
<line x1="28.9" y1="74.0" x2="26.7" y2="74.6" stroke="#5a5a5a" stroke-width="0.5"/>
<line x1="28.9" y1="60.5" x2="26.7" y2="61.1" stroke="#5a5a5a" stroke-width="0.5"/>
<line x1="131.0" y1="220.5" x2="128.9" y2="221.2" stroke="#5a5a5a" stroke-width="0.5"/>
<line x1="80.0" y1="194.5" x2="77.9" y2="195.2" stroke="#5a5a5a" stroke-width="0.5"/>
<line x1="28.9" y1="168.5" x2="26.8" y2="169.2" stroke="#5a5a5a" stroke-width="0.5"/>
<line x1="131.0" y1="220.5" x2="132.9" y2="221.5" stroke="#5a5a5a" stroke-width="0.5"/>
<line x1="197.4" y1="201.1" x2="199.3" y2="202.1" stroke="#5a5a5a" stroke-width="0.5"/>
<line x1="263.8" y1="181.7" x2="265.7" y2="182.7" stroke="#5a5a5a" stroke-width="0.5"/>
</g>
<g font-family='"Liberation Sans", Arial, Helvetica, sans-serif' font-size="5.9" fill="#222" stroke="#222" stroke-width="0.12">
<text x="23.6" y="168.8" text-anchor="end">0</text>
<text x="23.6" y="155.3" text-anchor="end">10</text>
<text x="23.6" y="141.8" text-anchor="end">20</text>
<text x="23.6" y="128.3" text-anchor="end">30</text>
<text x="23.6" y="114.8" text-anchor="end">40</text>
<text x="23.6" y="101.3" text-anchor="end">50</text>
<text x="23.6" y="87.8" text-anchor="end">60</text>
<text x="23.6" y="74.3" text-anchor="end">70</text>
<text x="23.6" y="60.8" text-anchor="end">80</text>
<text x="21.5" y="178.1" text-anchor="middle" >5</text>
<text x="72.1" y="203.5" text-anchor="middle" >0</text>
<text x="122.2" y="228.2" text-anchor="middle" >-5</text>
<text x="138.8" y="229.7" text-anchor="middle" >-5</text>
<text x="204.7" y="210.1" text-anchor="middle" >0</text>
<text x="270.4" y="190.2" text-anchor="middle" >5</text>
<text x="82.0" y="225.3" font-size="6.5">x<tspan dy="2" font-size="5">2</tspan></text>
<text x="180.6" y="228.2" font-size="6.5">x<tspan dy="2" font-size="5">1</tspan></text>
<text transform="translate(10.3,136.6) rotate(-90)" font-size="6.5" textLength="38.8" lengthAdjust="spacing">F9( x<tspan dy="2" font-size="5">1</tspan><tspan dy="-2"> , x</tspan><tspan dy="2" font-size="5">2</tspan><tspan dy="-2"> )</tspan></text>
<text x="145.8" y="19.6" text-anchor="middle" font-weight="bold" font-size="6.75" fill="#000" stroke="none">Parameter space</text>
</g>
<text x="140.2" y="267.4" text-anchor="middle" font-family='"Liberation Serif", "DejaVu Serif", serif' font-size="11.2" fill="#111">(<tspan font-weight="bold">a</tspan>)</text>
<g id="right">
<path d="M338.4 17.5V222.4M361.0 17.5V222.4M383.6 17.5V222.4M406.2 17.5V222.4M428.8 17.5V222.4M451.4 17.5V222.4M474.0 17.5V222.4M496.6 17.5V222.4M519.2 17.5V222.4M316.0 220.2H541.9M316.0 213.2H541.9M316.0 207.2H541.9M316.0 201.8H541.9M316.0 197.0H541.9M316.0 165.5H541.9M316.0 147.0H541.9M316.0 133.9H541.9M316.0 123.7H541.9M316.0 115.4H541.9M316.0 108.4H541.9M316.0 102.4H541.9M316.0 97.0H541.9M316.0 92.2H541.9M316.0 60.7H541.9M316.0 42.2H541.9M316.0 29.1H541.9M316.0 18.9H541.9" stroke="#e9e9e9" stroke-width="0.6" fill="none"/>
<path d="M338.4 222.4v-2M338.4 17.5v2M361.0 222.4v-2M361.0 17.5v2M383.6 222.4v-2M383.6 17.5v2M406.2 222.4v-2M406.2 17.5v2M428.8 222.4v-2M428.8 17.5v2M451.4 222.4v-2M451.4 17.5v2M474.0 222.4v-2M474.0 17.5v2M496.6 222.4v-2M496.6 17.5v2M519.2 222.4v-2M519.2 17.5v2M541.8 222.4v-2M541.8 17.5v2M316.0 220.2h1.1M541.9 220.2h-1.1M316.0 213.2h1.1M541.9 213.2h-1.1M316.0 207.2h1.1M541.9 207.2h-1.1M316.0 201.8h1.1M541.9 201.8h-1.1M316.0 197.0h2.2M541.9 197.0h-2.2M316.0 165.5h1.1M541.9 165.5h-1.1M316.0 147.0h1.1M541.9 147.0h-1.1M316.0 133.9h1.1M541.9 133.9h-1.1M316.0 123.7h1.1M541.9 123.7h-1.1M316.0 115.4h1.1M541.9 115.4h-1.1M316.0 108.4h1.1M541.9 108.4h-1.1M316.0 102.4h1.1M541.9 102.4h-1.1M316.0 97.0h1.1M541.9 97.0h-1.1M316.0 92.2h2.2M541.9 92.2h-2.2M316.0 60.7h1.1M541.9 60.7h-1.1M316.0 42.2h1.1M541.9 42.2h-1.1M316.0 29.1h1.1M541.9 29.1h-1.1M316.0 18.9h1.1M541.9 18.9h-1.1" stroke="#555" stroke-width="0.5" fill="none"/>
<clipPath id="cp"><rect x="315.2" y="17.0" width="227.3" height="206.1"/></clipPath>
<g clip-path="url(#cp)">
<polyline points="316.0,17.5 316.6,26.6 318.0,33.9 319.9,35.4 320.9,41.2 321.7,50.0 322.4,52.3 322.8,62.5 324.6,65.4 326.8,68.4 327.5,77.1 328.5,80.0 330.2,89.7 332.4,101.4 334.6,108.7 336.1,112.3 336.8,117.4 336.9,126.8 342.4,127.2 343.9,128.7 346.8,129.0 349.7,132.6 350.4,138.5 352.6,139.2 353.1,149.4 353.5,150.9 355.2,152.4 355.5,157.5 357.0,159.0 357.3,175.8 364.3,176.1 364.9,183.4 372.6,183.9 373.6,186.4 400.4,186.4 401.1,195.5 405.5,196.0 406.9,196.7 422.3,197.0 423.0,199.1 433.7,199.3 434.7,202.8 443.9,203.2 444.6,215.6 497.0,215.6 501.4,216.6 510.1,216.6 512.3,217.4 518.9,217.4 520.4,218.9 529.9,218.9 532.8,220.9 535.7,222.0 541.8,222.3" fill="none" stroke="#ff1a1a" stroke-width="1.4" stroke-linejoin="round"/>
<polyline points="316.0,17.5 315.9,41.2 317.3,44.8 318.6,51.6 324.6,52.3 326.8,58.1 330.4,59.6 334.8,60.3 335.5,66.9 343.6,67.6 345.8,69.1 347.2,72.0 352.3,75.7 355.3,80.8 356.5,81.6 362.3,82.1 363.1,86.0 365.3,86.8 366.7,90.4 375.5,90.8 376.2,108.7 383.5,109.1 384.2,116.7 391.3,117.0 392.8,118.0 399.4,118.1 400.8,121.6 403.0,122.3 403.8,126.4 409.6,126.7 411.1,132.5 414.7,134.0 416.2,138.6 421.3,139.1 422.7,141.7 430.0,142.2 433.0,144.9 435.9,145.7 438.6,151.1 443.8,152.3 446.7,157.4 450.3,157.8 451.1,159.6 454.0,159.9 455.4,164.7 460.5,166.2 465.7,167.2 467.1,169.8 478.8,170.1 482.4,172.0 489.0,173.0 494.9,173.9 499.2,175.4 505.1,176.0 515.0,176.8 541.8,178.4" fill="none" stroke="#1414e6" stroke-width="1.4" stroke-linejoin="round"/>
<polyline points="316.0,17.5 316.1,33.9 316.6,41.2 318.0,46.3 319.5,47.8 320.9,50.8 324.6,51.6 326.8,57.4 329.0,61.1 334.1,61.4 337.0,65.4 344.3,66.9 345.0,69.8 350.9,70.1 352.3,74.2 356.7,76.4 358.2,83.2 358.7,84.6 363.8,85.0 365.3,90.4 368.2,91.9 370.4,98.4 371.8,109.4 374.0,110.8 376.0,116.6 380.4,117.3 381.1,131.9 383.3,134.1 385.2,136.3 386.4,150.9 396.1,151.7 396.8,153.9 399.7,154.3 400.2,162.6 404.9,163.1 405.6,171.4 412.5,172.1 414.2,178.8 418.6,180.5 420.1,186.8 423.0,187.5 423.6,194.1 431.8,194.5 433.2,195.5 439.1,196.0 441.3,199.3 450.8,199.9 453.0,201.1 461.7,202.2 463.2,203.2 468.3,203.7 470.5,204.6 480.2,204.7 487.5,205.3 502.1,206.1 541.8,206.5" fill="none" stroke="#12d412" stroke-width="1.4" stroke-linejoin="round"/>
</g>
<path d="M316.0 17.5V222.4M541.9 17.5V222.4" fill="none" stroke="#a8a8a8" stroke-width="0.6"/>
<path d="M316.0 17.5H541.9M316.0 222.4H541.9" fill="none" stroke="#666" stroke-width="0.6"/>
<rect x="514.2" y="23.3" width="25.6" height="35.1" fill="#fff" stroke="#666" stroke-width="0.5"/>
<line x1="515.2" x2="522.8" y1="29.8" y2="29.8" stroke="#ff1a1a" stroke-width="1.2"/>
<text transform="translate(523.4,32.8) scale(0.434,1)" font-family='"Liberation Sans", Arial, Helvetica, sans-serif' font-size="8.4" fill="#1a1a1a" stroke="#1a1a1a" stroke-width="0.2">GWO</text>
<line x1="515.2" x2="522.8" y1="40.7" y2="40.7" stroke="#1414e6" stroke-width="1.2"/>
<text transform="translate(523.4,43.7) scale(0.434,1)" font-family='"Liberation Sans", Arial, Helvetica, sans-serif' font-size="8.4" fill="#1a1a1a" stroke="#1a1a1a" stroke-width="0.2">IGWO</text>
<line x1="515.2" x2="522.8" y1="52.2" y2="52.2" stroke="#12d412" stroke-width="1.2"/>
<text transform="translate(523.4,55.2) scale(0.434,1)" font-family='"Liberation Sans", Arial, Helvetica, sans-serif' font-size="8.4" fill="#1a1a1a" stroke="#1a1a1a" stroke-width="0.2">LF-IGWO</text>
<text transform="translate(338.2,236.2) scale(0.435,1)" text-anchor="middle" font-family='"Liberation Sans", Arial, Helvetica, sans-serif' font-size="9.8" fill="#1a1a1a" stroke="#1a1a1a" stroke-width="0.45" >100</text>
<text transform="translate(360.8,236.2) scale(0.435,1)" text-anchor="middle" font-family='"Liberation Sans", Arial, Helvetica, sans-serif' font-size="9.8" fill="#1a1a1a" stroke="#1a1a1a" stroke-width="0.45" >200</text>
<text transform="translate(383.4,236.2) scale(0.435,1)" text-anchor="middle" font-family='"Liberation Sans", Arial, Helvetica, sans-serif' font-size="9.8" fill="#1a1a1a" stroke="#1a1a1a" stroke-width="0.45" >300</text>
<text transform="translate(406.0,236.2) scale(0.435,1)" text-anchor="middle" font-family='"Liberation Sans", Arial, Helvetica, sans-serif' font-size="9.8" fill="#1a1a1a" stroke="#1a1a1a" stroke-width="0.45" >400</text>
<text transform="translate(428.6,236.2) scale(0.435,1)" text-anchor="middle" font-family='"Liberation Sans", Arial, Helvetica, sans-serif' font-size="9.8" fill="#1a1a1a" stroke="#1a1a1a" stroke-width="0.45" >500</text>
<text transform="translate(451.2,236.2) scale(0.435,1)" text-anchor="middle" font-family='"Liberation Sans", Arial, Helvetica, sans-serif' font-size="9.8" fill="#1a1a1a" stroke="#1a1a1a" stroke-width="0.45" >600</text>
<text transform="translate(473.8,236.2) scale(0.435,1)" text-anchor="middle" font-family='"Liberation Sans", Arial, Helvetica, sans-serif' font-size="9.8" fill="#1a1a1a" stroke="#1a1a1a" stroke-width="0.45" >700</text>
<text transform="translate(496.4,236.2) scale(0.435,1)" text-anchor="middle" font-family='"Liberation Sans", Arial, Helvetica, sans-serif' font-size="9.8" fill="#1a1a1a" stroke="#1a1a1a" stroke-width="0.45" >800</text>
<text transform="translate(519.0,236.2) scale(0.435,1)" text-anchor="middle" font-family='"Liberation Sans", Arial, Helvetica, sans-serif' font-size="9.8" fill="#1a1a1a" stroke="#1a1a1a" stroke-width="0.45" >900</text>
<text transform="translate(541.6,236.2) scale(0.435,1)" text-anchor="middle" font-family='"Liberation Sans", Arial, Helvetica, sans-serif' font-size="9.8" fill="#1a1a1a" stroke="#1a1a1a" stroke-width="0.45" >1000</text>
<text transform="translate(429.0,249.3) scale(0.41,1)" text-anchor="middle" font-family='"Liberation Sans", Arial, Helvetica, sans-serif' font-size="10.8" fill="#1a1a1a" stroke="#1a1a1a" stroke-width="0.45" >Iteration</text>
<text transform="translate(428.8,13.1) scale(0.43,1)" text-anchor="middle" font-family='"Liberation Sans", Arial, Helvetica, sans-serif' font-size="10.4" fill="#1a1a1a" stroke="#1a1a1a" stroke-width="0.45" font-weight="bold">Objective space</text>
<text transform="translate(307.0,120) rotate(-90) scale(1.035,0.55)" text-anchor="middle" font-family='"Liberation Sans", Arial, Helvetica, sans-serif' font-size="10" fill="#2a2a2a">Best score obtained so far</text>
<text transform="translate(312.2,97.0) scale(0.43,1)" text-anchor="end" font-family='"Liberation Sans", Arial, Helvetica, sans-serif' font-size="9.2" fill="#444">10</text>
<text transform="translate(312.5,92.4) scale(0.43,1)" font-family='"Liberation Sans", Arial, Helvetica, sans-serif' font-size="7" fill="#444">2</text>
<text transform="translate(312.2,201.8) scale(0.43,1)" text-anchor="end" font-family='"Liberation Sans", Arial, Helvetica, sans-serif' font-size="9.2" fill="#444">10</text>
<text transform="translate(312.5,197.2) scale(0.43,1)" font-family='"Liberation Sans", Arial, Helvetica, sans-serif' font-size="7" fill="#444">1</text>
</g>
<text x="425.2" y="267.4" text-anchor="middle" font-family='"Liberation Serif", "DejaVu Serif", serif' font-size="11.2" fill="#111">(<tspan font-weight="bold">b</tspan>)</text>
</svg></body></html>
